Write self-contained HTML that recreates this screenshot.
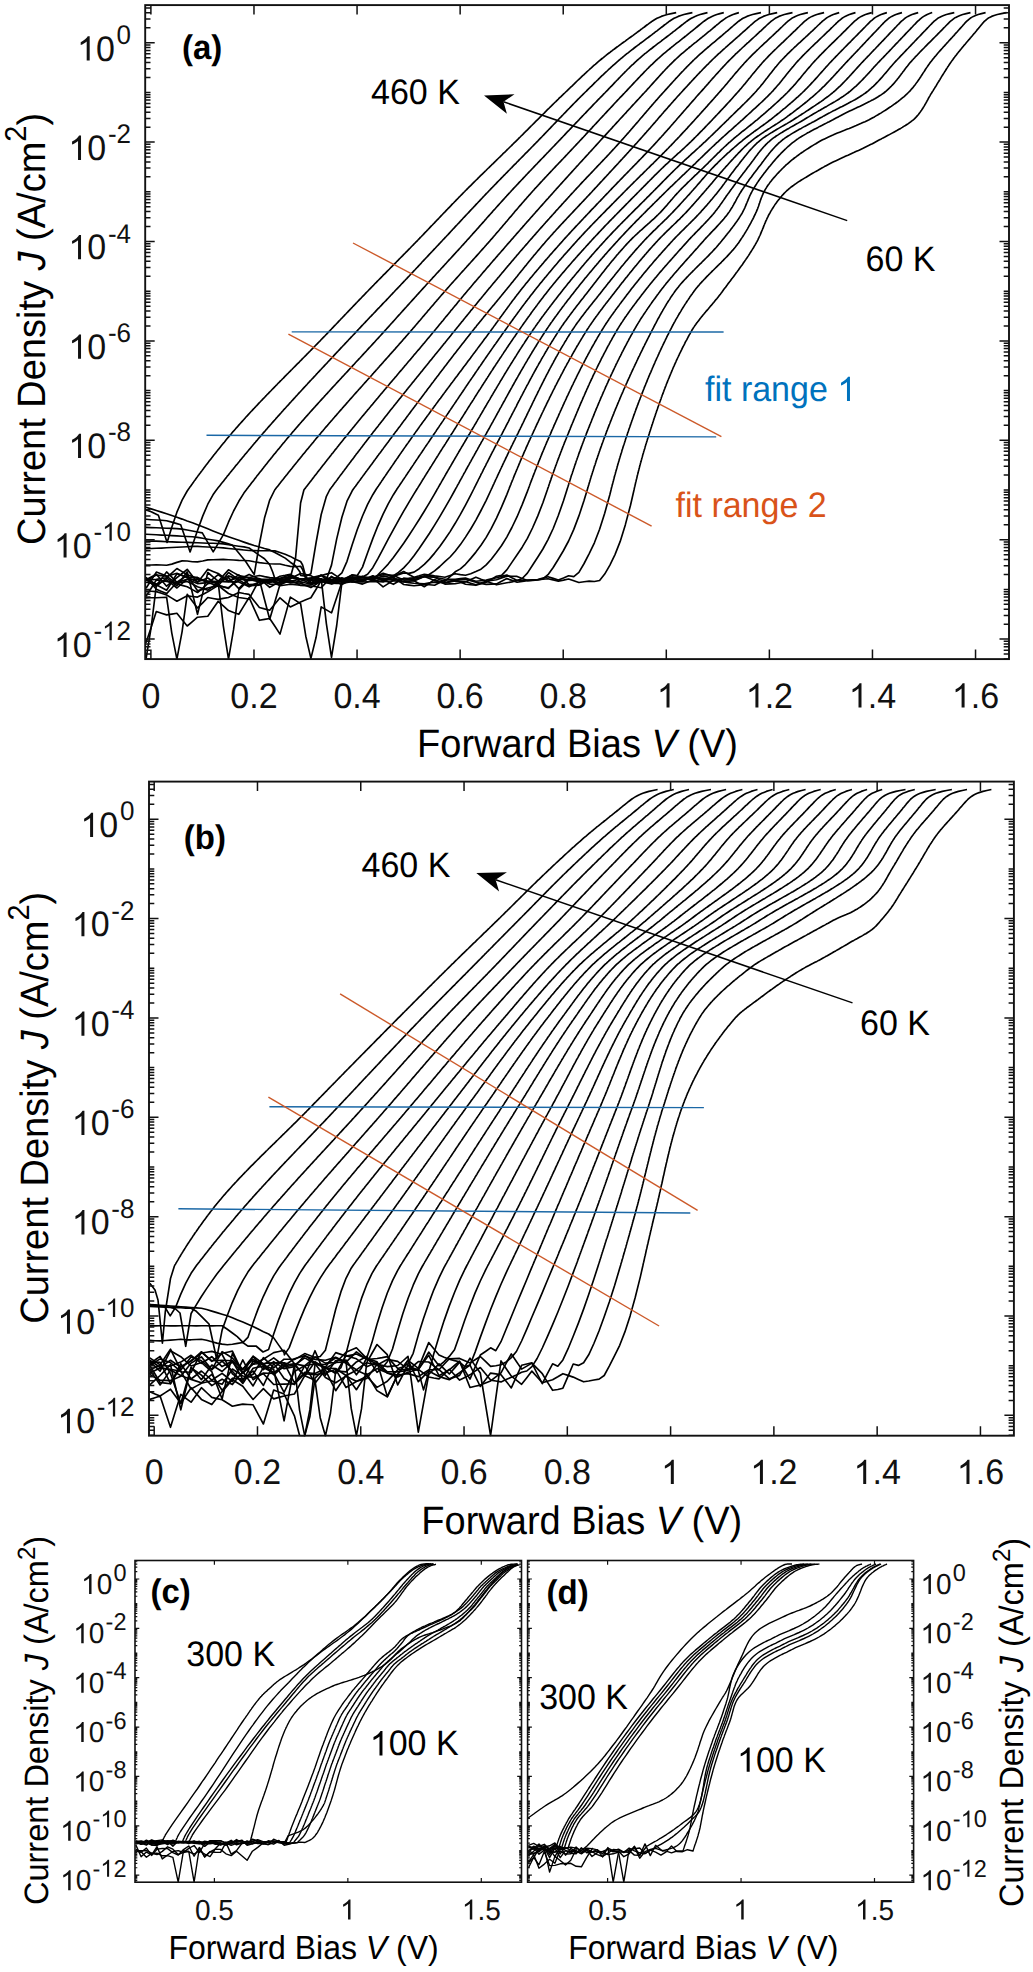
<!DOCTYPE html><html><head><meta charset="utf-8"><style>html,body{margin:0;padding:0;background:#fff;}svg{display:block}</style></head><body>
<svg width="1033" height="1972" viewBox="0 0 1033 1972" font-family='"Liberation Sans", sans-serif' fill="#000" text-rendering="geometricPrecision" style="font-kerning:none;white-space:pre">
<rect width="1033" height="1972" fill="#fff"/>
<defs><clipPath id="ca"><rect x="145.2" y="4.1" width="863.8" height="656"/></clipPath><clipPath id="cb"><rect x="149" y="780.6" width="864.9" height="656.1"/></clipPath><clipPath id="cc"><rect x="135" y="1559.5" width="386.5" height="323.7"/></clipPath><clipPath id="cd"><rect x="527.6" y="1559.5" width="386" height="323.7"/></clipPath></defs>
<g clip-path="url(#ca)">
<g fill="none" stroke="#000" stroke-width="1.65" stroke-linejoin="round">
<path d="M146 510L151.2 511.7L156.3 514.2L158.4 515.2L167.1 542.5L171.8 527.2L176.9 512.2L182.1 500.1L187.2 491L187.9 490L188.6 489L189.3 488.1L189.9 487.1L190.6 486.2L191.3 485.2L192 484.3L192.7 483.3L193.4 482.3L194 481.4L194.7 480.4L195.4 479.5L196.1 478.5L196.8 477.6L197.5 476.6L198.2 475.6L198.9 474.7L199.6 473.7L200.4 472.8L201.1 471.8L201.8 470.9L202.5 469.9L203.2 469L203.9 468L204.7 467L205.4 466.1L206.1 465.1L206.8 464.2L207.6 463.2L208.3 462.3L209 461.3L209.8 460.3L210.5 459.4L211.3 458.4L212 457.5L212.8 456.5L213.5 455.6L214.3 454.6L215 453.6L215.8 452.7L216.5 451.7L217.3 450.8L218.1 449.8L218.8 448.9L219.6 447.9L220.4 446.9L221.1 446L221.9 445L222.7 444.1L223.5 443.1L224.3 442.2L225.1 441.2L225.8 440.3L226.6 439.3L227.4 438.3L228.2 437.4L229 436.4L229.8 435.5L230.7 434.5L231.5 433.6L232.3 432.6L233.1 431.6L233.9 430.7L234.8 429.7L235.6 428.8L236.4 427.8L237.3 426.9L238.1 425.9L239 424.9L239.8 424L240.7 423L241.5 422.1L242.4 421.1L243.2 420.2L244.1 419.2L245 418.2L245.8 417.3L246.7 416.3L247.6 415.4L248.5 414.4L249.3 413.5L250.2 412.5L251.1 411.5L252 410.6L252.9 409.6L253.8 408.7L254.7 407.7L255.6 406.8L256.5 405.8L257.4 404.9L258.3 403.9L259.2 402.9L260.1 402L261 401L261.9 400.1L262.8 399.1L263.8 398.2L264.7 397.2L265.6 396.2L266.5 395.3L267.4 394.3L268.4 393.4L269.3 392.4L270.2 391.5L271.2 390.5L272.1 389.5L273 388.6L274 387.6L274.9 386.7L275.8 385.7L276.8 384.8L277.7 383.8L278.6 382.8L279.6 381.9L280.5 380.9L281.5 380L282.4 379L283.4 378.1L284.3 377.1L285.2 376.2L286.2 375.2L287.1 374.2L288.1 373.3L289 372.3L290 371.4L290.9 370.4L291.9 369.5L292.8 368.5L293.8 367.5L294.7 366.6L295.7 365.6L296.6 364.7L297.6 363.7L298.5 362.8L299.5 361.8L300.4 360.8L301.4 359.9L302.3 358.9L303.2 358L304.2 357L305.1 356.1L306.1 355.1L307 354.1L308 353.2L308.9 352.2L309.9 351.3L310.8 350.3L311.7 349.4L312.7 348.4L313.6 347.4L314.6 346.5L315.5 345.5L316.4 344.6L317.4 343.6L318.3 342.7L319.2 341.7L320.2 340.8L321.1 339.8L322 338.8L322.9 337.9L323.9 336.9L324.8 336L325.7 335L326.6 334.1L327.5 333.1L328.5 332.1L329.4 331.2L330.3 330.2L331.2 329.3L332.1 328.3L333 327.4L333.9 326.4L334.9 325.4L335.8 324.5L336.7 323.5L337.6 322.6L338.5 321.6L339.4 320.7L340.3 319.7L341.2 318.7L342.2 317.8L343.1 316.8L344 315.9L344.9 314.9L345.8 314L346.7 313L347.6 312.1L348.5 311.1L349.5 310.1L350.4 309.2L351.3 308.2L352.2 307.3L353.1 306.3L354 305.4L355 304.4L355.9 303.4L356.8 302.5L357.7 301.5L358.6 300.6L359.5 299.6L360.5 298.7L361.4 297.7L362.3 296.7L363.2 295.8L364.2 294.8L365.1 293.9L366 292.9L366.9 292L367.9 291L368.8 290L369.7 289.1L370.7 288.1L371.6 287.2L372.5 286.2L373.5 285.3L374.4 284.3L375.3 283.3L376.3 282.4L377.2 281.4L378.1 280.5L379.1 279.5L380 278.6L381 277.6L381.9 276.7L382.8 275.7L383.8 274.7L384.7 273.8L385.7 272.8L386.6 271.9L387.6 270.9L388.5 270L389.5 269L390.4 268L391.3 267.1L392.3 266.1L393.2 265.2L394.2 264.2L395.1 263.3L396.1 262.3L397 261.3L398 260.4L398.9 259.4L399.8 258.5L400.8 257.5L401.7 256.6L402.7 255.6L403.6 254.6L404.6 253.7L405.5 252.7L406.4 251.8L407.4 250.8L408.3 249.9L409.3 248.9L410.2 248L411.1 247L412.1 246L413 245.1L413.9 244.1L414.9 243.2L415.8 242.2L416.7 241.3L417.7 240.3L418.6 239.3L419.5 238.4L420.4 237.4L421.4 236.5L422.3 235.5L423.2 234.6L424.1 233.6L425 232.6L426 231.7L426.9 230.7L427.8 229.8L428.7 228.8L429.6 227.9L430.5 226.9L431.4 225.9L432.4 225L433.3 224L434.2 223.1L435.1 222.1L436 221.2L436.9 220.2L437.8 219.3L438.8 218.3L439.7 217.3L440.6 216.4L441.5 215.4L442.4 214.5L443.3 213.5L444.2 212.6L445.2 211.6L446.1 210.6L447 209.7L447.9 208.7L448.8 207.8L449.8 206.8L450.7 205.9L451.6 204.9L452.5 203.9L453.5 203L454.4 202L455.3 201.1L456.2 200.1L457.2 199.2L458.1 198.2L459 197.2L460 196.3L460.9 195.3L461.9 194.4L462.8 193.4L463.7 192.5L464.7 191.5L465.6 190.5L466.6 189.6L467.5 188.6L468.5 187.7L469.5 186.7L470.4 185.8L471.4 184.8L472.3 183.9L473.3 182.9L474.3 181.9L475.2 181L476.2 180L477.2 179.1L478.1 178.1L479.1 177.2L480.1 176.2L481.1 175.2L482 174.3L483 173.3L484 172.4L485 171.4L486 170.5L486.9 169.5L487.9 168.5L488.9 167.6L489.9 166.6L490.9 165.7L491.8 164.7L492.8 163.8L493.8 162.8L494.8 161.8L495.8 160.9L496.8 159.9L497.7 159L498.7 158L499.7 157.1L500.7 156.1L501.7 155.2L502.6 154.2L503.6 153.2L504.6 152.3L505.6 151.3L506.6 150.4L507.5 149.4L508.5 148.5L509.5 147.5L510.5 146.5L511.5 145.6L512.4 144.6L513.4 143.7L514.4 142.7L515.3 141.8L516.3 140.8L517.3 139.8L518.3 138.9L519.2 137.9L520.2 137L521.1 136L522.1 135.1L523.1 134.1L524 133.1L525 132.2L526 131.2L526.9 130.3L527.9 129.3L528.8 128.4L529.8 127.4L530.7 126.4L531.7 125.5L532.7 124.5L533.6 123.6L534.6 122.6L535.5 121.7L536.5 120.7L537.4 119.8L538.4 118.8L539.4 117.8L540.3 116.9L541.3 115.9L542.2 115L543.2 114L544.2 113.1L545.1 112.1L546.1 111.1L547 110.2L548 109.2L549 108.3L549.9 107.3L550.9 106.4L551.9 105.4L552.9 104.4L553.8 103.5L554.8 102.5L555.8 101.6L556.8 100.6L557.8 99.7L558.7 98.7L559.7 97.7L560.7 96.8L561.7 95.8L562.7 94.9L563.7 93.9L564.7 93L565.7 92L566.7 91.1L567.7 90.1L568.7 89.1L569.7 88.2L570.7 87.2L571.7 86.3L572.7 85.3L573.7 84.4L574.7 83.4L575.7 82.4L576.6 81.5L577.6 80.5L578.6 79.6L579.7 78.6L580.7 77.7L581.7 76.7L582.7 75.7L583.7 74.8L584.7 73.8L585.8 72.9L586.8 71.9L587.8 71L588.9 70L589.9 69L591 68.1L592.1 67.1L593.1 66.2L594.2 65.2L595.3 64.3L596.4 63.3L597.5 62.3L598.6 61.4L599.8 60.4L600.9 59.5L602.1 58.5L603.3 57.6L604.5 56.6L605.7 55.7L606.9 54.7L608.1 53.7L609.4 52.8L610.6 51.8L611.9 50.9L613.1 49.9L614.4 49L615.7 48L617 47L618.3 46.1L619.6 45.1L620.9 44.2L622.2 43.2L623.5 42.3L624.9 41.3L626.2 40.3L627.5 39.4L628.8 38.4L630.1 37.5L631.5 36.5L632.8 35.6L634.1 34.6L635.4 33.6L636.7 32.7L638 31.7L639.3 30.8L640.5 29.8L641.8 28.9L643.1 27.9L644.4 27L645.6 26L646.9 25L648.2 24.1L649.5 23.1L650.8 22.2L652.2 21.2L653.7 20.3L655.3 19.3L657 18.3L659 17.4L661.3 16.4L664 15.5L667.3 14.5L671.3 13.6L676.2 12.6"/>
<path d="M146 519.3L151.2 519.7L156.3 520L161.5 520.3L166.6 520.7L171.8 522.1L176.9 523.6L180.7 524.7L190.1 552L197.5 530.4L202.7 516.1L207.8 504.2L213 494.8L216.4 490L217.2 489L217.9 488.1L218.7 487.1L219.4 486.2L220.2 485.2L220.9 484.3L221.7 483.3L222.5 482.3L223.2 481.4L224 480.4L224.7 479.5L225.5 478.5L226.3 477.6L227 476.6L227.8 475.6L228.6 474.7L229.3 473.7L230.1 472.8L230.9 471.8L231.7 470.9L232.4 469.9L233.2 469L234 468L234.8 467L235.5 466.1L236.3 465.1L237.1 464.2L237.9 463.2L238.7 462.3L239.5 461.3L240.2 460.3L241 459.4L241.8 458.4L242.6 457.5L243.4 456.5L244.2 455.6L245 454.6L245.8 453.6L246.6 452.7L247.4 451.7L248.2 450.8L249 449.8L249.8 448.9L250.6 447.9L251.4 446.9L252.2 446L253 445L253.8 444.1L254.6 443.1L255.4 442.2L256.2 441.2L257.1 440.3L257.9 439.3L258.7 438.3L259.5 437.4L260.3 436.4L261.2 435.5L262 434.5L262.8 433.6L263.6 432.6L264.5 431.6L265.3 430.7L266.1 429.7L267 428.8L267.8 427.8L268.6 426.9L269.5 425.9L270.3 424.9L271.2 424L272 423L272.8 422.1L273.7 421.1L274.5 420.2L275.4 419.2L276.2 418.2L277.1 417.3L277.9 416.3L278.8 415.4L279.7 414.4L280.5 413.5L281.4 412.5L282.2 411.5L283.1 410.6L283.9 409.6L284.8 408.7L285.7 407.7L286.5 406.8L287.4 405.8L288.3 404.9L289.1 403.9L290 402.9L290.9 402L291.7 401L292.6 400.1L293.5 399.1L294.4 398.2L295.2 397.2L296.1 396.2L297 395.3L297.9 394.3L298.7 393.4L299.6 392.4L300.5 391.5L301.4 390.5L302.3 389.5L303.1 388.6L304 387.6L304.9 386.7L305.8 385.7L306.7 384.8L307.6 383.8L308.4 382.8L309.3 381.9L310.2 380.9L311.1 380L312 379L312.9 378.1L313.8 377.1L314.7 376.2L315.6 375.2L316.4 374.2L317.3 373.3L318.2 372.3L319.1 371.4L320 370.4L320.9 369.5L321.8 368.5L322.7 367.5L323.6 366.6L324.5 365.6L325.4 364.7L326.3 363.7L327.2 362.8L328.1 361.8L329 360.8L329.9 359.9L330.8 358.9L331.7 358L332.5 357L333.4 356.1L334.3 355.1L335.2 354.1L336.1 353.2L337 352.2L337.9 351.3L338.8 350.3L339.7 349.4L340.6 348.4L341.5 347.4L342.4 346.5L343.3 345.5L344.2 344.6L345.1 343.6L346 342.7L346.9 341.7L347.8 340.8L348.7 339.8L349.6 338.8L350.5 337.9L351.4 336.9L352.3 336L353.2 335L354.1 334.1L355 333.1L355.9 332.1L356.8 331.2L357.7 330.2L358.6 329.3L359.5 328.3L360.4 327.4L361.3 326.4L362.2 325.4L363.1 324.5L364 323.5L364.9 322.6L365.8 321.6L366.7 320.7L367.6 319.7L368.5 318.7L369.4 317.8L370.3 316.8L371.3 315.9L372.2 314.9L373.1 314L374 313L374.9 312.1L375.8 311.1L376.7 310.1L377.6 309.2L378.6 308.2L379.5 307.3L380.4 306.3L381.3 305.4L382.2 304.4L383.1 303.4L384 302.5L385 301.5L385.9 300.6L386.8 299.6L387.7 298.7L388.6 297.7L389.5 296.7L390.4 295.8L391.3 294.8L392.2 293.9L393.1 292.9L394 292L394.9 291L395.8 290L396.7 289.1L397.7 288.1L398.6 287.2L399.5 286.2L400.4 285.3L401.3 284.3L402.2 283.3L403.1 282.4L404 281.4L404.9 280.5L405.8 279.5L406.7 278.6L407.6 277.6L408.5 276.7L409.4 275.7L410.3 274.7L411.2 273.8L412.1 272.8L413 271.9L413.9 270.9L414.8 270L415.7 269L416.6 268L417.5 267.1L418.4 266.1L419.3 265.2L420.2 264.2L421.1 263.3L421.9 262.3L422.8 261.3L423.7 260.4L424.6 259.4L425.5 258.5L426.4 257.5L427.3 256.6L428.2 255.6L429.1 254.6L430 253.7L430.9 252.7L431.8 251.8L432.7 250.8L433.6 249.9L434.5 248.9L435.4 248L436.3 247L437.2 246L438.1 245.1L439 244.1L439.9 243.2L440.8 242.2L441.7 241.3L442.6 240.3L443.5 239.3L444.4 238.4L445.3 237.4L446.2 236.5L447.1 235.5L448 234.6L448.9 233.6L449.8 232.6L450.6 231.7L451.5 230.7L452.4 229.8L453.3 228.8L454.2 227.9L455.1 226.9L456 225.9L456.9 225L457.8 224L458.7 223.1L459.6 222.1L460.5 221.2L461.3 220.2L462.2 219.3L463.1 218.3L464 217.3L464.9 216.4L465.8 215.4L466.7 214.5L467.6 213.5L468.5 212.6L469.4 211.6L470.3 210.6L471.2 209.7L472.1 208.7L473 207.8L473.9 206.8L474.8 205.9L475.7 204.9L476.6 203.9L477.5 203L478.4 202L479.3 201.1L480.2 200.1L481.1 199.2L482 198.2L482.9 197.2L483.8 196.3L484.7 195.3L485.6 194.4L486.5 193.4L487.5 192.5L488.4 191.5L489.3 190.5L490.2 189.6L491.1 188.6L492.1 187.7L493 186.7L493.9 185.8L494.8 184.8L495.8 183.9L496.7 182.9L497.6 181.9L498.5 181L499.5 180L500.4 179.1L501.3 178.1L502.3 177.2L503.2 176.2L504.2 175.2L505.1 174.3L506 173.3L507 172.4L507.9 171.4L508.8 170.5L509.8 169.5L510.7 168.5L511.7 167.6L512.6 166.6L513.5 165.7L514.5 164.7L515.4 163.8L516.4 162.8L517.3 161.8L518.3 160.9L519.2 159.9L520.1 159L521.1 158L522 157.1L523 156.1L523.9 155.2L524.8 154.2L525.8 153.2L526.7 152.3L527.7 151.3L528.6 150.4L529.6 149.4L530.5 148.5L531.4 147.5L532.4 146.5L533.3 145.6L534.2 144.6L535.2 143.7L536.1 142.7L537 141.8L538 140.8L538.9 139.8L539.8 138.9L540.8 137.9L541.7 137L542.6 136L543.5 135.1L544.4 134.1L545.4 133.1L546.3 132.2L547.2 131.2L548.1 130.3L549 129.3L550 128.4L550.9 127.4L551.8 126.4L552.7 125.5L553.6 124.5L554.5 123.6L555.5 122.6L556.4 121.7L557.3 120.7L558.2 119.8L559.1 118.8L560 117.8L561 116.9L561.9 115.9L562.8 115L563.7 114L564.6 113.1L565.6 112.1L566.5 111.1L567.4 110.2L568.3 109.2L569.3 108.3L570.2 107.3L571.1 106.4L572.1 105.4L573 104.4L573.9 103.5L574.9 102.5L575.8 101.6L576.8 100.6L577.7 99.7L578.7 98.7L579.6 97.7L580.6 96.8L581.5 95.8L582.5 94.9L583.5 93.9L584.4 93L585.4 92L586.4 91.1L587.3 90.1L588.3 89.1L589.3 88.2L590.2 87.2L591.2 86.3L592.2 85.3L593.2 84.4L594.1 83.4L595.1 82.4L596.1 81.5L597.1 80.5L598.1 79.6L599 78.6L600 77.7L601 76.7L602 75.7L603 74.8L604 73.8L605 72.9L606.1 71.9L607.1 71L608.1 70L609.1 69L610.2 68.1L611.2 67.1L612.3 66.2L613.4 65.2L614.4 64.3L615.5 63.3L616.6 62.3L617.7 61.4L618.8 60.4L619.9 59.5L621 58.5L622.2 57.6L623.3 56.6L624.5 55.7L625.7 54.7L626.9 53.7L628.1 52.8L629.3 51.8L630.5 50.9L631.8 49.9L633 49L634.2 48L635.5 47L636.7 46.1L638 45.1L639.3 44.2L640.5 43.2L641.8 42.3L643.1 41.3L644.4 40.3L645.6 39.4L646.9 38.4L648.2 37.5L649.5 36.5L650.7 35.6L652 34.6L653.2 33.6L654.5 32.7L655.8 31.7L657 30.8L658.2 29.8L659.5 28.9L660.7 27.9L661.9 27L663.2 26L664.4 25L665.7 24.1L666.9 23.1L668.2 22.2L669.5 21.2L670.9 20.3L672.5 19.3L674.1 18.3L676 17.4L678.2 16.4L680.8 15.5L683.9 14.5L687.7 13.6L692.4 12.6"/>
<path d="M146 527.4L151.2 527.6L156.3 527.8L161.5 528L166.6 528.2L171.8 528.4L176.9 528.6L182.1 529.1L187.2 530L192.4 531L197.5 532L202.3 532.9L213.2 551.8L223.3 534.9L228.5 522.2L233.6 511L238.8 501.3L243.9 493.1L246.2 490L246.9 489L247.7 488.1L248.4 487.1L249.1 486.2L249.9 485.2L250.6 484.3L251.3 483.3L252.1 482.3L252.8 481.4L253.6 480.4L254.3 479.5L255 478.5L255.8 477.6L256.5 476.6L257.3 475.6L258 474.7L258.8 473.7L259.5 472.8L260.3 471.8L261 470.9L261.8 469.9L262.5 469L263.3 468L264 467L264.8 466.1L265.6 465.1L266.3 464.2L267.1 463.2L267.8 462.3L268.6 461.3L269.4 460.3L270.1 459.4L270.9 458.4L271.7 457.5L272.5 456.5L273.2 455.6L274 454.6L274.8 453.6L275.6 452.7L276.3 451.7L277.1 450.8L277.9 449.8L278.7 448.9L279.5 447.9L280.3 446.9L281.1 446L281.8 445L282.6 444.1L283.4 443.1L284.2 442.2L285 441.2L285.8 440.3L286.6 439.3L287.4 438.3L288.2 437.4L289 436.4L289.9 435.5L290.7 434.5L291.5 433.6L292.3 432.6L293.1 431.6L293.9 430.7L294.7 429.7L295.6 428.8L296.4 427.8L297.2 426.9L298 425.9L298.9 424.9L299.7 424L300.5 423L301.4 422.1L302.2 421.1L303.1 420.2L303.9 419.2L304.7 418.2L305.6 417.3L306.4 416.3L307.3 415.4L308.1 414.4L309 413.5L309.8 412.5L310.7 411.5L311.5 410.6L312.4 409.6L313.3 408.7L314.1 407.7L315 406.8L315.8 405.8L316.7 404.9L317.6 403.9L318.4 402.9L319.3 402L320.2 401L321 400.1L321.9 399.1L322.8 398.2L323.7 397.2L324.5 396.2L325.4 395.3L326.3 394.3L327.2 393.4L328 392.4L328.9 391.5L329.8 390.5L330.7 389.5L331.5 388.6L332.4 387.6L333.3 386.7L334.2 385.7L335.1 384.8L336 383.8L336.8 382.8L337.7 381.9L338.6 380.9L339.5 380L340.4 379L341.3 378.1L342.1 377.1L343 376.2L343.9 375.2L344.8 374.2L345.7 373.3L346.6 372.3L347.5 371.4L348.4 370.4L349.2 369.5L350.1 368.5L351 367.5L351.9 366.6L352.8 365.6L353.7 364.7L354.6 363.7L355.4 362.8L356.3 361.8L357.2 360.8L358.1 359.9L359 358.9L359.9 358L360.8 357L361.7 356.1L362.5 355.1L363.4 354.1L364.3 353.2L365.2 352.2L366.1 351.3L367 350.3L367.8 349.4L368.7 348.4L369.6 347.4L370.5 346.5L371.4 345.5L372.2 344.6L373.1 343.6L374 342.7L374.9 341.7L375.7 340.8L376.6 339.8L377.5 338.8L378.4 337.9L379.2 336.9L380.1 336L381 335L381.8 334.1L382.7 333.1L383.6 332.1L384.4 331.2L385.3 330.2L386.2 329.3L387 328.3L387.9 327.4L388.8 326.4L389.6 325.4L390.5 324.5L391.3 323.5L392.2 322.6L393.1 321.6L393.9 320.7L394.8 319.7L395.7 318.7L396.5 317.8L397.4 316.8L398.2 315.9L399.1 314.9L400 314L400.8 313L401.7 312.1L402.5 311.1L403.4 310.1L404.3 309.2L405.1 308.2L406 307.3L406.9 306.3L407.7 305.4L408.6 304.4L409.4 303.4L410.3 302.5L411.2 301.5L412 300.6L412.9 299.6L413.8 298.7L414.6 297.7L415.5 296.7L416.4 295.8L417.2 294.8L418.1 293.9L419 292.9L419.8 292L420.7 291L421.6 290L422.4 289.1L423.3 288.1L424.2 287.2L425.1 286.2L425.9 285.3L426.8 284.3L427.7 283.3L428.6 282.4L429.4 281.4L430.3 280.5L431.2 279.5L432.1 278.6L432.9 277.6L433.8 276.7L434.7 275.7L435.6 274.7L436.4 273.8L437.3 272.8L438.2 271.9L439.1 270.9L440 270L440.8 269L441.7 268L442.6 267.1L443.5 266.1L444.3 265.2L445.2 264.2L446.1 263.3L447 262.3L447.9 261.3L448.7 260.4L449.6 259.4L450.5 258.5L451.4 257.5L452.2 256.6L453.1 255.6L454 254.6L454.9 253.7L455.7 252.7L456.6 251.8L457.5 250.8L458.4 249.9L459.2 248.9L460.1 248L461 247L461.8 246L462.7 245.1L463.6 244.1L464.4 243.2L465.3 242.2L466.2 241.3L467 240.3L467.9 239.3L468.8 238.4L469.6 237.4L470.5 236.5L471.3 235.5L472.2 234.6L473 233.6L473.9 232.6L474.8 231.7L475.6 230.7L476.5 229.8L477.3 228.8L478.2 227.9L479 226.9L479.9 225.9L480.7 225L481.6 224L482.4 223.1L483.3 222.1L484.1 221.2L484.9 220.2L485.8 219.3L486.6 218.3L487.5 217.3L488.3 216.4L489.2 215.4L490 214.5L490.9 213.5L491.7 212.6L492.6 211.6L493.4 210.6L494.3 209.7L495.2 208.7L496 207.8L496.9 206.8L497.7 205.9L498.6 204.9L499.4 203.9L500.3 203L501.2 202L502 201.1L502.9 200.1L503.8 199.2L504.6 198.2L505.5 197.2L506.4 196.3L507.2 195.3L508.1 194.4L509 193.4L509.9 192.5L510.8 191.5L511.6 190.5L512.5 189.6L513.4 188.6L514.3 187.7L515.2 186.7L516.1 185.8L517 184.8L517.9 183.9L518.8 182.9L519.7 181.9L520.6 181L521.5 180L522.4 179.1L523.3 178.1L524.2 177.2L525.1 176.2L526 175.2L526.9 174.3L527.8 173.3L528.7 172.4L529.6 171.4L530.6 170.5L531.5 169.5L532.4 168.5L533.3 167.6L534.2 166.6L535.1 165.7L536 164.7L537 163.8L537.9 162.8L538.8 161.8L539.7 160.9L540.6 159.9L541.5 159L542.5 158L543.4 157.1L544.3 156.1L545.2 155.2L546.1 154.2L547 153.2L548 152.3L548.9 151.3L549.8 150.4L550.7 149.4L551.6 148.5L552.5 147.5L553.5 146.5L554.4 145.6L555.3 144.6L556.2 143.7L557.1 142.7L558 141.8L558.9 140.8L559.9 139.8L560.8 138.9L561.7 137.9L562.6 137L563.5 136L564.4 135.1L565.3 134.1L566.2 133.1L567.1 132.2L568.1 131.2L569 130.3L569.9 129.3L570.8 128.4L571.7 127.4L572.6 126.4L573.5 125.5L574.4 124.5L575.3 123.6L576.2 122.6L577.2 121.7L578.1 120.7L579 119.8L579.9 118.8L580.8 117.8L581.7 116.9L582.6 115.9L583.5 115L584.4 114L585.4 113.1L586.3 112.1L587.2 111.1L588.1 110.2L589 109.2L589.9 108.3L590.9 107.3L591.8 106.4L592.7 105.4L593.6 104.4L594.5 103.5L595.5 102.5L596.4 101.6L597.3 100.6L598.2 99.7L599.2 98.7L600.1 97.7L601 96.8L602 95.8L602.9 94.9L603.8 93.9L604.8 93L605.7 92L606.6 91.1L607.6 90.1L608.5 89.1L609.4 88.2L610.3 87.2L611.2 86.3L612.2 85.3L613.1 84.4L614 83.4L614.9 82.4L615.8 81.5L616.7 80.5L617.7 79.6L618.6 78.6L619.5 77.7L620.4 76.7L621.3 75.7L622.3 74.8L623.2 73.8L624.2 72.9L625.1 71.9L626.1 71L627 70L628 69L629 68.1L629.9 67.1L630.9 66.2L631.9 65.2L633 64.3L634 63.3L635 62.3L636.1 61.4L637.1 60.4L638.2 59.5L639.3 58.5L640.4 57.6L641.5 56.6L642.6 55.7L643.8 54.7L644.9 53.7L646.1 52.8L647.3 51.8L648.5 50.9L649.7 49.9L650.9 49L652.2 48L653.4 47L654.6 46.1L655.9 45.1L657.1 44.2L658.4 43.2L659.6 42.3L660.9 41.3L662.1 40.3L663.4 39.4L664.7 38.4L665.9 37.5L667.2 36.5L668.4 35.6L669.7 34.6L670.9 33.6L672.2 32.7L673.4 31.7L674.6 30.8L675.8 29.8L677 28.9L678.3 27.9L679.5 27L680.7 26L681.9 25L683.1 24.1L684.3 23.1L685.6 22.2L686.9 21.2L688.2 20.3L689.7 19.3L691.3 18.3L693 17.4L695 16.4L697.3 15.5L700.1 14.5L703.5 13.6L707.5 12.6"/>
<path d="M146 534.2L151.2 534.5L156.3 534.8L161.5 535.1L166.6 535.3L171.8 535.6L176.9 535.9L182.1 536.2L187.2 536.5L192.4 536.8L197.5 537.4L202.7 538.3L207.8 539.2L213 540L218.2 540.9L223.3 542.4L228.5 543.9L232.2 545.1L245.7 561.5L254.2 574.6L259.4 544L264.5 518.1L269.7 500.1L274.7 490L275.5 489L276.2 488.1L277 487.1L277.7 486.2L278.5 485.2L279.2 484.3L280 483.3L280.7 482.3L281.5 481.4L282.2 480.4L283 479.5L283.8 478.5L284.5 477.6L285.3 476.6L286 475.6L286.8 474.7L287.6 473.7L288.3 472.8L289.1 471.8L289.9 470.9L290.6 469.9L291.4 469L292.2 468L292.9 467L293.7 466.1L294.5 465.1L295.2 464.2L296 463.2L296.8 462.3L297.6 461.3L298.3 460.3L299.1 459.4L299.9 458.4L300.7 457.5L301.4 456.5L302.2 455.6L303 454.6L303.8 453.6L304.6 452.7L305.4 451.7L306.1 450.8L306.9 449.8L307.7 448.9L308.5 447.9L309.3 446.9L310.1 446L310.9 445L311.7 444.1L312.5 443.1L313.3 442.2L314 441.2L314.8 440.3L315.6 439.3L316.4 438.3L317.2 437.4L318 436.4L318.8 435.5L319.7 434.5L320.5 433.6L321.3 432.6L322.1 431.6L322.9 430.7L323.7 429.7L324.5 428.8L325.3 427.8L326.1 426.9L327 425.9L327.8 424.9L328.6 424L329.4 423L330.3 422.1L331.1 421.1L331.9 420.2L332.7 419.2L333.6 418.2L334.4 417.3L335.2 416.3L336.1 415.4L336.9 414.4L337.7 413.5L338.6 412.5L339.4 411.5L340.2 410.6L341.1 409.6L341.9 408.7L342.7 407.7L343.6 406.8L344.4 405.8L345.3 404.9L346.1 403.9L347 402.9L347.8 402L348.6 401L349.5 400.1L350.3 399.1L351.2 398.2L352 397.2L352.9 396.2L353.7 395.3L354.6 394.3L355.4 393.4L356.3 392.4L357.1 391.5L358 390.5L358.8 389.5L359.7 388.6L360.6 387.6L361.4 386.7L362.3 385.7L363.1 384.8L364 383.8L364.8 382.8L365.7 381.9L366.5 380.9L367.4 380L368.2 379L369.1 378.1L370 377.1L370.8 376.2L371.7 375.2L372.5 374.2L373.4 373.3L374.2 372.3L375.1 371.4L375.9 370.4L376.8 369.5L377.7 368.5L378.5 367.5L379.4 366.6L380.2 365.6L381.1 364.7L381.9 363.7L382.8 362.8L383.6 361.8L384.5 360.8L385.3 359.9L386.2 358.9L387 358L387.9 357L388.7 356.1L389.6 355.1L390.4 354.1L391.3 353.2L392.1 352.2L393 351.3L393.8 350.3L394.7 349.4L395.5 348.4L396.4 347.4L397.2 346.5L398.1 345.5L398.9 344.6L399.7 343.6L400.6 342.7L401.4 341.7L402.3 340.8L403.1 339.8L403.9 338.8L404.8 337.9L405.6 336.9L406.4 336L407.3 335L408.1 334.1L408.9 333.1L409.8 332.1L410.6 331.2L411.4 330.2L412.3 329.3L413.1 328.3L413.9 327.4L414.7 326.4L415.5 325.4L416.4 324.5L417.2 323.5L418 322.6L418.8 321.6L419.6 320.7L420.5 319.7L421.3 318.7L422.1 317.8L422.9 316.8L423.7 315.9L424.5 314.9L425.3 314L426.2 313L427 312.1L427.8 311.1L428.6 310.1L429.4 309.2L430.2 308.2L431 307.3L431.9 306.3L432.7 305.4L433.5 304.4L434.3 303.4L435.1 302.5L436 301.5L436.8 300.6L437.6 299.6L438.4 298.7L439.2 297.7L440.1 296.7L440.9 295.8L441.7 294.8L442.6 293.9L443.4 292.9L444.2 292L445.1 291L445.9 290L446.8 289.1L447.6 288.1L448.4 287.2L449.3 286.2L450.1 285.3L451 284.3L451.8 283.3L452.7 282.4L453.5 281.4L454.4 280.5L455.3 279.5L456.1 278.6L457 277.6L457.8 276.7L458.7 275.7L459.6 274.7L460.4 273.8L461.3 272.8L462.1 271.9L463 270.9L463.9 270L464.7 269L465.6 268L466.5 267.1L467.3 266.1L468.2 265.2L469 264.2L469.9 263.3L470.8 262.3L471.6 261.3L472.5 260.4L473.4 259.4L474.2 258.5L475.1 257.5L475.9 256.6L476.8 255.6L477.7 254.6L478.5 253.7L479.4 252.7L480.2 251.8L481.1 250.8L481.9 249.9L482.8 248.9L483.6 248L484.5 247L485.3 246L486.2 245.1L487 244.1L487.9 243.2L488.7 242.2L489.6 241.3L490.4 240.3L491.2 239.3L492.1 238.4L492.9 237.4L493.7 236.5L494.5 235.5L495.4 234.6L496.2 233.6L497 232.6L497.8 231.7L498.7 230.7L499.5 229.8L500.3 228.8L501.1 227.9L501.9 226.9L502.7 225.9L503.5 225L504.4 224L505.2 223.1L506 222.1L506.8 221.2L507.6 220.2L508.4 219.3L509.2 218.3L510 217.3L510.9 216.4L511.7 215.4L512.5 214.5L513.3 213.5L514.1 212.6L514.9 211.6L515.7 210.6L516.6 209.7L517.4 208.7L518.2 207.8L519 206.8L519.8 205.9L520.7 204.9L521.5 203.9L522.3 203L523.2 202L524 201.1L524.8 200.1L525.7 199.2L526.5 198.2L527.3 197.2L528.2 196.3L529 195.3L529.9 194.4L530.7 193.4L531.6 192.5L532.4 191.5L533.3 190.5L534.2 189.6L535 188.6L535.9 187.7L536.8 186.7L537.7 185.8L538.5 184.8L539.4 183.9L540.3 182.9L541.2 181.9L542.1 181L542.9 180L543.8 179.1L544.7 178.1L545.6 177.2L546.5 176.2L547.4 175.2L548.3 174.3L549.2 173.3L550.1 172.4L551 171.4L551.9 170.5L552.8 169.5L553.7 168.5L554.6 167.6L555.5 166.6L556.4 165.7L557.3 164.7L558.2 163.8L559.1 162.8L560.1 161.8L561 160.9L561.9 159.9L562.8 159L563.7 158L564.6 157.1L565.5 156.1L566.4 155.2L567.3 154.2L568.2 153.2L569.1 152.3L570 151.3L570.9 150.4L571.8 149.4L572.7 148.5L573.6 147.5L574.5 146.5L575.4 145.6L576.3 144.6L577.2 143.7L578.1 142.7L579 141.8L579.9 140.8L580.8 139.8L581.7 138.9L582.6 137.9L583.5 137L584.4 136L585.3 135.1L586.1 134.1L587 133.1L587.9 132.2L588.8 131.2L589.7 130.3L590.6 129.3L591.5 128.4L592.3 127.4L593.2 126.4L594.1 125.5L595 124.5L595.9 123.6L596.8 122.6L597.7 121.7L598.5 120.7L599.4 119.8L600.3 118.8L601.2 117.8L602.1 116.9L603 115.9L603.9 115L604.7 114L605.6 113.1L606.5 112.1L607.4 111.1L608.3 110.2L609.2 109.2L610.1 108.3L611 107.3L611.9 106.4L612.8 105.4L613.6 104.4L614.5 103.5L615.4 102.5L616.3 101.6L617.2 100.6L618.1 99.7L619 98.7L619.9 97.7L620.8 96.8L621.8 95.8L622.7 94.9L623.6 93.9L624.5 93L625.4 92L626.3 91.1L627.2 90.1L628.1 89.1L629 88.2L629.9 87.2L630.8 86.3L631.7 85.3L632.6 84.4L633.5 83.4L634.4 82.4L635.3 81.5L636.2 80.5L637.1 79.6L638 78.6L638.9 77.7L639.8 76.7L640.7 75.7L641.6 74.8L642.6 73.8L643.5 72.9L644.4 71.9L645.3 71L646.3 70L647.2 69L648.2 68.1L649.1 67.1L650.1 66.2L651.1 65.2L652.1 64.3L653.1 63.3L654.1 62.3L655.1 61.4L656.1 60.4L657.2 59.5L658.2 58.5L659.3 57.6L660.4 56.6L661.5 55.7L662.6 54.7L663.7 53.7L664.8 52.8L666 51.8L667.1 50.9L668.3 49.9L669.5 49L670.7 48L671.8 47L673 46.1L674.2 45.1L675.4 44.2L676.6 43.2L677.8 42.3L679.1 41.3L680.3 40.3L681.5 39.4L682.7 38.4L683.9 37.5L685.1 36.5L686.3 35.6L687.5 34.6L688.7 33.6L689.9 32.7L691.1 31.7L692.2 30.8L693.4 29.8L694.6 28.9L695.8 27.9L696.9 27L698.1 26L699.3 25L700.4 24.1L701.6 23.1L702.8 22.2L704.1 21.2L705.4 20.3L706.8 19.3L708.3 18.3L710 17.4L711.9 16.4L714.1 15.5L716.8 14.5L719.9 13.6L723.8 12.6"/>
<path d="M146 541L151.2 541.1L156.3 541.1L161.5 541.4L166.6 541.7L171.8 541.9L176.9 542.1L182.1 542.3L187.2 542.4L192.4 542.6L197.5 542.8L202.7 543L207.8 543.2L213 543.3L218.2 543.5L223.3 543.9L228.5 544.7L233.6 545.5L238.8 546.2L243.9 546.9L249.1 548L254.2 551.7L259.4 555.4L264.5 558.8L269.7 564.6L272.8 572.2L274.9 578.7L280 580.1L285.2 578.9L290.3 577.7L295.5 558.5L300.6 503L303.9 490L304.6 489L305.4 488.1L306.1 487.1L306.8 486.2L307.6 485.2L308.3 484.3L309.1 483.3L309.8 482.3L310.5 481.4L311.3 480.4L312 479.5L312.7 478.5L313.5 477.6L314.2 476.6L315 475.6L315.7 474.7L316.5 473.7L317.2 472.8L317.9 471.8L318.7 470.9L319.4 469.9L320.2 469L320.9 468L321.7 467L322.4 466.1L323.2 465.1L323.9 464.2L324.7 463.2L325.4 462.3L326.2 461.3L326.9 460.3L327.7 459.4L328.4 458.4L329.2 457.5L329.9 456.5L330.7 455.6L331.4 454.6L332.2 453.6L333 452.7L333.7 451.7L334.5 450.8L335.2 449.8L336 448.9L336.8 447.9L337.5 446.9L338.3 446L339 445L339.8 444.1L340.6 443.1L341.3 442.2L342.1 441.2L342.9 440.3L343.6 439.3L344.4 438.3L345.2 437.4L346 436.4L346.7 435.5L347.5 434.5L348.3 433.6L349.1 432.6L349.8 431.6L350.6 430.7L351.4 429.7L352.2 428.8L353 427.8L353.7 426.9L354.5 425.9L355.3 424.9L356.1 424L356.9 423L357.7 422.1L358.5 421.1L359.2 420.2L360 419.2L360.8 418.2L361.6 417.3L362.4 416.3L363.2 415.4L364 414.4L364.8 413.5L365.6 412.5L366.4 411.5L367.2 410.6L368 409.6L368.8 408.7L369.6 407.7L370.4 406.8L371.2 405.8L372 404.9L372.8 403.9L373.6 402.9L374.4 402L375.2 401L376 400.1L376.8 399.1L377.6 398.2L378.4 397.2L379.2 396.2L380 395.3L380.8 394.3L381.6 393.4L382.4 392.4L383.2 391.5L384 390.5L384.8 389.5L385.7 388.6L386.5 387.6L387.3 386.7L388.1 385.7L388.9 384.8L389.7 383.8L390.5 382.8L391.3 381.9L392.1 380.9L392.9 380L393.8 379L394.6 378.1L395.4 377.1L396.2 376.2L397 375.2L397.8 374.2L398.6 373.3L399.4 372.3L400.2 371.4L401.1 370.4L401.9 369.5L402.7 368.5L403.5 367.5L404.3 366.6L405.1 365.6L405.9 364.7L406.7 363.7L407.5 362.8L408.3 361.8L409.2 360.8L410 359.9L410.8 358.9L411.6 358L412.4 357L413.2 356.1L414 355.1L414.8 354.1L415.6 353.2L416.4 352.2L417.2 351.3L418 350.3L418.9 349.4L419.7 348.4L420.5 347.4L421.3 346.5L422.1 345.5L422.9 344.6L423.7 343.6L424.5 342.7L425.3 341.7L426.1 340.8L426.9 339.8L427.7 338.8L428.5 337.9L429.3 336.9L430.1 336L430.9 335L431.7 334.1L432.5 333.1L433.3 332.1L434.1 331.2L434.9 330.2L435.7 329.3L436.5 328.3L437.2 327.4L438 326.4L438.8 325.4L439.6 324.5L440.4 323.5L441.2 322.6L442 321.6L442.8 320.7L443.6 319.7L444.3 318.7L445.1 317.8L445.9 316.8L446.7 315.9L447.5 314.9L448.3 314L449.1 313L449.9 312.1L450.6 311.1L451.4 310.1L452.2 309.2L453 308.2L453.8 307.3L454.6 306.3L455.4 305.4L456.2 304.4L457 303.4L457.7 302.5L458.5 301.5L459.3 300.6L460.1 299.6L460.9 298.7L461.7 297.7L462.5 296.7L463.3 295.8L464.1 294.8L464.9 293.9L465.7 292.9L466.5 292L467.3 291L468.1 290L469 289.1L469.8 288.1L470.6 287.2L471.4 286.2L472.2 285.3L473 284.3L473.8 283.3L474.6 282.4L475.5 281.4L476.3 280.5L477.1 279.5L477.9 278.6L478.7 277.6L479.5 276.7L480.4 275.7L481.2 274.7L482 273.8L482.8 272.8L483.6 271.9L484.5 270.9L485.3 270L486.1 269L486.9 268L487.7 267.1L488.6 266.1L489.4 265.2L490.2 264.2L491 263.3L491.9 262.3L492.7 261.3L493.5 260.4L494.4 259.4L495.2 258.5L496 257.5L496.8 256.6L497.7 255.6L498.5 254.6L499.3 253.7L500.2 252.7L501 251.8L501.8 250.8L502.7 249.9L503.5 248.9L504.3 248L505.1 247L506 246L506.8 245.1L507.6 244.1L508.5 243.2L509.3 242.2L510.2 241.3L511 240.3L511.8 239.3L512.7 238.4L513.5 237.4L514.3 236.5L515.2 235.5L516 234.6L516.8 233.6L517.7 232.6L518.5 231.7L519.4 230.7L520.2 229.8L521 228.8L521.9 227.9L522.7 226.9L523.6 225.9L524.4 225L525.2 224L526.1 223.1L526.9 222.1L527.8 221.2L528.6 220.2L529.5 219.3L530.3 218.3L531.2 217.3L532 216.4L532.8 215.4L533.7 214.5L534.5 213.5L535.4 212.6L536.2 211.6L537.1 210.6L537.9 209.7L538.8 208.7L539.6 207.8L540.5 206.8L541.3 205.9L542.2 204.9L543 203.9L543.9 203L544.7 202L545.6 201.1L546.4 200.1L547.3 199.2L548.2 198.2L549 197.2L549.9 196.3L550.7 195.3L551.6 194.4L552.4 193.4L553.3 192.5L554.1 191.5L555 190.5L555.9 189.6L556.7 188.6L557.6 187.7L558.4 186.7L559.3 185.8L560.2 184.8L561 183.9L561.9 182.9L562.7 181.9L563.6 181L564.5 180L565.3 179.1L566.2 178.1L567.1 177.2L567.9 176.2L568.8 175.2L569.7 174.3L570.5 173.3L571.4 172.4L572.3 171.4L573.1 170.5L574 169.5L574.9 168.5L575.8 167.6L576.6 166.6L577.5 165.7L578.4 164.7L579.2 163.8L580.1 162.8L581 161.8L581.9 160.9L582.7 159.9L583.6 159L584.5 158L585.3 157.1L586.2 156.1L587.1 155.2L588 154.2L588.8 153.2L589.7 152.3L590.6 151.3L591.5 150.4L592.3 149.4L593.2 148.5L594.1 147.5L595 146.5L595.8 145.6L596.7 144.6L597.6 143.7L598.4 142.7L599.3 141.8L600.2 140.8L601.1 139.8L601.9 138.9L602.8 137.9L603.7 137L604.6 136L605.4 135.1L606.3 134.1L607.2 133.1L608.1 132.2L608.9 131.2L609.8 130.3L610.7 129.3L611.6 128.4L612.4 127.4L613.3 126.4L614.2 125.5L615.1 124.5L615.9 123.6L616.8 122.6L617.7 121.7L618.6 120.7L619.4 119.8L620.3 118.8L621.2 117.8L622.1 116.9L623 115.9L623.8 115L624.7 114L625.6 113.1L626.5 112.1L627.3 111.1L628.2 110.2L629.1 109.2L630 108.3L630.9 107.3L631.7 106.4L632.6 105.4L633.5 104.4L634.4 103.5L635.3 102.5L636.1 101.6L637 100.6L637.9 99.7L638.8 98.7L639.7 97.7L640.6 96.8L641.5 95.8L642.3 94.9L643.2 93.9L644.1 93L645 92L645.9 91.1L646.8 90.1L647.6 89.1L648.5 88.2L649.4 87.2L650.2 86.3L651.1 85.3L651.9 84.4L652.8 83.4L653.7 82.4L654.5 81.5L655.4 80.5L656.2 79.6L657.1 78.6L658 77.7L658.8 76.7L659.7 75.7L660.6 74.8L661.4 73.8L662.3 72.9L663.2 71.9L664.1 71L665 70L665.9 69L666.8 68.1L667.7 67.1L668.7 66.2L669.6 65.2L670.5 64.3L671.5 63.3L672.5 62.3L673.5 61.4L674.4 60.4L675.5 59.5L676.5 58.5L677.5 57.6L678.6 56.6L679.6 55.7L680.7 54.7L681.8 53.7L682.9 52.8L684.1 51.8L685.2 50.9L686.3 49.9L687.5 49L688.6 48L689.8 47L691 46.1L692.1 45.1L693.3 44.2L694.5 43.2L695.7 42.3L696.9 41.3L698.1 40.3L699.3 39.4L700.5 38.4L701.7 37.5L702.8 36.5L704 35.6L705.2 34.6L706.4 33.6L707.5 32.7L708.7 31.7L709.9 30.8L711 29.8L712.2 28.9L713.3 27.9L714.4 27L715.6 26L716.7 25L717.9 24.1L719.1 23.1L720.2 22.2L721.4 21.2L722.7 20.3L724 19.3L725.4 18.3L727 17.4L728.7 16.4L730.7 15.5L733 14.5L735.7 13.6L738.9 12.6"/>
<path d="M146 507.3L151.2 508.9L156.3 510.5L161.5 512.1L166.6 513.7L171.8 515.5L176.9 517.3L182.1 519.1L187.2 521L192.4 522.8L197.5 524.7L202.7 526.8L207.8 528.8L213 530.9L218.2 532.9L223.3 534.9L228.5 536.7L233.6 538.5L238.8 540.3L243.9 542.1L249.1 543.9L254.2 545.5L259.4 547L264.5 548.5L269.7 549.9L274.9 552.5L280 555.2L285.2 558.1L290.3 562.2L295.5 565.8L300 572L300.6 575.4L305.8 576.2L310.9 573.7L316.1 542.5L321.2 514.5L326.4 496.3L329.6 490L330.3 489L331 488.1L331.7 487.1L332.4 486.2L333.1 485.2L333.8 484.3L334.5 483.3L335.3 482.3L336 481.4L336.7 480.4L337.4 479.5L338.1 478.5L338.8 477.6L339.5 476.6L340.2 475.6L340.9 474.7L341.7 473.7L342.4 472.8L343.1 471.8L343.8 470.9L344.5 469.9L345.2 469L346 468L346.7 467L347.4 466.1L348.1 465.1L348.8 464.2L349.5 463.2L350.3 462.3L351 461.3L351.7 460.3L352.4 459.4L353.2 458.4L353.9 457.5L354.6 456.5L355.3 455.6L356 454.6L356.8 453.6L357.5 452.7L358.2 451.7L359 450.8L359.7 449.8L360.4 448.9L361.1 447.9L361.9 446.9L362.6 446L363.3 445L364.1 444.1L364.8 443.1L365.5 442.2L366.3 441.2L367 440.3L367.8 439.3L368.5 438.3L369.2 437.4L370 436.4L370.7 435.5L371.5 434.5L372.2 433.6L372.9 432.6L373.7 431.6L374.4 430.7L375.2 429.7L375.9 428.8L376.7 427.8L377.4 426.9L378.2 425.9L378.9 424.9L379.7 424L380.4 423L381.2 422.1L381.9 421.1L382.7 420.2L383.4 419.2L384.2 418.2L384.9 417.3L385.7 416.3L386.4 415.4L387.2 414.4L387.9 413.5L388.7 412.5L389.5 411.5L390.2 410.6L391 409.6L391.7 408.7L392.5 407.7L393.3 406.8L394 405.8L394.8 404.9L395.5 403.9L396.3 402.9L397.1 402L397.8 401L398.6 400.1L399.4 399.1L400.1 398.2L400.9 397.2L401.7 396.2L402.4 395.3L403.2 394.3L404 393.4L404.7 392.4L405.5 391.5L406.3 390.5L407 389.5L407.8 388.6L408.6 387.6L409.3 386.7L410.1 385.7L410.9 384.8L411.7 383.8L412.4 382.8L413.2 381.9L414 380.9L414.7 380L415.5 379L416.3 378.1L417.1 377.1L417.8 376.2L418.6 375.2L419.4 374.2L420.2 373.3L420.9 372.3L421.7 371.4L422.5 370.4L423.2 369.5L424 368.5L424.8 367.5L425.6 366.6L426.3 365.6L427.1 364.7L427.9 363.7L428.7 362.8L429.4 361.8L430.2 360.8L431 359.9L431.8 358.9L432.5 358L433.3 357L434.1 356.1L434.9 355.1L435.7 354.1L436.4 353.2L437.2 352.2L438 351.3L438.8 350.3L439.5 349.4L440.3 348.4L441.1 347.4L441.9 346.5L442.6 345.5L443.4 344.6L444.2 343.6L445 342.7L445.7 341.7L446.5 340.8L447.3 339.8L448.1 338.8L448.8 337.9L449.6 336.9L450.4 336L451.2 335L451.9 334.1L452.7 333.1L453.5 332.1L454.3 331.2L455 330.2L455.8 329.3L456.6 328.3L457.4 327.4L458.1 326.4L458.9 325.4L459.7 324.5L460.4 323.5L461.2 322.6L462 321.6L462.8 320.7L463.5 319.7L464.3 318.7L465.1 317.8L465.9 316.8L466.6 315.9L467.4 314.9L468.2 314L469 313L469.8 312.1L470.5 311.1L471.3 310.1L472.1 309.2L472.9 308.2L473.6 307.3L474.4 306.3L475.2 305.4L476 304.4L476.8 303.4L477.6 302.5L478.3 301.5L479.1 300.6L479.9 299.6L480.7 298.7L481.5 297.7L482.3 296.7L483.1 295.8L483.9 294.8L484.6 293.9L485.4 292.9L486.2 292L487 291L487.8 290L488.6 289.1L489.4 288.1L490.2 287.2L491 286.2L491.8 285.3L492.6 284.3L493.4 283.3L494.2 282.4L495 281.4L495.8 280.5L496.6 279.5L497.4 278.6L498.2 277.6L499 276.7L499.8 275.7L500.6 274.7L501.4 273.8L502.2 272.8L503 271.9L503.8 270.9L504.6 270L505.4 269L506.2 268L507 267.1L507.8 266.1L508.6 265.2L509.4 264.2L510.3 263.3L511.1 262.3L511.9 261.3L512.7 260.4L513.5 259.4L514.3 258.5L515.1 257.5L516 256.6L516.8 255.6L517.6 254.6L518.4 253.7L519.2 252.7L520 251.8L520.9 250.8L521.7 249.9L522.5 248.9L523.3 248L524.2 247L525 246L525.8 245.1L526.7 244.1L527.5 243.2L528.3 242.2L529.1 241.3L530 240.3L530.8 239.3L531.7 238.4L532.5 237.4L533.3 236.5L534.2 235.5L535 234.6L535.9 233.6L536.7 232.6L537.5 231.7L538.4 230.7L539.2 229.8L540.1 228.8L540.9 227.9L541.8 226.9L542.6 225.9L543.5 225L544.3 224L545.2 223.1L546 222.1L546.9 221.2L547.7 220.2L548.6 219.3L549.5 218.3L550.3 217.3L551.2 216.4L552 215.4L552.9 214.5L553.8 213.5L554.6 212.6L555.5 211.6L556.3 210.6L557.2 209.7L558.1 208.7L558.9 207.8L559.8 206.8L560.7 205.9L561.5 204.9L562.4 203.9L563.3 203L564.1 202L565 201.1L565.9 200.1L566.8 199.2L567.6 198.2L568.5 197.2L569.4 196.3L570.3 195.3L571.1 194.4L572 193.4L572.9 192.5L573.8 191.5L574.6 190.5L575.5 189.6L576.4 188.6L577.3 187.7L578.2 186.7L579.1 185.8L580 184.8L580.8 183.9L581.7 182.9L582.6 181.9L583.5 181L584.4 180L585.3 179.1L586.2 178.1L587.1 177.2L588.1 176.2L589 175.2L589.9 174.3L590.8 173.3L591.7 172.4L592.6 171.4L593.5 170.5L594.4 169.5L595.3 168.5L596.2 167.6L597.1 166.6L598 165.7L598.9 164.7L599.9 163.8L600.8 162.8L601.7 161.8L602.6 160.9L603.5 159.9L604.4 159L605.3 158L606.2 157.1L607.1 156.1L608 155.2L608.9 154.2L609.8 153.2L610.7 152.3L611.5 151.3L612.4 150.4L613.3 149.4L614.2 148.5L615.1 147.5L616 146.5L616.8 145.6L617.7 144.6L618.6 143.7L619.5 142.7L620.3 141.8L621.2 140.8L622 139.8L622.9 138.9L623.7 137.9L624.6 137L625.4 136L626.3 135.1L627.1 134.1L628 133.1L628.8 132.2L629.6 131.2L630.5 130.3L631.3 129.3L632.1 128.4L632.9 127.4L633.8 126.4L634.6 125.5L635.4 124.5L636.2 123.6L637.1 122.6L637.9 121.7L638.7 120.7L639.5 119.8L640.3 118.8L641.2 117.8L642 116.9L642.8 115.9L643.6 115L644.4 114L645.2 113.1L646.1 112.1L646.9 111.1L647.7 110.2L648.5 109.2L649.4 108.3L650.2 107.3L651 106.4L651.8 105.4L652.7 104.4L653.5 103.5L654.3 102.5L655.2 101.6L656 100.6L656.9 99.7L657.7 98.7L658.5 97.7L659.4 96.8L660.2 95.8L661.1 94.9L662 93.9L662.8 93L663.7 92L664.6 91.1L665.4 90.1L666.3 89.1L667.2 88.2L668 87.2L668.9 86.3L669.7 85.3L670.6 84.4L671.5 83.4L672.3 82.4L673.2 81.5L674.1 80.5L675 79.6L675.8 78.6L676.7 77.7L677.6 76.7L678.5 75.7L679.4 74.8L680.2 73.8L681.1 72.9L682 71.9L683 71L683.9 70L684.8 69L685.7 68.1L686.6 67.1L687.6 66.2L688.5 65.2L689.5 64.3L690.4 63.3L691.4 62.3L692.4 61.4L693.3 60.4L694.3 59.5L695.3 58.5L696.4 57.6L697.4 56.6L698.4 55.7L699.5 54.7L700.6 53.7L701.6 52.8L702.7 51.8L703.8 50.9L704.9 49.9L706 49L707.1 48L708.3 47L709.4 46.1L710.5 45.1L711.6 44.2L712.8 43.2L713.9 42.3L715.1 41.3L716.2 40.3L717.3 39.4L718.5 38.4L719.6 37.5L720.8 36.5L721.9 35.6L723 34.6L724.1 33.6L725.3 32.7L726.4 31.7L727.5 30.8L728.6 29.8L729.7 28.9L730.8 27.9L731.9 27L733 26L734.1 25L735.2 24.1L736.4 23.1L737.5 22.2L738.7 21.2L740 20.3L741.4 19.3L743 18.3L744.8 17.4L746.9 16.4L749.4 15.5L752.5 14.5L756.3 13.6L761 12.6"/>
<path d="M146 548.7L151.2 548.5L156.3 548.3L161.5 548.1L166.6 547.8L171.8 547.5L176.9 547.2L182.1 547L187.2 546.7L192.4 546.4L197.5 546.4L202.7 546.7L207.8 547L213 547.3L218.2 547.5L223.3 547.9L228.5 548.5L233.6 549L238.8 549.4L243.9 550L249.1 550.5L254.2 550.6L259.4 550.7L264.5 550.7L269.7 550.8L274.9 550.9L280 552.5L285.2 554.3L290.3 556.4L295.5 559.3L300.6 561.5L302.6 565L305.8 576.7L310.9 582.2L316.1 581.7L321.2 581.3L326.4 579.5L331.5 565.1L336.7 538.9L341.9 517.3L347 501.2L352.2 490.8L352.7 490L353.4 489L354.1 488.1L354.8 487.1L355.5 486.2L356.2 485.2L356.9 484.3L357.6 483.3L358.3 482.3L359 481.4L359.7 480.4L360.4 479.5L361.1 478.5L361.8 477.6L362.5 476.6L363.2 475.6L363.9 474.7L364.6 473.7L365.3 472.8L366 471.8L366.7 470.9L367.4 469.9L368.1 469L368.9 468L369.6 467L370.3 466.1L371 465.1L371.7 464.2L372.4 463.2L373.1 462.3L373.8 461.3L374.5 460.3L375.2 459.4L375.9 458.4L376.6 457.5L377.3 456.5L378 455.6L378.7 454.6L379.5 453.6L380.2 452.7L380.9 451.7L381.6 450.8L382.3 449.8L383 448.9L383.7 447.9L384.4 446.9L385.1 446L385.9 445L386.6 444.1L387.3 443.1L388 442.2L388.7 441.2L389.4 440.3L390.1 439.3L390.9 438.3L391.6 437.4L392.3 436.4L393 435.5L393.7 434.5L394.4 433.6L395.1 432.6L395.9 431.6L396.6 430.7L397.3 429.7L398 428.8L398.7 427.8L399.4 426.9L400.2 425.9L400.9 424.9L401.6 424L402.3 423L403 422.1L403.7 421.1L404.4 420.2L405.2 419.2L405.9 418.2L406.6 417.3L407.3 416.3L408 415.4L408.7 414.4L409.5 413.5L410.2 412.5L410.9 411.5L411.6 410.6L412.3 409.6L413 408.7L413.7 407.7L414.5 406.8L415.2 405.8L415.9 404.9L416.6 403.9L417.3 402.9L418 402L418.8 401L419.5 400.1L420.2 399.1L420.9 398.2L421.6 397.2L422.4 396.2L423.1 395.3L423.8 394.3L424.5 393.4L425.2 392.4L426 391.5L426.7 390.5L427.4 389.5L428.1 388.6L428.8 387.6L429.6 386.7L430.3 385.7L431 384.8L431.7 383.8L432.5 382.8L433.2 381.9L433.9 380.9L434.6 380L435.3 379L436.1 378.1L436.8 377.1L437.5 376.2L438.3 375.2L439 374.2L439.7 373.3L440.4 372.3L441.2 371.4L441.9 370.4L442.6 369.5L443.4 368.5L444.1 367.5L444.8 366.6L445.5 365.6L446.3 364.7L447 363.7L447.7 362.8L448.5 361.8L449.2 360.8L450 359.9L450.7 358.9L451.4 358L452.2 357L452.9 356.1L453.6 355.1L454.4 354.1L455.1 353.2L455.9 352.2L456.6 351.3L457.3 350.3L458.1 349.4L458.8 348.4L459.6 347.4L460.3 346.5L461.1 345.5L461.8 344.6L462.6 343.6L463.3 342.7L464.1 341.7L464.8 340.8L465.6 339.8L466.3 338.8L467.1 337.9L467.8 336.9L468.6 336L469.3 335L470.1 334.1L470.8 333.1L471.6 332.1L472.3 331.2L473.1 330.2L473.9 329.3L474.6 328.3L475.4 327.4L476.2 326.4L476.9 325.4L477.7 324.5L478.5 323.5L479.3 322.6L480 321.6L480.8 320.7L481.6 319.7L482.4 318.7L483.2 317.8L483.9 316.8L484.7 315.9L485.5 314.9L486.3 314L487.1 313L487.9 312.1L488.7 311.1L489.5 310.1L490.2 309.2L491 308.2L491.8 307.3L492.6 306.3L493.4 305.4L494.2 304.4L495 303.4L495.8 302.5L496.6 301.5L497.4 300.6L498.1 299.6L498.9 298.7L499.7 297.7L500.5 296.7L501.3 295.8L502.1 294.8L502.9 293.9L503.6 292.9L504.4 292L505.2 291L506 290L506.8 289.1L507.6 288.1L508.3 287.2L509.1 286.2L509.9 285.3L510.7 284.3L511.4 283.3L512.2 282.4L513 281.4L513.7 280.5L514.5 279.5L515.3 278.6L516 277.6L516.8 276.7L517.6 275.7L518.3 274.7L519.1 273.8L519.9 272.8L520.7 271.9L521.4 270.9L522.2 270L523 269L523.7 268L524.5 267.1L525.3 266.1L526.1 265.2L526.8 264.2L527.6 263.3L528.4 262.3L529.2 261.3L529.9 260.4L530.7 259.4L531.5 258.5L532.3 257.5L533.1 256.6L533.9 255.6L534.7 254.6L535.5 253.7L536.3 252.7L537.1 251.8L537.9 250.8L538.7 249.9L539.5 248.9L540.3 248L541.1 247L541.9 246L542.7 245.1L543.6 244.1L544.4 243.2L545.2 242.2L546 241.3L546.9 240.3L547.7 239.3L548.6 238.4L549.4 237.4L550.3 236.5L551.1 235.5L552 234.6L552.9 233.6L553.7 232.6L554.6 231.7L555.5 230.7L556.3 229.8L557.2 228.8L558.1 227.9L559 226.9L559.9 225.9L560.7 225L561.6 224L562.5 223.1L563.4 222.1L564.3 221.2L565.2 220.2L566.1 219.3L567 218.3L567.9 217.3L568.8 216.4L569.7 215.4L570.6 214.5L571.5 213.5L572.4 212.6L573.3 211.6L574.2 210.6L575.1 209.7L576 208.7L576.9 207.8L577.8 206.8L578.7 205.9L579.6 204.9L580.5 203.9L581.4 203L582.3 202L583.2 201.1L584.1 200.1L585 199.2L585.9 198.2L586.8 197.2L587.7 196.3L588.6 195.3L589.5 194.4L590.4 193.4L591.3 192.5L592.2 191.5L593 190.5L593.9 189.6L594.8 188.6L595.7 187.7L596.6 186.7L597.5 185.8L598.3 184.8L599.2 183.9L600.1 182.9L601 181.9L601.9 181L602.8 180L603.6 179.1L604.5 178.1L605.4 177.2L606.3 176.2L607.2 175.2L608.1 174.3L609 173.3L609.8 172.4L610.7 171.4L611.6 170.5L612.5 169.5L613.4 168.5L614.2 167.6L615.1 166.6L616 165.7L616.9 164.7L617.8 163.8L618.7 162.8L619.5 161.8L620.4 160.9L621.3 159.9L622.2 159L623 158L623.9 157.1L624.8 156.1L625.7 155.2L626.5 154.2L627.4 153.2L628.3 152.3L629.2 151.3L630 150.4L630.9 149.4L631.8 148.5L632.6 147.5L633.5 146.5L634.4 145.6L635.2 144.6L636.1 143.7L637 142.7L637.8 141.8L638.7 140.8L639.5 139.8L640.4 138.9L641.2 137.9L642.1 137L642.9 136L643.8 135.1L644.6 134.1L645.5 133.1L646.3 132.2L647.1 131.2L648 130.3L648.8 129.3L649.7 128.4L650.5 127.4L651.3 126.4L652.2 125.5L653 124.5L653.8 123.6L654.7 122.6L655.5 121.7L656.3 120.7L657.2 119.8L658 118.8L658.8 117.8L659.6 116.9L660.5 115.9L661.3 115L662.1 114L663 113.1L663.8 112.1L664.6 111.1L665.5 110.2L666.3 109.2L667.2 108.3L668 107.3L668.8 106.4L669.7 105.4L670.5 104.4L671.4 103.5L672.2 102.5L673.1 101.6L673.9 100.6L674.8 99.7L675.6 98.7L676.5 97.7L677.3 96.8L678.2 95.8L679.1 94.9L679.9 93.9L680.8 93L681.7 92L682.6 91.1L683.4 90.1L684.3 89.1L685.2 88.2L686.1 87.2L687 86.3L687.8 85.3L688.7 84.4L689.6 83.4L690.5 82.4L691.4 81.5L692.2 80.5L693.1 79.6L694 78.6L694.9 77.7L695.8 76.7L696.7 75.7L697.6 74.8L698.5 73.8L699.4 72.9L700.3 71.9L701.3 71L702.2 70L703.1 69L704 68.1L705 67.1L705.9 66.2L706.8 65.2L707.8 64.3L708.8 63.3L709.7 62.3L710.7 61.4L711.7 60.4L712.6 59.5L713.6 58.5L714.6 57.6L715.6 56.6L716.7 55.7L717.7 54.7L718.7 53.7L719.8 52.8L720.8 51.8L721.9 50.9L722.9 49.9L724 49L725.1 48L726.1 47L727.2 46.1L728.3 45.1L729.4 44.2L730.5 43.2L731.5 42.3L732.6 41.3L733.7 40.3L734.8 39.4L735.9 38.4L737 37.5L738.1 36.5L739.2 35.6L740.2 34.6L741.3 33.6L742.4 32.7L743.5 31.7L744.5 30.8L745.6 29.8L746.7 28.9L747.7 27.9L748.8 27L749.8 26L750.9 25L752 24.1L753.1 23.1L754.2 22.2L755.4 21.2L756.6 20.3L758 19.3L759.5 18.3L761.2 17.4L763.3 16.4L765.8 15.5L768.8 14.5L772.6 13.6L777.2 12.6"/>
<path d="M146 565L151.2 565L156.3 564.8L161.5 565L166.6 565.2L171.8 564.1L176.9 562.4L182.1 560.9L187.2 561L192.4 561.8L197.5 561.9L202.7 561L207.8 559.9L213 559.8L218.2 559.6L223.3 559.4L228.5 559.7L233.6 560L238.8 560.4L243.9 560.5L249.1 560.7L254.2 561.7L259.4 562.6L264.5 563.2L269.7 563.7L274.9 564L280 564L285.2 565.3L290.3 566.4L295.5 566.8L300.6 566.3L302.6 569.5L305.8 578.9L310.9 583.3L316.1 579.2L321.2 575L326.4 577.5L331.5 579.9L336.7 577.4L341.9 572.8L347 561.3L352.2 544.8L357.3 529.5L362.5 516L367.6 504.4L372.8 494.7L375.7 490L376.3 489L377 488.1L377.6 487.1L378.3 486.2L378.9 485.2L379.6 484.3L380.2 483.3L380.9 482.3L381.5 481.4L382.1 480.4L382.8 479.5L383.4 478.5L384.1 477.6L384.7 476.6L385.4 475.6L386 474.7L386.7 473.7L387.3 472.8L388 471.8L388.6 470.9L389.3 469.9L390 469L390.6 468L391.3 467L391.9 466.1L392.6 465.1L393.2 464.2L393.9 463.2L394.5 462.3L395.2 461.3L395.9 460.3L396.5 459.4L397.2 458.4L397.9 457.5L398.5 456.5L399.2 455.6L399.8 454.6L400.5 453.6L401.2 452.7L401.8 451.7L402.5 450.8L403.2 449.8L403.8 448.9L404.5 447.9L405.2 446.9L405.8 446L406.5 445L407.2 444.1L407.9 443.1L408.5 442.2L409.2 441.2L409.9 440.3L410.6 439.3L411.2 438.3L411.9 437.4L412.6 436.4L413.3 435.5L414 434.5L414.6 433.6L415.3 432.6L416 431.6L416.7 430.7L417.4 429.7L418.1 428.8L418.8 427.8L419.4 426.9L420.1 425.9L420.8 424.9L421.5 424L422.2 423L422.9 422.1L423.6 421.1L424.3 420.2L425 419.2L425.7 418.2L426.4 417.3L427.1 416.3L427.8 415.4L428.5 414.4L429.2 413.5L429.9 412.5L430.6 411.5L431.3 410.6L432 409.6L432.7 408.7L433.4 407.7L434.1 406.8L434.8 405.8L435.5 404.9L436.2 403.9L436.9 402.9L437.6 402L438.3 401L439 400.1L439.7 399.1L440.5 398.2L441.2 397.2L441.9 396.2L442.6 395.3L443.3 394.3L444 393.4L444.7 392.4L445.4 391.5L446.1 390.5L446.9 389.5L447.6 388.6L448.3 387.6L449 386.7L449.7 385.7L450.4 384.8L451.1 383.8L451.9 382.8L452.6 381.9L453.3 380.9L454 380L454.7 379L455.4 378.1L456.1 377.1L456.9 376.2L457.6 375.2L458.3 374.2L459 373.3L459.7 372.3L460.4 371.4L461.2 370.4L461.9 369.5L462.6 368.5L463.3 367.5L464 366.6L464.7 365.6L465.5 364.7L466.2 363.7L466.9 362.8L467.6 361.8L468.3 360.8L469 359.9L469.8 358.9L470.5 358L471.2 357L471.9 356.1L472.6 355.1L473.3 354.1L474 353.2L474.8 352.2L475.5 351.3L476.2 350.3L476.9 349.4L477.6 348.4L478.3 347.4L479 346.5L479.8 345.5L480.5 344.6L481.2 343.6L481.9 342.7L482.6 341.7L483.3 340.8L484 339.8L484.7 338.8L485.4 337.9L486.2 336.9L486.9 336L487.6 335L488.3 334.1L489 333.1L489.7 332.1L490.4 331.2L491.1 330.2L491.8 329.3L492.5 328.3L493.2 327.4L493.9 326.4L494.6 325.4L495.3 324.5L496 323.5L496.7 322.6L497.4 321.6L498.1 320.7L498.7 319.7L499.4 318.7L500.1 317.8L500.8 316.8L501.5 315.9L502.2 314.9L502.9 314L503.6 313L504.3 312.1L505 311.1L505.7 310.1L506.4 309.2L507.1 308.2L507.8 307.3L508.5 306.3L509.2 305.4L509.9 304.4L510.6 303.4L511.3 302.5L512 301.5L512.7 300.6L513.4 299.6L514.2 298.7L514.9 297.7L515.6 296.7L516.4 295.8L517.1 294.8L517.8 293.9L518.6 292.9L519.3 292L520.1 291L520.8 290L521.6 289.1L522.4 288.1L523.1 287.2L523.9 286.2L524.7 285.3L525.4 284.3L526.2 283.3L527 282.4L527.8 281.4L528.6 280.5L529.4 279.5L530.1 278.6L530.9 277.6L531.7 276.7L532.5 275.7L533.3 274.7L534.1 273.8L534.9 272.8L535.7 271.9L536.5 270.9L537.3 270L538.2 269L539 268L539.8 267.1L540.6 266.1L541.4 265.2L542.2 264.2L543.1 263.3L543.9 262.3L544.7 261.3L545.5 260.4L546.4 259.4L547.2 258.5L548 257.5L548.9 256.6L549.7 255.6L550.5 254.6L551.4 253.7L552.2 252.7L553 251.8L553.9 250.8L554.7 249.9L555.6 248.9L556.4 248L557.3 247L558.1 246L559 245.1L559.8 244.1L560.7 243.2L561.5 242.2L562.4 241.3L563.2 240.3L564.1 239.3L564.9 238.4L565.8 237.4L566.7 236.5L567.5 235.5L568.4 234.6L569.3 233.6L570.2 232.6L571 231.7L571.9 230.7L572.8 229.8L573.7 228.8L574.6 227.9L575.5 226.9L576.4 225.9L577.3 225L578.2 224L579.1 223.1L580 222.1L580.9 221.2L581.8 220.2L582.7 219.3L583.6 218.3L584.5 217.3L585.4 216.4L586.3 215.4L587.2 214.5L588.1 213.5L589 212.6L589.9 211.6L590.8 210.6L591.7 209.7L592.7 208.7L593.6 207.8L594.5 206.8L595.4 205.9L596.3 204.9L597.2 203.9L598.1 203L599 202L600 201.1L600.9 200.1L601.8 199.2L602.7 198.2L603.6 197.2L604.5 196.3L605.4 195.3L606.3 194.4L607.3 193.4L608.2 192.5L609.1 191.5L610 190.5L610.9 189.6L611.8 188.6L612.7 187.7L613.6 186.7L614.6 185.8L615.5 184.8L616.4 183.9L617.3 182.9L618.3 181.9L619.2 181L620.1 180L621 179.1L622 178.1L622.9 177.2L623.8 176.2L624.8 175.2L625.7 174.3L626.6 173.3L627.6 172.4L628.5 171.4L629.4 170.5L630.3 169.5L631.3 168.5L632.2 167.6L633.1 166.6L634.1 165.7L635 164.7L635.9 163.8L636.9 162.8L637.8 161.8L638.7 160.9L639.6 159.9L640.6 159L641.5 158L642.4 157.1L643.3 156.1L644.2 155.2L645.2 154.2L646.1 153.2L647 152.3L647.9 151.3L648.8 150.4L649.7 149.4L650.6 148.5L651.5 147.5L652.4 146.5L653.3 145.6L654.2 144.6L655.1 143.7L655.9 142.7L656.8 141.8L657.7 140.8L658.6 139.8L659.4 138.9L660.3 137.9L661.2 137L662 136L662.9 135.1L663.8 134.1L664.6 133.1L665.5 132.2L666.3 131.2L667.2 130.3L668 129.3L668.9 128.4L669.7 127.4L670.5 126.4L671.4 125.5L672.2 124.5L673.1 123.6L673.9 122.6L674.7 121.7L675.6 120.7L676.4 119.8L677.2 118.8L678.1 117.8L678.9 116.9L679.7 115.9L680.6 115L681.4 114L682.2 113.1L683.1 112.1L683.9 111.1L684.7 110.2L685.6 109.2L686.4 108.3L687.2 107.3L688.1 106.4L688.9 105.4L689.7 104.4L690.6 103.5L691.4 102.5L692.2 101.6L693.1 100.6L693.9 99.7L694.8 98.7L695.6 97.7L696.4 96.8L697.3 95.8L698.1 94.9L699 93.9L699.8 93L700.7 92L701.5 91.1L702.4 90.1L703.3 89.1L704.1 88.2L704.9 87.2L705.8 86.3L706.6 85.3L707.5 84.4L708.3 83.4L709.2 82.4L710 81.5L710.8 80.5L711.7 79.6L712.5 78.6L713.4 77.7L714.2 76.7L715.1 75.7L715.9 74.8L716.8 73.8L717.7 72.9L718.5 71.9L719.4 71L720.3 70L721.1 69L722 68.1L722.9 67.1L723.8 66.2L724.7 65.2L725.6 64.3L726.5 63.3L727.4 62.3L728.3 61.4L729.3 60.4L730.2 59.5L731.2 58.5L732.1 57.6L733.1 56.6L734.1 55.7L735 54.7L736 53.7L737 52.8L738 51.8L739.1 50.9L740.1 49.9L741.1 49L742.1 48L743.2 47L744.2 46.1L745.2 45.1L746.3 44.2L747.3 43.2L748.4 42.3L749.4 41.3L750.5 40.3L751.5 39.4L752.6 38.4L753.6 37.5L754.7 36.5L755.7 35.6L756.7 34.6L757.8 33.6L758.8 32.7L759.8 31.7L760.9 30.8L761.9 29.8L762.9 28.9L763.9 27.9L765 27L766 26L767 25L768 24.1L769.1 23.1L770.2 22.2L771.3 21.2L772.5 20.3L773.8 19.3L775.2 18.3L776.9 17.4L778.9 16.4L781.4 15.5L784.3 14.5L788 13.6L792.5 12.6"/>
<path d="M146 659.1L151.2 627.2L156.3 585.6L161.5 578.7L166.6 571.9L171.8 577.1L176.9 582.4L182.1 580.9L187.2 579.3L192.4 581.5L197.5 583.6L202.7 583.1L207.8 582.5L213 584.2L218.2 585.9L223.3 579.2L228.5 572.5L233.6 576.1L238.8 579.8L243.9 577.1L249.1 574.4L254.2 576.7L259.4 579L264.5 580.5L269.7 582L274.9 581.2L280 580.3L285.2 580.7L290.3 581.2L295.5 580.1L300.6 579L305.8 579.6L310.9 580.3L316.1 580.1L321.2 580L326.4 581.5L331.5 583.1L336.7 582.1L341.9 581.2L347 578L352.2 574.8L357.3 575.5L362.5 567.1L367.6 552.7L372.8 538.6L377.9 525.8L383.1 514.2L388.2 503.8L393.4 494.7L396.4 490L397 489L397.7 488.1L398.3 487.1L399 486.2L399.6 485.2L400.2 484.3L400.9 483.3L401.5 482.3L402.2 481.4L402.8 480.4L403.4 479.5L404.1 478.5L404.7 477.6L405.4 476.6L406 475.6L406.6 474.7L407.3 473.7L407.9 472.8L408.6 471.8L409.2 470.9L409.8 469.9L410.5 469L411.1 468L411.8 467L412.4 466.1L413.1 465.1L413.7 464.2L414.3 463.2L415 462.3L415.6 461.3L416.3 460.3L416.9 459.4L417.6 458.4L418.2 457.5L418.8 456.5L419.5 455.6L420.1 454.6L420.8 453.6L421.4 452.7L422.1 451.7L422.7 450.8L423.4 449.8L424 448.9L424.6 447.9L425.3 446.9L425.9 446L426.6 445L427.2 444.1L427.9 443.1L428.5 442.2L429.2 441.2L429.8 440.3L430.5 439.3L431.1 438.3L431.8 437.4L432.4 436.4L433.1 435.5L433.7 434.5L434.4 433.6L435 432.6L435.7 431.6L436.3 430.7L436.9 429.7L437.6 428.8L438.2 427.8L438.9 426.9L439.5 425.9L440.2 424.9L440.8 424L441.5 423L442.1 422.1L442.8 421.1L443.4 420.2L444 419.2L444.7 418.2L445.3 417.3L446 416.3L446.6 415.4L447.3 414.4L447.9 413.5L448.6 412.5L449.2 411.5L449.8 410.6L450.5 409.6L451.1 408.7L451.8 407.7L452.4 406.8L453.1 405.8L453.7 404.9L454.4 403.9L455 402.9L455.7 402L456.3 401L456.9 400.1L457.6 399.1L458.2 398.2L458.9 397.2L459.5 396.2L460.2 395.3L460.8 394.3L461.5 393.4L462.1 392.4L462.8 391.5L463.4 390.5L464.1 389.5L464.7 388.6L465.3 387.6L466 386.7L466.6 385.7L467.3 384.8L467.9 383.8L468.6 382.8L469.2 381.9L469.9 380.9L470.5 380L471.2 379L471.8 378.1L472.5 377.1L473.1 376.2L473.8 375.2L474.5 374.2L475.1 373.3L475.8 372.3L476.4 371.4L477.1 370.4L477.7 369.5L478.4 368.5L479 367.5L479.7 366.6L480.4 365.6L481 364.7L481.7 363.7L482.3 362.8L483 361.8L483.7 360.8L484.3 359.9L485 358.9L485.6 358L486.3 357L487 356.1L487.6 355.1L488.3 354.1L489 353.2L489.6 352.2L490.3 351.3L491 350.3L491.6 349.4L492.3 348.4L493 347.4L493.6 346.5L494.3 345.5L495 344.6L495.7 343.6L496.3 342.7L497 341.7L497.7 340.8L498.4 339.8L499 338.8L499.7 337.9L500.4 336.9L501.1 336L501.7 335L502.4 334.1L503.1 333.1L503.8 332.1L504.5 331.2L505.2 330.2L505.9 329.3L506.5 328.3L507.2 327.4L507.9 326.4L508.6 325.4L509.3 324.5L510 323.5L510.7 322.6L511.3 321.6L512 320.7L512.7 319.7L513.4 318.7L514.1 317.8L514.8 316.8L515.5 315.9L516.2 314.9L516.9 314L517.6 313L518.3 312.1L519 311.1L519.7 310.1L520.4 309.2L521.1 308.2L521.8 307.3L522.5 306.3L523.3 305.4L524 304.4L524.7 303.4L525.4 302.5L526.1 301.5L526.9 300.6L527.6 299.6L528.3 298.7L529.1 297.7L529.8 296.7L530.5 295.8L531.3 294.8L532 293.9L532.8 292.9L533.5 292L534.3 291L535 290L535.8 289.1L536.6 288.1L537.3 287.2L538.1 286.2L538.9 285.3L539.6 284.3L540.4 283.3L541.2 282.4L542 281.4L542.7 280.5L543.5 279.5L544.3 278.6L545.1 277.6L545.9 276.7L546.7 275.7L547.5 274.7L548.3 273.8L549.1 272.8L549.9 271.9L550.7 270.9L551.5 270L552.3 269L553.1 268L553.9 267.1L554.7 266.1L555.5 265.2L556.4 264.2L557.2 263.3L558 262.3L558.8 261.3L559.6 260.4L560.5 259.4L561.3 258.5L562.1 257.5L563 256.6L563.8 255.6L564.6 254.6L565.5 253.7L566.3 252.7L567.2 251.8L568 250.8L568.9 249.9L569.7 248.9L570.6 248L571.4 247L572.3 246L573.1 245.1L574 244.1L574.8 243.2L575.7 242.2L576.6 241.3L577.4 240.3L578.3 239.3L579.2 238.4L580.1 237.4L581 236.5L581.8 235.5L582.7 234.6L583.6 233.6L584.5 232.6L585.4 231.7L586.3 230.7L587.2 229.8L588.1 228.8L589.1 227.9L590 226.9L590.9 225.9L591.8 225L592.7 224L593.6 223.1L594.6 222.1L595.5 221.2L596.4 220.2L597.4 219.3L598.3 218.3L599.2 217.3L600.2 216.4L601.1 215.4L602 214.5L603 213.5L603.9 212.6L604.9 211.6L605.8 210.6L606.7 209.7L607.7 208.7L608.6 207.8L609.6 206.8L610.5 205.9L611.5 204.9L612.4 203.9L613.4 203L614.3 202L615.2 201.1L616.2 200.1L617.1 199.2L618.1 198.2L619 197.2L620 196.3L620.9 195.3L621.9 194.4L622.8 193.4L623.7 192.5L624.7 191.5L625.6 190.5L626.6 189.6L627.5 188.6L628.5 187.7L629.4 186.7L630.4 185.8L631.3 184.8L632.3 183.9L633.3 182.9L634.2 181.9L635.2 181L636.2 180L637.1 179.1L638.1 178.1L639.1 177.2L640 176.2L641 175.2L642 174.3L643 173.3L643.9 172.4L644.9 171.4L645.9 170.5L646.8 169.5L647.8 168.5L648.8 167.6L649.8 166.6L650.7 165.7L651.7 164.7L652.7 163.8L653.7 162.8L654.6 161.8L655.6 160.9L656.6 159.9L657.5 159L658.5 158L659.4 157.1L660.4 156.1L661.4 155.2L662.3 154.2L663.3 153.2L664.2 152.3L665.1 151.3L666.1 150.4L667 149.4L668 148.5L668.9 147.5L669.8 146.5L670.8 145.6L671.7 144.6L672.6 143.7L673.5 142.7L674.4 141.8L675.3 140.8L676.2 139.8L677.2 138.9L678.1 137.9L679 137L679.9 136L680.7 135.1L681.6 134.1L682.5 133.1L683.4 132.2L684.3 131.2L685.2 130.3L686.1 129.3L687 128.4L687.8 127.4L688.7 126.4L689.6 125.5L690.5 124.5L691.3 123.6L692.2 122.6L693.1 121.7L694 120.7L694.8 119.8L695.7 118.8L696.6 117.8L697.4 116.9L698.3 115.9L699.2 115L700 114L700.9 113.1L701.7 112.1L702.6 111.1L703.4 110.2L704.3 109.2L705.2 108.3L706 107.3L706.9 106.4L707.7 105.4L708.6 104.4L709.4 103.5L710.3 102.5L711.1 101.6L712 100.6L712.8 99.7L713.7 98.7L714.5 97.7L715.4 96.8L716.2 95.8L717.1 94.9L717.9 93.9L718.7 93L719.6 92L720.4 91.1L721.3 90.1L722.1 89.1L722.9 88.2L723.8 87.2L724.6 86.3L725.4 85.3L726.2 84.4L727 83.4L727.8 82.4L728.6 81.5L729.4 80.5L730.2 79.6L731 78.6L731.8 77.7L732.6 76.7L733.4 75.7L734.2 74.8L735 73.8L735.8 72.9L736.7 71.9L737.5 71L738.3 70L739.1 69L740 68.1L740.8 67.1L741.6 66.2L742.5 65.2L743.4 64.3L744.2 63.3L745.1 62.3L746 61.4L746.9 60.4L747.8 59.5L748.7 58.5L749.6 57.6L750.6 56.6L751.5 55.7L752.5 54.7L753.5 53.7L754.4 52.8L755.4 51.8L756.4 50.9L757.4 49.9L758.4 49L759.4 48L760.4 47L761.4 46.1L762.5 45.1L763.5 44.2L764.5 43.2L765.5 42.3L766.6 41.3L767.6 40.3L768.6 39.4L769.6 38.4L770.7 37.5L771.7 36.5L772.7 35.6L773.7 34.6L774.8 33.6L775.8 32.7L776.8 31.7L777.8 30.8L778.8 29.8L779.8 28.9L780.8 27.9L781.8 27L782.8 26L783.8 25L784.8 24.1L785.8 23.1L786.9 22.2L788 21.2L789.1 20.3L790.4 19.3L791.8 18.3L793.4 17.4L795.3 16.4L797.5 15.5L800.3 14.5L803.7 13.6L807.9 12.6"/>
<path d="M146 597.9L151.2 597.8L156.3 597.7L161.5 597.5L166.6 597.2L171.8 633.1L176.9 659.1L182.1 631.6L187.2 594.3L192.4 601.2L197.5 608L202.7 602.8L207.8 597.5L213 598.5L218.2 599.4L223.3 598.4L228.5 597.5L233.6 595L238.8 592.5L243.9 593.5L249.1 594.4L254.2 601L259.4 607.5L264.5 608.9L269.7 610.2L274.9 604L280 597.8L285.2 602.3L290.3 606.9L295.5 604.4L300.6 601.9L305.8 599.8L310.9 597.7L316.1 589.2L321.2 580.7L326.4 580.4L331.5 580.2L336.7 579.9L341.9 579.7L347 578.2L352.2 576.8L357.3 577.2L362.5 576.9L367.6 574.2L372.8 567.7L377.9 558.7L383.1 548.9L388.2 539.2L393.4 529.6L398.5 520.3L403.7 511.2L408.9 502.4L414 493.9L416.4 490L417 489L417.6 488.1L418.2 487.1L418.8 486.2L419.4 485.2L420 484.3L420.6 483.3L421.2 482.3L421.8 481.4L422.3 480.4L422.9 479.5L423.5 478.5L424.1 477.6L424.7 476.6L425.3 475.6L425.9 474.7L426.5 473.7L427.1 472.8L427.7 471.8L428.3 470.9L428.9 469.9L429.5 469L430.1 468L430.7 467L431.3 466.1L431.9 465.1L432.5 464.2L433.1 463.2L433.7 462.3L434.3 461.3L434.9 460.3L435.5 459.4L436.1 458.4L436.7 457.5L437.3 456.5L437.9 455.6L438.5 454.6L439.1 453.6L439.7 452.7L440.3 451.7L440.9 450.8L441.5 449.8L442.1 448.9L442.7 447.9L443.3 446.9L444 446L444.6 445L445.2 444.1L445.8 443.1L446.4 442.2L447 441.2L447.6 440.3L448.2 439.3L448.8 438.3L449.4 437.4L450 436.4L450.6 435.5L451.2 434.5L451.9 433.6L452.5 432.6L453.1 431.6L453.7 430.7L454.3 429.7L454.9 428.8L455.5 427.8L456.1 426.9L456.7 425.9L457.3 424.9L457.9 424L458.5 423L459.1 422.1L459.7 421.1L460.4 420.2L461 419.2L461.6 418.2L462.2 417.3L462.8 416.3L463.4 415.4L464 414.4L464.6 413.5L465.2 412.5L465.8 411.5L466.4 410.6L467 409.6L467.6 408.7L468.2 407.7L468.8 406.8L469.4 405.8L470 404.9L470.6 403.9L471.2 402.9L471.9 402L472.5 401L473.1 400.1L473.7 399.1L474.3 398.2L474.9 397.2L475.5 396.2L476.1 395.3L476.7 394.3L477.3 393.4L477.9 392.4L478.5 391.5L479.1 390.5L479.8 389.5L480.4 388.6L481 387.6L481.6 386.7L482.2 385.7L482.8 384.8L483.4 383.8L484 382.8L484.7 381.9L485.3 380.9L485.9 380L486.5 379L487.1 378.1L487.7 377.1L488.4 376.2L489 375.2L489.6 374.2L490.2 373.3L490.8 372.3L491.4 371.4L492.1 370.4L492.7 369.5L493.3 368.5L493.9 367.5L494.6 366.6L495.2 365.6L495.8 364.7L496.4 363.7L497.1 362.8L497.7 361.8L498.3 360.8L499 359.9L499.6 358.9L500.2 358L500.9 357L501.5 356.1L502.1 355.1L502.8 354.1L503.4 353.2L504 352.2L504.7 351.3L505.3 350.3L506 349.4L506.6 348.4L507.2 347.4L507.9 346.5L508.5 345.5L509.2 344.6L509.8 343.6L510.5 342.7L511.1 341.7L511.8 340.8L512.4 339.8L513.1 338.8L513.7 337.9L514.4 336.9L515.1 336L515.7 335L516.4 334.1L517 333.1L517.7 332.1L518.4 331.2L519 330.2L519.7 329.3L520.4 328.3L521 327.4L521.7 326.4L522.4 325.4L523 324.5L523.7 323.5L524.4 322.6L525.1 321.6L525.8 320.7L526.4 319.7L527.1 318.7L527.8 317.8L528.5 316.8L529.2 315.9L529.9 314.9L530.6 314L531.2 313L531.9 312.1L532.6 311.1L533.3 310.1L534 309.2L534.7 308.2L535.5 307.3L536.2 306.3L536.9 305.4L537.6 304.4L538.3 303.4L539 302.5L539.7 301.5L540.5 300.6L541.2 299.6L541.9 298.7L542.7 297.7L543.4 296.7L544.1 295.8L544.9 294.8L545.6 293.9L546.4 292.9L547.1 292L547.9 291L548.6 290L549.4 289.1L550.2 288.1L550.9 287.2L551.7 286.2L552.5 285.3L553.3 284.3L554.1 283.3L554.8 282.4L555.6 281.4L556.4 280.5L557.2 279.5L558 278.6L558.8 277.6L559.6 276.7L560.4 275.7L561.2 274.7L562 273.8L562.8 272.8L563.7 271.9L564.5 270.9L565.3 270L566.1 269L566.9 268L567.8 267.1L568.6 266.1L569.4 265.2L570.3 264.2L571.1 263.3L571.9 262.3L572.8 261.3L573.6 260.4L574.5 259.4L575.3 258.5L576.1 257.5L577 256.6L577.8 255.6L578.7 254.6L579.6 253.7L580.4 252.7L581.3 251.8L582.1 250.8L583 249.9L583.8 248.9L584.7 248L585.6 247L586.4 246L587.3 245.1L588.2 244.1L589 243.2L589.9 242.2L590.8 241.3L591.7 240.3L592.5 239.3L593.4 238.4L594.3 237.4L595.2 236.5L596.1 235.5L597 234.6L597.9 233.6L598.8 232.6L599.7 231.7L600.6 230.7L601.5 229.8L602.4 228.8L603.3 227.9L604.2 226.9L605.1 225.9L606 225L607 224L607.9 223.1L608.8 222.1L609.7 221.2L610.7 220.2L611.6 219.3L612.5 218.3L613.5 217.3L614.4 216.4L615.3 215.4L616.3 214.5L617.2 213.5L618.1 212.6L619.1 211.6L620 210.6L621 209.7L621.9 208.7L622.8 207.8L623.8 206.8L624.7 205.9L625.7 204.9L626.6 203.9L627.6 203L628.5 202L629.4 201.1L630.4 200.1L631.3 199.2L632.3 198.2L633.2 197.2L634.2 196.3L635.1 195.3L636.1 194.4L637 193.4L637.9 192.5L638.9 191.5L639.8 190.5L640.8 189.6L641.7 188.6L642.7 187.7L643.6 186.7L644.5 185.8L645.5 184.8L646.4 183.9L647.4 182.9L648.3 181.9L649.3 181L650.2 180L651.2 179.1L652.1 178.1L653.1 177.2L654 176.2L655 175.2L655.9 174.3L656.9 173.3L657.9 172.4L658.9 171.4L659.8 170.5L660.8 169.5L661.8 168.5L662.8 167.6L663.8 166.6L664.8 165.7L665.8 164.7L666.8 163.8L667.9 162.8L668.9 161.8L669.9 160.9L671 159.9L672 159L673.1 158L674.1 157.1L675.2 156.1L676.3 155.2L677.3 154.2L678.4 153.2L679.5 152.3L680.5 151.3L681.6 150.4L682.6 149.4L683.7 148.5L684.7 147.5L685.7 146.5L686.7 145.6L687.8 144.6L688.8 143.7L689.8 142.7L690.8 141.8L691.7 140.8L692.7 139.8L693.7 138.9L694.6 137.9L695.6 137L696.5 136L697.5 135.1L698.4 134.1L699.4 133.1L700.3 132.2L701.3 131.2L702.2 130.3L703.1 129.3L704.1 128.4L705 127.4L705.9 126.4L706.8 125.5L707.7 124.5L708.6 123.6L709.6 122.6L710.5 121.7L711.4 120.7L712.3 119.8L713.2 118.8L714.1 117.8L715 116.9L715.9 115.9L716.8 115L717.7 114L718.6 113.1L719.5 112.1L720.4 111.1L721.3 110.2L722.2 109.2L723.1 108.3L724 107.3L724.9 106.4L725.8 105.4L726.7 104.4L727.5 103.5L728.4 102.5L729.3 101.6L730.2 100.6L731 99.7L731.9 98.7L732.8 97.7L733.6 96.8L734.5 95.8L735.3 94.9L736.2 93.9L737 93L737.9 92L738.7 91.1L739.6 90.1L740.4 89.1L741.2 88.2L742 87.2L742.8 86.3L743.6 85.3L744.4 84.4L745.2 83.4L746 82.4L746.8 81.5L747.5 80.5L748.3 79.6L749.1 78.6L749.9 77.7L750.7 76.7L751.4 75.7L752.2 74.8L753 73.8L753.8 72.9L754.6 71.9L755.4 71L756.2 70L757 69L757.8 68.1L758.6 67.1L759.4 66.2L760.2 65.2L761.1 64.3L761.9 63.3L762.8 62.3L763.6 61.4L764.5 60.4L765.4 59.5L766.3 58.5L767.2 57.6L768.1 56.6L769 55.7L770 54.7L770.9 53.7L771.9 52.8L772.8 51.8L773.8 50.9L774.8 49.9L775.8 49L776.8 48L777.8 47L778.7 46.1L779.8 45.1L780.8 44.2L781.8 43.2L782.8 42.3L783.8 41.3L784.8 40.3L785.8 39.4L786.8 38.4L787.8 37.5L788.8 36.5L789.8 35.6L790.8 34.6L791.8 33.6L792.8 32.7L793.8 31.7L794.8 30.8L795.8 29.8L796.8 28.9L797.7 27.9L798.7 27L799.7 26L800.7 25L801.7 24.1L802.7 23.1L803.7 22.2L804.8 21.2L805.9 20.3L807.1 19.3L808.5 18.3L810.1 17.4L811.9 16.4L814.1 15.5L816.8 14.5L820 13.6L824.1 12.6"/>
<path d="M146 596.4L151.2 588.2L156.3 580L161.5 580.7L166.6 581.4L171.8 582.4L176.9 583.3L182.1 582.4L187.2 581.5L192.4 584.1L197.5 586.8L202.7 588.5L207.8 590.2L213 586.4L218.2 582.6L223.3 625.8L228.5 659.1L233.6 629.4L238.8 589.9L243.9 584.6L249.1 579.3L254.2 580.7L259.4 582L264.5 581L269.7 580L274.9 582.9L280 585.7L285.2 585L290.3 584.3L295.5 584.8L300.6 585.3L305.8 585L310.9 584.7L316.1 582.9L321.2 581.1L326.4 582.6L331.5 584L336.7 582.4L341.9 580.7L347 580.7L352.2 580.7L357.3 578.5L362.5 576.2L367.6 579.3L372.8 579.8L377.9 574.9L383.1 569.5L388.2 564.1L393.4 557.6L398.5 550.5L403.7 543.2L408.9 535.5L414 527.6L419.2 519.5L424.3 511.2L429.5 502.6L434.6 493.8L436.8 490L437.3 489L437.9 488.1L438.4 487.1L439 486.2L439.5 485.2L440.1 484.3L440.6 483.3L441.2 482.3L441.7 481.4L442.3 480.4L442.8 479.5L443.4 478.5L443.9 477.6L444.5 476.6L445 475.6L445.6 474.7L446.1 473.7L446.7 472.8L447.2 471.8L447.8 470.9L448.3 469.9L448.9 469L449.5 468L450 467L450.6 466.1L451.1 465.1L451.7 464.2L452.2 463.2L452.8 462.3L453.3 461.3L453.9 460.3L454.5 459.4L455 458.4L455.6 457.5L456.1 456.5L456.7 455.6L457.2 454.6L457.8 453.6L458.4 452.7L458.9 451.7L459.5 450.8L460 449.8L460.6 448.9L461.2 447.9L461.7 446.9L462.3 446L462.9 445L463.4 444.1L464 443.1L464.6 442.2L465.1 441.2L465.7 440.3L466.2 439.3L466.8 438.3L467.4 437.4L467.9 436.4L468.5 435.5L469.1 434.5L469.7 433.6L470.2 432.6L470.8 431.6L471.3 430.7L471.9 429.7L472.5 428.8L473 427.8L473.6 426.9L474.2 425.9L474.7 424.9L475.3 424L475.9 423L476.4 422.1L477 421.1L477.5 420.2L478.1 419.2L478.7 418.2L479.2 417.3L479.8 416.3L480.3 415.4L480.9 414.4L481.5 413.5L482 412.5L482.6 411.5L483.1 410.6L483.7 409.6L484.2 408.7L484.8 407.7L485.4 406.8L485.9 405.8L486.5 404.9L487 403.9L487.6 402.9L488.2 402L488.7 401L489.3 400.1L489.9 399.1L490.4 398.2L491 397.2L491.5 396.2L492.1 395.3L492.7 394.3L493.2 393.4L493.8 392.4L494.4 391.5L494.9 390.5L495.5 389.5L496.1 388.6L496.6 387.6L497.2 386.7L497.8 385.7L498.3 384.8L498.9 383.8L499.5 382.8L500 381.9L500.6 380.9L501.2 380L501.8 379L502.3 378.1L502.9 377.1L503.5 376.2L504.1 375.2L504.6 374.2L505.2 373.3L505.8 372.3L506.4 371.4L507 370.4L507.6 369.5L508.1 368.5L508.7 367.5L509.3 366.6L509.9 365.6L510.5 364.7L511.1 363.7L511.7 362.8L512.3 361.8L512.9 360.8L513.5 359.9L514.1 358.9L514.7 358L515.3 357L515.9 356.1L516.5 355.1L517.1 354.1L517.7 353.2L518.3 352.2L518.9 351.3L519.5 350.3L520.1 349.4L520.8 348.4L521.4 347.4L522 346.5L522.6 345.5L523.2 344.6L523.9 343.6L524.5 342.7L525.1 341.7L525.7 340.8L526.4 339.8L527 338.8L527.6 337.9L528.3 336.9L528.9 336L529.6 335L530.2 334.1L530.9 333.1L531.5 332.1L532.2 331.2L532.8 330.2L533.5 329.3L534.1 328.3L534.8 327.4L535.5 326.4L536.1 325.4L536.8 324.5L537.5 323.5L538.2 322.6L538.9 321.6L539.5 320.7L540.2 319.7L540.9 318.7L541.6 317.8L542.3 316.8L543 315.9L543.7 314.9L544.4 314L545.1 313L545.9 312.1L546.6 311.1L547.3 310.1L548 309.2L548.7 308.2L549.5 307.3L550.2 306.3L550.9 305.4L551.6 304.4L552.4 303.4L553.1 302.5L553.9 301.5L554.6 300.6L555.3 299.6L556.1 298.7L556.8 297.7L557.6 296.7L558.3 295.8L559.1 294.8L559.8 293.9L560.6 292.9L561.3 292L562.1 291L562.8 290L563.6 289.1L564.4 288.1L565.1 287.2L565.9 286.2L566.7 285.3L567.4 284.3L568.2 283.3L569 282.4L569.8 281.4L570.5 280.5L571.3 279.5L572.1 278.6L572.9 277.6L573.7 276.7L574.5 275.7L575.3 274.7L576.1 273.8L576.9 272.8L577.7 271.9L578.5 270.9L579.3 270L580.1 269L580.9 268L581.7 267.1L582.5 266.1L583.3 265.2L584.1 264.2L584.9 263.3L585.8 262.3L586.6 261.3L587.4 260.4L588.2 259.4L589.1 258.5L589.9 257.5L590.7 256.6L591.6 255.6L592.4 254.6L593.2 253.7L594.1 252.7L594.9 251.8L595.8 250.8L596.6 249.9L597.5 248.9L598.3 248L599.2 247L600 246L600.9 245.1L601.8 244.1L602.6 243.2L603.5 242.2L604.4 241.3L605.3 240.3L606.1 239.3L607 238.4L607.9 237.4L608.8 236.5L609.7 235.5L610.6 234.6L611.5 233.6L612.4 232.6L613.3 231.7L614.2 230.7L615.2 229.8L616.1 228.8L617 227.9L617.9 226.9L618.9 225.9L619.8 225L620.7 224L621.7 223.1L622.6 222.1L623.6 221.2L624.5 220.2L625.5 219.3L626.4 218.3L627.4 217.3L628.3 216.4L629.3 215.4L630.2 214.5L631.2 213.5L632.1 212.6L633.1 211.6L634.1 210.6L635 209.7L636 208.7L636.9 207.8L637.9 206.8L638.9 205.9L639.8 204.9L640.8 203.9L641.7 203L642.7 202L643.7 201.1L644.6 200.1L645.6 199.2L646.5 198.2L647.5 197.2L648.4 196.3L649.4 195.3L650.3 194.4L651.3 193.4L652.2 192.5L653.2 191.5L654.1 190.5L655.1 189.6L656 188.6L657 187.7L657.9 186.7L658.8 185.8L659.8 184.8L660.7 183.9L661.7 182.9L662.6 181.9L663.5 181L664.5 180L665.4 179.1L666.4 178.1L667.3 177.2L668.3 176.2L669.2 175.2L670.2 174.3L671.1 173.3L672.1 172.4L673.1 171.4L674 170.5L675 169.5L676 168.5L677 167.6L678 166.6L679 165.7L680 164.7L681 163.8L682 162.8L683.1 161.8L684.1 160.9L685.1 159.9L686.2 159L687.2 158L688.3 157.1L689.3 156.1L690.4 155.2L691.4 154.2L692.5 153.2L693.5 152.3L694.6 151.3L695.6 150.4L696.7 149.4L697.7 148.5L698.8 147.5L699.8 146.5L700.9 145.6L701.9 144.6L702.9 143.7L703.9 142.7L705 141.8L706 140.8L707 139.8L708 138.9L709 137.9L710 137L711 136L712 135.1L713 134.1L714 133.1L715 132.2L715.9 131.2L716.9 130.3L717.9 129.3L718.9 128.4L719.9 127.4L720.9 126.4L721.8 125.5L722.8 124.5L723.8 123.6L724.8 122.6L725.8 121.7L726.7 120.7L727.7 119.8L728.7 118.8L729.6 117.8L730.6 116.9L731.6 115.9L732.6 115L733.6 114L734.5 113.1L735.5 112.1L736.5 111.1L737.5 110.2L738.5 109.2L739.5 108.3L740.5 107.3L741.4 106.4L742.4 105.4L743.4 104.4L744.4 103.5L745.3 102.5L746.3 101.6L747.3 100.6L748.2 99.7L749.2 98.7L750.1 97.7L751 96.8L751.9 95.8L752.8 94.9L753.7 93.9L754.6 93L755.5 92L756.4 91.1L757.2 90.1L758 89.1L758.8 88.2L759.7 87.2L760.5 86.3L761.2 85.3L762 84.4L762.8 83.4L763.6 82.4L764.3 81.5L765.1 80.5L765.8 79.6L766.6 78.6L767.3 77.7L768 76.7L768.8 75.7L769.5 74.8L770.3 73.8L771 72.9L771.8 71.9L772.5 71L773.3 70L774.1 69L774.8 68.1L775.6 67.1L776.4 66.2L777.2 65.2L778 64.3L778.8 63.3L779.7 62.3L780.5 61.4L781.4 60.4L782.3 59.5L783.2 58.5L784.1 57.6L785 56.6L786 55.7L786.9 54.7L787.9 53.7L788.8 52.8L789.8 51.8L790.8 50.9L791.8 49.9L792.8 49L793.8 48L794.8 47L795.9 46.1L796.9 45.1L797.9 44.2L799 43.2L800 42.3L801 41.3L802.1 40.3L803.1 39.4L804.2 38.4L805.2 37.5L806.2 36.5L807.3 35.6L808.3 34.6L809.3 33.6L810.4 32.7L811.4 31.7L812.4 30.8L813.4 29.8L814.4 28.9L815.4 27.9L816.4 27L817.4 26L818.4 25L819.4 24.1L820.4 23.1L821.5 22.2L822.5 21.2L823.6 20.3L824.8 19.3L826.1 18.3L827.5 17.4L829.2 16.4L831 15.5L833.3 14.5L836 13.6L839.2 12.6"/>
<path d="M146 642.8L151.2 627.2L156.3 611.5L161.5 613.2L166.6 614.9L171.8 614.1L176.9 613.3L182.1 619.7L187.2 626L192.4 621.6L197.5 617.2L202.7 616.7L207.8 616.2L213 608.7L218.2 601.3L223.3 605.9L228.5 610.6L233.6 612.5L238.8 614.3L243.9 605.9L249.1 597.5L254.2 608.9L259.4 620.3L264.5 619.4L269.7 618.5L274.9 626.3L280 634.1L285.2 615.6L290.3 597.1L295.5 600.4L300.6 603.7L305.8 636.2L310.9 658.4L316.1 637.3L321.2 606.9L326.4 609.9L331.5 612.9L336.7 597.4L341.9 581.9L347 579.8L352.2 577.8L357.3 579.2L362.5 580.7L367.6 578.4L372.8 576.2L377.9 578.8L383.1 580.8L388.2 578.5L393.4 575.6L398.5 572.4L403.7 567.9L408.9 562.3L414 555.7L419.2 548.5L424.3 541L429.5 533.2L434.6 525.1L439.8 516.6L444.9 507.9L450.1 498.9L455 490L455.5 489L456 488.1L456.6 487.1L457.1 486.2L457.6 485.2L458.1 484.3L458.7 483.3L459.2 482.3L459.7 481.4L460.2 480.4L460.8 479.5L461.3 478.5L461.8 477.6L462.3 476.6L462.9 475.6L463.4 474.7L463.9 473.7L464.4 472.8L465 471.8L465.5 470.9L466 469.9L466.5 469L467.1 468L467.6 467L468.1 466.1L468.7 465.1L469.2 464.2L469.7 463.2L470.2 462.3L470.8 461.3L471.3 460.3L471.8 459.4L472.4 458.4L472.9 457.5L473.4 456.5L474 455.6L474.5 454.6L475 453.6L475.6 452.7L476.1 451.7L476.6 450.8L477.2 449.8L477.7 448.9L478.2 447.9L478.8 446.9L479.3 446L479.8 445L480.4 444.1L480.9 443.1L481.4 442.2L482 441.2L482.5 440.3L483 439.3L483.6 438.3L484.1 437.4L484.7 436.4L485.2 435.5L485.7 434.5L486.3 433.6L486.8 432.6L487.3 431.6L487.9 430.7L488.4 429.7L489 428.8L489.5 427.8L490 426.9L490.5 425.9L491.1 424.9L491.6 424L492.1 423L492.7 422.1L493.2 421.1L493.7 420.2L494.3 419.2L494.8 418.2L495.3 417.3L495.8 416.3L496.4 415.4L496.9 414.4L497.4 413.5L497.9 412.5L498.5 411.5L499 410.6L499.5 409.6L500 408.7L500.6 407.7L501.1 406.8L501.6 405.8L502.1 404.9L502.7 403.9L503.2 402.9L503.7 402L504.3 401L504.8 400.1L505.3 399.1L505.8 398.2L506.4 397.2L506.9 396.2L507.4 395.3L507.9 394.3L508.5 393.4L509 392.4L509.5 391.5L510.1 390.5L510.6 389.5L511.1 388.6L511.7 387.6L512.2 386.7L512.7 385.7L513.3 384.8L513.8 383.8L514.3 382.8L514.9 381.9L515.4 380.9L515.9 380L516.5 379L517 378.1L517.6 377.1L518.1 376.2L518.7 375.2L519.2 374.2L519.8 373.3L520.3 372.3L520.8 371.4L521.4 370.4L522 369.5L522.5 368.5L523.1 367.5L523.6 366.6L524.2 365.6L524.7 364.7L525.3 363.7L525.8 362.8L526.4 361.8L527 360.8L527.5 359.9L528.1 358.9L528.7 358L529.3 357L529.8 356.1L530.4 355.1L531 354.1L531.6 353.2L532.1 352.2L532.7 351.3L533.3 350.3L533.9 349.4L534.5 348.4L535.1 347.4L535.7 346.5L536.3 345.5L536.8 344.6L537.4 343.6L538 342.7L538.6 341.7L539.3 340.8L539.9 339.8L540.5 338.8L541.1 337.9L541.7 336.9L542.3 336L542.9 335L543.6 334.1L544.2 333.1L544.8 332.1L545.4 331.2L546.1 330.2L546.7 329.3L547.4 328.3L548 327.4L548.7 326.4L549.3 325.4L550 324.5L550.6 323.5L551.3 322.6L552 321.6L552.6 320.7L553.3 319.7L554 318.7L554.7 317.8L555.4 316.8L556.1 315.9L556.8 314.9L557.5 314L558.2 313L558.9 312.1L559.6 311.1L560.3 310.1L561 309.2L561.7 308.2L562.4 307.3L563.2 306.3L563.9 305.4L564.6 304.4L565.3 303.4L566.1 302.5L566.8 301.5L567.5 300.6L568.3 299.6L569 298.7L569.8 297.7L570.5 296.7L571.2 295.8L572 294.8L572.7 293.9L573.5 292.9L574.2 292L575 291L575.7 290L576.5 289.1L577.2 288.1L578 287.2L578.8 286.2L579.5 285.3L580.3 284.3L581.1 283.3L581.8 282.4L582.6 281.4L583.4 280.5L584.2 279.5L584.9 278.6L585.7 277.6L586.5 276.7L587.3 275.7L588.1 274.7L588.9 273.8L589.7 272.8L590.5 271.9L591.3 270.9L592.1 270L592.9 269L593.7 268L594.5 267.1L595.3 266.1L596.1 265.2L596.9 264.2L597.8 263.3L598.6 262.3L599.4 261.3L600.2 260.4L601 259.4L601.9 258.5L602.7 257.5L603.5 256.6L604.4 255.6L605.2 254.6L606.1 253.7L606.9 252.7L607.7 251.8L608.6 250.8L609.4 249.9L610.3 248.9L611.1 248L612 247L612.9 246L613.7 245.1L614.6 244.1L615.4 243.2L616.3 242.2L617.2 241.3L618.1 240.3L618.9 239.3L619.8 238.4L620.7 237.4L621.6 236.5L622.5 235.5L623.4 234.6L624.3 233.6L625.2 232.6L626.1 231.7L627 230.7L627.9 229.8L628.8 228.8L629.7 227.9L630.7 226.9L631.6 225.9L632.5 225L633.4 224L634.4 223.1L635.3 222.1L636.2 221.2L637.2 220.2L638.1 219.3L639.1 218.3L640 217.3L641 216.4L641.9 215.4L642.9 214.5L643.8 213.5L644.8 212.6L645.7 211.6L646.7 210.6L647.6 209.7L648.6 208.7L649.6 207.8L650.5 206.8L651.5 205.9L652.5 204.9L653.4 203.9L654.4 203L655.3 202L656.3 201.1L657.3 200.1L658.3 199.2L659.2 198.2L660.2 197.2L661.2 196.3L662.1 195.3L663.1 194.4L664.1 193.4L665 192.5L666 191.5L667 190.5L667.9 189.6L668.9 188.6L669.9 187.7L670.9 186.7L671.9 185.8L672.9 184.8L673.9 183.9L674.9 182.9L675.9 181.9L676.9 181L677.9 180L678.9 179.1L679.9 178.1L680.9 177.2L681.9 176.2L682.9 175.2L683.9 174.3L684.9 173.3L685.9 172.4L686.9 171.4L687.9 170.5L688.9 169.5L689.9 168.5L690.9 167.6L691.9 166.6L692.9 165.7L693.9 164.7L694.9 163.8L695.9 162.8L696.8 161.8L697.8 160.9L698.8 159.9L699.8 159L700.8 158L701.8 157.1L702.8 156.1L703.8 155.2L704.8 154.2L705.8 153.2L706.7 152.3L707.7 151.3L708.7 150.4L709.7 149.4L710.7 148.5L711.7 147.5L712.8 146.5L713.8 145.6L714.8 144.6L715.8 143.7L716.8 142.7L717.9 141.8L718.9 140.8L719.9 139.8L721 138.9L722 137.9L723.1 137L724.2 136L725.2 135.1L726.3 134.1L727.4 133.1L728.4 132.2L729.5 131.2L730.6 130.3L731.7 129.3L732.8 128.4L733.8 127.4L734.9 126.4L736 125.5L737.1 124.5L738.1 123.6L739.2 122.6L740.3 121.7L741.3 120.7L742.4 119.8L743.4 118.8L744.5 117.8L745.5 116.9L746.6 115.9L747.6 115L748.7 114L749.7 113.1L750.8 112.1L751.8 111.1L752.8 110.2L753.9 109.2L754.9 108.3L756 107.3L757 106.4L758.1 105.4L759.1 104.4L760.1 103.5L761.2 102.5L762.2 101.6L763.2 100.6L764.2 99.7L765.2 98.7L766.1 97.7L767.1 96.8L768.1 95.8L769 94.9L770 93.9L770.9 93L771.8 92L772.7 91.1L773.6 90.1L774.4 89.1L775.3 88.2L776.1 87.2L776.9 86.3L777.8 85.3L778.6 84.4L779.4 83.4L780.2 82.4L781 81.5L781.7 80.5L782.5 79.6L783.3 78.6L784 77.7L784.8 76.7L785.6 75.7L786.3 74.8L787.1 73.8L787.9 72.9L788.6 71.9L789.4 71L790.2 70L791 69L791.8 68.1L792.6 67.1L793.4 66.2L794.2 65.2L795 64.3L795.8 63.3L796.7 62.3L797.5 61.4L798.4 60.4L799.3 59.5L800.2 58.5L801.1 57.6L802 56.6L802.9 55.7L803.9 54.7L804.8 53.7L805.8 52.8L806.7 51.8L807.7 50.9L808.7 49.9L809.6 49L810.6 48L811.6 47L812.6 46.1L813.6 45.1L814.6 44.2L815.6 43.2L816.6 42.3L817.6 41.3L818.6 40.3L819.6 39.4L820.6 38.4L821.6 37.5L822.6 36.5L823.6 35.6L824.6 34.6L825.6 33.6L826.6 32.7L827.6 31.7L828.6 30.8L829.6 29.8L830.6 28.9L831.5 27.9L832.5 27L833.5 26L834.5 25L835.5 24.1L836.4 23.1L837.5 22.2L838.5 21.2L839.6 20.3L840.8 19.3L842 18.3L843.5 17.4L845.1 16.4L847.1 15.5L849.4 14.5L852.1 13.6L855.5 12.6"/>
<path d="M146 579.8L151.2 579.6L156.3 579.4L161.5 578.5L166.6 577.7L171.8 573.1L176.9 568.5L182.1 571.6L187.2 574.7L192.4 576.5L197.5 578.4L202.7 579.8L207.8 581.3L213 581.4L218.2 581.5L223.3 575.6L228.5 569.8L233.6 572.6L238.8 575.5L243.9 576.6L249.1 577.7L254.2 578.7L259.4 579.6L264.5 581.2L269.7 582.8L274.9 580.5L280 578.3L285.2 576.5L290.3 574.7L295.5 577.1L300.6 579.5L305.8 579.1L310.9 578.8L316.1 578.8L321.2 578.7L326.4 623.8L331.5 657.4L336.7 625.5L341.9 582.4L347 580.5L352.2 578.6L357.3 579.4L362.5 580.2L367.6 578L372.8 575.8L377.9 577.8L383.1 579.8L388.2 578L393.4 576.2L398.5 574.7L403.7 573L408.9 573.4L414 572.1L419.2 568.7L424.3 564.4L429.5 559.1L434.6 553.1L439.8 546.5L444.9 539.3L450.1 531.6L455.2 523.3L460.4 514.4L465.5 505.1L470.7 495.2L473.3 490L473.8 489L474.2 488.1L474.7 487.1L475.2 486.2L475.7 485.2L476.1 484.3L476.6 483.3L477.1 482.3L477.6 481.4L478.1 480.4L478.5 479.5L479 478.5L479.5 477.6L480 476.6L480.5 475.6L480.9 474.7L481.4 473.7L481.9 472.8L482.4 471.8L482.9 470.9L483.3 469.9L483.8 469L484.3 468L484.8 467L485.3 466.1L485.8 465.1L486.2 464.2L486.7 463.2L487.2 462.3L487.7 461.3L488.2 460.3L488.7 459.4L489.2 458.4L489.7 457.5L490.1 456.5L490.6 455.6L491.1 454.6L491.6 453.6L492.1 452.7L492.6 451.7L493.1 450.8L493.6 449.8L494.1 448.9L494.6 447.9L495.1 446.9L495.6 446L496.1 445L496.6 444.1L497.1 443.1L497.6 442.2L498.1 441.2L498.6 440.3L499.1 439.3L499.6 438.3L500.1 437.4L500.6 436.4L501.1 435.5L501.6 434.5L502.1 433.6L502.6 432.6L503.1 431.6L503.6 430.7L504.1 429.7L504.6 428.8L505.1 427.8L505.6 426.9L506.1 425.9L506.6 424.9L507.1 424L507.6 423L508.1 422.1L508.6 421.1L509.1 420.2L509.5 419.2L510 418.2L510.5 417.3L511 416.3L511.5 415.4L512 414.4L512.5 413.5L513 412.5L513.5 411.5L514 410.6L514.5 409.6L515 408.7L515.5 407.7L516 406.8L516.5 405.8L516.9 404.9L517.4 403.9L517.9 402.9L518.4 402L518.9 401L519.4 400.1L519.9 399.1L520.4 398.2L520.9 397.2L521.4 396.2L521.9 395.3L522.4 394.3L522.9 393.4L523.4 392.4L523.9 391.5L524.4 390.5L524.9 389.5L525.4 388.6L525.9 387.6L526.4 386.7L526.9 385.7L527.4 384.8L528 383.8L528.5 382.8L529 381.9L529.5 380.9L530 380L530.5 379L531 378.1L531.5 377.1L532.1 376.2L532.6 375.2L533.1 374.2L533.6 373.3L534.1 372.3L534.7 371.4L535.2 370.4L535.7 369.5L536.3 368.5L536.8 367.5L537.3 366.6L537.9 365.6L538.4 364.7L538.9 363.7L539.5 362.8L540 361.8L540.6 360.8L541.1 359.9L541.6 358.9L542.2 358L542.7 357L543.3 356.1L543.9 355.1L544.4 354.1L545 353.2L545.5 352.2L546.1 351.3L546.7 350.3L547.2 349.4L547.8 348.4L548.4 347.4L549 346.5L549.5 345.5L550.1 344.6L550.7 343.6L551.3 342.7L551.9 341.7L552.5 340.8L553.1 339.8L553.7 338.8L554.3 337.9L554.9 336.9L555.5 336L556.1 335L556.7 334.1L557.3 333.1L557.9 332.1L558.5 331.2L559.2 330.2L559.8 329.3L560.4 328.3L561.1 327.4L561.7 326.4L562.4 325.4L563.1 324.5L563.7 323.5L564.4 322.6L565.1 321.6L565.8 320.7L566.5 319.7L567.2 318.7L567.9 317.8L568.6 316.8L569.3 315.9L570 314.9L570.7 314L571.4 313L572.2 312.1L572.9 311.1L573.6 310.1L574.3 309.2L575.1 308.2L575.8 307.3L576.5 306.3L577.3 305.4L578 304.4L578.8 303.4L579.5 302.5L580.3 301.5L581 300.6L581.8 299.6L582.5 298.7L583.3 297.7L584 296.7L584.7 295.8L585.5 294.8L586.2 293.9L587 292.9L587.7 292L588.5 291L589.2 290L590 289.1L590.7 288.1L591.4 287.2L592.2 286.2L592.9 285.3L593.7 284.3L594.4 283.3L595.1 282.4L595.9 281.4L596.6 280.5L597.4 279.5L598.1 278.6L598.8 277.6L599.6 276.7L600.3 275.7L601.1 274.7L601.8 273.8L602.6 272.8L603.3 271.9L604.1 270.9L604.8 270L605.6 269L606.4 268L607.1 267.1L607.9 266.1L608.7 265.2L609.4 264.2L610.2 263.3L611 262.3L611.8 261.3L612.6 260.4L613.4 259.4L614.2 258.5L615 257.5L615.8 256.6L616.6 255.6L617.4 254.6L618.2 253.7L619 252.7L619.9 251.8L620.7 250.8L621.6 249.9L622.4 248.9L623.3 248L624.1 247L625 246L625.8 245.1L626.7 244.1L627.6 243.2L628.5 242.2L629.4 241.3L630.3 240.3L631.3 239.3L632.2 238.4L633.2 237.4L634.2 236.5L635.2 235.5L636.2 234.6L637.3 233.6L638.3 232.6L639.4 231.7L640.4 230.7L641.5 229.8L642.6 228.8L643.6 227.9L644.7 226.9L645.8 225.9L646.9 225L647.9 224L649 223.1L650.1 222.1L651.1 221.2L652.2 220.2L653.2 219.3L654.3 218.3L655.3 217.3L656.3 216.4L657.3 215.4L658.3 214.5L659.2 213.5L660.2 212.6L661.1 211.6L662 210.6L662.9 209.7L663.7 208.7L664.6 207.8L665.4 206.8L666.3 205.9L667.1 204.9L667.9 203.9L668.7 203L669.6 202L670.4 201.1L671.2 200.1L672 199.2L672.8 198.2L673.7 197.2L674.5 196.3L675.3 195.3L676.2 194.4L677.1 193.4L678 192.5L678.9 191.5L679.8 190.5L680.7 189.6L681.6 188.6L682.6 187.7L683.5 186.7L684.5 185.8L685.5 184.8L686.5 183.9L687.4 182.9L688.4 181.9L689.4 181L690.4 180L691.4 179.1L692.4 178.1L693.4 177.2L694.4 176.2L695.4 175.2L696.4 174.3L697.4 173.3L698.4 172.4L699.4 171.4L700.4 170.5L701.4 169.5L702.4 168.5L703.4 167.6L704.4 166.6L705.4 165.7L706.3 164.7L707.3 163.8L708.3 162.8L709.2 161.8L710.2 160.9L711.2 159.9L712.1 159L713.1 158L714 157.1L715 156.1L716 155.2L716.9 154.2L717.9 153.2L718.9 152.3L719.9 151.3L720.8 150.4L721.8 149.4L722.8 148.5L723.8 147.5L724.9 146.5L725.9 145.6L726.9 144.6L728 143.7L729 142.7L730.1 141.8L731.2 140.8L732.3 139.8L733.4 138.9L734.5 137.9L735.7 137L736.8 136L738 135.1L739.2 134.1L740.4 133.1L741.5 132.2L742.7 131.2L744 130.3L745.2 129.3L746.4 128.4L747.6 127.4L748.8 126.4L750 125.5L751.2 124.5L752.4 123.6L753.6 122.6L754.7 121.7L755.9 120.7L757.1 119.8L758.2 118.8L759.3 117.8L760.4 116.9L761.5 115.9L762.7 115L763.8 114L764.9 113.1L766 112.1L767.1 111.1L768.2 110.2L769.3 109.2L770.4 108.3L771.4 107.3L772.5 106.4L773.6 105.4L774.7 104.4L775.7 103.5L776.8 102.5L777.8 101.6L778.9 100.6L779.9 99.7L780.9 98.7L782 97.7L783 96.8L783.9 95.8L784.9 94.9L785.9 93.9L786.9 93L787.8 92L788.7 91.1L789.6 90.1L790.5 89.1L791.4 88.2L792.3 87.2L793.2 86.3L794 85.3L794.9 84.4L795.7 83.4L796.5 82.4L797.3 81.5L798.1 80.5L798.9 79.6L799.8 78.6L800.6 77.7L801.3 76.7L802.1 75.7L802.9 74.8L803.7 73.8L804.5 72.9L805.3 71.9L806.1 71L806.9 70L807.7 69L808.5 68.1L809.4 67.1L810.2 66.2L811 65.2L811.8 64.3L812.7 63.3L813.5 62.3L814.4 61.4L815.3 60.4L816.2 59.5L817.1 58.5L818 57.6L818.9 56.6L819.8 55.7L820.8 54.7L821.7 53.7L822.6 52.8L823.6 51.8L824.5 50.9L825.5 49.9L826.4 49L827.4 48L828.4 47L829.3 46.1L830.3 45.1L831.3 44.2L832.3 43.2L833.2 42.3L834.2 41.3L835.2 40.3L836.2 39.4L837.2 38.4L838.1 37.5L839.1 36.5L840.1 35.6L841.1 34.6L842 33.6L843 32.7L844 31.7L844.9 30.8L845.9 29.8L846.8 28.9L847.8 27.9L848.7 27L849.7 26L850.7 25L851.6 24.1L852.6 23.1L853.6 22.2L854.6 21.2L855.7 20.3L856.9 19.3L858.1 18.3L859.6 17.4L861.2 16.4L863.2 15.5L865.5 14.5L868.3 13.6L871.8 12.6"/>
<path d="M146 591L151.2 591.3L156.3 591.6L161.5 593.3L166.6 595L171.8 598.1L176.9 601.2L182.1 598.5L187.2 595.8L192.4 596.5L197.5 597.1L202.7 594.5L207.8 591.8L213 588.6L218.2 585.4L223.3 589.5L228.5 593.5L233.6 595.5L238.8 597.5L243.9 598.2L249.1 599L254.2 589.4L259.4 579.8L264.5 599.5L269.7 619.2L274.9 601.8L280 584.4L285.2 581.5L290.3 578.7L295.5 576.1L300.6 573.5L305.8 574.6L310.9 575.6L316.1 578.7L321.2 581.8L326.4 581.6L331.5 581.4L336.7 580.8L341.9 580.2L347 579.2L352.2 578.1L357.3 578.8L362.5 579.4L367.6 578.9L372.8 578.3L377.9 578.2L383.1 578.1L388.2 578.9L393.4 579.6L398.5 579.2L403.7 578.8L408.9 578.4L414 577.8L419.2 577.6L424.3 576.7L429.5 574.2L434.6 570.9L439.8 566.5L444.9 561.7L450.1 557L455.2 551.2L460.4 544.6L465.5 537.1L470.7 529L475.9 520.1L481 510.5L486.2 500.3L491 490L491.4 489L491.9 488.1L492.3 487.1L492.8 486.2L493.2 485.2L493.6 484.3L494.1 483.3L494.5 482.3L495 481.4L495.4 480.4L495.8 479.5L496.3 478.5L496.7 477.6L497.2 476.6L497.6 475.6L498.1 474.7L498.5 473.7L498.9 472.8L499.4 471.8L499.8 470.9L500.3 469.9L500.7 469L501.2 468L501.6 467L502.1 466.1L502.5 465.1L503 464.2L503.4 463.2L503.9 462.3L504.3 461.3L504.8 460.3L505.3 459.4L505.7 458.4L506.2 457.5L506.6 456.5L507.1 455.6L507.5 454.6L508 453.6L508.5 452.7L508.9 451.7L509.4 450.8L509.8 449.8L510.3 448.9L510.8 447.9L511.2 446.9L511.7 446L512.2 445L512.6 444.1L513.1 443.1L513.6 442.2L514 441.2L514.5 440.3L515 439.3L515.4 438.3L515.9 437.4L516.4 436.4L516.9 435.5L517.3 434.5L517.8 433.6L518.3 432.6L518.7 431.6L519.2 430.7L519.7 429.7L520.2 428.8L520.6 427.8L521.1 426.9L521.6 425.9L522 424.9L522.5 424L523 423L523.4 422.1L523.9 421.1L524.3 420.2L524.8 419.2L525.3 418.2L525.7 417.3L526.2 416.3L526.7 415.4L527.1 414.4L527.6 413.5L528 412.5L528.5 411.5L529 410.6L529.4 409.6L529.9 408.7L530.4 407.7L530.8 406.8L531.3 405.8L531.8 404.9L532.2 403.9L532.7 402.9L533.1 402L533.6 401L534.1 400.1L534.5 399.1L535 398.2L535.5 397.2L535.9 396.2L536.4 395.3L536.9 394.3L537.4 393.4L537.8 392.4L538.3 391.5L538.8 390.5L539.3 389.5L539.7 388.6L540.2 387.6L540.7 386.7L541.2 385.7L541.6 384.8L542.1 383.8L542.6 382.8L543.1 381.9L543.6 380.9L544.1 380L544.5 379L545 378.1L545.5 377.1L546 376.2L546.5 375.2L547 374.2L547.5 373.3L548 372.3L548.5 371.4L549 370.4L549.5 369.5L550 368.5L550.5 367.5L551 366.6L551.5 365.6L552.1 364.7L552.6 363.7L553.1 362.8L553.6 361.8L554.1 360.8L554.7 359.9L555.2 358.9L555.7 358L556.2 357L556.8 356.1L557.3 355.1L557.9 354.1L558.4 353.2L558.9 352.2L559.5 351.3L560 350.3L560.6 349.4L561.1 348.4L561.7 347.4L562.3 346.5L562.8 345.5L563.4 344.6L564 343.6L564.5 342.7L565.1 341.7L565.7 340.8L566.3 339.8L566.8 338.8L567.4 337.9L568 336.9L568.6 336L569.2 335L569.8 334.1L570.4 333.1L571 332.1L571.6 331.2L572.2 330.2L572.9 329.3L573.5 328.3L574.2 327.4L574.8 326.4L575.5 325.4L576.1 324.5L576.8 323.5L577.5 322.6L578.2 321.6L578.9 320.7L579.6 319.7L580.3 318.7L581 317.8L581.7 316.8L582.4 315.9L583.2 314.9L583.9 314L584.6 313L585.4 312.1L586.1 311.1L586.9 310.1L587.6 309.2L588.4 308.2L589.1 307.3L589.9 306.3L590.7 305.4L591.4 304.4L592.2 303.4L592.9 302.5L593.7 301.5L594.5 300.6L595.2 299.6L596 298.7L596.8 297.7L597.5 296.7L598.3 295.8L599.1 294.8L599.8 293.9L600.6 292.9L601.3 292L602.1 291L602.8 290L603.6 289.1L604.4 288.1L605.1 287.2L605.9 286.2L606.6 285.3L607.4 284.3L608.1 283.3L608.9 282.4L609.7 281.4L610.4 280.5L611.2 279.5L612 278.6L612.7 277.6L613.5 276.7L614.3 275.7L615 274.7L615.8 273.8L616.6 272.8L617.3 271.9L618.1 270.9L618.9 270L619.7 269L620.5 268L621.2 267.1L622 266.1L622.8 265.2L623.6 264.2L624.4 263.3L625.2 262.3L626 261.3L626.8 260.4L627.6 259.4L628.4 258.5L629.2 257.5L630 256.6L630.9 255.6L631.7 254.6L632.5 253.7L633.3 252.7L634.2 251.8L635 250.8L635.8 249.9L636.7 248.9L637.5 248L638.4 247L639.2 246L640.1 245.1L641 244.1L641.8 243.2L642.7 242.2L643.6 241.3L644.5 240.3L645.4 239.3L646.3 238.4L647.2 237.4L648.2 236.5L649.1 235.5L650 234.6L651 233.6L652 232.6L652.9 231.7L653.9 230.7L654.9 229.8L655.9 228.8L656.9 227.9L657.8 226.9L658.8 225.9L659.8 225L660.8 224L661.8 223.1L662.8 222.1L663.8 221.2L664.7 220.2L665.7 219.3L666.7 218.3L667.7 217.3L668.6 216.4L669.6 215.4L670.5 214.5L671.4 213.5L672.4 212.6L673.3 211.6L674.2 210.6L675.1 209.7L676 208.7L676.9 207.8L677.8 206.8L678.7 205.9L679.6 204.9L680.4 203.9L681.3 203L682.2 202L683.1 201.1L683.9 200.1L684.8 199.2L685.7 198.2L686.6 197.2L687.4 196.3L688.3 195.3L689.2 194.4L690 193.4L690.9 192.5L691.7 191.5L692.6 190.5L693.5 189.6L694.3 188.6L695.1 187.7L696 186.7L696.8 185.8L697.6 184.8L698.4 183.9L699.3 182.9L700.1 181.9L700.9 181L701.7 180L702.5 179.1L703.4 178.1L704.2 177.2L705 176.2L705.9 175.2L706.7 174.3L707.6 173.3L708.5 172.4L709.3 171.4L710.2 170.5L711.1 169.5L712 168.5L712.9 167.6L713.9 166.6L714.8 165.7L715.8 164.7L716.7 163.8L717.7 162.8L718.6 161.8L719.6 160.9L720.6 159.9L721.6 159L722.6 158L723.6 157.1L724.6 156.1L725.7 155.2L726.7 154.2L727.7 153.2L728.8 152.3L729.9 151.3L730.9 150.4L732 149.4L733.1 148.5L734.2 147.5L735.3 146.5L736.4 145.6L737.5 144.6L738.6 143.7L739.8 142.7L740.9 141.8L742.1 140.8L743.2 139.8L744.5 138.9L745.7 137.9L746.9 137L748.2 136L749.5 135.1L750.8 134.1L752.1 133.1L753.4 132.2L754.7 131.2L756 130.3L757.4 129.3L758.7 128.4L760 127.4L761.3 126.4L762.7 125.5L764 124.5L765.3 123.6L766.6 122.6L767.9 121.7L769.1 120.7L770.4 119.8L771.6 118.8L772.8 117.8L774 116.9L775.2 115.9L776.4 115L777.6 114L778.8 113.1L780 112.1L781.1 111.1L782.3 110.2L783.4 109.2L784.6 108.3L785.8 107.3L786.9 106.4L788 105.4L789.2 104.4L790.3 103.5L791.4 102.5L792.5 101.6L793.6 100.6L794.7 99.7L795.8 98.7L796.8 97.7L797.9 96.8L798.9 95.8L800 94.9L801 93.9L802 93L803 92L804 91.1L804.9 90.1L805.9 89.1L806.9 88.2L807.8 87.2L808.7 86.3L809.6 85.3L810.5 84.4L811.4 83.4L812.3 82.4L813.2 81.5L814.1 80.5L814.9 79.6L815.8 78.6L816.7 77.7L817.5 76.7L818.4 75.7L819.2 74.8L820.1 73.8L820.9 72.9L821.8 71.9L822.6 71L823.5 70L824.3 69L825.2 68.1L826 67.1L826.9 66.2L827.8 65.2L828.6 64.3L829.5 63.3L830.4 62.3L831.3 61.4L832.2 60.4L833.1 59.5L834 58.5L834.9 57.6L835.8 56.6L836.8 55.7L837.7 54.7L838.6 53.7L839.6 52.8L840.5 51.8L841.4 50.9L842.4 49.9L843.3 49L844.2 48L845.2 47L846.1 46.1L847.1 45.1L848 44.2L849 43.2L849.9 42.3L850.9 41.3L851.8 40.3L852.7 39.4L853.7 38.4L854.6 37.5L855.6 36.5L856.5 35.6L857.5 34.6L858.4 33.6L859.4 32.7L860.3 31.7L861.2 30.8L862.2 29.8L863.1 28.9L864.1 27.9L865 27L865.9 26L866.9 25L867.8 24.1L868.8 23.1L869.7 22.2L870.7 21.2L871.8 20.3L872.9 19.3L874.1 18.3L875.5 17.4L877.1 16.4L878.9 15.5L881.1 14.5L883.7 13.6L886.9 12.6"/>
<path d="M146 579.8L151.2 583.1L156.3 586.3L161.5 582.1L166.6 577.8L171.8 581.8L176.9 585.8L182.1 578.8L187.2 571.8L192.4 593L197.5 614.3L202.7 593.4L207.8 572.5L213 576.8L218.2 581.1L223.3 578.5L228.5 575.9L233.6 577.6L238.8 579.2L243.9 579.8L249.1 580.4L254.2 580.3L259.4 580.1L264.5 582.1L269.7 584.1L274.9 584.3L280 584.4L285.2 580L290.3 575.5L295.5 577.4L300.6 579.3L305.8 578.6L310.9 577.8L316.1 576.6L321.2 575.4L326.4 579.5L331.5 583.7L336.7 582.2L341.9 580.7L347 579.4L352.2 578.1L357.3 577.9L362.5 577.6L367.6 578.6L372.8 579.5L377.9 577.8L383.1 576L388.2 577L393.4 578.1L398.5 579.8L403.7 581.6L408.9 581.2L414 580.9L419.2 578.7L424.3 576.6L429.5 576.9L434.6 577.3L439.8 579.8L444.9 581.4L450.1 576.7L455.2 571.8L460.4 568.9L465.5 564.3L470.7 558.4L475.9 552.1L481 545.3L486.2 537.4L491.3 528.3L496.5 518.1L501.6 506.9L506.8 494.6L508.6 490L509 489L509.3 488.1L509.7 487.1L510.1 486.2L510.5 485.2L510.9 484.3L511.2 483.3L511.6 482.3L512 481.4L512.4 480.4L512.8 479.5L513.2 478.5L513.5 477.6L513.9 476.6L514.3 475.6L514.7 474.7L515.1 473.7L515.5 472.8L515.9 471.8L516.3 470.9L516.7 469.9L517.1 469L517.5 468L517.9 467L518.3 466.1L518.7 465.1L519.1 464.2L519.5 463.2L519.9 462.3L520.3 461.3L520.7 460.3L521.1 459.4L521.5 458.4L521.9 457.5L522.3 456.5L522.7 455.6L523.2 454.6L523.6 453.6L524 452.7L524.4 451.7L524.8 450.8L525.3 449.8L525.7 448.9L526.1 447.9L526.5 446.9L527 446L527.4 445L527.8 444.1L528.2 443.1L528.7 442.2L529.1 441.2L529.5 440.3L530 439.3L530.4 438.3L530.9 437.4L531.3 436.4L531.7 435.5L532.2 434.5L532.6 433.6L533.1 432.6L533.5 431.6L534 430.7L534.4 429.7L534.9 428.8L535.3 427.8L535.7 426.9L536.2 425.9L536.6 424.9L537.1 424L537.5 423L538 422.1L538.4 421.1L538.9 420.2L539.3 419.2L539.8 418.2L540.2 417.3L540.7 416.3L541.1 415.4L541.6 414.4L542 413.5L542.5 412.5L543 411.5L543.4 410.6L543.9 409.6L544.3 408.7L544.8 407.7L545.2 406.8L545.7 405.8L546.2 404.9L546.6 403.9L547.1 402.9L547.6 402L548 401L548.5 400.1L549 399.1L549.4 398.2L549.9 397.2L550.4 396.2L550.8 395.3L551.3 394.3L551.8 393.4L552.3 392.4L552.7 391.5L553.2 390.5L553.7 389.5L554.2 388.6L554.7 387.6L555.1 386.7L555.6 385.7L556.1 384.8L556.6 383.8L557.1 382.8L557.6 381.9L558.1 380.9L558.6 380L559.1 379L559.6 378.1L560.1 377.1L560.6 376.2L561.1 375.2L561.6 374.2L562.1 373.3L562.6 372.3L563.1 371.4L563.6 370.4L564.1 369.5L564.6 368.5L565.1 367.5L565.6 366.6L566.2 365.6L566.7 364.7L567.2 363.7L567.7 362.8L568.3 361.8L568.8 360.8L569.3 359.9L569.8 358.9L570.4 358L570.9 357L571.5 356.1L572 355.1L572.5 354.1L573.1 353.2L573.6 352.2L574.2 351.3L574.7 350.3L575.3 349.4L575.8 348.4L576.4 347.4L576.9 346.5L577.5 345.5L578.1 344.6L578.6 343.6L579.2 342.7L579.8 341.7L580.3 340.8L580.9 339.8L581.5 338.8L582.1 337.9L582.7 336.9L583.2 336L583.8 335L584.4 334.1L585 333.1L585.6 332.1L586.2 331.2L586.8 330.2L587.4 329.3L588.1 328.3L588.7 327.4L589.3 326.4L590 325.4L590.6 324.5L591.3 323.5L591.9 322.6L592.6 321.6L593.3 320.7L593.9 319.7L594.6 318.7L595.3 317.8L596 316.8L596.7 315.9L597.4 314.9L598.1 314L598.8 313L599.5 312.1L600.2 311.1L600.9 310.1L601.7 309.2L602.4 308.2L603.1 307.3L603.8 306.3L604.6 305.4L605.3 304.4L606 303.4L606.8 302.5L607.5 301.5L608.3 300.6L609 299.6L609.7 298.7L610.5 297.7L611.2 296.7L612 295.8L612.7 294.8L613.4 293.9L614.2 292.9L614.9 292L615.7 291L616.4 290L617.2 289.1L617.9 288.1L618.7 287.2L619.4 286.2L620.1 285.3L620.9 284.3L621.6 283.3L622.4 282.4L623.2 281.4L623.9 280.5L624.7 279.5L625.4 278.6L626.2 277.6L627 276.7L627.7 275.7L628.5 274.7L629.3 273.8L630 272.8L630.8 271.9L631.6 270.9L632.4 270L633.1 269L633.9 268L634.7 267.1L635.5 266.1L636.3 265.2L637.1 264.2L637.9 263.3L638.7 262.3L639.5 261.3L640.3 260.4L641.1 259.4L641.9 258.5L642.7 257.5L643.5 256.6L644.4 255.6L645.2 254.6L646 253.7L646.8 252.7L647.7 251.8L648.5 250.8L649.3 249.9L650.2 248.9L651 248L651.9 247L652.7 246L653.6 245.1L654.5 244.1L655.3 243.2L656.2 242.2L657.1 241.3L658 240.3L658.9 239.3L659.8 238.4L660.7 237.4L661.7 236.5L662.6 235.5L663.6 234.6L664.5 233.6L665.5 232.6L666.5 231.7L667.5 230.7L668.4 229.8L669.4 228.8L670.4 227.9L671.4 226.9L672.4 225.9L673.4 225L674.4 224L675.4 223.1L676.4 222.1L677.3 221.2L678.3 220.2L679.3 219.3L680.3 218.3L681.2 217.3L682.2 216.4L683.1 215.4L684 214.5L685 213.5L685.9 212.6L686.8 211.6L687.7 210.6L688.6 209.7L689.4 208.7L690.3 207.8L691.2 206.8L692 205.9L692.9 204.9L693.7 203.9L694.6 203L695.4 202L696.3 201.1L697.1 200.1L698 199.2L698.8 198.2L699.6 197.2L700.5 196.3L701.3 195.3L702.1 194.4L703 193.4L703.8 192.5L704.6 191.5L705.5 190.5L706.3 189.6L707.1 188.6L707.9 187.7L708.7 186.7L709.6 185.8L710.4 184.8L711.2 183.9L712 182.9L712.8 181.9L713.6 181L714.4 180L715.2 179.1L716 178.1L716.8 177.2L717.6 176.2L718.4 175.2L719.3 174.3L720.1 173.3L720.9 172.4L721.8 171.4L722.6 170.5L723.4 169.5L724.3 168.5L725.2 167.6L726 166.6L726.9 165.7L727.8 164.7L728.6 163.8L729.5 162.8L730.4 161.8L731.2 160.9L732.1 159.9L733 159L733.8 158L734.7 157.1L735.6 156.1L736.5 155.2L737.4 154.2L738.3 153.2L739.2 152.3L740.2 151.3L741.1 150.4L742.1 149.4L743 148.5L744 147.5L745 146.5L746.1 145.6L747.1 144.6L748.2 143.7L749.3 142.7L750.4 141.8L751.5 140.8L752.8 139.8L754 138.9L755.3 137.9L756.6 137L758 136L759.4 135.1L760.8 134.1L762.2 133.1L763.7 132.2L765.1 131.2L766.6 130.3L768.1 129.3L769.6 128.4L771.1 127.4L772.6 126.4L774.1 125.5L775.6 124.5L777.1 123.6L778.6 122.6L780 121.7L781.4 120.7L782.8 119.8L784.2 118.8L785.6 117.8L786.9 116.9L788.1 115.9L789.4 115L790.7 114L792 113.1L793.3 112.1L794.5 111.1L795.8 110.2L797 109.2L798.3 108.3L799.5 107.3L800.7 106.4L802 105.4L803.2 104.4L804.4 103.5L805.6 102.5L806.8 101.6L807.9 100.6L809.1 99.7L810.2 98.7L811.4 97.7L812.5 96.8L813.6 95.8L814.7 94.9L815.8 93.9L816.8 93L817.9 92L818.9 91.1L819.9 90.1L821 89.1L821.9 88.2L822.9 87.2L823.9 86.3L824.9 85.3L825.8 84.4L826.7 83.4L827.7 82.4L828.6 81.5L829.5 80.5L830.4 79.6L831.3 78.6L832.2 77.7L833.1 76.7L834 75.7L834.9 74.8L835.7 73.8L836.6 72.9L837.5 71.9L838.4 71L839.2 70L840.1 69L841 68.1L841.9 67.1L842.7 66.2L843.6 65.2L844.5 64.3L845.4 63.3L846.3 62.3L847.2 61.4L848.1 60.4L849 59.5L849.9 58.5L850.8 57.6L851.7 56.6L852.6 55.7L853.5 54.7L854.4 53.7L855.4 52.8L856.3 51.8L857.2 50.9L858.1 49.9L859 49L859.9 48L860.8 47L861.7 46.1L862.6 45.1L863.5 44.2L864.4 43.2L865.3 42.3L866.2 41.3L867.1 40.3L868 39.4L868.9 38.4L869.8 37.5L870.7 36.5L871.6 35.6L872.5 34.6L873.4 33.6L874.4 32.7L875.3 31.7L876.2 30.8L877.1 29.8L878 28.9L878.9 27.9L879.8 27L880.7 26L881.6 25L882.5 24.1L883.4 23.1L884.4 22.2L885.4 21.2L886.4 20.3L887.5 19.3L888.7 18.3L890.1 17.4L891.7 16.4L893.6 15.5L895.9 14.5L898.6 13.6L902 12.6"/>
<path d="M146 579.8L151.2 577L156.3 574.2L161.5 580.2L166.6 586.2L171.8 582L176.9 577.7L182.1 573.5L187.2 569.3L192.4 576L197.5 582.6L202.7 576L207.8 569.3L213 571.4L218.2 573.5L223.3 577.1L228.5 580.7L233.6 579.2L238.8 577.8L243.9 577.6L249.1 577.5L254.2 576.5L259.4 575.5L264.5 576.6L269.7 577.6L274.9 578.1L280 578.7L285.2 577.6L290.3 576.5L295.5 577.7L300.6 579L305.8 579.3L310.9 579.7L316.1 577.6L321.2 575.5L326.4 574.1L331.5 572.7L336.7 576.1L341.9 579.5L347 577.4L352.2 575.3L357.3 576.1L362.5 576.9L367.6 577.3L372.8 577.7L377.9 575.5L383.1 573.2L388.2 574.9L393.4 576.6L398.5 574.1L403.7 571.6L408.9 574.4L414 577.2L419.2 575.8L424.3 574.3L429.5 575.1L434.6 575.9L439.8 576.5L444.9 577.2L450.1 575.5L455.2 573.8L460.4 574.6L465.5 575.2L470.7 573.7L475.9 571.5L481 569.2L486.2 564.9L491.3 559.2L496.5 552.6L501.6 545.5L506.8 537.1L511.9 527.5L517.1 516.7L522.2 504.6L527.4 491.4L527.9 490L528.3 489L528.6 488.1L529 487.1L529.3 486.2L529.7 485.2L530 484.3L530.4 483.3L530.7 482.3L531.1 481.4L531.5 480.4L531.8 479.5L532.2 478.5L532.6 477.6L532.9 476.6L533.3 475.6L533.7 474.7L534 473.7L534.4 472.8L534.8 471.8L535.1 470.9L535.5 469.9L535.9 469L536.3 468L536.6 467L537 466.1L537.4 465.1L537.8 464.2L538.2 463.2L538.5 462.3L538.9 461.3L539.3 460.3L539.7 459.4L540.1 458.4L540.5 457.5L540.8 456.5L541.2 455.6L541.6 454.6L542 453.6L542.4 452.7L542.8 451.7L543.2 450.8L543.6 449.8L544 448.9L544.4 447.9L544.8 446.9L545.2 446L545.6 445L546 444.1L546.4 443.1L546.8 442.2L547.2 441.2L547.7 440.3L548.1 439.3L548.5 438.3L548.9 437.4L549.3 436.4L549.7 435.5L550.2 434.5L550.6 433.6L551 432.6L551.4 431.6L551.8 430.7L552.2 429.7L552.7 428.8L553.1 427.8L553.5 426.9L553.9 425.9L554.3 424.9L554.8 424L555.2 423L555.6 422.1L556 421.1L556.5 420.2L556.9 419.2L557.3 418.2L557.7 417.3L558.2 416.3L558.6 415.4L559 414.4L559.4 413.5L559.9 412.5L560.3 411.5L560.7 410.6L561.2 409.6L561.6 408.7L562 407.7L562.5 406.8L562.9 405.8L563.3 404.9L563.8 403.9L564.2 402.9L564.6 402L565.1 401L565.5 400.1L566 399.1L566.4 398.2L566.8 397.2L567.3 396.2L567.7 395.3L568.2 394.3L568.6 393.4L569.1 392.4L569.5 391.5L570 390.5L570.4 389.5L570.9 388.6L571.3 387.6L571.8 386.7L572.2 385.7L572.7 384.8L573.2 383.8L573.6 382.8L574.1 381.9L574.6 380.9L575 380L575.5 379L576 378.1L576.4 377.1L576.9 376.2L577.4 375.2L577.8 374.2L578.3 373.3L578.8 372.3L579.3 371.4L579.8 370.4L580.2 369.5L580.7 368.5L581.2 367.5L581.7 366.6L582.2 365.6L582.7 364.7L583.2 363.7L583.7 362.8L584.2 361.8L584.7 360.8L585.2 359.9L585.7 358.9L586.2 358L586.7 357L587.2 356.1L587.7 355.1L588.2 354.1L588.8 353.2L589.3 352.2L589.8 351.3L590.3 350.3L590.8 349.4L591.4 348.4L591.9 347.4L592.4 346.5L593 345.5L593.5 344.6L594.1 343.6L594.6 342.7L595.1 341.7L595.7 340.8L596.2 339.8L596.8 338.8L597.3 337.9L597.9 336.9L598.5 336L599 335L599.6 334.1L600.1 333.1L600.7 332.1L601.3 331.2L601.9 330.2L602.5 329.3L603.1 328.3L603.7 327.4L604.3 326.4L604.9 325.4L605.5 324.5L606.1 323.5L606.8 322.6L607.4 321.6L608 320.7L608.7 319.7L609.3 318.7L610 317.8L610.7 316.8L611.3 315.9L612 314.9L612.7 314L613.4 313L614.1 312.1L614.8 311.1L615.4 310.1L616.1 309.2L616.8 308.2L617.6 307.3L618.3 306.3L619 305.4L619.7 304.4L620.4 303.4L621.1 302.5L621.8 301.5L622.6 300.6L623.3 299.6L624 298.7L624.7 297.7L625.5 296.7L626.2 295.8L626.9 294.8L627.7 293.9L628.4 292.9L629.1 292L629.9 291L630.6 290L631.3 289.1L632.1 288.1L632.8 287.2L633.6 286.2L634.3 285.3L635.1 284.3L635.9 283.3L636.6 282.4L637.4 281.4L638.2 280.5L638.9 279.5L639.7 278.6L640.5 277.6L641.3 276.7L642 275.7L642.8 274.7L643.6 273.8L644.4 272.8L645.2 271.9L646 270.9L646.8 270L647.6 269L648.4 268L649.2 267.1L650 266.1L650.8 265.2L651.7 264.2L652.5 263.3L653.3 262.3L654.1 261.3L654.9 260.4L655.8 259.4L656.6 258.5L657.4 257.5L658.3 256.6L659.1 255.6L660 254.6L660.8 253.7L661.6 252.7L662.5 251.8L663.3 250.8L664.2 249.9L665.1 248.9L665.9 248L666.8 247L667.6 246L668.5 245.1L669.4 244.1L670.2 243.2L671.1 242.2L672 241.3L672.9 240.3L673.8 239.3L674.7 238.4L675.6 237.4L676.5 236.5L677.5 235.5L678.4 234.6L679.4 233.6L680.3 232.6L681.3 231.7L682.2 230.7L683.2 229.8L684.2 228.8L685.1 227.9L686.1 226.9L687.1 225.9L688.1 225L689 224L690 223.1L690.9 222.1L691.9 221.2L692.9 220.2L693.8 219.3L694.7 218.3L695.7 217.3L696.6 216.4L697.5 215.4L698.4 214.5L699.3 213.5L700.2 212.6L701.1 211.6L701.9 210.6L702.8 209.7L703.6 208.7L704.5 207.8L705.3 206.8L706.2 205.9L707 204.9L707.8 203.9L708.7 203L709.5 202L710.3 201.1L711.1 200.1L711.9 199.2L712.7 198.2L713.5 197.2L714.3 196.3L715.1 195.3L715.9 194.4L716.7 193.4L717.4 192.5L718.2 191.5L719 190.5L719.7 189.6L720.4 188.6L721.2 187.7L721.9 186.7L722.6 185.8L723.3 184.8L724 183.9L724.7 182.9L725.4 181.9L726.1 181L726.8 180L727.5 179.1L728.2 178.1L728.9 177.2L729.6 176.2L730.3 175.2L731 174.3L731.7 173.3L732.4 172.4L733.2 171.4L733.9 170.5L734.6 169.5L735.4 168.5L736.1 167.6L736.9 166.6L737.7 165.7L738.4 164.7L739.2 163.8L739.9 162.8L740.6 161.8L741.4 160.9L742.1 159.9L742.9 159L743.6 158L744.4 157.1L745.1 156.1L745.9 155.2L746.7 154.2L747.5 153.2L748.3 152.3L749.1 151.3L749.9 150.4L750.8 149.4L751.7 148.5L752.6 147.5L753.5 146.5L754.4 145.6L755.4 144.6L756.4 143.7L757.4 142.7L758.5 141.8L759.6 140.8L760.8 139.8L762 138.9L763.3 137.9L764.7 137L766.1 136L767.6 135.1L769.1 134.1L770.6 133.1L772.2 132.2L773.8 131.2L775.4 130.3L777 129.3L778.6 128.4L780.3 127.4L782 126.4L783.6 125.5L785.3 124.5L786.9 123.6L788.5 122.6L790.1 121.7L791.7 120.7L793.3 119.8L794.8 118.8L796.3 117.8L797.8 116.9L799.2 115.9L800.7 115L802.1 114L803.6 113.1L805.1 112.1L806.5 111.1L808 110.2L809.5 109.2L810.9 108.3L812.4 107.3L813.8 106.4L815.3 105.4L816.7 104.4L818.1 103.5L819.5 102.5L820.9 101.6L822.3 100.6L823.6 99.7L824.9 98.7L826.2 97.7L827.5 96.8L828.8 95.8L830 94.9L831.2 93.9L832.4 93L833.5 92L834.6 91.1L835.7 90.1L836.7 89.1L837.8 88.2L838.8 87.2L839.8 86.3L840.8 85.3L841.8 84.4L842.7 83.4L843.7 82.4L844.6 81.5L845.5 80.5L846.4 79.6L847.3 78.6L848.2 77.7L849.1 76.7L850 75.7L850.9 74.8L851.7 73.8L852.6 72.9L853.5 71.9L854.3 71L855.2 70L856.1 69L856.9 68.1L857.8 67.1L858.7 66.2L859.5 65.2L860.4 64.3L861.3 63.3L862.2 62.3L863.1 61.4L864 60.4L864.9 59.5L865.8 58.5L866.7 57.6L867.6 56.6L868.6 55.7L869.5 54.7L870.4 53.7L871.3 52.8L872.2 51.8L873.1 50.9L874 49.9L875 49L875.9 48L876.8 47L877.7 46.1L878.6 45.1L879.5 44.2L880.4 43.2L881.3 42.3L882.2 41.3L883.2 40.3L884.1 39.4L885 38.4L885.9 37.5L886.8 36.5L887.7 35.6L888.6 34.6L889.5 33.6L890.4 32.7L891.3 31.7L892.3 30.8L893.2 29.8L894.1 28.9L895 27.9L895.9 27L896.8 26L897.7 25L898.7 24.1L899.6 23.1L900.5 22.2L901.5 21.2L902.6 20.3L903.7 19.3L904.9 18.3L906.3 17.4L907.9 16.4L909.8 15.5L912 14.5L914.8 13.6L918.2 12.6"/>
<path d="M146 577.4L151.2 583.3L156.3 589.2L161.5 591.4L166.6 593.6L171.8 588L176.9 582.3L182.1 578.7L187.2 575.2L192.4 583L197.5 590.8L202.7 589.4L207.8 588L213 586.9L218.2 585.9L223.3 586.8L228.5 587.7L233.6 583.9L238.8 580L243.9 582.9L249.1 585.7L254.2 585.4L259.4 585.1L264.5 582.3L269.7 579.4L274.9 582.2L280 584.9L285.2 582.6L290.3 580.2L295.5 582.8L300.6 585.4L305.8 585.7L310.9 586L316.1 586.8L321.2 587.7L326.4 582.1L331.5 576.4L336.7 579.6L341.9 582.8L347 582L352.2 581.3L357.3 581.6L362.5 582L367.6 581.7L372.8 581.5L377.9 581.6L383.1 581.8L388.2 579.5L393.4 577.1L398.5 580.8L403.7 584.5L408.9 585.1L414 585.8L419.2 585.1L424.3 584.4L429.5 584.8L434.6 585.2L439.8 582.6L444.9 580L450.1 579.9L455.2 579.8L460.4 582.1L465.5 584.3L470.7 584.8L475.9 585.3L481 583.8L486.2 582.2L491.3 579.5L496.5 576.2L501.6 575.4L506.8 569.9L511.9 562.4L517.1 554.8L522.2 547.2L527.4 538.4L532.5 528L537.7 516.1L542.9 502.7L547.3 490L547.6 489L547.9 488.1L548.3 487.1L548.6 486.2L548.9 485.2L549.2 484.3L549.6 483.3L549.9 482.3L550.2 481.4L550.6 480.4L550.9 479.5L551.2 478.5L551.5 477.6L551.9 476.6L552.2 475.6L552.6 474.7L552.9 473.7L553.2 472.8L553.6 471.8L553.9 470.9L554.3 469.9L554.6 469L554.9 468L555.3 467L555.6 466.1L556 465.1L556.3 464.2L556.7 463.2L557 462.3L557.4 461.3L557.7 460.3L558.1 459.4L558.5 458.4L558.8 457.5L559.2 456.5L559.5 455.6L559.9 454.6L560.3 453.6L560.6 452.7L561 451.7L561.4 450.8L561.7 449.8L562.1 448.9L562.5 447.9L562.8 446.9L563.2 446L563.6 445L564 444.1L564.3 443.1L564.7 442.2L565.1 441.2L565.5 440.3L565.9 439.3L566.3 438.3L566.6 437.4L567 436.4L567.4 435.5L567.8 434.5L568.2 433.6L568.6 432.6L569 431.6L569.4 430.7L569.8 429.7L570.2 428.8L570.5 427.8L570.9 426.9L571.3 425.9L571.7 424.9L572.1 424L572.5 423L572.9 422.1L573.3 421.1L573.7 420.2L574.1 419.2L574.5 418.2L574.9 417.3L575.3 416.3L575.7 415.4L576.1 414.4L576.5 413.5L576.9 412.5L577.3 411.5L577.7 410.6L578.1 409.6L578.5 408.7L578.9 407.7L579.3 406.8L579.7 405.8L580.1 404.9L580.5 403.9L580.9 402.9L581.4 402L581.8 401L582.2 400.1L582.6 399.1L583 398.2L583.4 397.2L583.9 396.2L584.3 395.3L584.7 394.3L585.1 393.4L585.5 392.4L586 391.5L586.4 390.5L586.8 389.5L587.2 388.6L587.7 387.6L588.1 386.7L588.5 385.7L589 384.8L589.4 383.8L589.8 382.8L590.3 381.9L590.7 380.9L591.2 380L591.6 379L592.1 378.1L592.5 377.1L592.9 376.2L593.4 375.2L593.8 374.2L594.3 373.3L594.8 372.3L595.2 371.4L595.7 370.4L596.1 369.5L596.6 368.5L597.1 367.5L597.5 366.6L598 365.6L598.5 364.7L598.9 363.7L599.4 362.8L599.9 361.8L600.4 360.8L600.9 359.9L601.3 358.9L601.8 358L602.3 357L602.8 356.1L603.3 355.1L603.8 354.1L604.3 353.2L604.8 352.2L605.3 351.3L605.8 350.3L606.3 349.4L606.8 348.4L607.3 347.4L607.8 346.5L608.3 345.5L608.9 344.6L609.4 343.6L609.9 342.7L610.4 341.7L610.9 340.8L611.5 339.8L612 338.8L612.5 337.9L613.1 336.9L613.6 336L614.2 335L614.7 334.1L615.3 333.1L615.8 332.1L616.4 331.2L616.9 330.2L617.5 329.3L618.1 328.3L618.7 327.4L619.3 326.4L619.9 325.4L620.5 324.5L621.1 323.5L621.7 322.6L622.4 321.6L623 320.7L623.6 319.7L624.3 318.7L624.9 317.8L625.6 316.8L626.3 315.9L626.9 314.9L627.6 314L628.3 313L629 312.1L629.6 311.1L630.3 310.1L631 309.2L631.7 308.2L632.4 307.3L633.1 306.3L633.9 305.4L634.6 304.4L635.3 303.4L636 302.5L636.7 301.5L637.4 300.6L638.2 299.6L638.9 298.7L639.6 297.7L640.4 296.7L641.1 295.8L641.8 294.8L642.6 293.9L643.3 292.9L644 292L644.8 291L645.5 290L646.3 289.1L647 288.1L647.8 287.2L648.5 286.2L649.3 285.3L650.1 284.3L650.9 283.3L651.6 282.4L652.4 281.4L653.2 280.5L654 279.5L654.8 278.6L655.6 277.6L656.4 276.7L657.2 275.7L658 274.7L658.8 273.8L659.6 272.8L660.4 271.9L661.3 270.9L662.1 270L662.9 269L663.7 268L664.6 267.1L665.4 266.1L666.2 265.2L667.1 264.2L667.9 263.3L668.8 262.3L669.6 261.3L670.5 260.4L671.3 259.4L672.2 258.5L673 257.5L673.9 256.6L674.7 255.6L675.6 254.6L676.4 253.7L677.3 252.7L678.1 251.8L679 250.8L679.8 249.9L680.7 248.9L681.6 248L682.4 247L683.3 246L684.1 245.1L685 244.1L685.9 243.2L686.7 242.2L687.6 241.3L688.4 240.3L689.3 239.3L690.2 238.4L691.1 237.4L692 236.5L692.9 235.5L693.9 234.6L694.8 233.6L695.7 232.6L696.7 231.7L697.6 230.7L698.5 229.8L699.5 228.8L700.4 227.9L701.3 226.9L702.3 225.9L703.2 225L704.1 224L705 223.1L705.9 222.1L706.8 221.2L707.7 220.2L708.6 219.3L709.5 218.3L710.4 217.3L711.2 216.4L712 215.4L712.9 214.5L713.7 213.5L714.5 212.6L715.2 211.6L716 210.6L716.7 209.7L717.4 208.7L718.2 207.8L718.9 206.8L719.6 205.9L720.2 204.9L720.9 203.9L721.6 203L722.3 202L722.9 201.1L723.6 200.1L724.2 199.2L724.9 198.2L725.6 197.2L726.2 196.3L726.9 195.3L727.6 194.4L728.3 193.4L729 192.5L729.7 191.5L730.4 190.5L731.1 189.6L731.8 188.6L732.5 187.7L733.2 186.7L733.9 185.8L734.6 184.8L735.3 183.9L736 182.9L736.7 181.9L737.4 181L738.2 180L738.9 179.1L739.6 178.1L740.3 177.2L741 176.2L741.8 175.2L742.5 174.3L743.2 173.3L743.9 172.4L744.7 171.4L745.4 170.5L746.2 169.5L746.9 168.5L747.6 167.6L748.4 166.6L749.1 165.7L749.8 164.7L750.6 163.8L751.3 162.8L752 161.8L752.7 160.9L753.4 159.9L754.1 159L754.8 158L755.5 157.1L756.2 156.1L756.9 155.2L757.6 154.2L758.3 153.2L759.1 152.3L759.9 151.3L760.6 150.4L761.4 149.4L762.3 148.5L763.1 147.5L764 146.5L764.9 145.6L765.8 144.6L766.8 143.7L767.7 142.7L768.8 141.8L769.9 140.8L771 139.8L772.2 138.9L773.5 137.9L774.9 137L776.2 136L777.7 135.1L779.2 134.1L780.7 133.1L782.3 132.2L783.8 131.2L785.5 130.3L787.1 129.3L788.8 128.4L790.4 127.4L792.1 126.4L793.8 125.5L795.5 124.5L797.2 123.6L798.9 122.6L800.5 121.7L802.2 120.7L803.8 119.8L805.4 118.8L807 117.8L808.6 116.9L810.2 115.9L811.7 115L813.3 114L815 113.1L816.6 112.1L818.3 111.1L820 110.2L821.6 109.2L823.3 108.3L825 107.3L826.7 106.4L828.3 105.4L830 104.4L831.6 103.5L833.3 102.5L834.9 101.6L836.5 100.6L838 99.7L839.6 98.7L841 97.7L842.5 96.8L843.9 95.8L845.3 94.9L846.6 93.9L847.9 93L849.1 92L850.3 91.1L851.4 90.1L852.5 89.1L853.6 88.2L854.7 87.2L855.8 86.3L856.8 85.3L857.8 84.4L858.8 83.4L859.8 82.4L860.7 81.5L861.7 80.5L862.6 79.6L863.5 78.6L864.4 77.7L865.3 76.7L866.2 75.7L867.1 74.8L868 73.8L868.9 72.9L869.7 71.9L870.6 71L871.5 70L872.3 69L873.2 68.1L874 67.1L874.9 66.2L875.8 65.2L876.7 64.3L877.6 63.3L878.5 62.3L879.4 61.4L880.3 60.4L881.2 59.5L882.1 58.5L883.1 57.6L884 56.6L884.9 55.7L885.8 54.7L886.7 53.7L887.7 52.8L888.6 51.8L889.5 50.9L890.4 49.9L891.3 49L892.2 48L893.1 47L894 46.1L894.9 45.1L895.8 44.2L896.8 43.2L897.7 42.3L898.6 41.3L899.5 40.3L900.4 39.4L901.3 38.4L902.2 37.5L903.1 36.5L904 35.6L904.9 34.6L905.8 33.6L906.7 32.7L907.6 31.7L908.6 30.8L909.5 29.8L910.4 28.9L911.3 27.9L912.2 27L913.1 26L914 25L915 24.1L915.9 23.1L916.8 22.2L917.8 21.2L918.8 20.3L919.8 19.3L921 18.3L922.2 17.4L923.7 16.4L925.3 15.5L927.2 14.5L929.5 13.6L932.2 12.6"/>
<path d="M146 588.3L151.2 580.2L156.3 572.1L161.5 574.1L166.6 576.1L171.8 580.1L176.9 584L182.1 585.4L187.2 586.7L192.4 589.6L197.5 592.5L202.7 588.1L207.8 583.7L213 582.6L218.2 581.6L223.3 581.8L228.5 581.9L233.6 581.9L238.8 581.9L243.9 584.3L249.1 586.8L254.2 584.3L259.4 581.8L264.5 581.7L269.7 581.6L274.9 578.9L280 576.2L285.2 575.3L290.3 574.3L295.5 578.1L300.6 582L305.8 583L310.9 584.1L316.1 582.9L321.2 581.7L326.4 582.5L331.5 583.2L336.7 583.4L341.9 583.5L347 582.5L352.2 581.6L357.3 582.8L362.5 584.1L367.6 582L372.8 580L377.9 580.8L383.1 581.7L388.2 581.3L393.4 580.8L398.5 581.4L403.7 581.9L408.9 582.6L414 583.3L419.2 583.5L424.3 583.8L429.5 582.9L434.6 582.1L439.8 582.4L444.9 582.8L450.1 581.9L455.2 580.9L460.4 581.2L465.5 581.5L470.7 583.2L475.9 584.8L481 583.1L486.2 581.3L491.3 583L496.5 584.8L501.6 583.8L506.8 582.8L511.9 581.9L517.1 580.4L522.2 578.5L527.4 573.1L532.5 565.3L537.7 557.2L542.9 549L548 539.6L553.2 528.5L558.3 515.5L563.5 500.8L566.9 490L567.2 489L567.5 488.1L567.8 487.1L568.1 486.2L568.4 485.2L568.7 484.3L569 483.3L569.3 482.3L569.6 481.4L569.9 480.4L570.2 479.5L570.5 478.5L570.8 477.6L571.1 476.6L571.4 475.6L571.7 474.7L572.1 473.7L572.4 472.8L572.7 471.8L573 470.9L573.3 469.9L573.6 469L574 468L574.3 467L574.6 466.1L574.9 465.1L575.3 464.2L575.6 463.2L575.9 462.3L576.2 461.3L576.6 460.3L576.9 459.4L577.2 458.4L577.6 457.5L577.9 456.5L578.3 455.6L578.6 454.6L578.9 453.6L579.3 452.7L579.6 451.7L580 450.8L580.3 449.8L580.7 448.9L581 447.9L581.4 446.9L581.7 446L582.1 445L582.4 444.1L582.8 443.1L583.1 442.2L583.5 441.2L583.9 440.3L584.2 439.3L584.6 438.3L585 437.4L585.3 436.4L585.7 435.5L586.1 434.5L586.4 433.6L586.8 432.6L587.2 431.6L587.6 430.7L587.9 429.7L588.3 428.8L588.7 427.8L589.1 426.9L589.5 425.9L589.8 424.9L590.2 424L590.6 423L591 422.1L591.4 421.1L591.7 420.2L592.1 419.2L592.5 418.2L592.9 417.3L593.3 416.3L593.7 415.4L594.1 414.4L594.4 413.5L594.8 412.5L595.2 411.5L595.6 410.6L596 409.6L596.4 408.7L596.8 407.7L597.2 406.8L597.6 405.8L598 404.9L598.4 403.9L598.8 402.9L599.2 402L599.6 401L600 400.1L600.4 399.1L600.8 398.2L601.2 397.2L601.7 396.2L602.1 395.3L602.5 394.3L602.9 393.4L603.3 392.4L603.7 391.5L604.2 390.5L604.6 389.5L605 388.6L605.4 387.6L605.8 386.7L606.3 385.7L606.7 384.8L607.1 383.8L607.6 382.8L608 381.9L608.4 380.9L608.9 380L609.3 379L609.7 378.1L610.2 377.1L610.6 376.2L611.1 375.2L611.5 374.2L612 373.3L612.4 372.3L612.9 371.4L613.3 370.4L613.8 369.5L614.2 368.5L614.7 367.5L615.1 366.6L615.6 365.6L616 364.7L616.5 363.7L617 362.8L617.4 361.8L617.9 360.8L618.4 359.9L618.9 358.9L619.3 358L619.8 357L620.3 356.1L620.8 355.1L621.3 354.1L621.7 353.2L622.2 352.2L622.7 351.3L623.2 350.3L623.7 349.4L624.2 348.4L624.7 347.4L625.2 346.5L625.7 345.5L626.2 344.6L626.7 343.6L627.2 342.7L627.7 341.7L628.2 340.8L628.7 339.8L629.2 338.8L629.8 337.9L630.3 336.9L630.8 336L631.3 335L631.9 334.1L632.4 333.1L632.9 332.1L633.5 331.2L634 330.2L634.5 329.3L635.1 328.3L635.7 327.4L636.2 326.4L636.8 325.4L637.4 324.5L637.9 323.5L638.5 322.6L639.1 321.6L639.7 320.7L640.3 319.7L640.9 318.7L641.5 317.8L642.2 316.8L642.8 315.9L643.4 314.9L644 314L644.7 313L645.3 312.1L646 311.1L646.6 310.1L647.3 309.2L647.9 308.2L648.6 307.3L649.3 306.3L649.9 305.4L650.6 304.4L651.3 303.4L651.9 302.5L652.6 301.5L653.3 300.6L654 299.6L654.7 298.7L655.4 297.7L656.1 296.7L656.8 295.8L657.5 294.8L658.2 293.9L658.9 292.9L659.6 292L660.3 291L661.1 290L661.8 289.1L662.5 288.1L663.3 287.2L664 286.2L664.8 285.3L665.6 284.3L666.3 283.3L667.1 282.4L667.9 281.4L668.7 280.5L669.5 279.5L670.3 278.6L671.1 277.6L671.9 276.7L672.7 275.7L673.5 274.7L674.3 273.8L675.2 272.8L676 271.9L676.8 270.9L677.7 270L678.5 269L679.3 268L680.2 267.1L681 266.1L681.9 265.2L682.7 264.2L683.6 263.3L684.4 262.3L685.3 261.3L686.1 260.4L687 259.4L687.8 258.5L688.7 257.5L689.6 256.6L690.4 255.6L691.3 254.6L692.1 253.7L693 252.7L693.8 251.8L694.7 250.8L695.5 249.9L696.4 248.9L697.3 248L698.1 247L698.9 246L699.8 245.1L700.6 244.1L701.5 243.2L702.3 242.2L703.2 241.3L704 240.3L704.9 239.3L705.7 238.4L706.6 237.4L707.5 236.5L708.4 235.5L709.3 234.6L710.2 233.6L711.1 232.6L712 231.7L712.9 230.7L713.8 229.8L714.8 228.8L715.7 227.9L716.6 226.9L717.5 225.9L718.3 225L719.2 224L720.1 223.1L720.9 222.1L721.8 221.2L722.6 220.2L723.5 219.3L724.3 218.3L725 217.3L725.8 216.4L726.6 215.4L727.3 214.5L728 213.5L728.7 212.6L729.4 211.6L730 210.6L730.6 209.7L731.2 208.7L731.8 207.8L732.4 206.8L732.9 205.9L733.5 204.9L734 203.9L734.5 203L735.1 202L735.6 201.1L736.1 200.1L736.6 199.2L737.1 198.2L737.7 197.2L738.2 196.3L738.8 195.3L739.3 194.4L739.9 193.4L740.5 192.5L741.1 191.5L741.7 190.5L742.4 189.6L743 188.6L743.7 187.7L744.3 186.7L745 185.8L745.6 184.8L746.3 183.9L747 182.9L747.7 181.9L748.4 181L749 180L749.7 179.1L750.4 178.1L751.2 177.2L751.9 176.2L752.6 175.2L753.3 174.3L754 173.3L754.8 172.4L755.5 171.4L756.2 170.5L757 169.5L757.7 168.5L758.4 167.6L759.2 166.6L759.9 165.7L760.7 164.7L761.4 163.8L762.1 162.8L762.8 161.8L763.5 160.9L764.2 159.9L764.9 159L765.7 158L766.4 157.1L767.1 156.1L767.9 155.2L768.6 154.2L769.4 153.2L770.2 152.3L771 151.3L771.8 150.4L772.6 149.4L773.5 148.5L774.4 147.5L775.3 146.5L776.2 145.6L777.2 144.6L778.2 143.7L779.2 142.7L780.3 141.8L781.4 140.8L782.6 139.8L783.9 138.9L785.2 137.9L786.6 137L788.1 136L789.6 135.1L791.1 134.1L792.7 133.1L794.3 132.2L796 131.2L797.7 130.3L799.4 129.3L801.2 128.4L802.9 127.4L804.7 126.4L806.5 125.5L808.3 124.5L810.1 123.6L811.8 122.6L813.6 121.7L815.4 120.7L817.1 119.8L818.8 118.8L820.5 117.8L822.2 116.9L823.9 115.9L825.6 115L827.4 114L829.2 113.1L831 112.1L832.8 111.1L834.7 110.2L836.6 109.2L838.5 108.3L840.3 107.3L842.2 106.4L844.1 105.4L846 104.4L847.8 103.5L849.6 102.5L851.4 101.6L853.2 100.6L854.9 99.7L856.6 98.7L858.2 97.7L859.8 96.8L861.3 95.8L862.7 94.9L864.1 93.9L865.5 93L866.7 92L867.9 91.1L869 90.1L870.1 89.1L871.2 88.2L872.3 87.2L873.3 86.3L874.3 85.3L875.3 84.4L876.2 83.4L877.2 82.4L878.1 81.5L879 80.5L879.8 79.6L880.7 78.6L881.6 77.7L882.4 76.7L883.2 75.7L884 74.8L884.9 73.8L885.7 72.9L886.5 71.9L887.3 71L888.1 70L888.9 69L889.7 68.1L890.5 67.1L891.3 66.2L892.2 65.2L893 64.3L893.9 63.3L894.7 62.3L895.6 61.4L896.5 60.4L897.4 59.5L898.3 58.5L899.2 57.6L900.1 56.6L901 55.7L902 54.7L902.9 53.7L903.8 52.8L904.7 51.8L905.6 50.9L906.5 49.9L907.4 49L908.4 48L909.3 47L910.2 46.1L911.1 45.1L912 44.2L912.9 43.2L913.9 42.3L914.8 41.3L915.7 40.3L916.6 39.4L917.5 38.4L918.4 37.5L919.4 36.5L920.3 35.6L921.2 34.6L922.1 33.6L923 32.7L923.9 31.7L924.9 30.8L925.8 29.8L926.7 28.9L927.6 27.9L928.5 27L929.4 26L930.4 25L931.3 24.1L932.2 23.1L933.2 22.2L934.2 21.2L935.3 20.3L936.5 19.3L937.8 18.3L939.4 17.4L941.3 16.4L943.6 15.5L946.4 14.5L949.9 13.6L954.3 12.6"/>
<path d="M146 582.3L151.2 583.2L156.3 584.1L161.5 582L166.6 579.8L171.8 583.9L176.9 588L182.1 583.5L187.2 579L192.4 579.3L197.5 579.6L202.7 580.4L207.8 581.2L213 582L218.2 582.8L223.3 580.2L228.5 577.6L233.6 583.1L238.8 588.6L243.9 583.4L249.1 578.2L254.2 578.8L259.4 579.3L264.5 579.3L269.7 579.2L274.9 579L280 578.9L285.2 580.9L290.3 582.9L295.5 582.1L300.6 581.3L305.8 579.8L310.9 578.3L316.1 578.7L321.2 579L326.4 579.4L331.5 579.8L336.7 582.2L341.9 584.5L347 581.8L352.2 579.1L357.3 578.3L362.5 577.5L367.6 577.7L372.8 577.9L377.9 578.9L383.1 579.8L388.2 582.1L393.4 584.3L398.5 581.2L403.7 578.1L408.9 579.4L414 580.8L419.2 583.7L424.3 586.7L429.5 583.1L434.6 579.5L439.8 581.8L444.9 584.1L450.1 583.9L455.2 583.6L460.4 582.8L465.5 582L470.7 579.6L475.9 577.2L481 579.3L486.2 581.3L491.3 580.5L496.5 579.7L501.6 577.9L506.8 576.1L511.9 576.3L517.1 576.4L522.2 578.5L527.4 580.6L532.5 580.5L537.7 580L542.9 578.9L548 574.7L553.2 567.5L558.3 559.2L563.5 550.5L568.6 541L573.8 529.4L578.9 515.9L584.1 500.3L587.2 490L587.5 489L587.8 488.1L588 487.1L588.3 486.2L588.6 485.2L588.9 484.3L589.2 483.3L589.5 482.3L589.8 481.4L590 480.4L590.3 479.5L590.6 478.5L590.9 477.6L591.2 476.6L591.5 475.6L591.8 474.7L592.1 473.7L592.4 472.8L592.7 471.8L593 470.9L593.3 469.9L593.6 469L593.9 468L594.2 467L594.5 466.1L594.9 465.1L595.2 464.2L595.5 463.2L595.8 462.3L596.1 461.3L596.4 460.3L596.7 459.4L597.1 458.4L597.4 457.5L597.7 456.5L598 455.6L598.4 454.6L598.7 453.6L599 452.7L599.3 451.7L599.7 450.8L600 449.8L600.3 448.9L600.7 447.9L601 446.9L601.4 446L601.7 445L602 444.1L602.4 443.1L602.7 442.2L603.1 441.2L603.4 440.3L603.8 439.3L604.1 438.3L604.5 437.4L604.8 436.4L605.2 435.5L605.6 434.5L605.9 433.6L606.3 432.6L606.6 431.6L607 430.7L607.4 429.7L607.7 428.8L608.1 427.8L608.5 426.9L608.8 425.9L609.2 424.9L609.6 424L610 423L610.3 422.1L610.7 421.1L611.1 420.2L611.5 419.2L611.8 418.2L612.2 417.3L612.6 416.3L613 415.4L613.4 414.4L613.8 413.5L614.1 412.5L614.5 411.5L614.9 410.6L615.3 409.6L615.7 408.7L616.1 407.7L616.5 406.8L616.9 405.8L617.3 404.9L617.7 403.9L618.1 402.9L618.5 402L618.9 401L619.3 400.1L619.7 399.1L620.1 398.2L620.5 397.2L620.9 396.2L621.3 395.3L621.7 394.3L622.2 393.4L622.6 392.4L623 391.5L623.4 390.5L623.8 389.5L624.2 388.6L624.7 387.6L625.1 386.7L625.5 385.7L625.9 384.8L626.3 383.8L626.8 382.8L627.2 381.9L627.6 380.9L628.1 380L628.5 379L628.9 378.1L629.4 377.1L629.8 376.2L630.2 375.2L630.7 374.2L631.1 373.3L631.5 372.3L632 371.4L632.4 370.4L632.9 369.5L633.3 368.5L633.8 367.5L634.2 366.6L634.7 365.6L635.1 364.7L635.6 363.7L636 362.8L636.5 361.8L636.9 360.8L637.4 359.9L637.8 358.9L638.3 358L638.7 357L639.2 356.1L639.7 355.1L640.1 354.1L640.6 353.2L641.1 352.2L641.5 351.3L642 350.3L642.5 349.4L642.9 348.4L643.4 347.4L643.9 346.5L644.4 345.5L644.8 344.6L645.3 343.6L645.8 342.7L646.3 341.7L646.7 340.8L647.2 339.8L647.7 338.8L648.2 337.9L648.7 336.9L649.2 336L649.7 335L650.1 334.1L650.6 333.1L651.1 332.1L651.6 331.2L652.1 330.2L652.6 329.3L653.1 328.3L653.6 327.4L654.1 326.4L654.6 325.4L655.1 324.5L655.6 323.5L656.1 322.6L656.6 321.6L657.1 320.7L657.6 319.7L658.1 318.7L658.7 317.8L659.2 316.8L659.7 315.9L660.2 314.9L660.8 314L661.3 313L661.8 312.1L662.4 311.1L662.9 310.1L663.5 309.2L664.1 308.2L664.6 307.3L665.2 306.3L665.8 305.4L666.3 304.4L666.9 303.4L667.5 302.5L668.1 301.5L668.7 300.6L669.4 299.6L670 298.7L670.6 297.7L671.2 296.7L671.9 295.8L672.5 294.8L673.2 293.9L673.9 292.9L674.5 292L675.2 291L675.9 290L676.7 289.1L677.4 288.1L678.2 287.2L678.9 286.2L679.7 285.3L680.5 284.3L681.4 283.3L682.2 282.4L683.1 281.4L683.9 280.5L684.8 279.5L685.7 278.6L686.6 277.6L687.5 276.7L688.4 275.7L689.3 274.7L690.3 273.8L691.2 272.8L692.2 271.9L693.1 270.9L694.1 270L695 269L696 268L696.9 267.1L697.9 266.1L698.9 265.2L699.8 264.2L700.8 263.3L701.8 262.3L702.7 261.3L703.7 260.4L704.7 259.4L705.6 258.5L706.6 257.5L707.5 256.6L708.5 255.6L709.4 254.6L710.3 253.7L711.2 252.7L712.2 251.8L713.1 250.8L713.9 249.9L714.8 248.9L715.7 248L716.6 247L717.4 246L718.2 245.1L719 244.1L719.8 243.2L720.6 242.2L721.4 241.3L722.2 240.3L723 239.3L723.7 238.4L724.5 237.4L725.3 236.5L726 235.5L726.8 234.6L727.6 233.6L728.3 232.6L729.1 231.7L729.9 230.7L730.6 229.8L731.3 228.8L732.1 227.9L732.8 226.9L733.5 225.9L734.2 225L734.9 224L735.6 223.1L736.3 222.1L737 221.2L737.6 220.2L738.3 219.3L738.9 218.3L739.5 217.3L740.1 216.4L740.7 215.4L741.3 214.5L741.9 213.5L742.4 212.6L742.9 211.6L743.4 210.6L743.9 209.7L744.4 208.7L744.8 207.8L745.2 206.8L745.6 205.9L746 204.9L746.4 203.9L746.8 203L747.2 202L747.6 201.1L748 200.1L748.4 199.2L748.8 198.2L749.2 197.2L749.6 196.3L750 195.3L750.5 194.4L751 193.4L751.5 192.5L752 191.5L752.5 190.5L753 189.6L753.6 188.6L754.2 187.7L754.8 186.7L755.4 185.8L756 184.8L756.6 183.9L757.2 182.9L757.9 181.9L758.5 181L759.2 180L759.9 179.1L760.5 178.1L761.2 177.2L761.9 176.2L762.7 175.2L763.4 174.3L764.1 173.3L764.8 172.4L765.6 171.4L766.3 170.5L767.1 169.5L767.9 168.5L768.6 167.6L769.4 166.6L770.2 165.7L771 164.7L771.8 163.8L772.6 162.8L773.4 161.8L774.2 160.9L775 159.9L775.8 159L776.7 158L777.5 157.1L778.4 156.1L779.3 155.2L780.2 154.2L781.1 153.2L782 152.3L783 151.3L784 150.4L785 149.4L786 148.5L787 147.5L788.1 146.5L789.2 145.6L790.3 144.6L791.4 143.7L792.6 142.7L793.8 141.8L795.1 140.8L796.4 139.8L797.8 138.9L799.2 137.9L800.7 137L802.3 136L803.9 135.1L805.6 134.1L807.2 133.1L809 132.2L810.7 131.2L812.5 130.3L814.3 129.3L816.1 128.4L818 127.4L819.8 126.4L821.7 125.5L823.6 124.5L825.5 123.6L827.3 122.6L829.2 121.7L831 120.7L832.9 119.8L834.7 118.8L836.5 117.8L838.2 116.9L840 115.9L841.8 115L843.7 114L845.6 113.1L847.6 112.1L849.6 111.1L851.5 110.2L853.6 109.2L855.6 108.3L857.6 107.3L859.6 106.4L861.6 105.4L863.6 104.4L865.5 103.5L867.5 102.5L869.4 101.6L871.2 100.6L873 99.7L874.8 98.7L876.5 97.7L878.1 96.8L879.6 95.8L881.1 94.9L882.5 93.9L883.8 93L885 92L886.1 91.1L887.2 90.1L888.3 89.1L889.3 88.2L890.2 87.2L891.2 86.3L892.1 85.3L893 84.4L893.9 83.4L894.7 82.4L895.5 81.5L896.3 80.5L897.1 79.6L897.9 78.6L898.6 77.7L899.3 76.7L900.1 75.7L900.8 74.8L901.5 73.8L902.2 72.9L902.9 71.9L903.7 71L904.4 70L905.1 69L905.8 68.1L906.5 67.1L907.3 66.2L908.1 65.2L908.8 64.3L909.6 63.3L910.4 62.3L911.3 61.4L912.1 60.4L913 59.5L913.9 58.5L914.8 57.6L915.6 56.6L916.6 55.7L917.5 54.7L918.4 53.7L919.3 52.8L920.2 51.8L921.1 50.9L922.1 49.9L923 49L924 48L924.9 47L925.8 46.1L926.8 45.1L927.7 44.2L928.7 43.2L929.6 42.3L930.6 41.3L931.6 40.3L932.5 39.4L933.5 38.4L934.4 37.5L935.4 36.5L936.3 35.6L937.3 34.6L938.2 33.6L939.2 32.7L940.1 31.7L941 30.8L942 29.8L942.9 28.9L943.8 27.9L944.8 27L945.7 26L946.7 25L947.6 24.1L948.6 23.1L949.5 22.2L950.6 21.2L951.7 20.3L952.9 19.3L954.2 18.3L955.8 17.4L957.7 16.4L960 15.5L962.7 14.5L966.2 13.6L970.5 12.6"/>
<path d="M146 580.4L151.2 577.7L156.3 575.1L161.5 575.6L166.6 576.2L171.8 574.7L176.9 573.3L182.1 575.4L187.2 577.6L192.4 579.7L197.5 581.8L202.7 579.9L207.8 578L213 581.7L218.2 585.4L223.3 586.9L228.5 588.5L233.6 582.8L238.8 577.1L243.9 578.7L249.1 580.3L254.2 579.4L259.4 578.6L264.5 582.9L269.7 587.3L274.9 584.4L280 581.5L285.2 581.9L290.3 582.3L295.5 582.7L300.6 583.1L305.8 585.4L310.9 587.6L316.1 584.3L321.2 581.1L326.4 579.2L331.5 577.4L336.7 578.2L341.9 579L347 580.2L352.2 581.5L357.3 580.8L362.5 580L367.6 579.1L372.8 578.1L377.9 582.5L383.1 586.9L388.2 583.6L393.4 580.3L398.5 579.5L403.7 578.7L408.9 578.5L414 578.3L419.2 577L424.3 575.8L429.5 576.5L434.6 577.2L439.8 578.2L444.9 579.2L450.1 579.2L455.2 579.3L460.4 578.6L465.5 578L470.7 579.7L475.9 581.3L481 580.7L486.2 580.1L491.3 578.9L496.5 577.7L501.6 576.4L506.8 575.1L511.9 577.8L517.1 580.4L522.2 580.3L527.4 580.1L532.5 579.8L537.7 579.5L542.9 578.1L548 576.7L553.2 578.4L558.3 580L563.5 578L568.6 575.8L573.8 576.6L578.9 572.4L584.1 563.5L589.2 553.6L594.4 542.8L599.6 529.3L604.7 513.2L609.9 494.5L611 490L611.2 489L611.5 488.1L611.7 487.1L612 486.2L612.2 485.2L612.5 484.3L612.7 483.3L613 482.3L613.2 481.4L613.5 480.4L613.7 479.5L614 478.5L614.2 477.6L614.5 476.6L614.7 475.6L615 474.7L615.3 473.7L615.5 472.8L615.8 471.8L616 470.9L616.3 469.9L616.6 469L616.9 468L617.1 467L617.4 466.1L617.7 465.1L617.9 464.2L618.2 463.2L618.5 462.3L618.8 461.3L619.1 460.3L619.3 459.4L619.6 458.4L619.9 457.5L620.2 456.5L620.5 455.6L620.8 454.6L621.1 453.6L621.4 452.7L621.7 451.7L621.9 450.8L622.2 449.8L622.5 448.9L622.8 447.9L623.1 446.9L623.4 446L623.8 445L624.1 444.1L624.4 443.1L624.7 442.2L625 441.2L625.3 440.3L625.6 439.3L625.9 438.3L626.2 437.4L626.6 436.4L626.9 435.5L627.2 434.5L627.5 433.6L627.8 432.6L628.2 431.6L628.5 430.7L628.8 429.7L629.1 428.8L629.5 427.8L629.8 426.9L630.1 425.9L630.5 424.9L630.8 424L631.1 423L631.5 422.1L631.8 421.1L632.1 420.2L632.5 419.2L632.8 418.2L633.2 417.3L633.5 416.3L633.8 415.4L634.2 414.4L634.5 413.5L634.9 412.5L635.2 411.5L635.6 410.6L635.9 409.6L636.3 408.7L636.6 407.7L637 406.8L637.3 405.8L637.7 404.9L638.1 403.9L638.4 402.9L638.8 402L639.1 401L639.5 400.1L639.9 399.1L640.2 398.2L640.6 397.2L641 396.2L641.3 395.3L641.7 394.3L642.1 393.4L642.5 392.4L642.8 391.5L643.2 390.5L643.6 389.5L644 388.6L644.3 387.6L644.7 386.7L645.1 385.7L645.5 384.8L645.9 383.8L646.3 382.8L646.7 381.9L647.1 380.9L647.4 380L647.8 379L648.2 378.1L648.6 377.1L649 376.2L649.4 375.2L649.8 374.2L650.2 373.3L650.7 372.3L651.1 371.4L651.5 370.4L651.9 369.5L652.3 368.5L652.7 367.5L653.1 366.6L653.5 365.6L654 364.7L654.4 363.7L654.8 362.8L655.2 361.8L655.6 360.8L656.1 359.9L656.5 358.9L656.9 358L657.4 357L657.8 356.1L658.2 355.1L658.7 354.1L659.1 353.2L659.5 352.2L660 351.3L660.4 350.3L660.9 349.4L661.3 348.4L661.8 347.4L662.2 346.5L662.7 345.5L663.1 344.6L663.6 343.6L664.1 342.7L664.5 341.7L665 340.8L665.4 339.8L665.9 338.8L666.4 337.9L666.8 336.9L667.3 336L667.8 335L668.3 334.1L668.7 333.1L669.2 332.1L669.7 331.2L670.2 330.2L670.7 329.3L671.2 328.3L671.7 327.4L672.2 326.4L672.7 325.4L673.2 324.5L673.7 323.5L674.2 322.6L674.8 321.6L675.3 320.7L675.8 319.7L676.4 318.7L676.9 317.8L677.5 316.8L678 315.9L678.6 314.9L679.1 314L679.7 313L680.3 312.1L680.9 311.1L681.4 310.1L682 309.2L682.6 308.2L683.2 307.3L683.8 306.3L684.4 305.4L685 304.4L685.7 303.4L686.3 302.5L686.9 301.5L687.5 300.6L688.2 299.6L688.8 298.7L689.5 297.7L690.1 296.7L690.8 295.8L691.5 294.8L692.2 293.9L692.8 292.9L693.5 292L694.2 291L695 290L695.7 289.1L696.5 288.1L697.2 287.2L698 286.2L698.9 285.3L699.7 284.3L700.5 283.3L701.4 282.4L702.3 281.4L703.2 280.5L704.1 279.5L705 278.6L705.9 277.6L706.8 276.7L707.8 275.7L708.7 274.7L709.7 273.8L710.6 272.8L711.6 271.9L712.5 270.9L713.5 270L714.5 269L715.5 268L716.4 267.1L717.4 266.1L718.4 265.2L719.3 264.2L720.3 263.3L721.3 262.3L722.2 261.3L723.2 260.4L724.1 259.4L725 258.5L726 257.5L726.9 256.6L727.8 255.6L728.7 254.6L729.6 253.7L730.4 252.7L731.3 251.8L732.1 250.8L733 249.9L733.8 248.9L734.6 248L735.4 247L736.1 246L736.9 245.1L737.6 244.1L738.3 243.2L739 242.2L739.6 241.3L740.3 240.3L740.9 239.3L741.5 238.4L742.2 237.4L742.8 236.5L743.4 235.5L744 234.6L744.6 233.6L745.2 232.6L745.8 231.7L746.4 230.7L746.9 229.8L747.5 228.8L748 227.9L748.6 226.9L749.1 225.9L749.7 225L750.2 224L750.7 223.1L751.2 222.1L751.7 221.2L752.2 220.2L752.7 219.3L753.2 218.3L753.7 217.3L754.1 216.4L754.6 215.4L755.1 214.5L755.5 213.5L755.9 212.6L756.4 211.6L756.8 210.6L757.2 209.7L757.6 208.7L757.9 207.8L758.3 206.8L758.6 205.9L758.9 204.9L759.2 203.9L759.6 203L759.9 202L760.2 201.1L760.5 200.1L760.9 199.2L761.2 198.2L761.6 197.2L762 196.3L762.4 195.3L762.8 194.4L763.2 193.4L763.7 192.5L764.2 191.5L764.7 190.5L765.2 189.6L765.8 188.6L766.4 187.7L767 186.7L767.6 185.8L768.3 184.8L769 183.9L769.7 182.9L770.4 181.9L771.2 181L771.9 180L772.7 179.1L773.5 178.1L774.4 177.2L775.2 176.2L776.1 175.2L776.9 174.3L777.8 173.3L778.7 172.4L779.6 171.4L780.6 170.5L781.5 169.5L782.4 168.5L783.4 167.6L784.4 166.6L785.4 165.7L786.4 164.7L787.5 163.8L788.6 162.8L789.7 161.8L790.8 160.9L792 159.9L793.2 159L794.4 158L795.7 157.1L796.9 156.1L798.2 155.2L799.6 154.2L800.9 153.2L802.3 152.3L803.7 151.3L805.1 150.4L806.6 149.4L808.1 148.5L809.6 147.5L811.1 146.5L812.6 145.6L814.2 144.6L815.8 143.7L817.4 142.7L819 141.8L820.7 140.8L822.6 139.8L824.5 138.9L826.5 137.9L828.5 137L830.7 136L832.9 135.1L835.1 134.1L837.4 133.1L839.7 132.2L842.1 131.2L844.5 130.3L846.8 129.3L849.2 128.4L851.6 127.4L853.9 126.4L856.2 125.5L858.5 124.5L860.7 123.6L862.9 122.6L865 121.7L867.1 120.7L869.1 119.8L870.9 118.8L872.7 117.8L874.4 116.9L876 115.9L877.6 115L879.2 114L880.8 113.1L882.3 112.1L883.9 111.1L885.4 110.2L886.9 109.2L888.3 108.3L889.8 107.3L891.2 106.4L892.6 105.4L893.9 104.4L895.3 103.5L896.6 102.5L897.9 101.6L899.1 100.6L900.3 99.7L901.5 98.7L902.7 97.7L903.8 96.8L904.9 95.8L905.9 94.9L907 93.9L907.9 93L908.9 92L909.8 91.1L910.7 90.1L911.5 89.1L912.4 88.2L913.2 87.2L913.9 86.3L914.7 85.3L915.4 84.4L916.1 83.4L916.8 82.4L917.5 81.5L918.2 80.5L918.9 79.6L919.5 78.6L920.1 77.7L920.8 76.7L921.4 75.7L922 74.8L922.6 73.8L923.2 72.9L923.9 71.9L924.5 71L925.1 70L925.7 69L926.3 68.1L927 67.1L927.6 66.2L928.3 65.2L929 64.3L929.7 63.3L930.4 62.3L931.1 61.4L931.9 60.4L932.6 59.5L933.4 58.5L934.2 57.6L935 56.6L935.8 55.7L936.6 54.7L937.4 53.7L938.2 52.8L939.1 51.8L939.9 50.9L940.8 49.9L941.6 49L942.5 48L943.3 47L944.2 46.1L945.1 45.1L945.9 44.2L946.8 43.2L947.7 42.3L948.6 41.3L949.4 40.3L950.3 39.4L951.2 38.4L952.1 37.5L952.9 36.5L953.8 35.6L954.7 34.6L955.5 33.6L956.4 32.7L957.3 31.7L958.1 30.8L959 29.8L959.8 28.9L960.7 27.9L961.5 27L962.4 26L963.2 25L964.1 24.1L964.9 23.1L965.8 22.2L966.8 21.2L967.8 20.3L968.9 19.3L970.2 18.3L971.6 17.4L973.4 16.4L975.5 15.5L978.2 14.5L981.5 13.6L985.6 12.6"/>
<path d="M146 577.9L151.2 581.3L156.3 584.7L161.5 587.5L166.6 590.2L171.8 582L176.9 573.8L182.1 575.5L187.2 577.3L192.4 577.3L197.5 577.4L202.7 580.2L207.8 583L213 578.8L218.2 574.7L223.3 578.1L228.5 581.5L233.6 578.2L238.8 574.9L243.9 579.7L249.1 584.6L254.2 584.4L259.4 584.1L264.5 581.8L269.7 579.4L274.9 581.3L280 583.1L285.2 580.4L290.3 577.7L295.5 578.5L300.6 579.3L305.8 581.4L310.9 583.4L316.1 581.7L321.2 580.1L326.4 580.7L331.5 581.3L336.7 579.6L341.9 577.8L347 579.8L352.2 581.9L357.3 581.6L362.5 581.4L367.6 579.3L372.8 577.3L377.9 576L383.1 574.7L388.2 575L393.4 575.3L398.5 577.7L403.7 580.1L408.9 579.9L414 579.7L419.2 578.1L424.3 576.5L429.5 578.5L434.6 580.6L439.8 581.7L444.9 582.7L450.1 581.4L455.2 580L460.4 579.6L465.5 579.2L470.7 580.8L475.9 582.3L481 583.4L486.2 584.4L491.3 584.1L496.5 583.9L501.6 581.2L506.8 578.6L511.9 580.4L517.1 582.2L522.2 581.4L527.4 580.6L532.5 580.2L537.7 579.8L542.9 579.3L548 578.7L553.2 579.9L558.3 581.1L563.5 580.1L568.6 579L573.8 580.8L578.9 582.5L584.1 581.8L589.2 581.1L594.4 581.5L599.6 580.5L604.7 574.1L609.9 565.1L615 554.6L620.2 541.4L625.3 524.9L630.5 505.2L634 490L634.2 489L634.4 488.1L634.6 487.1L634.9 486.2L635.1 485.2L635.3 484.3L635.5 483.3L635.7 482.3L636 481.4L636.2 480.4L636.4 479.5L636.7 478.5L636.9 477.6L637.1 476.6L637.3 475.6L637.6 474.7L637.8 473.7L638.1 472.8L638.3 471.8L638.5 470.9L638.8 469.9L639 469L639.3 468L639.5 467L639.8 466.1L640 465.1L640.3 464.2L640.5 463.2L640.8 462.3L641.1 461.3L641.3 460.3L641.6 459.4L641.8 458.4L642.1 457.5L642.4 456.5L642.6 455.6L642.9 454.6L643.2 453.6L643.5 452.7L643.7 451.7L644 450.8L644.3 449.8L644.6 448.9L644.9 447.9L645.1 446.9L645.4 446L645.7 445L646 444.1L646.3 443.1L646.6 442.2L646.9 441.2L647.2 440.3L647.5 439.3L647.8 438.3L648.1 437.4L648.4 436.4L648.7 435.5L649 434.5L649.3 433.6L649.6 432.6L649.9 431.6L650.2 430.7L650.5 429.7L650.8 428.8L651.1 427.8L651.4 426.9L651.7 425.9L652 424.9L652.4 424L652.7 423L653 422.1L653.3 421.1L653.6 420.2L653.9 419.2L654.2 418.2L654.6 417.3L654.9 416.3L655.2 415.4L655.5 414.4L655.8 413.5L656.2 412.5L656.5 411.5L656.8 410.6L657.2 409.6L657.5 408.7L657.8 407.7L658.1 406.8L658.5 405.8L658.8 404.9L659.1 403.9L659.5 402.9L659.8 402L660.2 401L660.5 400.1L660.9 399.1L661.2 398.2L661.5 397.2L661.9 396.2L662.2 395.3L662.6 394.3L663 393.4L663.3 392.4L663.7 391.5L664 390.5L664.4 389.5L664.8 388.6L665.1 387.6L665.5 386.7L665.9 385.7L666.2 384.8L666.6 383.8L667 382.8L667.4 381.9L667.7 380.9L668.1 380L668.5 379L668.9 378.1L669.3 377.1L669.7 376.2L670.1 375.2L670.5 374.2L670.9 373.3L671.3 372.3L671.7 371.4L672.1 370.4L672.5 369.5L672.9 368.5L673.3 367.5L673.7 366.6L674.2 365.6L674.6 364.7L675 363.7L675.4 362.8L675.9 361.8L676.3 360.8L676.7 359.9L677.2 358.9L677.6 358L678.1 357L678.5 356.1L679 355.1L679.4 354.1L679.9 353.2L680.4 352.2L680.8 351.3L681.3 350.3L681.8 349.4L682.2 348.4L682.7 347.4L683.2 346.5L683.7 345.5L684.2 344.6L684.7 343.6L685.1 342.7L685.6 341.7L686.1 340.8L686.7 339.8L687.2 338.8L687.7 337.9L688.2 336.9L688.7 336L689.2 335L689.8 334.1L690.3 333.1L690.8 332.1L691.4 331.2L691.9 330.2L692.5 329.3L693.1 328.3L693.7 327.4L694.4 326.4L695 325.4L695.7 324.5L696.4 323.5L697.1 322.6L697.8 321.6L698.6 320.7L699.3 319.7L700 318.7L700.8 317.8L701.6 316.8L702.4 315.9L703.1 314.9L703.9 314L704.7 313L705.5 312.1L706.3 311.1L707.2 310.1L708 309.2L708.8 308.2L709.6 307.3L710.4 306.3L711.2 305.4L712 304.4L712.8 303.4L713.7 302.5L714.5 301.5L715.2 300.6L716 299.6L716.8 298.7L717.6 297.7L718.4 296.7L719.1 295.8L719.9 294.8L720.6 293.9L721.3 292.9L722 292L722.7 291L723.4 290L724.1 289.1L724.9 288.1L725.6 287.2L726.3 286.2L727 285.3L727.7 284.3L728.4 283.3L729.2 282.4L729.9 281.4L730.6 280.5L731.3 279.5L732 278.6L732.7 277.6L733.5 276.7L734.2 275.7L734.9 274.7L735.6 273.8L736.3 272.8L737 271.9L737.7 270.9L738.4 270L739.1 269L739.8 268L740.5 267.1L741.2 266.1L741.9 265.2L742.6 264.2L743.2 263.3L743.9 262.3L744.6 261.3L745.2 260.4L745.9 259.4L746.5 258.5L747.2 257.5L747.8 256.6L748.5 255.6L749.1 254.6L749.7 253.7L750.3 252.7L750.9 251.8L751.5 250.8L752.1 249.9L752.7 248.9L753.3 248L753.9 247L754.4 246L755 245.1L755.5 244.1L756.1 243.2L756.6 242.2L757.1 241.3L757.6 240.3L758.1 239.3L758.5 238.4L759 237.4L759.4 236.5L759.9 235.5L760.3 234.6L760.7 233.6L761.1 232.6L761.5 231.7L761.9 230.7L762.3 229.8L762.7 228.8L763.1 227.9L763.5 226.9L763.8 225.9L764.2 225L764.6 224L765 223.1L765.4 222.1L765.8 221.2L766.3 220.2L766.7 219.3L767.1 218.3L767.6 217.3L768.1 216.4L768.5 215.4L769 214.5L769.6 213.5L770.1 212.6L770.6 211.6L771.2 210.6L771.8 209.7L772.4 208.7L773 207.8L773.6 206.8L774.2 205.9L774.8 204.9L775.5 203.9L776.2 203L776.9 202L777.6 201.1L778.3 200.1L779.1 199.2L779.9 198.2L780.7 197.2L781.5 196.3L782.3 195.3L783.2 194.4L784.1 193.4L785 192.5L786 191.5L787 190.5L788.1 189.6L789.2 188.6L790.4 187.7L791.6 186.7L792.9 185.8L794.2 184.8L795.6 183.9L797 182.9L798.4 181.9L799.9 181L801.4 180L802.9 179.1L804.5 178.1L806.1 177.2L807.7 176.2L809.3 175.2L810.9 174.3L812.6 173.3L814.2 172.4L815.9 171.4L817.6 170.5L819.3 169.5L821 168.5L822.7 167.6L824.4 166.6L826.1 165.7L827.9 164.7L829.7 163.8L831.6 162.8L833.6 161.8L835.5 160.9L837.6 159.9L839.6 159L841.7 158L843.8 157.1L845.9 156.1L848 155.2L850.1 154.2L852.2 153.2L854.3 152.3L856.4 151.3L858.5 150.4L860.6 149.4L862.6 148.5L864.6 147.5L866.6 146.5L868.6 145.6L870.5 144.6L872.4 143.7L874.2 142.7L875.9 141.8L877.7 140.8L879.5 139.8L881.3 138.9L883.1 137.9L884.9 137L886.7 136L888.5 135.1L890.3 134.1L892.1 133.1L893.8 132.2L895.6 131.2L897.3 130.3L899 129.3L900.7 128.4L902.3 127.4L903.8 126.4L905.4 125.5L906.9 124.5L908.3 123.6L909.6 122.6L910.9 121.7L912.2 120.7L913.3 119.8L914.4 118.8L915.4 117.8L916.3 116.9L917.2 115.9L918 115L918.8 114L919.5 113.1L920.2 112.1L920.9 111.1L921.6 110.2L922.2 109.2L922.8 108.3L923.4 107.3L924 106.4L924.6 105.4L925.1 104.4L925.7 103.5L926.2 102.5L926.7 101.6L927.2 100.6L927.8 99.7L928.3 98.7L928.8 97.7L929.3 96.8L929.9 95.8L930.4 94.9L931 93.9L931.6 93L932.2 92L932.8 91.1L933.4 90.1L934 89.1L934.6 88.2L935.2 87.2L935.8 86.3L936.4 85.3L936.9 84.4L937.5 83.4L938.1 82.4L938.7 81.5L939.3 80.5L939.9 79.6L940.4 78.6L941 77.7L941.6 76.7L942.2 75.7L942.8 74.8L943.4 73.8L944 72.9L944.6 71.9L945.2 71L945.8 70L946.4 69L947 68.1L947.6 67.1L948.3 66.2L948.9 65.2L949.5 64.3L950.2 63.3L950.8 62.3L951.5 61.4L952.2 60.4L952.9 59.5L953.6 58.5L954.3 57.6L955 56.6L955.7 55.7L956.5 54.7L957.2 53.7L958 52.8L958.8 51.8L959.5 50.9L960.3 49.9L961.1 49L961.9 48L962.7 47L963.5 46.1L964.3 45.1L965.1 44.2L965.9 43.2L966.7 42.3L967.6 41.3L968.4 40.3L969.2 39.4L970 38.4L970.8 37.5L971.6 36.5L972.5 35.6L973.3 34.6L974.1 33.6L974.9 32.7L975.7 31.7L976.5 30.8L977.2 29.8L978 28.9L978.8 27.9L979.6 27L980.4 26L981.2 25L982 24.1L982.8 23.1L983.6 22.2L984.6 21.2L985.6 20.3L986.7 19.3L988 18.3L989.6 17.4L991.6 16.4L994.1 15.5L997.3 14.5L1001.4 13.6L1006.5 12.6"/>
</g>
</g>
<g clip-path="url(#cb)">
<g fill="none" stroke="#000" stroke-width="1.65" stroke-linejoin="round">
<path d="M149.8 1283.2L155 1290L158 1300L162.4 1343.2L165.3 1311.6L170.5 1278.5L174.4 1266L174.9 1265L175.5 1264.1L176 1263.1L176.6 1262.2L177.2 1261.2L177.7 1260.3L178.3 1259.3L178.8 1258.4L179.4 1257.4L180 1256.5L180.6 1255.5L181.1 1254.5L181.7 1253.6L182.3 1252.6L182.9 1251.7L183.5 1250.7L184.1 1249.8L184.7 1248.8L185.3 1247.9L185.9 1246.9L186.5 1245.9L187.1 1245L187.7 1244L188.4 1243.1L189 1242.1L189.6 1241.2L190.2 1240.2L190.9 1239.3L191.5 1238.3L192.2 1237.4L192.8 1236.4L193.4 1235.4L194.1 1234.5L194.7 1233.5L195.4 1232.6L196.1 1231.6L196.7 1230.7L197.4 1229.7L198.1 1228.8L198.7 1227.8L199.4 1226.8L200.1 1225.9L200.8 1224.9L201.5 1224L202.2 1223L202.9 1222.1L203.5 1221.1L204.2 1220.2L205 1219.2L205.7 1218.3L206.4 1217.3L207.1 1216.3L207.8 1215.4L208.5 1214.4L209.3 1213.5L210 1212.5L210.7 1211.6L211.4 1210.6L212.2 1209.7L212.9 1208.7L213.7 1207.8L214.4 1206.8L215.2 1205.8L216 1204.9L216.7 1203.9L217.5 1203L218.3 1202L219.1 1201.1L219.9 1200.1L220.7 1199.2L221.5 1198.2L222.3 1197.2L223.1 1196.3L223.9 1195.3L224.8 1194.4L225.6 1193.4L226.4 1192.5L227.3 1191.5L228.1 1190.6L229 1189.6L229.8 1188.7L230.7 1187.7L231.6 1186.7L232.4 1185.8L233.3 1184.8L234.2 1183.9L235.1 1182.9L236 1182L236.9 1181L237.7 1180.1L238.6 1179.1L239.5 1178.1L240.5 1177.2L241.4 1176.2L242.3 1175.3L243.2 1174.3L244.1 1173.4L245 1172.4L246 1171.5L246.9 1170.5L247.8 1169.6L248.7 1168.6L249.7 1167.6L250.6 1166.7L251.6 1165.7L252.5 1164.8L253.5 1163.8L254.4 1162.9L255.4 1161.9L256.3 1161L257.3 1160L258.2 1159.1L259.2 1158.1L260.1 1157.1L261.1 1156.2L262.1 1155.2L263 1154.3L264 1153.3L265 1152.4L265.9 1151.4L266.9 1150.5L267.9 1149.5L268.8 1148.5L269.8 1147.6L270.8 1146.6L271.8 1145.7L272.7 1144.7L273.7 1143.8L274.7 1142.8L275.7 1141.9L276.6 1140.9L277.6 1140L278.6 1139L279.6 1138L280.6 1137.1L281.5 1136.1L282.5 1135.2L283.5 1134.2L284.5 1133.3L285.4 1132.3L286.4 1131.4L287.4 1130.4L288.4 1129.4L289.3 1128.5L290.3 1127.5L291.3 1126.6L292.2 1125.6L293.2 1124.7L294.2 1123.7L295.1 1122.8L296.1 1121.8L297.1 1120.9L298 1119.9L299 1118.9L299.9 1118L300.9 1117L301.9 1116.1L302.8 1115.1L303.8 1114.2L304.7 1113.2L305.6 1112.3L306.6 1111.3L307.5 1110.3L308.5 1109.4L309.4 1108.4L310.3 1107.5L311.3 1106.5L312.2 1105.6L313.1 1104.6L314 1103.7L315 1102.7L315.9 1101.8L316.8 1100.8L317.8 1099.8L318.7 1098.9L319.6 1097.9L320.6 1097L321.5 1096L322.4 1095.1L323.4 1094.1L324.3 1093.2L325.2 1092.2L326.1 1091.3L327.1 1090.3L328 1089.3L328.9 1088.4L329.9 1087.4L330.8 1086.5L331.7 1085.5L332.7 1084.6L333.6 1083.6L334.6 1082.7L335.5 1081.7L336.4 1080.7L337.4 1079.8L338.3 1078.8L339.2 1077.9L340.2 1076.9L341.1 1076L342 1075L343 1074.1L343.9 1073.1L344.8 1072.2L345.8 1071.2L346.7 1070.2L347.7 1069.3L348.6 1068.3L349.5 1067.4L350.5 1066.4L351.4 1065.5L352.4 1064.5L353.3 1063.6L354.2 1062.6L355.2 1061.6L356.1 1060.7L357 1059.7L358 1058.8L358.9 1057.8L359.9 1056.9L360.8 1055.9L361.7 1055L362.7 1054L363.6 1053.1L364.6 1052.1L365.5 1051.1L366.5 1050.2L367.4 1049.2L368.3 1048.3L369.3 1047.3L370.2 1046.4L371.2 1045.4L372.1 1044.5L373.1 1043.5L374 1042.6L374.9 1041.6L375.9 1040.6L376.8 1039.7L377.8 1038.7L378.7 1037.8L379.7 1036.8L380.6 1035.9L381.5 1034.9L382.5 1034L383.4 1033L384.4 1032L385.3 1031.1L386.3 1030.1L387.2 1029.2L388.2 1028.2L389.1 1027.3L390.1 1026.3L391 1025.4L391.9 1024.4L392.9 1023.5L393.8 1022.5L394.8 1021.5L395.7 1020.6L396.7 1019.6L397.6 1018.7L398.6 1017.7L399.5 1016.8L400.5 1015.8L401.4 1014.9L402.4 1013.9L403.3 1012.9L404.3 1012L405.2 1011L406.2 1010.1L407.1 1009.1L408.1 1008.2L409 1007.2L410 1006.3L410.9 1005.3L411.9 1004.4L412.8 1003.4L413.8 1002.4L414.7 1001.5L415.7 1000.5L416.6 999.6L417.6 998.6L418.5 997.7L419.5 996.7L420.4 995.8L421.4 994.8L422.3 993.9L423.3 992.9L424.2 991.9L425.2 991L426.1 990L427.1 989.1L428 988.1L429 987.2L430 986.2L430.9 985.3L431.9 984.3L432.8 983.3L433.8 982.4L434.7 981.4L435.7 980.5L436.7 979.5L437.6 978.6L438.6 977.6L439.5 976.7L440.5 975.7L441.5 974.8L442.4 973.8L443.4 972.8L444.4 971.9L445.3 970.9L446.3 970L447.3 969L448.2 968.1L449.2 967.1L450.2 966.2L451.1 965.2L452.1 964.2L453.1 963.3L454.1 962.3L455 961.4L456 960.4L457 959.5L458 958.5L458.9 957.6L459.9 956.6L460.9 955.7L461.9 954.7L462.9 953.7L463.8 952.8L464.8 951.8L465.8 950.9L466.8 949.9L467.8 949L468.8 948L469.7 947.1L470.7 946.1L471.7 945.2L472.7 944.2L473.7 943.2L474.7 942.3L475.7 941.3L476.6 940.4L477.6 939.4L478.6 938.5L479.6 937.5L480.6 936.6L481.6 935.6L482.6 934.6L483.5 933.7L484.5 932.7L485.5 931.8L486.5 930.8L487.5 929.9L488.5 928.9L489.5 928L490.4 927L491.4 926.1L492.4 925.1L493.4 924.1L494.4 923.2L495.4 922.2L496.3 921.3L497.3 920.3L498.3 919.4L499.3 918.4L500.3 917.5L501.2 916.5L502.2 915.5L503.2 914.6L504.2 913.6L505.1 912.7L506.1 911.7L507.1 910.8L508 909.8L509 908.9L510 907.9L510.9 907L511.9 906L512.9 905L513.8 904.1L514.8 903.1L515.7 902.2L516.7 901.2L517.7 900.3L518.6 899.3L519.6 898.4L520.6 897.4L521.5 896.4L522.5 895.5L523.5 894.5L524.4 893.6L525.4 892.6L526.3 891.7L527.3 890.7L528.3 889.8L529.2 888.8L530.2 887.9L531.2 886.9L532.2 885.9L533.1 885L534.1 884L535.1 883.1L536.1 882.1L537 881.2L538 880.2L539 879.3L540 878.3L541 877.4L542 876.4L543 875.4L544 874.5L545 873.5L546 872.6L547 871.6L548 870.7L549 869.7L550 868.8L551 867.8L552 866.8L553 865.9L554.1 864.9L555.1 864L556.1 863L557.1 862.1L558.2 861.1L559.2 860.2L560.2 859.2L561.2 858.3L562.3 857.3L563.3 856.3L564.3 855.4L565.4 854.4L566.4 853.5L567.5 852.5L568.5 851.6L569.6 850.6L570.6 849.7L571.7 848.7L572.7 847.7L573.8 846.8L574.9 845.8L575.9 844.9L577 843.9L578.1 843L579.2 842L580.3 841.1L581.4 840.1L582.4 839.2L583.5 838.2L584.7 837.2L585.8 836.3L586.9 835.3L588 834.4L589.1 833.4L590.3 832.5L591.4 831.5L592.6 830.6L593.7 829.6L594.9 828.7L596.1 827.7L597.2 826.7L598.4 825.8L599.6 824.8L600.8 823.9L602 822.9L603.2 822L604.4 821L605.6 820.1L606.8 819.1L608 818.1L609.2 817.2L610.3 816.2L611.5 815.3L612.7 814.3L613.9 813.4L615.1 812.4L616.3 811.5L617.5 810.5L618.7 809.6L619.8 808.6L621 807.6L622.2 806.7L623.4 805.7L624.5 804.8L625.7 803.8L626.9 802.9L628.1 801.9L629.3 801L630.6 800L631.9 799L633.3 798.1L634.8 797.1L636.4 796.2L638.3 795.2L640.4 794.3L642.8 793.3L645.6 792.4L648.9 791.4L652.9 790.5L657.6 789.5"/>
<path d="M149.8 1304.5L155 1305.2L160.1 1305.9L164.5 1306.5L170.2 1315.9L175.6 1307.3L180.8 1294.1L185.9 1282.8L191.1 1273.3L196.1 1266L196.8 1265L197.6 1264.1L198.3 1263.1L199.1 1262.2L199.8 1261.2L200.5 1260.3L201.3 1259.3L202 1258.4L202.8 1257.4L203.5 1256.5L204.3 1255.5L205 1254.5L205.8 1253.6L206.5 1252.6L207.3 1251.7L208 1250.7L208.8 1249.8L209.5 1248.8L210.3 1247.9L211.1 1246.9L211.8 1245.9L212.6 1245L213.4 1244L214.1 1243.1L214.9 1242.1L215.7 1241.2L216.4 1240.2L217.2 1239.3L218 1238.3L218.7 1237.4L219.5 1236.4L220.3 1235.4L221.1 1234.5L221.9 1233.5L222.6 1232.6L223.4 1231.6L224.2 1230.7L225 1229.7L225.8 1228.8L226.6 1227.8L227.4 1226.8L228.2 1225.9L229 1224.9L229.8 1224L230.6 1223L231.4 1222.1L232.2 1221.1L233 1220.2L233.8 1219.2L234.6 1218.3L235.4 1217.3L236.2 1216.3L237 1215.4L237.8 1214.4L238.6 1213.5L239.5 1212.5L240.3 1211.6L241.1 1210.6L241.9 1209.7L242.8 1208.7L243.6 1207.8L244.4 1206.8L245.2 1205.8L246.1 1204.9L246.9 1203.9L247.8 1203L248.6 1202L249.4 1201.1L250.3 1200.1L251.1 1199.2L252 1198.2L252.8 1197.2L253.7 1196.3L254.5 1195.3L255.4 1194.4L256.3 1193.4L257.1 1192.5L258 1191.5L258.9 1190.6L259.7 1189.6L260.6 1188.7L261.5 1187.7L262.3 1186.7L263.2 1185.8L264.1 1184.8L265 1183.9L265.8 1182.9L266.7 1182L267.6 1181L268.5 1180.1L269.4 1179.1L270.3 1178.1L271.2 1177.2L272 1176.2L272.9 1175.3L273.8 1174.3L274.7 1173.4L275.6 1172.4L276.5 1171.5L277.4 1170.5L278.3 1169.6L279.2 1168.6L280.1 1167.6L281 1166.7L281.9 1165.7L282.8 1164.8L283.7 1163.8L284.6 1162.9L285.5 1161.9L286.4 1161L287.3 1160L288.2 1159.1L289.1 1158.1L290.1 1157.1L291 1156.2L291.9 1155.2L292.8 1154.3L293.7 1153.3L294.6 1152.4L295.5 1151.4L296.4 1150.5L297.3 1149.5L298.3 1148.5L299.2 1147.6L300.1 1146.6L301 1145.7L301.9 1144.7L302.8 1143.8L303.8 1142.8L304.7 1141.9L305.6 1140.9L306.5 1140L307.4 1139L308.3 1138L309.2 1137.1L310.2 1136.1L311.1 1135.2L312 1134.2L312.9 1133.3L313.8 1132.3L314.7 1131.4L315.7 1130.4L316.6 1129.4L317.5 1128.5L318.4 1127.5L319.3 1126.6L320.2 1125.6L321.1 1124.7L322 1123.7L323 1122.8L323.9 1121.8L324.8 1120.9L325.7 1119.9L326.6 1118.9L327.5 1118L328.4 1117L329.3 1116.1L330.2 1115.1L331.1 1114.2L332 1113.2L332.9 1112.3L333.8 1111.3L334.7 1110.3L335.6 1109.4L336.5 1108.4L337.4 1107.5L338.3 1106.5L339.2 1105.6L340.1 1104.6L341 1103.7L341.9 1102.7L342.8 1101.8L343.7 1100.8L344.6 1099.8L345.5 1098.9L346.4 1097.9L347.3 1097L348.2 1096L349.1 1095.1L350 1094.1L350.9 1093.2L351.8 1092.2L352.7 1091.3L353.6 1090.3L354.5 1089.3L355.4 1088.4L356.3 1087.4L357.2 1086.5L358.1 1085.5L358.9 1084.6L359.8 1083.6L360.7 1082.7L361.6 1081.7L362.5 1080.7L363.4 1079.8L364.3 1078.8L365.2 1077.9L366.1 1076.9L367 1076L367.9 1075L368.8 1074.1L369.7 1073.1L370.6 1072.2L371.5 1071.2L372.4 1070.2L373.3 1069.3L374.2 1068.3L375.1 1067.4L376 1066.4L376.9 1065.5L377.8 1064.5L378.7 1063.6L379.6 1062.6L380.5 1061.6L381.4 1060.7L382.3 1059.7L383.1 1058.8L384 1057.8L384.9 1056.9L385.8 1055.9L386.7 1055L387.7 1054L388.6 1053.1L389.5 1052.1L390.4 1051.1L391.3 1050.2L392.2 1049.2L393.1 1048.3L394 1047.3L394.9 1046.4L395.8 1045.4L396.7 1044.5L397.6 1043.5L398.5 1042.6L399.4 1041.6L400.3 1040.6L401.2 1039.7L402.1 1038.7L403 1037.8L403.9 1036.8L404.9 1035.9L405.8 1034.9L406.7 1034L407.6 1033L408.5 1032L409.4 1031.1L410.3 1030.1L411.2 1029.2L412.2 1028.2L413.1 1027.3L414 1026.3L414.9 1025.4L415.8 1024.4L416.7 1023.5L417.7 1022.5L418.6 1021.5L419.5 1020.6L420.4 1019.6L421.3 1018.7L422.3 1017.7L423.2 1016.8L424.1 1015.8L425 1014.9L426 1013.9L426.9 1012.9L427.8 1012L428.8 1011L429.7 1010.1L430.6 1009.1L431.6 1008.2L432.5 1007.2L433.4 1006.3L434.4 1005.3L435.3 1004.4L436.3 1003.4L437.2 1002.4L438.1 1001.5L439.1 1000.5L440 999.6L441 998.6L441.9 997.7L442.8 996.7L443.8 995.8L444.7 994.8L445.7 993.9L446.6 992.9L447.6 991.9L448.5 991L449.5 990L450.4 989.1L451.4 988.1L452.3 987.2L453.3 986.2L454.2 985.3L455.2 984.3L456.1 983.3L457 982.4L458 981.4L458.9 980.5L459.9 979.5L460.8 978.6L461.8 977.6L462.7 976.7L463.7 975.7L464.6 974.8L465.6 973.8L466.5 972.8L467.5 971.9L468.4 970.9L469.3 970L470.3 969L471.2 968.1L472.2 967.1L473.1 966.2L474.1 965.2L475 964.2L475.9 963.3L476.9 962.3L477.8 961.4L478.8 960.4L479.7 959.5L480.7 958.5L481.6 957.6L482.5 956.6L483.5 955.7L484.4 954.7L485.4 953.7L486.3 952.8L487.2 951.8L488.2 950.9L489.1 949.9L490.1 949L491 948L492 947.1L492.9 946.1L493.8 945.2L494.8 944.2L495.7 943.2L496.7 942.3L497.6 941.3L498.6 940.4L499.5 939.4L500.4 938.5L501.4 937.5L502.3 936.6L503.3 935.6L504.2 934.6L505.2 933.7L506.1 932.7L507.1 931.8L508 930.8L508.9 929.9L509.9 928.9L510.8 928L511.8 927L512.7 926.1L513.7 925.1L514.6 924.1L515.6 923.2L516.5 922.2L517.5 921.3L518.4 920.3L519.3 919.4L520.3 918.4L521.2 917.5L522.2 916.5L523.1 915.5L524.1 914.6L525 913.6L526 912.7L526.9 911.7L527.8 910.8L528.8 909.8L529.7 908.9L530.7 907.9L531.6 907L532.5 906L533.5 905L534.4 904.1L535.3 903.1L536.3 902.2L537.2 901.2L538.2 900.3L539.1 899.3L540 898.4L541 897.4L541.9 896.4L542.8 895.5L543.8 894.5L544.7 893.6L545.7 892.6L546.6 891.7L547.6 890.7L548.5 889.8L549.4 888.8L550.4 887.9L551.3 886.9L552.3 885.9L553.2 885L554.2 884L555.1 883.1L556.1 882.1L557.1 881.2L558 880.2L559 879.3L559.9 878.3L560.9 877.4L561.9 876.4L562.8 875.4L563.8 874.5L564.8 873.5L565.8 872.6L566.8 871.6L567.7 870.7L568.7 869.7L569.7 868.8L570.7 867.8L571.7 866.8L572.7 865.9L573.7 864.9L574.7 864L575.7 863L576.7 862.1L577.7 861.1L578.7 860.2L579.7 859.2L580.7 858.3L581.7 857.3L582.7 856.3L583.8 855.4L584.8 854.4L585.8 853.5L586.8 852.5L587.9 851.6L588.9 850.6L589.9 849.7L591 848.7L592 847.7L593 846.8L594.1 845.8L595.1 844.9L596.2 843.9L597.3 843L598.3 842L599.4 841.1L600.4 840.1L601.5 839.2L602.6 838.2L603.7 837.2L604.8 836.3L605.9 835.3L607 834.4L608.1 833.4L609.2 832.5L610.3 831.5L611.4 830.6L612.6 829.6L613.7 828.7L614.9 827.7L616 826.7L617.2 825.8L618.3 824.8L619.5 823.9L620.6 822.9L621.8 822L623 821L624.1 820.1L625.3 819.1L626.5 818.1L627.7 817.2L628.8 816.2L630 815.3L631.2 814.3L632.3 813.4L633.5 812.4L634.6 811.5L635.8 810.5L636.9 809.6L638.1 808.6L639.2 807.6L640.4 806.7L641.5 805.7L642.7 804.8L643.8 803.8L645 802.9L646.2 801.9L647.4 801L648.6 800L649.9 799L651.2 798.1L652.7 797.1L654.2 796.2L656 795.2L657.9 794.3L660.2 793.3L662.8 792.4L665.9 791.4L669.5 790.5L673.8 789.5"/>
<path d="M149.8 1305.5L155 1305.9L160.1 1306.3L165.3 1306.8L170.5 1307.2L175.6 1309L180 1313L185.7 1346.3L191.1 1313.5L196.3 1304.8L201.4 1296.5L206.6 1288.6L211.8 1281.1L216.9 1274L222.1 1267.4L223.2 1266L224 1265L224.8 1264.1L225.5 1263.1L226.3 1262.2L227.1 1261.2L227.9 1260.3L228.7 1259.3L229.4 1258.4L230.2 1257.4L231 1256.5L231.8 1255.5L232.6 1254.5L233.4 1253.6L234.1 1252.6L234.9 1251.7L235.7 1250.7L236.5 1249.8L237.3 1248.8L238.1 1247.9L238.9 1246.9L239.7 1245.9L240.5 1245L241.3 1244L242 1243.1L242.8 1242.1L243.6 1241.2L244.4 1240.2L245.2 1239.3L246 1238.3L246.8 1237.4L247.6 1236.4L248.4 1235.4L249.2 1234.5L250 1233.5L250.8 1232.6L251.6 1231.6L252.4 1230.7L253.3 1229.7L254.1 1228.8L254.9 1227.8L255.7 1226.8L256.5 1225.9L257.3 1224.9L258.1 1224L258.9 1223L259.7 1222.1L260.6 1221.1L261.4 1220.2L262.2 1219.2L263 1218.3L263.8 1217.3L264.7 1216.3L265.5 1215.4L266.3 1214.4L267.1 1213.5L267.9 1212.5L268.8 1211.6L269.6 1210.6L270.4 1209.7L271.3 1208.7L272.1 1207.8L272.9 1206.8L273.8 1205.8L274.6 1204.9L275.4 1203.9L276.3 1203L277.1 1202L277.9 1201.1L278.8 1200.1L279.6 1199.2L280.5 1198.2L281.3 1197.2L282.2 1196.3L283 1195.3L283.9 1194.4L284.7 1193.4L285.6 1192.5L286.4 1191.5L287.3 1190.6L288.1 1189.6L289 1188.7L289.8 1187.7L290.7 1186.7L291.5 1185.8L292.4 1184.8L293.3 1183.9L294.1 1182.9L295 1182L295.9 1181L296.7 1180.1L297.6 1179.1L298.4 1178.1L299.3 1177.2L300.2 1176.2L301 1175.3L301.9 1174.3L302.8 1173.4L303.7 1172.4L304.5 1171.5L305.4 1170.5L306.3 1169.6L307.1 1168.6L308 1167.6L308.9 1166.7L309.8 1165.7L310.6 1164.8L311.5 1163.8L312.4 1162.9L313.3 1161.9L314.1 1161L315 1160L315.9 1159.1L316.8 1158.1L317.6 1157.1L318.5 1156.2L319.4 1155.2L320.3 1154.3L321.2 1153.3L322 1152.4L322.9 1151.4L323.8 1150.5L324.7 1149.5L325.6 1148.5L326.4 1147.6L327.3 1146.6L328.2 1145.7L329.1 1144.7L330 1143.8L330.8 1142.8L331.7 1141.9L332.6 1140.9L333.5 1140L334.4 1139L335.2 1138L336.1 1137.1L337 1136.1L337.9 1135.2L338.8 1134.2L339.6 1133.3L340.5 1132.3L341.4 1131.4L342.3 1130.4L343.2 1129.4L344 1128.5L344.9 1127.5L345.8 1126.6L346.7 1125.6L347.6 1124.7L348.4 1123.7L349.3 1122.8L350.2 1121.8L351.1 1120.9L351.9 1119.9L352.8 1118.9L353.7 1118L354.6 1117L355.4 1116.1L356.3 1115.1L357.2 1114.2L358 1113.2L358.9 1112.3L359.8 1111.3L360.7 1110.3L361.5 1109.4L362.4 1108.4L363.3 1107.5L364.1 1106.5L365 1105.6L365.9 1104.6L366.7 1103.7L367.6 1102.7L368.5 1101.8L369.3 1100.8L370.2 1099.8L371 1098.9L371.9 1097.9L372.8 1097L373.6 1096L374.5 1095.1L375.3 1094.1L376.2 1093.2L377.1 1092.2L377.9 1091.3L378.8 1090.3L379.6 1089.3L380.5 1088.4L381.3 1087.4L382.2 1086.5L383.1 1085.5L383.9 1084.6L384.8 1083.6L385.6 1082.7L386.5 1081.7L387.3 1080.7L388.2 1079.8L389 1078.8L389.9 1077.9L390.7 1076.9L391.6 1076L392.5 1075L393.3 1074.1L394.2 1073.1L395 1072.2L395.9 1071.2L396.7 1070.2L397.6 1069.3L398.4 1068.3L399.3 1067.4L400.2 1066.4L401 1065.5L401.9 1064.5L402.7 1063.6L403.6 1062.6L404.4 1061.6L405.3 1060.7L406.2 1059.7L407 1058.8L407.9 1057.8L408.7 1056.9L409.6 1055.9L410.5 1055L411.3 1054L412.2 1053.1L413 1052.1L413.9 1051.1L414.8 1050.2L415.6 1049.2L416.5 1048.3L417.4 1047.3L418.2 1046.4L419.1 1045.4L420 1044.5L420.8 1043.5L421.7 1042.6L422.6 1041.6L423.4 1040.6L424.3 1039.7L425.2 1038.7L426.1 1037.8L426.9 1036.8L427.8 1035.9L428.7 1034.9L429.6 1034L430.4 1033L431.3 1032L432.2 1031.1L433.1 1030.1L434 1029.2L434.9 1028.2L435.7 1027.3L436.6 1026.3L437.5 1025.4L438.4 1024.4L439.3 1023.5L440.2 1022.5L441.1 1021.5L442 1020.6L442.9 1019.6L443.8 1018.7L444.7 1017.7L445.6 1016.8L446.5 1015.8L447.4 1014.9L448.3 1013.9L449.2 1012.9L450.1 1012L451 1011L451.9 1010.1L452.8 1009.1L453.8 1008.2L454.7 1007.2L455.6 1006.3L456.5 1005.3L457.5 1004.4L458.4 1003.4L459.3 1002.4L460.2 1001.5L461.2 1000.5L462.1 999.6L463 998.6L464 997.7L464.9 996.7L465.8 995.8L466.8 994.8L467.7 993.9L468.6 992.9L469.6 991.9L470.5 991L471.5 990L472.4 989.1L473.3 988.1L474.3 987.2L475.2 986.2L476.2 985.3L477.1 984.3L478 983.3L479 982.4L479.9 981.4L480.8 980.5L481.8 979.5L482.7 978.6L483.6 977.6L484.6 976.7L485.5 975.7L486.4 974.8L487.4 973.8L488.3 972.8L489.2 971.9L490.2 970.9L491.1 970L492 969L492.9 968.1L493.9 967.1L494.8 966.2L495.7 965.2L496.6 964.2L497.5 963.3L498.5 962.3L499.4 961.4L500.3 960.4L501.2 959.5L502.1 958.5L503 957.6L504 956.6L504.9 955.7L505.8 954.7L506.7 953.7L507.6 952.8L508.5 951.8L509.4 950.9L510.4 949.9L511.3 949L512.2 948L513.1 947.1L514 946.1L514.9 945.2L515.8 944.2L516.7 943.2L517.7 942.3L518.6 941.3L519.5 940.4L520.4 939.4L521.3 938.5L522.2 937.5L523.1 936.6L524 935.6L525 934.6L525.9 933.7L526.8 932.7L527.7 931.8L528.6 930.8L529.5 929.9L530.5 928.9L531.4 928L532.3 927L533.2 926.1L534.1 925.1L535.1 924.1L536 923.2L536.9 922.2L537.8 921.3L538.7 920.3L539.7 919.4L540.6 918.4L541.5 917.5L542.5 916.5L543.4 915.5L544.3 914.6L545.2 913.6L546.2 912.7L547.1 911.7L548 910.8L548.9 909.8L549.9 908.9L550.8 907.9L551.7 907L552.6 906L553.6 905L554.5 904.1L555.4 903.1L556.3 902.2L557.3 901.2L558.2 900.3L559.1 899.3L560.1 898.4L561 897.4L561.9 896.4L562.9 895.5L563.8 894.5L564.7 893.6L565.7 892.6L566.6 891.7L567.5 890.7L568.5 889.8L569.4 888.8L570.3 887.9L571.3 886.9L572.2 885.9L573.1 885L574.1 884L575 883.1L576 882.1L576.9 881.2L577.9 880.2L578.8 879.3L579.8 878.3L580.7 877.4L581.7 876.4L582.6 875.4L583.6 874.5L584.5 873.5L585.5 872.6L586.4 871.6L587.4 870.7L588.4 869.7L589.3 868.8L590.3 867.8L591.3 866.8L592.2 865.9L593.2 864.9L594.2 864L595.1 863L596.1 862.1L597.1 861.1L598 860.2L599 859.2L600 858.3L601 857.3L601.9 856.3L602.9 855.4L603.9 854.4L604.9 853.5L605.9 852.5L606.9 851.6L607.9 850.6L608.8 849.7L609.8 848.7L610.8 847.7L611.8 846.8L612.8 845.8L613.8 844.9L614.9 843.9L615.9 843L616.9 842L617.9 841.1L618.9 840.1L620 839.2L621 838.2L622 837.2L623.1 836.3L624.1 835.3L625.2 834.4L626.2 833.4L627.3 832.5L628.4 831.5L629.5 830.6L630.6 829.6L631.7 828.7L632.8 827.7L633.9 826.7L635 825.8L636.1 824.8L637.2 823.9L638.3 822.9L639.4 822L640.5 821L641.7 820.1L642.8 819.1L643.9 818.1L645 817.2L646.1 816.2L647.3 815.3L648.4 814.3L649.5 813.4L650.6 812.4L651.7 811.5L652.8 810.5L653.9 809.6L655 808.6L656.1 807.6L657.2 806.7L658.3 805.7L659.4 804.8L660.5 803.8L661.6 802.9L662.8 801.9L663.9 801L665.1 800L666.3 799L667.6 798.1L669 797.1L670.5 796.2L672.1 795.2L674 794.3L676.1 793.3L678.6 792.4L681.5 791.4L684.9 790.5L689 789.5"/>
<path d="M149.8 1306.5L155 1306.7L160.1 1307L165.3 1307.2L170.5 1307.4L175.6 1307.6L180.8 1307.8L185.9 1308.1L191.1 1308.3L196.3 1311.3L201.4 1316.4L206.6 1321.6L209 1324L216.6 1358.8L222.1 1330.1L227.3 1315.5L232.4 1302.3L237.6 1290.7L242.8 1280.6L247.9 1272.1L252.3 1266L253.1 1265L253.8 1264.1L254.6 1263.1L255.3 1262.2L256.1 1261.2L256.9 1260.3L257.6 1259.3L258.4 1258.4L259.2 1257.4L259.9 1256.5L260.7 1255.5L261.5 1254.5L262.2 1253.6L263 1252.6L263.8 1251.7L264.5 1250.7L265.3 1249.8L266.1 1248.8L266.8 1247.9L267.6 1246.9L268.4 1245.9L269.1 1245L269.9 1244L270.7 1243.1L271.5 1242.1L272.2 1241.2L273 1240.2L273.8 1239.3L274.6 1238.3L275.3 1237.4L276.1 1236.4L276.9 1235.4L277.7 1234.5L278.5 1233.5L279.2 1232.6L280 1231.6L280.8 1230.7L281.6 1229.7L282.4 1228.8L283.2 1227.8L284 1226.8L284.7 1225.9L285.5 1224.9L286.3 1224L287.1 1223L287.9 1222.1L288.7 1221.1L289.5 1220.2L290.3 1219.2L291.1 1218.3L291.9 1217.3L292.7 1216.3L293.4 1215.4L294.2 1214.4L295 1213.5L295.8 1212.5L296.6 1211.6L297.4 1210.6L298.2 1209.7L299 1208.7L299.9 1207.8L300.7 1206.8L301.5 1205.8L302.3 1204.9L303.1 1203.9L303.9 1203L304.7 1202L305.5 1201.1L306.3 1200.1L307.1 1199.2L307.9 1198.2L308.8 1197.2L309.6 1196.3L310.4 1195.3L311.2 1194.4L312 1193.4L312.9 1192.5L313.7 1191.5L314.5 1190.6L315.3 1189.6L316.1 1188.7L317 1187.7L317.8 1186.7L318.6 1185.8L319.4 1184.8L320.3 1183.9L321.1 1182.9L321.9 1182L322.8 1181L323.6 1180.1L324.4 1179.1L325.2 1178.1L326.1 1177.2L326.9 1176.2L327.7 1175.3L328.6 1174.3L329.4 1173.4L330.2 1172.4L331.1 1171.5L331.9 1170.5L332.7 1169.6L333.6 1168.6L334.4 1167.6L335.3 1166.7L336.1 1165.7L336.9 1164.8L337.8 1163.8L338.6 1162.9L339.5 1161.9L340.3 1161L341.1 1160L342 1159.1L342.8 1158.1L343.7 1157.1L344.5 1156.2L345.3 1155.2L346.2 1154.3L347 1153.3L347.9 1152.4L348.7 1151.4L349.5 1150.5L350.4 1149.5L351.2 1148.5L352.1 1147.6L352.9 1146.6L353.8 1145.7L354.6 1144.7L355.4 1143.8L356.3 1142.8L357.1 1141.9L358 1140.9L358.8 1140L359.7 1139L360.5 1138L361.4 1137.1L362.2 1136.1L363 1135.2L363.9 1134.2L364.7 1133.3L365.6 1132.3L366.4 1131.4L367.3 1130.4L368.1 1129.4L368.9 1128.5L369.8 1127.5L370.6 1126.6L371.5 1125.6L372.3 1124.7L373.1 1123.7L374 1122.8L374.8 1121.8L375.7 1120.9L376.5 1119.9L377.3 1118.9L378.2 1118L379 1117L379.9 1116.1L380.7 1115.1L381.5 1114.2L382.4 1113.2L383.2 1112.3L384 1111.3L384.9 1110.3L385.7 1109.4L386.5 1108.4L387.4 1107.5L388.2 1106.5L389 1105.6L389.9 1104.6L390.7 1103.7L391.5 1102.7L392.4 1101.8L393.2 1100.8L394 1099.8L394.8 1098.9L395.7 1097.9L396.5 1097L397.3 1096L398.1 1095.1L399 1094.1L399.8 1093.2L400.6 1092.2L401.4 1091.3L402.3 1090.3L403.1 1089.3L403.9 1088.4L404.7 1087.4L405.6 1086.5L406.4 1085.5L407.2 1084.6L408 1083.6L408.8 1082.7L409.7 1081.7L410.5 1080.7L411.3 1079.8L412.1 1078.8L412.9 1077.9L413.8 1076.9L414.6 1076L415.4 1075L416.2 1074.1L417 1073.1L417.9 1072.2L418.7 1071.2L419.5 1070.2L420.3 1069.3L421.1 1068.3L422 1067.4L422.8 1066.4L423.6 1065.5L424.4 1064.5L425.3 1063.6L426.1 1062.6L426.9 1061.6L427.7 1060.7L428.6 1059.7L429.4 1058.8L430.2 1057.8L431 1056.9L431.9 1055.9L432.7 1055L433.5 1054L434.3 1053.1L435.2 1052.1L436 1051.1L436.8 1050.2L437.7 1049.2L438.5 1048.3L439.3 1047.3L440.2 1046.4L441 1045.4L441.8 1044.5L442.7 1043.5L443.5 1042.6L444.3 1041.6L445.2 1040.6L446 1039.7L446.8 1038.7L447.7 1037.8L448.5 1036.8L449.4 1035.9L450.2 1034.9L451.1 1034L451.9 1033L452.8 1032L453.6 1031.1L454.5 1030.1L455.3 1029.2L456.2 1028.2L457 1027.3L457.9 1026.3L458.7 1025.4L459.6 1024.4L460.5 1023.5L461.3 1022.5L462.2 1021.5L463 1020.6L463.9 1019.6L464.8 1018.7L465.7 1017.7L466.5 1016.8L467.4 1015.8L468.3 1014.9L469.1 1013.9L470 1012.9L470.9 1012L471.8 1011L472.7 1010.1L473.6 1009.1L474.5 1008.2L475.3 1007.2L476.2 1006.3L477.1 1005.3L478 1004.4L478.9 1003.4L479.8 1002.4L480.7 1001.5L481.6 1000.5L482.5 999.6L483.4 998.6L484.3 997.7L485.2 996.7L486.1 995.8L487 994.8L487.9 993.9L488.8 992.9L489.8 991.9L490.7 991L491.6 990L492.5 989.1L493.4 988.1L494.3 987.2L495.2 986.2L496.1 985.3L497.1 984.3L498 983.3L498.9 982.4L499.8 981.4L500.7 980.5L501.6 979.5L502.6 978.6L503.5 977.6L504.4 976.7L505.3 975.7L506.2 974.8L507.1 973.8L508.1 972.8L509 971.9L509.9 970.9L510.8 970L511.7 969L512.6 968.1L513.6 967.1L514.5 966.2L515.4 965.2L516.3 964.2L517.2 963.3L518.1 962.3L519.1 961.4L520 960.4L520.9 959.5L521.8 958.5L522.8 957.6L523.7 956.6L524.6 955.7L525.6 954.7L526.5 953.7L527.4 952.8L528.3 951.8L529.3 950.9L530.2 949.9L531.1 949L532.1 948L533 947.1L533.9 946.1L534.9 945.2L535.8 944.2L536.7 943.2L537.7 942.3L538.6 941.3L539.5 940.4L540.5 939.4L541.4 938.5L542.3 937.5L543.3 936.6L544.2 935.6L545.1 934.6L546.1 933.7L547 932.7L547.9 931.8L548.9 930.8L549.8 929.9L550.7 928.9L551.6 928L552.6 927L553.5 926.1L554.4 925.1L555.4 924.1L556.3 923.2L557.2 922.2L558.1 921.3L559.1 920.3L560 919.4L560.9 918.4L561.8 917.5L562.7 916.5L563.7 915.5L564.6 914.6L565.5 913.6L566.4 912.7L567.3 911.7L568.2 910.8L569.1 909.8L570.1 908.9L571 907.9L571.9 907L572.8 906L573.7 905L574.6 904.1L575.5 903.1L576.4 902.2L577.3 901.2L578.2 900.3L579.1 899.3L580 898.4L580.9 897.4L581.8 896.4L582.7 895.5L583.7 894.5L584.6 893.6L585.5 892.6L586.4 891.7L587.3 890.7L588.2 889.8L589.1 888.8L590 887.9L590.9 886.9L591.8 885.9L592.7 885L593.6 884L594.5 883.1L595.5 882.1L596.4 881.2L597.3 880.2L598.2 879.3L599.1 878.3L600 877.4L601 876.4L601.9 875.4L602.8 874.5L603.7 873.5L604.6 872.6L605.6 871.6L606.5 870.7L607.4 869.7L608.4 868.8L609.3 867.8L610.2 866.8L611.2 865.9L612.1 864.9L613 864L613.9 863L614.9 862.1L615.8 861.1L616.7 860.2L617.6 859.2L618.6 858.3L619.5 857.3L620.4 856.3L621.4 855.4L622.3 854.4L623.2 853.5L624.2 852.5L625.1 851.6L626 850.6L627 849.7L627.9 848.7L628.9 847.7L629.8 846.8L630.8 845.8L631.8 844.9L632.7 843.9L633.7 843L634.7 842L635.7 841.1L636.7 840.1L637.7 839.2L638.7 838.2L639.7 837.2L640.7 836.3L641.7 835.3L642.8 834.4L643.8 833.4L644.9 832.5L645.9 831.5L647 830.6L648.1 829.6L649.2 828.7L650.3 827.7L651.4 826.7L652.5 825.8L653.6 824.8L654.7 823.9L655.8 822.9L656.9 822L658.1 821L659.2 820.1L660.3 819.1L661.5 818.1L662.6 817.2L663.7 816.2L664.8 815.3L666 814.3L667.1 813.4L668.2 812.4L669.3 811.5L670.4 810.5L671.5 809.6L672.6 808.6L673.7 807.6L674.8 806.7L675.9 805.7L677 804.8L678.1 803.8L679.3 802.9L680.4 801.9L681.6 801L682.8 800L684 799L685.4 798.1L686.8 797.1L688.5 796.2L690.3 795.2L692.5 794.3L695 793.3L698 792.4L701.6 791.4L705.8 790.5L711 789.5"/>
<path d="M149.8 1325.8L155 1325.8L160.1 1325.7L165.3 1325.8L170.5 1325.8L175.6 1325.8L180.8 1325.7L185.9 1325.7L191.1 1325.8L196.3 1325.8L201.4 1325.7L206.6 1325.8L211.8 1325.8L216.9 1325.7L222.1 1325.7L227.3 1329.3L232.4 1333L237.6 1336.9L238 1337.4L243 1342.4L247.9 1337.4L253.1 1322.4L258.2 1308.6L263.4 1296.3L268.6 1285.4L273.7 1275.9L278.9 1267.8L280.2 1266L280.9 1265L281.6 1264.1L282.3 1263.1L283 1262.2L283.7 1261.2L284.5 1260.3L285.2 1259.3L285.9 1258.4L286.6 1257.4L287.3 1256.5L288 1255.5L288.7 1254.5L289.4 1253.6L290.2 1252.6L290.9 1251.7L291.6 1250.7L292.3 1249.8L293 1248.8L293.8 1247.9L294.5 1246.9L295.2 1245.9L295.9 1245L296.6 1244L297.4 1243.1L298.1 1242.1L298.8 1241.2L299.6 1240.2L300.3 1239.3L301 1238.3L301.7 1237.4L302.5 1236.4L303.2 1235.4L303.9 1234.5L304.7 1233.5L305.4 1232.6L306.1 1231.6L306.9 1230.7L307.6 1229.7L308.4 1228.8L309.1 1227.8L309.8 1226.8L310.6 1225.9L311.3 1224.9L312.1 1224L312.8 1223L313.6 1222.1L314.3 1221.1L315.1 1220.2L315.8 1219.2L316.6 1218.3L317.3 1217.3L318.1 1216.3L318.8 1215.4L319.6 1214.4L320.3 1213.5L321.1 1212.5L321.9 1211.6L322.6 1210.6L323.4 1209.7L324.1 1208.7L324.9 1207.8L325.7 1206.8L326.4 1205.8L327.2 1204.9L328 1203.9L328.7 1203L329.5 1202L330.3 1201.1L331.1 1200.1L331.8 1199.2L332.6 1198.2L333.4 1197.2L334.2 1196.3L335 1195.3L335.7 1194.4L336.5 1193.4L337.3 1192.5L338.1 1191.5L338.9 1190.6L339.7 1189.6L340.5 1188.7L341.2 1187.7L342 1186.7L342.8 1185.8L343.6 1184.8L344.4 1183.9L345.2 1182.9L346 1182L346.8 1181L347.6 1180.1L348.4 1179.1L349.2 1178.1L350 1177.2L350.8 1176.2L351.6 1175.3L352.4 1174.3L353.2 1173.4L354 1172.4L354.8 1171.5L355.6 1170.5L356.4 1169.6L357.2 1168.6L358 1167.6L358.9 1166.7L359.7 1165.7L360.5 1164.8L361.3 1163.8L362.1 1162.9L362.9 1161.9L363.7 1161L364.5 1160L365.3 1159.1L366.2 1158.1L367 1157.1L367.8 1156.2L368.6 1155.2L369.4 1154.3L370.2 1153.3L371 1152.4L371.9 1151.4L372.7 1150.5L373.5 1149.5L374.3 1148.5L375.1 1147.6L375.9 1146.6L376.8 1145.7L377.6 1144.7L378.4 1143.8L379.2 1142.8L380 1141.9L380.8 1140.9L381.7 1140L382.5 1139L383.3 1138L384.1 1137.1L384.9 1136.1L385.7 1135.2L386.6 1134.2L387.4 1133.3L388.2 1132.3L389 1131.4L389.8 1130.4L390.7 1129.4L391.5 1128.5L392.3 1127.5L393.1 1126.6L393.9 1125.6L394.7 1124.7L395.6 1123.7L396.4 1122.8L397.2 1121.8L398 1120.9L398.8 1119.9L399.6 1118.9L400.5 1118L401.3 1117L402.1 1116.1L402.9 1115.1L403.7 1114.2L404.5 1113.2L405.3 1112.3L406.1 1111.3L407 1110.3L407.8 1109.4L408.6 1108.4L409.4 1107.5L410.2 1106.5L411 1105.6L411.8 1104.6L412.6 1103.7L413.4 1102.7L414.2 1101.8L415 1100.8L415.9 1099.8L416.7 1098.9L417.5 1097.9L418.3 1097L419.1 1096L419.9 1095.1L420.7 1094.1L421.5 1093.2L422.3 1092.2L423.1 1091.3L423.9 1090.3L424.7 1089.3L425.5 1088.4L426.3 1087.4L427.1 1086.5L427.9 1085.5L428.7 1084.6L429.6 1083.6L430.4 1082.7L431.2 1081.7L432 1080.7L432.8 1079.8L433.6 1078.8L434.4 1077.9L435.2 1076.9L436 1076L436.8 1075L437.6 1074.1L438.4 1073.1L439.2 1072.2L440 1071.2L440.8 1070.2L441.6 1069.3L442.4 1068.3L443.2 1067.4L444.1 1066.4L444.9 1065.5L445.7 1064.5L446.5 1063.6L447.3 1062.6L448.1 1061.6L448.9 1060.7L449.7 1059.7L450.5 1058.8L451.3 1057.8L452.1 1056.9L453 1055.9L453.8 1055L454.6 1054L455.4 1053.1L456.2 1052.1L457 1051.1L457.8 1050.2L458.7 1049.2L459.5 1048.3L460.3 1047.3L461.1 1046.4L461.9 1045.4L462.7 1044.5L463.6 1043.5L464.4 1042.6L465.2 1041.6L466 1040.6L466.8 1039.7L467.7 1038.7L468.5 1037.8L469.3 1036.8L470.1 1035.9L470.9 1034.9L471.8 1034L472.6 1033L473.4 1032L474.3 1031.1L475.1 1030.1L475.9 1029.2L476.7 1028.2L477.6 1027.3L478.4 1026.3L479.2 1025.4L480.1 1024.4L480.9 1023.5L481.7 1022.5L482.6 1021.5L483.4 1020.6L484.3 1019.6L485.1 1018.7L485.9 1017.7L486.8 1016.8L487.6 1015.8L488.5 1014.9L489.3 1013.9L490.2 1012.9L491 1012L491.8 1011L492.7 1010.1L493.5 1009.1L494.4 1008.2L495.2 1007.2L496.1 1006.3L496.9 1005.3L497.8 1004.4L498.6 1003.4L499.5 1002.4L500.3 1001.5L501.2 1000.5L502 999.6L502.9 998.6L503.7 997.7L504.6 996.7L505.4 995.8L506.3 994.8L507.1 993.9L508 992.9L508.9 991.9L509.7 991L510.6 990L511.5 989.1L512.3 988.1L513.2 987.2L514.1 986.2L514.9 985.3L515.8 984.3L516.7 983.3L517.6 982.4L518.4 981.4L519.3 980.5L520.2 979.5L521.1 978.6L522 977.6L522.9 976.7L523.7 975.7L524.6 974.8L525.5 973.8L526.4 972.8L527.3 971.9L528.2 970.9L529.1 970L530 969L530.9 968.1L531.8 967.1L532.8 966.2L533.7 965.2L534.6 964.2L535.5 963.3L536.5 962.3L537.4 961.4L538.3 960.4L539.3 959.5L540.2 958.5L541.2 957.6L542.1 956.6L543.1 955.7L544 954.7L545 953.7L545.9 952.8L546.9 951.8L547.8 950.9L548.8 949.9L549.8 949L550.7 948L551.7 947.1L552.7 946.1L553.6 945.2L554.6 944.2L555.6 943.2L556.6 942.3L557.5 941.3L558.5 940.4L559.5 939.4L560.5 938.5L561.4 937.5L562.4 936.6L563.4 935.6L564.3 934.6L565.3 933.7L566.3 932.7L567.2 931.8L568.2 930.8L569.2 929.9L570.1 928.9L571.1 928L572.1 927L573 926.1L574 925.1L574.9 924.1L575.9 923.2L576.8 922.2L577.8 921.3L578.7 920.3L579.7 919.4L580.6 918.4L581.5 917.5L582.5 916.5L583.4 915.5L584.3 914.6L585.2 913.6L586.2 912.7L587.1 911.7L588 910.8L588.9 909.8L589.9 908.9L590.8 907.9L591.7 907L592.6 906L593.5 905L594.4 904.1L595.3 903.1L596.2 902.2L597.2 901.2L598.1 900.3L599 899.3L599.9 898.4L600.8 897.4L601.7 896.4L602.6 895.5L603.5 894.5L604.4 893.6L605.3 892.6L606.2 891.7L607.1 890.7L608 889.8L608.9 888.8L609.8 887.9L610.8 886.9L611.7 885.9L612.6 885L613.5 884L614.4 883.1L615.3 882.1L616.2 881.2L617.1 880.2L618 879.3L618.9 878.3L619.8 877.4L620.7 876.4L621.7 875.4L622.6 874.5L623.5 873.5L624.4 872.6L625.3 871.6L626.2 870.7L627.1 869.7L628.1 868.8L629 867.8L629.9 866.8L630.8 865.9L631.7 864.9L632.7 864L633.6 863L634.5 862.1L635.4 861.1L636.3 860.2L637.2 859.2L638.1 858.3L639 857.3L639.9 856.3L640.8 855.4L641.7 854.4L642.6 853.5L643.5 852.5L644.4 851.6L645.4 850.6L646.3 849.7L647.2 848.7L648.1 847.7L649.1 846.8L650 845.8L650.9 844.9L651.9 843.9L652.8 843L653.8 842L654.8 841.1L655.7 840.1L656.7 839.2L657.7 838.2L658.7 837.2L659.7 836.3L660.7 835.3L661.7 834.4L662.8 833.4L663.8 832.5L664.9 831.5L666 830.6L667 829.6L668.1 828.7L669.2 827.7L670.3 826.7L671.4 825.8L672.5 824.8L673.7 823.9L674.8 822.9L675.9 822L677 821L678.2 820.1L679.3 819.1L680.4 818.1L681.6 817.2L682.7 816.2L683.8 815.3L685 814.3L686.1 813.4L687.2 812.4L688.3 811.5L689.4 810.5L690.5 809.6L691.6 808.6L692.7 807.6L693.8 806.7L694.9 805.7L696 804.8L697.1 803.8L698.3 802.9L699.4 801.9L700.5 801L701.7 800L702.9 799L704.2 798.1L705.6 797.1L707.1 796.2L708.8 795.2L710.7 794.3L712.9 793.3L715.4 792.4L718.4 791.4L721.9 790.5L726.1 789.5"/>
<path d="M149.8 1340.2L155 1340.8L160.1 1340.9L165.3 1340.5L170.5 1340.1L175.6 1339.7L180.8 1339.2L185.9 1339.8L191.1 1339.8L196.3 1339.5L201.4 1339.3L206.6 1340.3L211.8 1341.8L216.9 1343.1L222.1 1344.1L227.3 1344.8L232.4 1344.2L237.6 1343.4L242.8 1342.5L247.9 1346.1L253.1 1346.1L256 1346L263 1352L268.6 1349.6L273.7 1334L278.9 1319.1L284.1 1305.5L289.2 1293.4L294.4 1282.8L299.6 1273.6L304.6 1266L305.3 1265L306 1264.1L306.7 1263.1L307.4 1262.2L308.1 1261.2L308.8 1260.3L309.5 1259.3L310.2 1258.4L310.9 1257.4L311.6 1256.5L312.4 1255.5L313.1 1254.5L313.8 1253.6L314.5 1252.6L315.2 1251.7L315.9 1250.7L316.6 1249.8L317.3 1248.8L318 1247.9L318.7 1246.9L319.5 1245.9L320.2 1245L320.9 1244L321.6 1243.1L322.3 1242.1L323 1241.2L323.7 1240.2L324.5 1239.3L325.2 1238.3L325.9 1237.4L326.6 1236.4L327.3 1235.4L328.1 1234.5L328.8 1233.5L329.5 1232.6L330.2 1231.6L331 1230.7L331.7 1229.7L332.4 1228.8L333.1 1227.8L333.9 1226.8L334.6 1225.9L335.3 1224.9L336 1224L336.8 1223L337.5 1222.1L338.2 1221.1L339 1220.2L339.7 1219.2L340.4 1218.3L341.2 1217.3L341.9 1216.3L342.6 1215.4L343.4 1214.4L344.1 1213.5L344.9 1212.5L345.6 1211.6L346.3 1210.6L347.1 1209.7L347.8 1208.7L348.6 1207.8L349.3 1206.8L350.1 1205.8L350.8 1204.9L351.6 1203.9L352.3 1203L353.1 1202L353.8 1201.1L354.6 1200.1L355.3 1199.2L356.1 1198.2L356.8 1197.2L357.6 1196.3L358.3 1195.3L359.1 1194.4L359.8 1193.4L360.6 1192.5L361.3 1191.5L362.1 1190.6L362.9 1189.6L363.6 1188.7L364.4 1187.7L365.1 1186.7L365.9 1185.8L366.7 1184.8L367.4 1183.9L368.2 1182.9L369 1182L369.7 1181L370.5 1180.1L371.3 1179.1L372 1178.1L372.8 1177.2L373.6 1176.2L374.3 1175.3L375.1 1174.3L375.9 1173.4L376.6 1172.4L377.4 1171.5L378.2 1170.5L378.9 1169.6L379.7 1168.6L380.5 1167.6L381.3 1166.7L382 1165.7L382.8 1164.8L383.6 1163.8L384.4 1162.9L385.1 1161.9L385.9 1161L386.7 1160L387.5 1159.1L388.2 1158.1L389 1157.1L389.8 1156.2L390.6 1155.2L391.4 1154.3L392.1 1153.3L392.9 1152.4L393.7 1151.4L394.5 1150.5L395.2 1149.5L396 1148.5L396.8 1147.6L397.6 1146.6L398.4 1145.7L399.2 1144.7L399.9 1143.8L400.7 1142.8L401.5 1141.9L402.3 1140.9L403.1 1140L403.8 1139L404.6 1138L405.4 1137.1L406.2 1136.1L407 1135.2L407.8 1134.2L408.5 1133.3L409.3 1132.3L410.1 1131.4L410.9 1130.4L411.7 1129.4L412.5 1128.5L413.2 1127.5L414 1126.6L414.8 1125.6L415.6 1124.7L416.4 1123.7L417.2 1122.8L417.9 1121.8L418.7 1120.9L419.5 1119.9L420.3 1118.9L421.1 1118L421.9 1117L422.7 1116.1L423.4 1115.1L424.2 1114.2L425 1113.2L425.8 1112.3L426.6 1111.3L427.4 1110.3L428.1 1109.4L428.9 1108.4L429.7 1107.5L430.5 1106.5L431.3 1105.6L432.1 1104.6L432.8 1103.7L433.6 1102.7L434.4 1101.8L435.2 1100.8L436 1099.8L436.7 1098.9L437.5 1097.9L438.3 1097L439.1 1096L439.9 1095.1L440.7 1094.1L441.4 1093.2L442.2 1092.2L443 1091.3L443.8 1090.3L444.6 1089.3L445.4 1088.4L446.1 1087.4L446.9 1086.5L447.7 1085.5L448.5 1084.6L449.3 1083.6L450.1 1082.7L450.8 1081.7L451.6 1080.7L452.4 1079.8L453.2 1078.8L454 1077.9L454.8 1076.9L455.5 1076L456.3 1075L457.1 1074.1L457.9 1073.1L458.7 1072.2L459.5 1071.2L460.3 1070.2L461 1069.3L461.8 1068.3L462.6 1067.4L463.4 1066.4L464.2 1065.5L465 1064.5L465.8 1063.6L466.6 1062.6L467.4 1061.6L468.1 1060.7L468.9 1059.7L469.7 1058.8L470.5 1057.8L471.3 1056.9L472.1 1055.9L472.9 1055L473.7 1054L474.5 1053.1L475.3 1052.1L476.1 1051.1L476.9 1050.2L477.7 1049.2L478.4 1048.3L479.2 1047.3L480 1046.4L480.8 1045.4L481.6 1044.5L482.4 1043.5L483.2 1042.6L484 1041.6L484.8 1040.6L485.6 1039.7L486.4 1038.7L487.2 1037.8L488 1036.8L488.8 1035.9L489.6 1034.9L490.5 1034L491.3 1033L492.1 1032L492.9 1031.1L493.7 1030.1L494.5 1029.2L495.3 1028.2L496.1 1027.3L496.9 1026.3L497.7 1025.4L498.5 1024.4L499.3 1023.5L500.2 1022.5L501 1021.5L501.8 1020.6L502.6 1019.6L503.4 1018.7L504.2 1017.7L505.1 1016.8L505.9 1015.8L506.7 1014.9L507.5 1013.9L508.3 1012.9L509.1 1012L509.9 1011L510.8 1010.1L511.6 1009.1L512.4 1008.2L513.2 1007.2L514 1006.3L514.8 1005.3L515.6 1004.4L516.4 1003.4L517.3 1002.4L518.1 1001.5L518.9 1000.5L519.7 999.6L520.5 998.6L521.4 997.7L522.2 996.7L523 995.8L523.8 994.8L524.6 993.9L525.5 992.9L526.3 991.9L527.1 991L528 990L528.8 989.1L529.6 988.1L530.5 987.2L531.3 986.2L532.2 985.3L533 984.3L533.8 983.3L534.7 982.4L535.5 981.4L536.4 980.5L537.3 979.5L538.1 978.6L539 977.6L539.9 976.7L540.7 975.7L541.6 974.8L542.5 973.8L543.4 972.8L544.3 971.9L545.1 970.9L546 970L546.9 969L547.8 968.1L548.7 967.1L549.7 966.2L550.6 965.2L551.5 964.2L552.4 963.3L553.4 962.3L554.3 961.4L555.3 960.4L556.2 959.5L557.2 958.5L558.2 957.6L559.1 956.6L560.1 955.7L561.1 954.7L562.1 953.7L563 952.8L564 951.8L565 950.9L566 949.9L567 949L568 948L569 947.1L570 946.1L571 945.2L572 944.2L573 943.2L574 942.3L575.1 941.3L576.1 940.4L577.1 939.4L578.1 938.5L579.1 937.5L580.1 936.6L581.1 935.6L582.1 934.6L583.1 933.7L584.1 932.7L585.1 931.8L586.1 930.8L587.1 929.9L588.1 928.9L589.1 928L590.1 927L591.1 926.1L592.1 925.1L593.1 924.1L594.1 923.2L595 922.2L596 921.3L597 920.3L597.9 919.4L598.9 918.4L599.8 917.5L600.8 916.5L601.7 915.5L602.7 914.6L603.6 913.6L604.6 912.7L605.5 911.7L606.5 910.8L607.4 909.8L608.3 908.9L609.3 907.9L610.2 907L611.1 906L612.1 905L613 904.1L613.9 903.1L614.9 902.2L615.8 901.2L616.7 900.3L617.6 899.3L618.6 898.4L619.5 897.4L620.4 896.4L621.3 895.5L622.2 894.5L623.2 893.6L624.1 892.6L625 891.7L625.9 890.7L626.8 889.8L627.7 888.8L628.7 887.9L629.6 886.9L630.5 885.9L631.4 885L632.3 884L633.2 883.1L634.2 882.1L635.1 881.2L636 880.2L636.9 879.3L637.8 878.3L638.7 877.4L639.6 876.4L640.6 875.4L641.5 874.5L642.4 873.5L643.3 872.6L644.2 871.6L645.1 870.7L646.1 869.7L647 868.8L647.9 867.8L648.8 866.8L649.7 865.9L650.6 864.9L651.5 864L652.4 863L653.3 862.1L654.2 861.1L655.1 860.2L656 859.2L656.9 858.3L657.7 857.3L658.6 856.3L659.5 855.4L660.4 854.4L661.3 853.5L662.2 852.5L663.1 851.6L663.9 850.6L664.8 849.7L665.7 848.7L666.6 847.7L667.6 846.8L668.5 845.8L669.4 844.9L670.3 843.9L671.2 843L672.2 842L673.1 841.1L674.1 840.1L675 839.2L676 838.2L677 837.2L678 836.3L679 835.3L680 834.4L681.1 833.4L682.1 832.5L683.2 831.5L684.2 830.6L685.3 829.6L686.4 828.7L687.5 827.7L688.6 826.7L689.7 825.8L690.8 824.8L691.9 823.9L693.1 822.9L694.2 822L695.3 821L696.4 820.1L697.6 819.1L698.7 818.1L699.9 817.2L701 816.2L702.1 815.3L703.2 814.3L704.4 813.4L705.5 812.4L706.6 811.5L707.7 810.5L708.8 809.6L709.9 808.6L711 807.6L712.1 806.7L713.2 805.7L714.3 804.8L715.4 803.8L716.5 802.9L717.7 801.9L718.8 801L720 800L721.2 799L722.4 798.1L723.8 797.1L725.2 796.2L726.8 795.2L728.6 794.3L730.6 793.3L732.9 792.4L735.6 791.4L738.7 790.5L742.4 789.5"/>
<path d="M149.8 1304.5L155 1304.9L160.1 1305.3L165.3 1305.6L170.5 1306L175.6 1306.4L180.8 1306.8L185.9 1307.1L191.1 1307.5L196.3 1307.9L201.4 1308.3L206.6 1309.5L211.8 1311.1L216.9 1312.6L222.1 1314.2L227.3 1315.8L232.4 1317.8L237.6 1320L242.8 1322.1L247.9 1324.3L253.1 1326.5L258.2 1329.1L263.4 1331.7L268.6 1334L273.7 1337.9L278.9 1345.4L284.1 1352.8L284.4 1354.9L289.2 1347.6L294.4 1333.8L299.6 1320.6L304.7 1308.4L309.9 1297.2L315 1287.1L320.2 1278.1L325.4 1270.1L328.3 1266L329 1265L329.7 1264.1L330.5 1263.1L331.2 1262.2L331.9 1261.2L332.6 1260.3L333.3 1259.3L334 1258.4L334.8 1257.4L335.5 1256.5L336.2 1255.5L336.9 1254.5L337.6 1253.6L338.4 1252.6L339.1 1251.7L339.8 1250.7L340.5 1249.8L341.2 1248.8L341.9 1247.9L342.7 1246.9L343.4 1245.9L344.1 1245L344.8 1244L345.5 1243.1L346.3 1242.1L347 1241.2L347.7 1240.2L348.4 1239.3L349.1 1238.3L349.9 1237.4L350.6 1236.4L351.3 1235.4L352 1234.5L352.7 1233.5L353.5 1232.6L354.2 1231.6L354.9 1230.7L355.6 1229.7L356.3 1228.8L357.1 1227.8L357.8 1226.8L358.5 1225.9L359.2 1224.9L360 1224L360.7 1223L361.4 1222.1L362.1 1221.1L362.8 1220.2L363.6 1219.2L364.3 1218.3L365 1217.3L365.7 1216.3L366.5 1215.4L367.2 1214.4L367.9 1213.5L368.6 1212.5L369.4 1211.6L370.1 1210.6L370.8 1209.7L371.5 1208.7L372.2 1207.8L373 1206.8L373.7 1205.8L374.4 1204.9L375.1 1203.9L375.9 1203L376.6 1202L377.3 1201.1L378 1200.1L378.8 1199.2L379.5 1198.2L380.2 1197.2L380.9 1196.3L381.7 1195.3L382.4 1194.4L383.1 1193.4L383.8 1192.5L384.6 1191.5L385.3 1190.6L386 1189.6L386.7 1188.7L387.4 1187.7L388.2 1186.7L388.9 1185.8L389.6 1184.8L390.3 1183.9L391.1 1182.9L391.8 1182L392.5 1181L393.2 1180.1L394 1179.1L394.7 1178.1L395.4 1177.2L396.1 1176.2L396.9 1175.3L397.6 1174.3L398.3 1173.4L399 1172.4L399.8 1171.5L400.5 1170.5L401.2 1169.6L401.9 1168.6L402.7 1167.6L403.4 1166.7L404.1 1165.7L404.8 1164.8L405.6 1163.8L406.3 1162.9L407 1161.9L407.8 1161L408.5 1160L409.2 1159.1L409.9 1158.1L410.7 1157.1L411.4 1156.2L412.1 1155.2L412.8 1154.3L413.6 1153.3L414.3 1152.4L415 1151.4L415.7 1150.5L416.5 1149.5L417.2 1148.5L417.9 1147.6L418.7 1146.6L419.4 1145.7L420.1 1144.7L420.9 1143.8L421.6 1142.8L422.3 1141.9L423 1140.9L423.8 1140L424.5 1139L425.2 1138L426 1137.1L426.7 1136.1L427.4 1135.2L428.2 1134.2L428.9 1133.3L429.6 1132.3L430.3 1131.4L431.1 1130.4L431.8 1129.4L432.5 1128.5L433.3 1127.5L434 1126.6L434.7 1125.6L435.5 1124.7L436.2 1123.7L436.9 1122.8L437.7 1121.8L438.4 1120.9L439.1 1119.9L439.9 1118.9L440.6 1118L441.4 1117L442.1 1116.1L442.8 1115.1L443.6 1114.2L444.3 1113.2L445 1112.3L445.8 1111.3L446.5 1110.3L447.2 1109.4L448 1108.4L448.7 1107.5L449.5 1106.5L450.2 1105.6L450.9 1104.6L451.7 1103.7L452.4 1102.7L453.1 1101.8L453.9 1100.8L454.6 1099.8L455.4 1098.9L456.1 1097.9L456.8 1097L457.6 1096L458.3 1095.1L459 1094.1L459.8 1093.2L460.5 1092.2L461.2 1091.3L462 1090.3L462.7 1089.3L463.4 1088.4L464.2 1087.4L464.9 1086.5L465.6 1085.5L466.4 1084.6L467.1 1083.6L467.8 1082.7L468.6 1081.7L469.3 1080.7L470 1079.8L470.8 1078.8L471.5 1077.9L472.2 1076.9L473 1076L473.7 1075L474.4 1074.1L475.2 1073.1L475.9 1072.2L476.6 1071.2L477.4 1070.2L478.1 1069.3L478.8 1068.3L479.6 1067.4L480.3 1066.4L481 1065.5L481.8 1064.5L482.5 1063.6L483.3 1062.6L484 1061.6L484.7 1060.7L485.5 1059.7L486.2 1058.8L487 1057.8L487.7 1056.9L488.5 1055.9L489.2 1055L489.9 1054L490.7 1053.1L491.4 1052.1L492.2 1051.1L492.9 1050.2L493.7 1049.2L494.4 1048.3L495.2 1047.3L495.9 1046.4L496.7 1045.4L497.5 1044.5L498.2 1043.5L499 1042.6L499.7 1041.6L500.5 1040.6L501.2 1039.7L502 1038.7L502.8 1037.8L503.5 1036.8L504.3 1035.9L505.1 1034.9L505.8 1034L506.6 1033L507.4 1032L508.2 1031.1L508.9 1030.1L509.7 1029.2L510.5 1028.2L511.3 1027.3L512 1026.3L512.8 1025.4L513.6 1024.4L514.4 1023.5L515.2 1022.5L516 1021.5L516.8 1020.6L517.5 1019.6L518.3 1018.7L519.1 1017.7L519.9 1016.8L520.7 1015.8L521.5 1014.9L522.3 1013.9L523.1 1012.9L523.9 1012L524.7 1011L525.5 1010.1L526.3 1009.1L527.1 1008.2L527.9 1007.2L528.7 1006.3L529.5 1005.3L530.3 1004.4L531.1 1003.4L532 1002.4L532.8 1001.5L533.6 1000.5L534.4 999.6L535.2 998.6L536 997.7L536.9 996.7L537.7 995.8L538.5 994.8L539.3 993.9L540.2 992.9L541 991.9L541.8 991L542.7 990L543.5 989.1L544.3 988.1L545.2 987.2L546 986.2L546.9 985.3L547.7 984.3L548.6 983.3L549.4 982.4L550.3 981.4L551.2 980.5L552 979.5L552.9 978.6L553.8 977.6L554.7 976.7L555.5 975.7L556.4 974.8L557.3 973.8L558.2 972.8L559.1 971.9L560 970.9L560.9 970L561.8 969L562.7 968.1L563.7 967.1L564.6 966.2L565.5 965.2L566.5 964.2L567.4 963.3L568.4 962.3L569.3 961.4L570.3 960.4L571.2 959.5L572.2 958.5L573.2 957.6L574.2 956.6L575.2 955.7L576.2 954.7L577.2 953.7L578.2 952.8L579.2 951.8L580.2 950.9L581.2 949.9L582.3 949L583.3 948L584.3 947.1L585.3 946.1L586.4 945.2L587.4 944.2L588.4 943.2L589.5 942.3L590.5 941.3L591.5 940.4L592.6 939.4L593.6 938.5L594.6 937.5L595.7 936.6L596.7 935.6L597.8 934.6L598.8 933.7L599.8 932.7L600.9 931.8L601.9 930.8L602.9 929.9L604 928.9L605 928L606 927L607 926.1L608 925.1L609.1 924.1L610.1 923.2L611.1 922.2L612.1 921.3L613.1 920.3L614.1 919.4L615.1 918.4L616.1 917.5L617 916.5L618 915.5L619 914.6L620 913.6L621 912.7L622 911.7L623 910.8L623.9 909.8L624.9 908.9L625.9 907.9L626.9 907L627.9 906L628.8 905L629.8 904.1L630.8 903.1L631.8 902.2L632.8 901.2L633.7 900.3L634.7 899.3L635.7 898.4L636.7 897.4L637.6 896.4L638.6 895.5L639.6 894.5L640.5 893.6L641.5 892.6L642.5 891.7L643.5 890.7L644.4 889.8L645.4 888.8L646.4 887.9L647.3 886.9L648.3 885.9L649.2 885L650.2 884L651.2 883.1L652.1 882.1L653.1 881.2L654 880.2L655 879.3L655.9 878.3L656.9 877.4L657.8 876.4L658.8 875.4L659.7 874.5L660.7 873.5L661.6 872.6L662.5 871.6L663.5 870.7L664.4 869.7L665.4 868.8L666.3 867.8L667.2 866.8L668.1 865.9L669.1 864.9L670 864L670.9 863L671.8 862.1L672.7 861.1L673.6 860.2L674.5 859.2L675.3 858.3L676.2 857.3L677.1 856.3L678 855.4L678.9 854.4L679.7 853.5L680.6 852.5L681.5 851.6L682.4 850.6L683.3 849.7L684.2 848.7L685.1 847.7L686 846.8L686.9 845.8L687.8 844.9L688.7 843.9L689.6 843L690.5 842L691.4 841.1L692.4 840.1L693.3 839.2L694.3 838.2L695.2 837.2L696.2 836.3L697.2 835.3L698.2 834.4L699.2 833.4L700.2 832.5L701.2 831.5L702.2 830.6L703.3 829.6L704.3 828.7L705.4 827.7L706.4 826.7L707.5 825.8L708.5 824.8L709.6 823.9L710.7 822.9L711.8 822L712.8 821L713.9 820.1L715 819.1L716.1 818.1L717.1 817.2L718.2 816.2L719.3 815.3L720.4 814.3L721.4 813.4L722.5 812.4L723.6 811.5L724.6 810.5L725.7 809.6L726.7 808.6L727.8 807.6L728.9 806.7L729.9 805.7L731 804.8L732 803.8L733.1 802.9L734.2 801.9L735.3 801L736.4 800L737.5 799L738.7 798.1L740 797.1L741.4 796.2L742.9 795.2L744.5 794.3L746.4 793.3L748.6 792.4L751.1 791.4L754 790.5L757.5 789.5"/>
<path d="M149.8 1369.7L155 1367.6L160.1 1365.5L165.3 1365.8L170.5 1366.1L175.6 1364.1L180.8 1362.1L185.9 1358.7L191.1 1355.3L196.3 1359.3L201.4 1363.3L206.6 1360L211.8 1356.7L216.9 1361.6L222.1 1366.6L227.3 1363.8L232.4 1361.1L237.6 1370.2L242.8 1379.4L247.9 1376.9L253.1 1374.3L258.2 1365.9L263.4 1357.6L268.6 1362.7L273.7 1367.9L278.9 1363.5L284.1 1359.2L289.2 1359.3L294.4 1359.5L299.6 1356.6L304.7 1353.6L309.9 1355.5L315 1357.4L320.2 1356.5L325.4 1350.2L330.5 1329.9L335.7 1309.2L340.9 1291.9L346 1278.3L351.2 1268.2L352.7 1266L353.4 1265L354.1 1264.1L354.8 1263.1L355.5 1262.2L356.1 1261.2L356.8 1260.3L357.5 1259.3L358.2 1258.4L358.9 1257.4L359.6 1256.5L360.3 1255.5L361 1254.5L361.6 1253.6L362.3 1252.6L363 1251.7L363.7 1250.7L364.4 1249.8L365.1 1248.8L365.8 1247.9L366.5 1246.9L367.1 1245.9L367.8 1245L368.5 1244L369.2 1243.1L369.9 1242.1L370.6 1241.2L371.3 1240.2L372 1239.3L372.6 1238.3L373.3 1237.4L374 1236.4L374.7 1235.4L375.4 1234.5L376.1 1233.5L376.8 1232.6L377.4 1231.6L378.1 1230.7L378.8 1229.7L379.5 1228.8L380.2 1227.8L380.9 1226.8L381.6 1225.9L382.3 1224.9L382.9 1224L383.6 1223L384.3 1222.1L385 1221.1L385.7 1220.2L386.4 1219.2L387.1 1218.3L387.7 1217.3L388.4 1216.3L389.1 1215.4L389.8 1214.4L390.5 1213.5L391.2 1212.5L391.9 1211.6L392.5 1210.6L393.2 1209.7L393.9 1208.7L394.6 1207.8L395.3 1206.8L396 1205.8L396.6 1204.9L397.3 1203.9L398 1203L398.7 1202L399.4 1201.1L400.1 1200.1L400.7 1199.2L401.4 1198.2L402.1 1197.2L402.8 1196.3L403.5 1195.3L404.2 1194.4L404.8 1193.4L405.5 1192.5L406.2 1191.5L406.9 1190.6L407.6 1189.6L408.2 1188.7L408.9 1187.7L409.6 1186.7L410.3 1185.8L411 1184.8L411.6 1183.9L412.3 1182.9L413 1182L413.7 1181L414.3 1180.1L415 1179.1L415.7 1178.1L416.4 1177.2L417.1 1176.2L417.7 1175.3L418.4 1174.3L419.1 1173.4L419.8 1172.4L420.5 1171.5L421.1 1170.5L421.8 1169.6L422.5 1168.6L423.2 1167.6L423.8 1166.7L424.5 1165.7L425.2 1164.8L425.9 1163.8L426.6 1162.9L427.2 1161.9L427.9 1161L428.6 1160L429.3 1159.1L430 1158.1L430.6 1157.1L431.3 1156.2L432 1155.2L432.7 1154.3L433.4 1153.3L434 1152.4L434.7 1151.4L435.4 1150.5L436.1 1149.5L436.8 1148.5L437.4 1147.6L438.1 1146.6L438.8 1145.7L439.5 1144.7L440.2 1143.8L440.8 1142.8L441.5 1141.9L442.2 1140.9L442.9 1140L443.6 1139L444.3 1138L444.9 1137.1L445.6 1136.1L446.3 1135.2L447 1134.2L447.7 1133.3L448.4 1132.3L449.1 1131.4L449.7 1130.4L450.4 1129.4L451.1 1128.5L451.8 1127.5L452.5 1126.6L453.2 1125.6L453.9 1124.7L454.6 1123.7L455.2 1122.8L455.9 1121.8L456.6 1120.9L457.3 1119.9L458 1118.9L458.7 1118L459.4 1117L460.1 1116.1L460.8 1115.1L461.5 1114.2L462.2 1113.2L462.9 1112.3L463.6 1111.3L464.3 1110.3L465 1109.4L465.6 1108.4L466.3 1107.5L467 1106.5L467.7 1105.6L468.4 1104.6L469.1 1103.7L469.8 1102.7L470.5 1101.8L471.2 1100.8L471.9 1099.8L472.6 1098.9L473.3 1097.9L474 1097L474.7 1096L475.4 1095.1L476.1 1094.1L476.8 1093.2L477.5 1092.2L478.2 1091.3L478.9 1090.3L479.5 1089.3L480.2 1088.4L480.9 1087.4L481.6 1086.5L482.3 1085.5L483 1084.6L483.7 1083.6L484.4 1082.7L485.1 1081.7L485.8 1080.7L486.5 1079.8L487.2 1078.8L487.9 1077.9L488.6 1076.9L489.3 1076L490 1075L490.6 1074.1L491.3 1073.1L492 1072.2L492.7 1071.2L493.4 1070.2L494.1 1069.3L494.8 1068.3L495.5 1067.4L496.2 1066.4L496.9 1065.5L497.6 1064.5L498.3 1063.6L499 1062.6L499.7 1061.6L500.4 1060.7L501.1 1059.7L501.9 1058.8L502.6 1057.8L503.3 1056.9L504 1055.9L504.7 1055L505.4 1054L506.1 1053.1L506.8 1052.1L507.5 1051.1L508.2 1050.2L509 1049.2L509.7 1048.3L510.4 1047.3L511.1 1046.4L511.8 1045.4L512.6 1044.5L513.3 1043.5L514 1042.6L514.7 1041.6L515.5 1040.6L516.2 1039.7L516.9 1038.7L517.7 1037.8L518.4 1036.8L519.1 1035.9L519.9 1034.9L520.6 1034L521.3 1033L522.1 1032L522.8 1031.1L523.6 1030.1L524.3 1029.2L525.1 1028.2L525.8 1027.3L526.6 1026.3L527.3 1025.4L528.1 1024.4L528.8 1023.5L529.6 1022.5L530.4 1021.5L531.1 1020.6L531.9 1019.6L532.7 1018.7L533.4 1017.7L534.2 1016.8L535 1015.8L535.7 1014.9L536.5 1013.9L537.3 1012.9L538 1012L538.8 1011L539.6 1010.1L540.4 1009.1L541.1 1008.2L541.9 1007.2L542.7 1006.3L543.5 1005.3L544.2 1004.4L545 1003.4L545.8 1002.4L546.6 1001.5L547.4 1000.5L548.2 999.6L549 998.6L549.8 997.7L550.6 996.7L551.3 995.8L552.2 994.8L553 993.9L553.8 992.9L554.6 991.9L555.4 991L556.2 990L557 989.1L557.9 988.1L558.7 987.2L559.5 986.2L560.4 985.3L561.2 984.3L562 983.3L562.9 982.4L563.8 981.4L564.6 980.5L565.5 979.5L566.4 978.6L567.2 977.6L568.1 976.7L569 975.7L569.9 974.8L570.8 973.8L571.7 972.8L572.6 971.9L573.5 970.9L574.5 970L575.4 969L576.3 968.1L577.3 967.1L578.2 966.2L579.2 965.2L580.2 964.2L581.2 963.3L582.2 962.3L583.2 961.4L584.3 960.4L585.3 959.5L586.4 958.5L587.4 957.6L588.5 956.6L589.6 955.7L590.7 954.7L591.8 953.7L592.9 952.8L594 951.8L595.1 950.9L596.3 949.9L597.4 949L598.5 948L599.7 947.1L600.8 946.1L602 945.2L603.1 944.2L604.3 943.2L605.4 942.3L606.6 941.3L607.7 940.4L608.9 939.4L610 938.5L611.2 937.5L612.3 936.6L613.5 935.6L614.6 934.6L615.8 933.7L616.9 932.7L618.1 931.8L619.2 930.8L620.4 929.9L621.5 928.9L622.6 928L623.7 927L624.8 926.1L625.9 925.1L627 924.1L628.1 923.2L629.2 922.2L630.3 921.3L631.4 920.3L632.4 919.4L633.5 918.4L634.5 917.5L635.5 916.5L636.6 915.5L637.6 914.6L638.6 913.6L639.6 912.7L640.7 911.7L641.7 910.8L642.7 909.8L643.7 908.9L644.7 907.9L645.8 907L646.8 906L647.8 905L648.8 904.1L649.8 903.1L650.8 902.2L651.8 901.2L652.8 900.3L653.8 899.3L654.8 898.4L655.8 897.4L656.8 896.4L657.8 895.5L658.8 894.5L659.8 893.6L660.7 892.6L661.7 891.7L662.7 890.7L663.7 889.8L664.6 888.8L665.6 887.9L666.6 886.9L667.5 885.9L668.5 885L669.5 884L670.4 883.1L671.4 882.1L672.3 881.2L673.3 880.2L674.2 879.3L675.2 878.3L676.1 877.4L677 876.4L678 875.4L678.9 874.5L679.8 873.5L680.7 872.6L681.6 871.6L682.6 870.7L683.5 869.7L684.4 868.8L685.3 867.8L686.2 866.8L687.1 865.9L687.9 864.9L688.8 864L689.7 863L690.5 862.1L691.4 861.1L692.2 860.2L693 859.2L693.9 858.3L694.7 857.3L695.5 856.3L696.3 855.4L697.1 854.4L697.9 853.5L698.8 852.5L699.6 851.6L700.4 850.6L701.2 849.7L702 848.7L702.8 847.7L703.7 846.8L704.5 845.8L705.3 844.9L706.2 843.9L707 843L707.9 842L708.7 841.1L709.6 840.1L710.5 839.2L711.4 838.2L712.3 837.2L713.2 836.3L714.1 835.3L715.1 834.4L716 833.4L717 832.5L718 831.5L719 830.6L720 829.6L721 828.7L722 827.7L723 826.7L724 825.8L725.1 824.8L726.1 823.9L727.1 822.9L728.2 822L729.2 821L730.3 820.1L731.3 819.1L732.4 818.1L733.4 817.2L734.4 816.2L735.5 815.3L736.5 814.3L737.6 813.4L738.6 812.4L739.6 811.5L740.7 810.5L741.7 809.6L742.7 808.6L743.7 807.6L744.7 806.7L745.7 805.7L746.8 804.8L747.8 803.8L748.8 802.9L749.9 801.9L750.9 801L752 800L753.1 799L754.3 798.1L755.5 797.1L756.8 796.2L758.3 795.2L759.9 794.3L761.7 793.3L763.9 792.4L766.3 791.4L769.2 790.5L772.6 789.5"/>
<path d="M149.8 1365.3L155 1362.1L160.1 1358.9L165.3 1360.7L170.5 1362.6L175.6 1367.2L180.8 1371.7L185.9 1372L191.1 1372.3L196.3 1362.1L201.4 1351.9L206.6 1356.6L211.8 1361.3L216.9 1357.3L222.1 1353.3L227.3 1352.2L232.4 1351.1L237.6 1362L242.8 1373L247.9 1368.5L253.1 1364.1L258.2 1363.8L263.4 1363.5L268.6 1363.1L273.7 1362.8L278.9 1362.8L284.1 1362.9L289.2 1364.2L294.4 1365.4L299.6 1410.3L304.7 1435.7L309.9 1416.6L315 1378.1L320.2 1373.1L325.4 1368.2L330.5 1370.3L335.7 1372.4L340.9 1367.7L346 1353.7L351.2 1333.6L356.4 1314.8L361.5 1298.4L366.7 1284.7L371.9 1273.6L376.4 1266L377.1 1265L377.7 1264.1L378.4 1263.1L379 1262.2L379.7 1261.2L380.3 1260.3L381 1259.3L381.6 1258.4L382.3 1257.4L383 1256.5L383.6 1255.5L384.3 1254.5L384.9 1253.6L385.6 1252.6L386.2 1251.7L386.9 1250.7L387.5 1249.8L388.2 1248.8L388.9 1247.9L389.5 1246.9L390.2 1245.9L390.8 1245L391.5 1244L392.1 1243.1L392.8 1242.1L393.4 1241.2L394.1 1240.2L394.7 1239.3L395.4 1238.3L396.1 1237.4L396.7 1236.4L397.4 1235.4L398 1234.5L398.7 1233.5L399.3 1232.6L400 1231.6L400.6 1230.7L401.3 1229.7L401.9 1228.8L402.6 1227.8L403.2 1226.8L403.9 1225.9L404.5 1224.9L405.2 1224L405.8 1223L406.5 1222.1L407.1 1221.1L407.8 1220.2L408.4 1219.2L409.1 1218.3L409.7 1217.3L410.4 1216.3L411.1 1215.4L411.7 1214.4L412.4 1213.5L413 1212.5L413.7 1211.6L414.3 1210.6L415 1209.7L415.6 1208.7L416.2 1207.8L416.9 1206.8L417.5 1205.8L418.2 1204.9L418.8 1203.9L419.5 1203L420.1 1202L420.8 1201.1L421.4 1200.1L422.1 1199.2L422.7 1198.2L423.4 1197.2L424 1196.3L424.7 1195.3L425.3 1194.4L425.9 1193.4L426.6 1192.5L427.2 1191.5L427.9 1190.6L428.5 1189.6L429.2 1188.7L429.8 1187.7L430.4 1186.7L431.1 1185.8L431.7 1184.8L432.4 1183.9L433 1182.9L433.6 1182L434.3 1181L434.9 1180.1L435.6 1179.1L436.2 1178.1L436.8 1177.2L437.5 1176.2L438.1 1175.3L438.8 1174.3L439.4 1173.4L440 1172.4L440.7 1171.5L441.3 1170.5L442 1169.6L442.6 1168.6L443.2 1167.6L443.9 1166.7L444.5 1165.7L445.2 1164.8L445.8 1163.8L446.4 1162.9L447.1 1161.9L447.7 1161L448.4 1160L449 1159.1L449.6 1158.1L450.3 1157.1L450.9 1156.2L451.6 1155.2L452.2 1154.3L452.8 1153.3L453.5 1152.4L454.1 1151.4L454.8 1150.5L455.4 1149.5L456 1148.5L456.7 1147.6L457.3 1146.6L458 1145.7L458.6 1144.7L459.2 1143.8L459.9 1142.8L460.5 1141.9L461.2 1140.9L461.8 1140L462.5 1139L463.1 1138L463.8 1137.1L464.4 1136.1L465 1135.2L465.7 1134.2L466.3 1133.3L467 1132.3L467.6 1131.4L468.3 1130.4L468.9 1129.4L469.6 1128.5L470.2 1127.5L470.9 1126.6L471.5 1125.6L472.2 1124.7L472.8 1123.7L473.5 1122.8L474.1 1121.8L474.8 1120.9L475.4 1119.9L476.1 1118.9L476.7 1118L477.4 1117L478 1116.1L478.7 1115.1L479.4 1114.2L480 1113.2L480.7 1112.3L481.3 1111.3L482 1110.3L482.6 1109.4L483.3 1108.4L484 1107.5L484.6 1106.5L485.3 1105.6L485.9 1104.6L486.6 1103.7L487.3 1102.7L487.9 1101.8L488.6 1100.8L489.2 1099.8L489.9 1098.9L490.5 1097.9L491.2 1097L491.9 1096L492.5 1095.1L493.2 1094.1L493.8 1093.2L494.5 1092.2L495.1 1091.3L495.8 1090.3L496.4 1089.3L497.1 1088.4L497.8 1087.4L498.4 1086.5L499.1 1085.5L499.7 1084.6L500.4 1083.6L501 1082.7L501.7 1081.7L502.3 1080.7L503 1079.8L503.6 1078.8L504.3 1077.9L505 1076.9L505.6 1076L506.3 1075L506.9 1074.1L507.6 1073.1L508.2 1072.2L508.9 1071.2L509.6 1070.2L510.2 1069.3L510.9 1068.3L511.5 1067.4L512.2 1066.4L512.9 1065.5L513.5 1064.5L514.2 1063.6L514.9 1062.6L515.5 1061.6L516.2 1060.7L516.9 1059.7L517.5 1058.8L518.2 1057.8L518.9 1056.9L519.5 1055.9L520.2 1055L520.9 1054L521.6 1053.1L522.2 1052.1L522.9 1051.1L523.6 1050.2L524.3 1049.2L525 1048.3L525.6 1047.3L526.3 1046.4L527 1045.4L527.7 1044.5L528.4 1043.5L529.1 1042.6L529.8 1041.6L530.5 1040.6L531.1 1039.7L531.8 1038.7L532.5 1037.8L533.2 1036.8L533.9 1035.9L534.6 1034.9L535.3 1034L536.1 1033L536.8 1032L537.5 1031.1L538.2 1030.1L538.9 1029.2L539.6 1028.2L540.3 1027.3L541 1026.3L541.8 1025.4L542.5 1024.4L543.2 1023.5L543.9 1022.5L544.7 1021.5L545.4 1020.6L546.1 1019.6L546.9 1018.7L547.6 1017.7L548.4 1016.8L549.1 1015.8L549.8 1014.9L550.6 1013.9L551.3 1012.9L552 1012L552.8 1011L553.5 1010.1L554.3 1009.1L555 1008.2L555.7 1007.2L556.5 1006.3L557.2 1005.3L558 1004.4L558.7 1003.4L559.5 1002.4L560.2 1001.5L561 1000.5L561.7 999.6L562.5 998.6L563.3 997.7L564 996.7L564.8 995.8L565.6 994.8L566.3 993.9L567.1 992.9L567.9 991.9L568.7 991L569.5 990L570.3 989.1L571.1 988.1L571.9 987.2L572.7 986.2L573.5 985.3L574.3 984.3L575.2 983.3L576 982.4L576.8 981.4L577.7 980.5L578.5 979.5L579.4 978.6L580.2 977.6L581.1 976.7L582 975.7L582.9 974.8L583.7 973.8L584.6 972.8L585.5 971.9L586.5 970.9L587.4 970L588.3 969L589.2 968.1L590.2 967.1L591.1 966.2L592.1 965.2L593.1 964.2L594.1 963.3L595.1 962.3L596.2 961.4L597.2 960.4L598.3 959.5L599.4 958.5L600.5 957.6L601.6 956.6L602.7 955.7L603.8 954.7L604.9 953.7L606 952.8L607.2 951.8L608.3 950.9L609.5 949.9L610.7 949L611.8 948L613 947.1L614.2 946.1L615.4 945.2L616.6 944.2L617.8 943.2L619 942.3L620.2 941.3L621.4 940.4L622.6 939.4L623.8 938.5L625 937.5L626.2 936.6L627.4 935.6L628.6 934.6L629.8 933.7L631 932.7L632.2 931.8L633.4 930.8L634.6 929.9L635.8 928.9L636.9 928L638.1 927L639.3 926.1L640.4 925.1L641.6 924.1L642.7 923.2L643.9 922.2L645 921.3L646.1 920.3L647.2 919.4L648.3 918.4L649.4 917.5L650.5 916.5L651.6 915.5L652.7 914.6L653.8 913.6L654.9 912.7L656 911.7L657.1 910.8L658.2 909.8L659.3 908.9L660.4 907.9L661.5 907L662.6 906L663.6 905L664.7 904.1L665.8 903.1L666.9 902.2L668 901.2L669.1 900.3L670.2 899.3L671.3 898.4L672.4 897.4L673.4 896.4L674.5 895.5L675.6 894.5L676.7 893.6L677.7 892.6L678.8 891.7L679.8 890.7L680.9 889.8L682 888.8L683 887.9L684 886.9L685.1 885.9L686.1 885L687.1 884L688.2 883.1L689.2 882.1L690.2 881.2L691.2 880.2L692.2 879.3L693.2 878.3L694.2 877.4L695.1 876.4L696.1 875.4L697.1 874.5L698 873.5L699 872.6L699.9 871.6L700.8 870.7L701.8 869.7L702.7 868.8L703.6 867.8L704.5 866.8L705.4 865.9L706.2 864.9L707.1 864L707.9 863L708.7 862.1L709.5 861.1L710.4 860.2L711.2 859.2L711.9 858.3L712.7 857.3L713.5 856.3L714.3 855.4L715.1 854.4L715.8 853.5L716.6 852.5L717.4 851.6L718.1 850.6L718.9 849.7L719.7 848.7L720.4 847.7L721.2 846.8L722 845.8L722.8 844.9L723.6 843.9L724.4 843L725.2 842L726 841.1L726.8 840.1L727.6 839.2L728.5 838.2L729.4 837.2L730.2 836.3L731.1 835.3L732 834.4L732.9 833.4L733.9 832.5L734.8 831.5L735.7 830.6L736.7 829.6L737.7 828.7L738.6 827.7L739.6 826.7L740.6 825.8L741.6 824.8L742.6 823.9L743.6 822.9L744.6 822L745.6 821L746.6 820.1L747.6 819.1L748.6 818.1L749.6 817.2L750.6 816.2L751.6 815.3L752.6 814.3L753.6 813.4L754.6 812.4L755.6 811.5L756.6 810.5L757.6 809.6L758.5 808.6L759.5 807.6L760.5 806.7L761.5 805.7L762.4 804.8L763.4 803.8L764.4 802.9L765.4 801.9L766.4 801L767.5 800L768.6 799L769.7 798.1L770.9 797.1L772.3 796.2L773.8 795.2L775.5 794.3L777.4 793.3L779.7 792.4L782.4 791.4L785.5 790.5L789.3 789.5"/>
<path d="M149.8 1391.8L155 1393.9L160.1 1396L165.3 1392.6L170.5 1389.2L175.6 1396.2L180.8 1403.3L185.9 1395.5L191.1 1387.8L196.3 1393.6L201.4 1399.4L206.6 1402L211.8 1404.6L216.9 1398.1L222.1 1391.6L227.3 1385.6L232.4 1379.7L237.6 1383L242.8 1386.2L247.9 1392.9L253.1 1399.5L258.2 1394L263.4 1388.6L268.6 1393.8L273.7 1398.9L278.9 1397.4L284.1 1396L289.2 1395L294.4 1394L299.6 1384.8L304.7 1375.7L309.9 1363.2L315 1350.7L320.2 1363.1L325.4 1375.4L330.5 1368L335.7 1360.5L340.9 1360.2L346 1360L351.2 1367.4L356.4 1374.8L361.5 1367.9L366.7 1358L371.9 1342.6L377 1324.3L382.2 1307.6L387.3 1293L392.5 1280.6L397.7 1270.3L400.2 1266L400.8 1265L401.4 1264.1L402 1263.1L402.6 1262.2L403.2 1261.2L403.8 1260.3L404.4 1259.3L405 1258.4L405.6 1257.4L406.2 1256.5L406.8 1255.5L407.4 1254.5L408.1 1253.6L408.7 1252.6L409.3 1251.7L409.9 1250.7L410.5 1249.8L411.1 1248.8L411.7 1247.9L412.3 1246.9L412.9 1245.9L413.5 1245L414.1 1244L414.7 1243.1L415.3 1242.1L415.9 1241.2L416.5 1240.2L417.1 1239.3L417.7 1238.3L418.3 1237.4L419 1236.4L419.6 1235.4L420.2 1234.5L420.8 1233.5L421.4 1232.6L422 1231.6L422.6 1230.7L423.2 1229.7L423.8 1228.8L424.4 1227.8L425 1226.8L425.6 1225.9L426.2 1224.9L426.8 1224L427.5 1223L428.1 1222.1L428.7 1221.1L429.3 1220.2L429.9 1219.2L430.5 1218.3L431.1 1217.3L431.7 1216.3L432.3 1215.4L432.9 1214.4L433.5 1213.5L434.1 1212.5L434.8 1211.6L435.4 1210.6L436 1209.7L436.6 1208.7L437.2 1207.8L437.8 1206.8L438.4 1205.8L439 1204.9L439.6 1203.9L440.2 1203L440.9 1202L441.5 1201.1L442.1 1200.1L442.7 1199.2L443.3 1198.2L443.9 1197.2L444.5 1196.3L445.1 1195.3L445.7 1194.4L446.3 1193.4L446.9 1192.5L447.6 1191.5L448.2 1190.6L448.8 1189.6L449.4 1188.7L450 1187.7L450.6 1186.7L451.2 1185.8L451.8 1184.8L452.4 1183.9L453 1182.9L453.6 1182L454.3 1181L454.9 1180.1L455.5 1179.1L456.1 1178.1L456.7 1177.2L457.3 1176.2L457.9 1175.3L458.5 1174.3L459.1 1173.4L459.7 1172.4L460.4 1171.5L461 1170.5L461.6 1169.6L462.2 1168.6L462.8 1167.6L463.4 1166.7L464 1165.7L464.6 1164.8L465.2 1163.8L465.8 1162.9L466.5 1161.9L467.1 1161L467.7 1160L468.3 1159.1L468.9 1158.1L469.5 1157.1L470.1 1156.2L470.7 1155.2L471.4 1154.3L472 1153.3L472.6 1152.4L473.2 1151.4L473.8 1150.5L474.4 1149.5L475 1148.5L475.6 1147.6L476.3 1146.6L476.9 1145.7L477.5 1144.7L478.1 1143.8L478.7 1142.8L479.3 1141.9L480 1140.9L480.6 1140L481.2 1139L481.8 1138L482.4 1137.1L483 1136.1L483.6 1135.2L484.3 1134.2L484.9 1133.3L485.5 1132.3L486.1 1131.4L486.7 1130.4L487.4 1129.4L488 1128.5L488.6 1127.5L489.2 1126.6L489.8 1125.6L490.5 1124.7L491.1 1123.7L491.7 1122.8L492.3 1121.8L492.9 1120.9L493.6 1119.9L494.2 1118.9L494.8 1118L495.4 1117L496.1 1116.1L496.7 1115.1L497.3 1114.2L497.9 1113.2L498.6 1112.3L499.2 1111.3L499.8 1110.3L500.4 1109.4L501.1 1108.4L501.7 1107.5L502.3 1106.5L502.9 1105.6L503.6 1104.6L504.2 1103.7L504.8 1102.7L505.4 1101.8L506.1 1100.8L506.7 1099.8L507.3 1098.9L507.9 1097.9L508.5 1097L509.2 1096L509.8 1095.1L510.4 1094.1L511 1093.2L511.7 1092.2L512.3 1091.3L512.9 1090.3L513.5 1089.3L514.1 1088.4L514.7 1087.4L515.4 1086.5L516 1085.5L516.6 1084.6L517.2 1083.6L517.8 1082.7L518.5 1081.7L519.1 1080.7L519.7 1079.8L520.3 1078.8L520.9 1077.9L521.6 1076.9L522.2 1076L522.8 1075L523.4 1074.1L524.1 1073.1L524.7 1072.2L525.3 1071.2L525.9 1070.2L526.5 1069.3L527.2 1068.3L527.8 1067.4L528.4 1066.4L529 1065.5L529.7 1064.5L530.3 1063.6L530.9 1062.6L531.6 1061.6L532.2 1060.7L532.8 1059.7L533.4 1058.8L534.1 1057.8L534.7 1056.9L535.3 1055.9L536 1055L536.6 1054L537.3 1053.1L537.9 1052.1L538.5 1051.1L539.2 1050.2L539.8 1049.2L540.5 1048.3L541.1 1047.3L541.8 1046.4L542.4 1045.4L543 1044.5L543.7 1043.5L544.4 1042.6L545 1041.6L545.7 1040.6L546.3 1039.7L547 1038.7L547.6 1037.8L548.3 1036.8L549 1035.9L549.6 1034.9L550.3 1034L551 1033L551.6 1032L552.3 1031.1L553 1030.1L553.6 1029.2L554.3 1028.2L555 1027.3L555.7 1026.3L556.4 1025.4L557 1024.4L557.7 1023.5L558.4 1022.5L559.1 1021.5L559.8 1020.6L560.5 1019.6L561.2 1018.7L561.9 1017.7L562.6 1016.8L563.3 1015.8L564 1014.9L564.7 1013.9L565.4 1012.9L566.1 1012L566.8 1011L567.5 1010.1L568.2 1009.1L568.9 1008.2L569.6 1007.2L570.3 1006.3L571 1005.3L571.7 1004.4L572.4 1003.4L573.1 1002.4L573.8 1001.5L574.5 1000.5L575.2 999.6L575.9 998.6L576.6 997.7L577.3 996.7L578 995.8L578.8 994.8L579.5 993.9L580.2 992.9L581 991.9L581.7 991L582.5 990L583.2 989.1L584 988.1L584.7 987.2L585.5 986.2L586.3 985.3L587 984.3L587.8 983.3L588.6 982.4L589.4 981.4L590.2 980.5L591 979.5L591.9 978.6L592.7 977.6L593.5 976.7L594.4 975.7L595.2 974.8L596.1 973.8L596.9 972.8L597.8 971.9L598.7 970.9L599.6 970L600.5 969L601.4 968.1L602.4 967.1L603.3 966.2L604.3 965.2L605.3 964.2L606.3 963.3L607.3 962.3L608.4 961.4L609.4 960.4L610.5 959.5L611.6 958.5L612.7 957.6L613.8 956.6L614.9 955.7L616.1 954.7L617.2 953.7L618.4 952.8L619.6 951.8L620.7 950.9L621.9 949.9L623.1 949L624.4 948L625.6 947.1L626.8 946.1L628 945.2L629.3 944.2L630.5 943.2L631.8 942.3L633 941.3L634.3 940.4L635.5 939.4L636.8 938.5L638 937.5L639.3 936.6L640.6 935.6L641.8 934.6L643.1 933.7L644.3 932.7L645.6 931.8L646.8 930.8L648.1 929.9L649.3 928.9L650.6 928L651.8 927L653 926.1L654.2 925.1L655.4 924.1L656.6 923.2L657.8 922.2L659 921.3L660.2 920.3L661.4 919.4L662.5 918.4L663.6 917.5L664.8 916.5L665.9 915.5L667.1 914.6L668.2 913.6L669.4 912.7L670.6 911.7L671.7 910.8L672.9 909.8L674.1 908.9L675.2 907.9L676.4 907L677.6 906L678.7 905L679.9 904.1L681.1 903.1L682.3 902.2L683.4 901.2L684.6 900.3L685.8 899.3L686.9 898.4L688.1 897.4L689.3 896.4L690.4 895.5L691.6 894.5L692.7 893.6L693.9 892.6L695 891.7L696.1 890.7L697.3 889.8L698.4 888.8L699.5 887.9L700.6 886.9L701.7 885.9L702.8 885L703.9 884L705 883.1L706.1 882.1L707.2 881.2L708.2 880.2L709.3 879.3L710.3 878.3L711.4 877.4L712.4 876.4L713.4 875.4L714.4 874.5L715.4 873.5L716.4 872.6L717.4 871.6L718.4 870.7L719.3 869.7L720.3 868.8L721.2 867.8L722.1 866.8L723 865.9L723.9 864.9L724.7 864L725.6 863L726.4 862.1L727.3 861.1L728.1 860.2L728.9 859.2L729.7 858.3L730.5 857.3L731.3 856.3L732.1 855.4L732.8 854.4L733.6 853.5L734.4 852.5L735.1 851.6L735.9 850.6L736.7 849.7L737.4 848.7L738.2 847.7L739 846.8L739.7 845.8L740.5 844.9L741.3 843.9L742.1 843L742.9 842L743.7 841.1L744.5 840.1L745.3 839.2L746.1 838.2L747 837.2L747.8 836.3L748.7 835.3L749.6 834.4L750.5 833.4L751.4 832.5L752.3 831.5L753.2 830.6L754.1 829.6L755 828.7L755.9 827.7L756.9 826.7L757.8 825.8L758.7 824.8L759.7 823.9L760.6 822.9L761.6 822L762.5 821L763.5 820.1L764.4 819.1L765.4 818.1L766.3 817.2L767.3 816.2L768.2 815.3L769.1 814.3L770.1 813.4L771 812.4L772 811.5L772.9 810.5L773.8 809.6L774.8 808.6L775.7 807.6L776.6 806.7L777.6 805.7L778.5 804.8L779.4 803.8L780.4 802.9L781.3 801.9L782.3 801L783.3 800L784.3 799L785.5 798.1L786.7 797.1L788 796.2L789.5 795.2L791.2 794.3L793.2 793.3L795.5 792.4L798.3 791.4L801.6 790.5L805.6 789.5"/>
<path d="M149.8 1374.5L155 1377.4L160.1 1380.3L165.3 1380.4L170.5 1380.6L175.6 1378.5L180.8 1376.3L185.9 1369.7L191.1 1363.1L196.3 1360L201.4 1356.9L206.6 1363.2L211.8 1369.5L216.9 1365.3L222.1 1361.2L227.3 1366.2L232.4 1371.3L237.6 1377.4L242.8 1383.5L247.9 1375.9L253.1 1368.2L258.2 1367.1L263.4 1366L268.6 1369.2L273.7 1372.5L278.9 1369.8L284.1 1367L289.2 1366L294.4 1365L299.6 1370.4L304.7 1375.7L309.9 1378L315 1380.3L320.2 1417.7L325.4 1435.7L330.5 1413L335.7 1370.9L340.9 1371.4L346 1371.9L351.2 1366.9L356.4 1361.9L361.5 1359.2L366.7 1356.4L371.9 1364.4L377 1372.4L382.2 1368L387.3 1361.8L392.5 1349L397.7 1330.8L402.8 1313.7L408 1298.5L413.2 1285.2L418.3 1273.8L422.5 1266L423.1 1265L423.6 1264.1L424.2 1263.1L424.7 1262.2L425.3 1261.2L425.8 1260.3L426.4 1259.3L427 1258.4L427.5 1257.4L428.1 1256.5L428.6 1255.5L429.2 1254.5L429.8 1253.6L430.3 1252.6L430.9 1251.7L431.4 1250.7L432 1249.8L432.6 1248.8L433.1 1247.9L433.7 1246.9L434.2 1245.9L434.8 1245L435.4 1244L435.9 1243.1L436.5 1242.1L437 1241.2L437.6 1240.2L438.2 1239.3L438.7 1238.3L439.3 1237.4L439.9 1236.4L440.4 1235.4L441 1234.5L441.5 1233.5L442.1 1232.6L442.7 1231.6L443.2 1230.7L443.8 1229.7L444.4 1228.8L444.9 1227.8L445.5 1226.8L446.1 1225.9L446.6 1224.9L447.2 1224L447.8 1223L448.3 1222.1L448.9 1221.1L449.5 1220.2L450 1219.2L450.6 1218.3L451.2 1217.3L451.7 1216.3L452.3 1215.4L452.9 1214.4L453.4 1213.5L454 1212.5L454.6 1211.6L455.1 1210.6L455.7 1209.7L456.3 1208.7L456.8 1207.8L457.4 1206.8L458 1205.8L458.6 1204.9L459.1 1203.9L459.7 1203L460.3 1202L460.8 1201.1L461.4 1200.1L462 1199.2L462.5 1198.2L463.1 1197.2L463.7 1196.3L464.3 1195.3L464.8 1194.4L465.4 1193.4L466 1192.5L466.5 1191.5L467.1 1190.6L467.7 1189.6L468.3 1188.7L468.8 1187.7L469.4 1186.7L470 1185.8L470.5 1184.8L471.1 1183.9L471.7 1182.9L472.3 1182L472.8 1181L473.4 1180.1L474 1179.1L474.6 1178.1L475.1 1177.2L475.7 1176.2L476.3 1175.3L476.9 1174.3L477.4 1173.4L478 1172.4L478.6 1171.5L479.1 1170.5L479.7 1169.6L480.3 1168.6L480.9 1167.6L481.4 1166.7L482 1165.7L482.6 1164.8L483.2 1163.8L483.8 1162.9L484.3 1161.9L484.9 1161L485.5 1160L486.1 1159.1L486.6 1158.1L487.2 1157.1L487.8 1156.2L488.4 1155.2L488.9 1154.3L489.5 1153.3L490.1 1152.4L490.7 1151.4L491.3 1150.5L491.8 1149.5L492.4 1148.5L493 1147.6L493.6 1146.6L494.2 1145.7L494.7 1144.7L495.3 1143.8L495.9 1142.8L496.5 1141.9L497.1 1140.9L497.6 1140L498.2 1139L498.8 1138L499.4 1137.1L500 1136.1L500.6 1135.2L501.1 1134.2L501.7 1133.3L502.3 1132.3L502.9 1131.4L503.5 1130.4L504.1 1129.4L504.6 1128.5L505.2 1127.5L505.8 1126.6L506.4 1125.6L507 1124.7L507.6 1123.7L508.2 1122.8L508.7 1121.8L509.3 1120.9L509.9 1119.9L510.5 1118.9L511.1 1118L511.7 1117L512.3 1116.1L512.9 1115.1L513.5 1114.2L514 1113.2L514.6 1112.3L515.2 1111.3L515.8 1110.3L516.4 1109.4L517 1108.4L517.6 1107.5L518.2 1106.5L518.8 1105.6L519.4 1104.6L520 1103.7L520.6 1102.7L521.1 1101.8L521.7 1100.8L522.3 1099.8L522.9 1098.9L523.5 1097.9L524.1 1097L524.7 1096L525.3 1095.1L525.8 1094.1L526.4 1093.2L527 1092.2L527.6 1091.3L528.2 1090.3L528.8 1089.3L529.4 1088.4L529.9 1087.4L530.5 1086.5L531.1 1085.5L531.7 1084.6L532.3 1083.6L532.9 1082.7L533.4 1081.7L534 1080.7L534.6 1079.8L535.2 1078.8L535.8 1077.9L536.4 1076.9L537 1076L537.5 1075L538.1 1074.1L538.7 1073.1L539.3 1072.2L539.9 1071.2L540.5 1070.2L541.1 1069.3L541.7 1068.3L542.3 1067.4L542.9 1066.4L543.4 1065.5L544 1064.5L544.6 1063.6L545.2 1062.6L545.8 1061.6L546.4 1060.7L547 1059.7L547.6 1058.8L548.2 1057.8L548.8 1056.9L549.4 1055.9L550 1055L550.6 1054L551.2 1053.1L551.8 1052.1L552.4 1051.1L553 1050.2L553.6 1049.2L554.3 1048.3L554.9 1047.3L555.5 1046.4L556.1 1045.4L556.7 1044.5L557.3 1043.5L558 1042.6L558.6 1041.6L559.2 1040.6L559.8 1039.7L560.4 1038.7L561.1 1037.8L561.7 1036.8L562.3 1035.9L563 1034.9L563.6 1034L564.2 1033L564.9 1032L565.5 1031.1L566.2 1030.1L566.8 1029.2L567.4 1028.2L568.1 1027.3L568.7 1026.3L569.4 1025.4L570 1024.4L570.7 1023.5L571.4 1022.5L572 1021.5L572.7 1020.6L573.4 1019.6L574 1018.7L574.7 1017.7L575.4 1016.8L576 1015.8L576.7 1014.9L577.4 1013.9L578 1012.9L578.7 1012L579.3 1011L580 1010.1L580.7 1009.1L581.3 1008.2L582 1007.2L582.7 1006.3L583.3 1005.3L584 1004.4L584.7 1003.4L585.3 1002.4L586 1001.5L586.7 1000.5L587.3 999.6L588 998.6L588.7 997.7L589.4 996.7L590.1 995.8L590.8 994.8L591.5 993.9L592.2 992.9L592.9 991.9L593.6 991L594.3 990L595 989.1L595.8 988.1L596.5 987.2L597.2 986.2L598 985.3L598.8 984.3L599.5 983.3L600.3 982.4L601.1 981.4L601.9 980.5L602.6 979.5L603.4 978.6L604.3 977.6L605.1 976.7L605.9 975.7L606.8 974.8L607.6 973.8L608.5 972.8L609.3 971.9L610.2 970.9L611.1 970L612 969L612.9 968.1L613.9 967.1L614.8 966.2L615.8 965.2L616.8 964.2L617.8 963.3L618.9 962.3L620 961.4L621.1 960.4L622.2 959.5L623.3 958.5L624.5 957.6L625.6 956.6L626.8 955.7L628 954.7L629.2 953.7L630.4 952.8L631.7 951.8L632.9 950.9L634.2 949.9L635.5 949L636.8 948L638.1 947.1L639.4 946.1L640.7 945.2L642 944.2L643.3 943.2L644.6 942.3L646 941.3L647.3 940.4L648.7 939.4L650 938.5L651.4 937.5L652.7 936.6L654 935.6L655.4 934.6L656.7 933.7L658.1 932.7L659.4 931.8L660.7 930.8L662.1 929.9L663.4 928.9L664.7 928L666 927L667.3 926.1L668.6 925.1L669.9 924.1L671.2 923.2L672.5 922.2L673.7 921.3L674.9 920.3L676.2 919.4L677.4 918.4L678.6 917.5L679.8 916.5L681 915.5L682.2 914.6L683.4 913.6L684.7 912.7L685.9 911.7L687.1 910.8L688.3 909.8L689.6 908.9L690.8 907.9L692 907L693.3 906L694.5 905L695.8 904.1L697 903.1L698.2 902.2L699.5 901.2L700.7 900.3L702 899.3L703.2 898.4L704.4 897.4L705.6 896.4L706.9 895.5L708.1 894.5L709.3 893.6L710.5 892.6L711.7 891.7L712.9 890.7L714.1 889.8L715.3 888.8L716.5 887.9L717.6 886.9L718.8 885.9L719.9 885L721.1 884L722.2 883.1L723.3 882.1L724.5 881.2L725.6 880.2L726.7 879.3L727.7 878.3L728.8 877.4L729.9 876.4L730.9 875.4L732 874.5L733 873.5L734 872.6L735 871.6L736 870.7L736.9 869.7L737.9 868.8L738.8 867.8L739.7 866.8L740.6 865.9L741.5 864.9L742.3 864L743.2 863L744 862.1L744.8 861.1L745.6 860.2L746.4 859.2L747.2 858.3L748 857.3L748.7 856.3L749.5 855.4L750.2 854.4L751 853.5L751.7 852.5L752.5 851.6L753.2 850.6L753.9 849.7L754.7 848.7L755.4 847.7L756.2 846.8L756.9 845.8L757.7 844.9L758.4 843.9L759.2 843L759.9 842L760.7 841.1L761.5 840.1L762.3 839.2L763.1 838.2L763.9 837.2L764.7 836.3L765.6 835.3L766.4 834.4L767.3 833.4L768.2 832.5L769.1 831.5L769.9 830.6L770.8 829.6L771.7 828.7L772.6 827.7L773.5 826.7L774.4 825.8L775.3 824.8L776.3 823.9L777.2 822.9L778.1 822L779 821L779.9 820.1L780.9 819.1L781.8 818.1L782.7 817.2L783.6 816.2L784.5 815.3L785.5 814.3L786.4 813.4L787.3 812.4L788.2 811.5L789.1 810.5L790 809.6L790.9 808.6L791.8 807.6L792.7 806.7L793.6 805.7L794.5 804.8L795.5 803.8L796.4 802.9L797.3 801.9L798.2 801L799.2 800L800.2 799L801.3 798.1L802.5 797.1L803.8 796.2L805.2 795.2L806.9 794.3L808.8 793.3L811 792.4L813.7 791.4L816.9 790.5L820.7 789.5"/>
<path d="M149.8 1357.9L155 1361.4L160.1 1364.9L165.3 1357L170.5 1349.2L175.6 1359.6L180.8 1370L185.9 1363.4L191.1 1356.9L196.3 1358.8L201.4 1360.8L206.6 1365.2L211.8 1369.6L216.9 1360.6L222.1 1351.6L227.3 1354.8L232.4 1358.1L237.6 1363.7L242.8 1369.4L247.9 1362.8L253.1 1356.2L258.2 1360L263.4 1363.9L268.6 1369.4L273.7 1374.8L278.9 1370.3L284.1 1365.8L289.2 1362.2L294.4 1358.7L299.6 1357.3L304.7 1355.9L309.9 1357.7L315 1359.4L320.2 1359.9L325.4 1360.3L330.5 1358.7L335.7 1357.2L340.9 1359.7L346 1362.2L351.2 1357.1L356.4 1351.9L361.5 1355.7L366.7 1359.6L371.9 1359L377 1358.5L382.2 1357.6L387.3 1356.6L392.5 1362.6L397.7 1368.5L402.8 1367.1L408 1363.7L413.2 1353.3L418.3 1335.1L423.5 1318.5L428.7 1303.4L433.8 1289.8L439 1277.8L444.1 1267.4L444.9 1266L445.4 1265L445.9 1264.1L446.5 1263.1L447 1262.2L447.5 1261.2L448 1260.3L448.6 1259.3L449.1 1258.4L449.6 1257.4L450.1 1256.5L450.7 1255.5L451.2 1254.5L451.7 1253.6L452.2 1252.6L452.8 1251.7L453.3 1250.7L453.8 1249.8L454.3 1248.8L454.9 1247.9L455.4 1246.9L455.9 1245.9L456.4 1245L457 1244L457.5 1243.1L458 1242.1L458.5 1241.2L459.1 1240.2L459.6 1239.3L460.1 1238.3L460.6 1237.4L461.2 1236.4L461.7 1235.4L462.2 1234.5L462.8 1233.5L463.3 1232.6L463.8 1231.6L464.3 1230.7L464.9 1229.7L465.4 1228.8L465.9 1227.8L466.5 1226.8L467 1225.9L467.5 1224.9L468 1224L468.6 1223L469.1 1222.1L469.6 1221.1L470.2 1220.2L470.7 1219.2L471.2 1218.3L471.8 1217.3L472.3 1216.3L472.8 1215.4L473.4 1214.4L473.9 1213.5L474.4 1212.5L475 1211.6L475.5 1210.6L476 1209.7L476.6 1208.7L477.1 1207.8L477.6 1206.8L478.2 1205.8L478.7 1204.9L479.2 1203.9L479.8 1203L480.3 1202L480.8 1201.1L481.4 1200.1L481.9 1199.2L482.4 1198.2L483 1197.2L483.5 1196.3L484.1 1195.3L484.6 1194.4L485.1 1193.4L485.7 1192.5L486.2 1191.5L486.7 1190.6L487.3 1189.6L487.8 1188.7L488.3 1187.7L488.9 1186.7L489.4 1185.8L489.9 1184.8L490.5 1183.9L491 1182.9L491.6 1182L492.1 1181L492.6 1180.1L493.2 1179.1L493.7 1178.1L494.2 1177.2L494.8 1176.2L495.3 1175.3L495.8 1174.3L496.4 1173.4L496.9 1172.4L497.5 1171.5L498 1170.5L498.5 1169.6L499.1 1168.6L499.6 1167.6L500.2 1166.7L500.7 1165.7L501.2 1164.8L501.8 1163.8L502.3 1162.9L502.9 1161.9L503.4 1161L503.9 1160L504.5 1159.1L505 1158.1L505.6 1157.1L506.1 1156.2L506.6 1155.2L507.2 1154.3L507.7 1153.3L508.3 1152.4L508.8 1151.4L509.3 1150.5L509.9 1149.5L510.4 1148.5L511 1147.6L511.5 1146.6L512.1 1145.7L512.6 1144.7L513.2 1143.8L513.7 1142.8L514.2 1141.9L514.8 1140.9L515.3 1140L515.9 1139L516.4 1138L517 1137.1L517.5 1136.1L518.1 1135.2L518.6 1134.2L519.2 1133.3L519.7 1132.3L520.3 1131.4L520.8 1130.4L521.4 1129.4L521.9 1128.5L522.5 1127.5L523 1126.6L523.6 1125.6L524.1 1124.7L524.7 1123.7L525.2 1122.8L525.8 1121.8L526.3 1120.9L526.9 1119.9L527.4 1118.9L528 1118L528.5 1117L529.1 1116.1L529.7 1115.1L530.2 1114.2L530.8 1113.2L531.3 1112.3L531.9 1111.3L532.4 1110.3L533 1109.4L533.6 1108.4L534.1 1107.5L534.7 1106.5L535.2 1105.6L535.8 1104.6L536.3 1103.7L536.9 1102.7L537.5 1101.8L538 1100.8L538.6 1099.8L539.1 1098.9L539.7 1097.9L540.2 1097L540.8 1096L541.3 1095.1L541.9 1094.1L542.5 1093.2L543 1092.2L543.6 1091.3L544.1 1090.3L544.7 1089.3L545.2 1088.4L545.8 1087.4L546.3 1086.5L546.9 1085.5L547.4 1084.6L548 1083.6L548.5 1082.7L549.1 1081.7L549.6 1080.7L550.2 1079.8L550.7 1078.8L551.3 1077.9L551.9 1076.9L552.4 1076L553 1075L553.5 1074.1L554.1 1073.1L554.6 1072.2L555.2 1071.2L555.7 1070.2L556.3 1069.3L556.9 1068.3L557.4 1067.4L558 1066.4L558.5 1065.5L559.1 1064.5L559.7 1063.6L560.2 1062.6L560.8 1061.6L561.4 1060.7L561.9 1059.7L562.5 1058.8L563.1 1057.8L563.6 1056.9L564.2 1055.9L564.8 1055L565.3 1054L565.9 1053.1L566.5 1052.1L567.1 1051.1L567.6 1050.2L568.2 1049.2L568.8 1048.3L569.4 1047.3L570 1046.4L570.6 1045.4L571.1 1044.5L571.7 1043.5L572.3 1042.6L572.9 1041.6L573.5 1040.6L574.1 1039.7L574.7 1038.7L575.3 1037.8L575.9 1036.8L576.5 1035.9L577.1 1034.9L577.7 1034L578.3 1033L578.9 1032L579.5 1031.1L580.1 1030.1L580.7 1029.2L581.4 1028.2L582 1027.3L582.6 1026.3L583.2 1025.4L583.8 1024.4L584.5 1023.5L585.1 1022.5L585.7 1021.5L586.4 1020.6L587 1019.6L587.6 1018.7L588.3 1017.7L588.9 1016.8L589.6 1015.8L590.2 1014.9L590.8 1013.9L591.5 1012.9L592.1 1012L592.7 1011L593.4 1010.1L594 1009.1L594.6 1008.2L595.2 1007.2L595.9 1006.3L596.5 1005.3L597.1 1004.4L597.8 1003.4L598.4 1002.4L599.1 1001.5L599.7 1000.5L600.3 999.6L601 998.6L601.6 997.7L602.3 996.7L603 995.8L603.6 994.8L604.3 993.9L605 992.9L605.6 991.9L606.3 991L607 990L607.7 989.1L608.4 988.1L609.1 987.2L609.8 986.2L610.5 985.3L611.3 984.3L612 983.3L612.8 982.4L613.5 981.4L614.3 980.5L615 979.5L615.8 978.6L616.6 977.6L617.4 976.7L618.2 975.7L619.1 974.8L619.9 973.8L620.7 972.8L621.6 971.9L622.5 970.9L623.3 970L624.2 969L625.1 968.1L626.1 967.1L627 966.2L628 965.2L629 964.2L630 963.3L631.1 962.3L632.2 961.4L633.3 960.4L634.4 959.5L635.5 958.5L636.7 957.6L637.9 956.6L639.1 955.7L640.3 954.7L641.6 953.7L642.8 952.8L644.1 951.8L645.4 950.9L646.7 949.9L648 949L649.3 948L650.7 947.1L652 946.1L653.4 945.2L654.7 944.2L656.1 943.2L657.5 942.3L658.9 941.3L660.2 940.4L661.6 939.4L663 938.5L664.4 937.5L665.8 936.6L667.2 935.6L668.6 934.6L670 933.7L671.4 932.7L672.8 931.8L674.2 930.8L675.6 929.9L677 928.9L678.4 928L679.8 927L681.1 926.1L682.5 925.1L683.8 924.1L685.2 923.2L686.5 922.2L687.8 921.3L689.1 920.3L690.4 919.4L691.7 918.4L692.9 917.5L694.2 916.5L695.5 915.5L696.7 914.6L698 913.6L699.3 912.7L700.7 911.7L702 910.8L703.3 909.8L704.6 908.9L705.9 907.9L707.3 907L708.6 906L710 905L711.3 904.1L712.6 903.1L714 902.2L715.3 901.2L716.7 900.3L718 899.3L719.3 898.4L720.7 897.4L722 896.4L723.3 895.5L724.7 894.5L726 893.6L727.3 892.6L728.6 891.7L729.9 890.7L731.2 889.8L732.5 888.8L733.7 887.9L735 886.9L736.2 885.9L737.5 885L738.7 884L739.9 883.1L741.1 882.1L742.3 881.2L743.5 880.2L744.6 879.3L745.8 878.3L746.9 877.4L748 876.4L749.1 875.4L750.2 874.5L751.2 873.5L752.2 872.6L753.3 871.6L754.3 870.7L755.2 869.7L756.2 868.8L757.1 867.8L758 866.8L758.9 865.9L759.7 864.9L760.6 864L761.4 863L762.2 862.1L763 861.1L763.7 860.2L764.5 859.2L765.2 858.3L765.9 857.3L766.7 856.3L767.4 855.4L768.1 854.4L768.8 853.5L769.5 852.5L770.2 851.6L770.8 850.6L771.5 849.7L772.2 848.7L772.9 847.7L773.6 846.8L774.3 845.8L775 844.9L775.7 843.9L776.4 843L777.1 842L777.9 841.1L778.6 840.1L779.4 839.2L780.2 838.2L780.9 837.2L781.8 836.3L782.6 835.3L783.4 834.4L784.3 833.4L785.1 832.5L786 831.5L786.9 830.6L787.7 829.6L788.6 828.7L789.5 827.7L790.4 826.7L791.3 825.8L792.3 824.8L793.2 823.9L794.1 822.9L795 822L796 821L796.9 820.1L797.8 819.1L798.7 818.1L799.7 817.2L800.6 816.2L801.5 815.3L802.5 814.3L803.4 813.4L804.3 812.4L805.2 811.5L806.1 810.5L807 809.6L807.9 808.6L808.8 807.6L809.7 806.7L810.6 805.7L811.5 804.8L812.5 803.8L813.4 802.9L814.3 801.9L815.2 801L816.2 800L817.2 799L818.2 798.1L819.4 797.1L820.6 796.2L821.9 795.2L823.5 794.3L825.2 793.3L827.3 792.4L829.7 791.4L832.5 790.5L835.8 789.5"/>
<path d="M149.8 1399.4L155 1397.7L160.1 1396L165.3 1411.7L170.5 1427.3L175.6 1410.8L180.8 1394.3L185.9 1398.3L191.1 1402.2L196.3 1394.9L201.4 1387.7L206.6 1392.5L211.8 1397.4L216.9 1398.6L222.1 1399.8L227.3 1403L232.4 1406.2L237.6 1405.1L242.8 1404.1L247.9 1404.5L253.1 1404.8L258.2 1414.4L263.4 1424L268.6 1407L273.7 1390L278.9 1392L284.1 1394L289.2 1404.9L294.4 1415.8L299.6 1435.5L304.7 1435.7L309.9 1409.7L315 1364.4L320.2 1364.4L325.4 1364.5L330.5 1361.2L335.7 1357.8L340.9 1360.5L346 1363.2L351.2 1366.5L356.4 1369.8L361.5 1366.2L366.7 1362.6L371.9 1353.5L377 1344.5L382.2 1349.6L387.3 1354.7L392.5 1369.8L397.7 1384.9L402.8 1375L408 1365.2L413.2 1367.9L418.3 1370.6L423.5 1389.9L428.7 1372.2L433.8 1353.7L439 1336.4L444.1 1320.6L449.3 1305.9L454.5 1292.5L459.6 1280.4L464.8 1269.5L466.6 1266L467.1 1265L467.6 1264.1L468.1 1263.1L468.6 1262.2L469.1 1261.2L469.6 1260.3L470.1 1259.3L470.6 1258.4L471.1 1257.4L471.6 1256.5L472.1 1255.5L472.6 1254.5L473.1 1253.6L473.6 1252.6L474.1 1251.7L474.6 1250.7L475.1 1249.8L475.6 1248.8L476.1 1247.9L476.6 1246.9L477.2 1245.9L477.7 1245L478.2 1244L478.7 1243.1L479.2 1242.1L479.7 1241.2L480.2 1240.2L480.7 1239.3L481.2 1238.3L481.7 1237.4L482.2 1236.4L482.7 1235.4L483.2 1234.5L483.7 1233.5L484.2 1232.6L484.7 1231.6L485.2 1230.7L485.7 1229.7L486.2 1228.8L486.7 1227.8L487.2 1226.8L487.7 1225.9L488.2 1224.9L488.8 1224L489.3 1223L489.8 1222.1L490.3 1221.1L490.8 1220.2L491.3 1219.2L491.8 1218.3L492.3 1217.3L492.8 1216.3L493.3 1215.4L493.8 1214.4L494.3 1213.5L494.8 1212.5L495.3 1211.6L495.8 1210.6L496.3 1209.7L496.9 1208.7L497.4 1207.8L497.9 1206.8L498.4 1205.8L498.9 1204.9L499.4 1203.9L499.9 1203L500.4 1202L500.9 1201.1L501.4 1200.1L501.9 1199.2L502.4 1198.2L502.9 1197.2L503.4 1196.3L504 1195.3L504.5 1194.4L505 1193.4L505.5 1192.5L506 1191.5L506.5 1190.6L507 1189.6L507.5 1188.7L508 1187.7L508.5 1186.7L509 1185.8L509.5 1184.8L510 1183.9L510.5 1182.9L511.1 1182L511.6 1181L512.1 1180.1L512.6 1179.1L513.1 1178.1L513.6 1177.2L514.1 1176.2L514.6 1175.3L515.1 1174.3L515.6 1173.4L516.1 1172.4L516.6 1171.5L517.1 1170.5L517.6 1169.6L518.2 1168.6L518.7 1167.6L519.2 1166.7L519.7 1165.7L520.2 1164.8L520.7 1163.8L521.2 1162.9L521.7 1161.9L522.2 1161L522.7 1160L523.2 1159.1L523.8 1158.1L524.3 1157.1L524.8 1156.2L525.3 1155.2L525.8 1154.3L526.3 1153.3L526.8 1152.4L527.3 1151.4L527.8 1150.5L528.3 1149.5L528.9 1148.5L529.4 1147.6L529.9 1146.6L530.4 1145.7L530.9 1144.7L531.4 1143.8L531.9 1142.8L532.4 1141.9L532.9 1140.9L533.5 1140L534 1139L534.5 1138L535 1137.1L535.5 1136.1L536 1135.2L536.5 1134.2L537.1 1133.3L537.6 1132.3L538.1 1131.4L538.6 1130.4L539.1 1129.4L539.6 1128.5L540.1 1127.5L540.7 1126.6L541.2 1125.6L541.7 1124.7L542.2 1123.7L542.7 1122.8L543.2 1121.8L543.8 1120.9L544.3 1119.9L544.8 1118.9L545.3 1118L545.8 1117L546.3 1116.1L546.9 1115.1L547.4 1114.2L547.9 1113.2L548.4 1112.3L548.9 1111.3L549.5 1110.3L550 1109.4L550.5 1108.4L551 1107.5L551.6 1106.5L552.1 1105.6L552.6 1104.6L553.1 1103.7L553.6 1102.7L554.2 1101.8L554.7 1100.8L555.2 1099.8L555.7 1098.9L556.2 1097.9L556.7 1097L557.2 1096L557.7 1095.1L558.3 1094.1L558.8 1093.2L559.3 1092.2L559.8 1091.3L560.3 1090.3L560.8 1089.3L561.3 1088.4L561.8 1087.4L562.3 1086.5L562.8 1085.5L563.3 1084.6L563.8 1083.6L564.4 1082.7L564.9 1081.7L565.4 1080.7L565.9 1079.8L566.4 1078.8L566.9 1077.9L567.4 1076.9L567.9 1076L568.4 1075L568.9 1074.1L569.4 1073.1L569.9 1072.2L570.4 1071.2L571 1070.2L571.5 1069.3L572 1068.3L572.5 1067.4L573 1066.4L573.5 1065.5L574 1064.5L574.5 1063.6L575.1 1062.6L575.6 1061.6L576.1 1060.7L576.6 1059.7L577.1 1058.8L577.7 1057.8L578.2 1056.9L578.7 1055.9L579.2 1055L579.8 1054L580.3 1053.1L580.8 1052.1L581.3 1051.1L581.9 1050.2L582.4 1049.2L582.9 1048.3L583.5 1047.3L584 1046.4L584.6 1045.4L585.1 1044.5L585.6 1043.5L586.2 1042.6L586.7 1041.6L587.3 1040.6L587.8 1039.7L588.4 1038.7L588.9 1037.8L589.5 1036.8L590.1 1035.9L590.6 1034.9L591.2 1034L591.8 1033L592.3 1032L592.9 1031.1L593.5 1030.1L594 1029.2L594.6 1028.2L595.2 1027.3L595.8 1026.3L596.4 1025.4L597 1024.4L597.6 1023.5L598.2 1022.5L598.8 1021.5L599.4 1020.6L600 1019.6L600.6 1018.7L601.2 1017.7L601.8 1016.8L602.4 1015.8L603 1014.9L603.6 1013.9L604.2 1012.9L604.8 1012L605.4 1011L606 1010.1L606.6 1009.1L607.3 1008.2L607.9 1007.2L608.5 1006.3L609.1 1005.3L609.7 1004.4L610.3 1003.4L610.9 1002.4L611.6 1001.5L612.2 1000.5L612.8 999.6L613.4 998.6L614.1 997.7L614.7 996.7L615.4 995.8L616 994.8L616.7 993.9L617.3 992.9L618 991.9L618.7 991L619.4 990L620 989.1L620.7 988.1L621.4 987.2L622.1 986.2L622.9 985.3L623.6 984.3L624.3 983.3L625 982.4L625.8 981.4L626.5 980.5L627.3 979.5L628.1 978.6L628.9 977.6L629.7 976.7L630.5 975.7L631.3 974.8L632.1 973.8L633 972.8L633.8 971.9L634.7 970.9L635.5 970L636.4 969L637.3 968.1L638.3 967.1L639.2 966.2L640.2 965.2L641.2 964.2L642.2 963.3L643.3 962.3L644.4 961.4L645.5 960.4L646.6 959.5L647.8 958.5L648.9 957.6L650.1 956.6L651.3 955.7L652.6 954.7L653.8 953.7L655.1 952.8L656.4 951.8L657.7 950.9L659 949.9L660.3 949L661.7 948L663 947.1L664.4 946.1L665.8 945.2L667.2 944.2L668.6 943.2L670 942.3L671.4 941.3L672.8 940.4L674.2 939.4L675.6 938.5L677.1 937.5L678.5 936.6L679.9 935.6L681.4 934.6L682.8 933.7L684.3 932.7L685.7 931.8L687.1 930.8L688.6 929.9L690 928.9L691.4 928L692.8 927L694.2 926.1L695.6 925.1L697 924.1L698.4 923.2L699.8 922.2L701.1 921.3L702.5 920.3L703.8 919.4L705.1 918.4L706.4 917.5L707.8 916.5L709.1 915.5L710.5 914.6L711.8 913.6L713.2 912.7L714.6 911.7L716 910.8L717.4 909.8L718.8 908.9L720.3 907.9L721.7 907L723.1 906L724.6 905L726 904.1L727.5 903.1L728.9 902.2L730.4 901.2L731.8 900.3L733.3 899.3L734.7 898.4L736.2 897.4L737.6 896.4L739 895.5L740.5 894.5L741.9 893.6L743.3 892.6L744.7 891.7L746.1 890.7L747.5 889.8L748.9 888.8L750.3 887.9L751.6 886.9L753 885.9L754.3 885L755.6 884L756.9 883.1L758.2 882.1L759.4 881.2L760.7 880.2L761.9 879.3L763.1 878.3L764.3 877.4L765.4 876.4L766.6 875.4L767.7 874.5L768.8 873.5L769.8 872.6L770.9 871.6L771.9 870.7L772.8 869.7L773.8 868.8L774.7 867.8L775.6 866.8L776.4 865.9L777.3 864.9L778.1 864L778.9 863L779.6 862.1L780.4 861.1L781.1 860.2L781.8 859.2L782.5 858.3L783.2 857.3L783.9 856.3L784.5 855.4L785.2 854.4L785.8 853.5L786.5 852.5L787.1 851.6L787.8 850.6L788.4 849.7L789 848.7L789.7 847.7L790.3 846.8L791 845.8L791.6 844.9L792.3 843.9L793 843L793.6 842L794.3 841.1L795.1 840.1L795.8 839.2L796.5 838.2L797.3 837.2L798.1 836.3L798.9 835.3L799.7 834.4L800.5 833.4L801.3 832.5L802.2 831.5L803.1 830.6L803.9 829.6L804.8 828.7L805.7 827.7L806.6 826.7L807.5 825.8L808.4 824.8L809.4 823.9L810.3 822.9L811.2 822L812.1 821L813.1 820.1L814 819.1L814.9 818.1L815.9 817.2L816.8 816.2L817.7 815.3L818.7 814.3L819.6 813.4L820.5 812.4L821.4 811.5L822.3 810.5L823.2 809.6L824.1 808.6L825 807.6L825.9 806.7L826.8 805.7L827.7 804.8L828.6 803.8L829.5 802.9L830.5 801.9L831.4 801L832.4 800L833.3 799L834.4 798.1L835.5 797.1L836.7 796.2L838.1 795.2L839.6 794.3L841.4 793.3L843.4 792.4L845.8 791.4L848.6 790.5L852 789.5"/>
<path d="M149.8 1361.8L155 1362.1L160.1 1362.3L165.3 1372.9L170.5 1383.6L175.6 1375.2L180.8 1366.8L185.9 1364L191.1 1361.1L196.3 1357.1L201.4 1353.1L206.6 1352.3L211.8 1351.4L216.9 1352.9L222.1 1354.5L227.3 1364.1L232.4 1373.8L237.6 1377.6L242.8 1381.5L247.9 1371.2L253.1 1360.9L258.2 1362.9L263.4 1364.9L268.6 1361.4L273.7 1357.9L278.9 1362L284.1 1366.1L289.2 1364.8L294.4 1363.5L299.6 1369.9L304.7 1376.3L309.9 1369L315 1361.8L320.2 1365.1L325.4 1368.4L330.5 1365.5L335.7 1362.5L340.9 1362.1L346 1361.7L351.2 1408.4L356.4 1435.7L361.5 1408.9L366.7 1362.8L371.9 1364L377 1365.2L382.2 1362.3L387.3 1359.5L392.5 1360.4L397.7 1361.4L402.8 1365.3L408 1369.2L413.2 1369.3L418.3 1369.5L423.5 1360.8L428.7 1352.1L433.8 1359L439 1365.8L444.1 1361.6L449.3 1356.4L454.5 1349.8L459.6 1335.2L464.8 1320.1L470 1306L475.1 1292.9L480.3 1281L485.5 1270.2L487.6 1266L488.1 1265L488.6 1264.1L489.1 1263.1L489.6 1262.2L490.1 1261.2L490.6 1260.3L491.1 1259.3L491.6 1258.4L492.1 1257.4L492.6 1256.5L493.1 1255.5L493.6 1254.5L494.1 1253.6L494.6 1252.6L495.1 1251.7L495.6 1250.7L496.1 1249.8L496.6 1248.8L497.1 1247.9L497.6 1246.9L498.1 1245.9L498.6 1245L499.1 1244L499.6 1243.1L500.1 1242.1L500.6 1241.2L501.1 1240.2L501.6 1239.3L502.1 1238.3L502.6 1237.4L503.1 1236.4L503.5 1235.4L504 1234.5L504.5 1233.5L505 1232.6L505.5 1231.6L506 1230.7L506.5 1229.7L507 1228.8L507.5 1227.8L508 1226.8L508.5 1225.9L509 1224.9L509.5 1224L509.9 1223L510.4 1222.1L510.9 1221.1L511.4 1220.2L511.9 1219.2L512.4 1218.3L512.9 1217.3L513.4 1216.3L513.9 1215.4L514.3 1214.4L514.8 1213.5L515.3 1212.5L515.8 1211.6L516.3 1210.6L516.8 1209.7L517.2 1208.7L517.7 1207.8L518.2 1206.8L518.7 1205.8L519.2 1204.9L519.7 1203.9L520.1 1203L520.6 1202L521.1 1201.1L521.6 1200.1L522.1 1199.2L522.5 1198.2L523 1197.2L523.5 1196.3L524 1195.3L524.4 1194.4L524.9 1193.4L525.4 1192.5L525.9 1191.5L526.3 1190.6L526.8 1189.6L527.3 1188.7L527.8 1187.7L528.2 1186.7L528.7 1185.8L529.2 1184.8L529.6 1183.9L530.1 1182.9L530.6 1182L531 1181L531.5 1180.1L532 1179.1L532.5 1178.1L532.9 1177.2L533.4 1176.2L533.9 1175.3L534.3 1174.3L534.8 1173.4L535.3 1172.4L535.7 1171.5L536.2 1170.5L536.7 1169.6L537.1 1168.6L537.6 1167.6L538.1 1166.7L538.5 1165.7L539 1164.8L539.5 1163.8L539.9 1162.9L540.4 1161.9L540.9 1161L541.3 1160L541.8 1159.1L542.3 1158.1L542.7 1157.1L543.2 1156.2L543.7 1155.2L544.1 1154.3L544.6 1153.3L545.1 1152.4L545.5 1151.4L546 1150.5L546.5 1149.5L546.9 1148.5L547.4 1147.6L547.9 1146.6L548.3 1145.7L548.8 1144.7L549.3 1143.8L549.7 1142.8L550.2 1141.9L550.7 1140.9L551.1 1140L551.6 1139L552.1 1138L552.5 1137.1L553 1136.1L553.5 1135.2L554 1134.2L554.4 1133.3L554.9 1132.3L555.4 1131.4L555.8 1130.4L556.3 1129.4L556.8 1128.5L557.3 1127.5L557.7 1126.6L558.2 1125.6L558.7 1124.7L559.2 1123.7L559.6 1122.8L560.1 1121.8L560.6 1120.9L561.1 1119.9L561.6 1118.9L562 1118L562.5 1117L563 1116.1L563.5 1115.1L564 1114.2L564.4 1113.2L564.9 1112.3L565.4 1111.3L565.9 1110.3L566.4 1109.4L566.9 1108.4L567.4 1107.5L567.8 1106.5L568.3 1105.6L568.8 1104.6L569.3 1103.7L569.8 1102.7L570.3 1101.8L570.7 1100.8L571.2 1099.8L571.7 1098.9L572.2 1097.9L572.7 1097L573.1 1096L573.6 1095.1L574.1 1094.1L574.6 1093.2L575.1 1092.2L575.5 1091.3L576 1090.3L576.5 1089.3L577 1088.4L577.4 1087.4L577.9 1086.5L578.4 1085.5L578.9 1084.6L579.3 1083.6L579.8 1082.7L580.3 1081.7L580.8 1080.7L581.2 1079.8L581.7 1078.8L582.2 1077.9L582.7 1076.9L583.2 1076L583.6 1075L584.1 1074.1L584.6 1073.1L585.1 1072.2L585.5 1071.2L586 1070.2L586.5 1069.3L587 1068.3L587.5 1067.4L588 1066.4L588.4 1065.5L588.9 1064.5L589.4 1063.6L589.9 1062.6L590.4 1061.6L590.9 1060.7L591.4 1059.7L591.8 1058.8L592.3 1057.8L592.8 1056.9L593.3 1055.9L593.8 1055L594.3 1054L594.8 1053.1L595.3 1052.1L595.8 1051.1L596.3 1050.2L596.8 1049.2L597.3 1048.3L597.8 1047.3L598.4 1046.4L598.9 1045.4L599.4 1044.5L599.9 1043.5L600.4 1042.6L600.9 1041.6L601.5 1040.6L602 1039.7L602.5 1038.7L603 1037.8L603.6 1036.8L604.1 1035.9L604.6 1034.9L605.2 1034L605.7 1033L606.2 1032L606.8 1031.1L607.3 1030.1L607.9 1029.2L608.4 1028.2L609 1027.3L609.5 1026.3L610.1 1025.4L610.7 1024.4L611.2 1023.5L611.8 1022.5L612.4 1021.5L612.9 1020.6L613.5 1019.6L614.1 1018.7L614.7 1017.7L615.3 1016.8L615.8 1015.8L616.4 1014.9L617 1013.9L617.6 1012.9L618.1 1012L618.7 1011L619.3 1010.1L619.9 1009.1L620.5 1008.2L621 1007.2L621.6 1006.3L622.2 1005.3L622.8 1004.4L623.4 1003.4L624 1002.4L624.6 1001.5L625.2 1000.5L625.8 999.6L626.4 998.6L627 997.7L627.6 996.7L628.2 995.8L628.8 994.8L629.5 993.9L630.1 992.9L630.7 991.9L631.4 991L632 990L632.7 989.1L633.4 988.1L634 987.2L634.7 986.2L635.4 985.3L636.1 984.3L636.8 983.3L637.5 982.4L638.3 981.4L639 980.5L639.7 979.5L640.5 978.6L641.3 977.6L642 976.7L642.8 975.7L643.6 974.8L644.4 973.8L645.2 972.8L646.1 971.9L646.9 970.9L647.8 970L648.7 969L649.5 968.1L650.4 967.1L651.4 966.2L652.3 965.2L653.3 964.2L654.4 963.3L655.4 962.3L656.5 961.4L657.6 960.4L658.8 959.5L659.9 958.5L661.1 957.6L662.3 956.6L663.5 955.7L664.8 954.7L666 953.7L667.3 952.8L668.6 951.8L670 950.9L671.3 949.9L672.7 949L674 948L675.4 947.1L676.8 946.1L678.2 945.2L679.6 944.2L681.1 943.2L682.5 942.3L683.9 941.3L685.4 940.4L686.9 939.4L688.3 938.5L689.8 937.5L691.3 936.6L692.7 935.6L694.2 934.6L695.7 933.7L697.2 932.7L698.6 931.8L700.1 930.8L701.6 929.9L703.1 928.9L704.5 928L706 927L707.4 926.1L708.9 925.1L710.3 924.1L711.7 923.2L713.2 922.2L714.6 921.3L716 920.3L717.3 919.4L718.7 918.4L720.1 917.5L721.4 916.5L722.8 915.5L724.2 914.6L725.7 913.6L727.1 912.7L728.6 911.7L730 910.8L731.5 909.8L733 908.9L734.5 907.9L736 907L737.5 906L739 905L740.6 904.1L742.1 903.1L743.6 902.2L745.2 901.2L746.7 900.3L748.2 899.3L749.8 898.4L751.3 897.4L752.8 896.4L754.3 895.5L755.9 894.5L757.4 893.6L758.9 892.6L760.4 891.7L761.8 890.7L763.3 889.8L764.8 888.8L766.2 887.9L767.7 886.9L769.1 885.9L770.5 885L771.9 884L773.2 883.1L774.6 882.1L775.9 881.2L777.2 880.2L778.5 879.3L779.7 878.3L781 877.4L782.2 876.4L783.4 875.4L784.5 874.5L785.6 873.5L786.7 872.6L787.8 871.6L788.8 870.7L789.8 869.7L790.8 868.8L791.7 867.8L792.6 866.8L793.4 865.9L794.3 864.9L795.1 864L795.9 863L796.7 862.1L797.4 861.1L798.1 860.2L798.9 859.2L799.6 858.3L800.3 857.3L800.9 856.3L801.6 855.4L802.2 854.4L802.9 853.5L803.5 852.5L804.2 851.6L804.8 850.6L805.4 849.7L806.1 848.7L806.7 847.7L807.3 846.8L808 845.8L808.6 844.9L809.3 843.9L809.9 843L810.6 842L811.3 841.1L812 840.1L812.7 839.2L813.4 838.2L814.2 837.2L815 836.3L815.8 835.3L816.6 834.4L817.4 833.4L818.2 832.5L819 831.5L819.9 830.6L820.7 829.6L821.6 828.7L822.5 827.7L823.3 826.7L824.2 825.8L825.1 824.8L826 823.9L826.9 822.9L827.8 822L828.7 821L829.6 820.1L830.5 819.1L831.4 818.1L832.4 817.2L833.3 816.2L834.2 815.3L835.1 814.3L836 813.4L836.9 812.4L837.7 811.5L838.6 810.5L839.5 809.6L840.4 808.6L841.3 807.6L842.1 806.7L843 805.7L843.9 804.8L844.8 803.8L845.7 802.9L846.6 801.9L847.5 801L848.4 800L849.4 799L850.4 798.1L851.5 797.1L852.7 796.2L854 795.2L855.4 794.3L857.1 793.3L859 792.4L861.3 791.4L863.9 790.5L867.1 789.5"/>
<path d="M149.8 1360.2L155 1363.8L160.1 1367.5L165.3 1363.9L170.5 1360.3L175.6 1363.7L180.8 1367.1L185.9 1363.9L191.1 1360.7L196.3 1356.3L201.4 1351.8L206.6 1356.3L211.8 1360.8L216.9 1360.5L222.1 1360.2L227.3 1360.5L232.4 1360.7L237.6 1364.9L242.8 1369.1L247.9 1364.2L253.1 1359.4L258.2 1362.2L263.4 1365L268.6 1367.3L273.7 1369.5L278.9 1395.2L284.1 1420.8L289.2 1393L294.4 1365.2L299.6 1361.5L304.7 1357.9L309.9 1360.8L315 1363.8L320.2 1365.6L325.4 1367.4L330.5 1360L335.7 1352.6L340.9 1354.4L346 1356.1L351.2 1355.1L356.4 1354L361.5 1356.5L366.7 1358.9L371.9 1361.6L377 1364.3L382.2 1365.4L387.3 1366.6L392.5 1366.1L397.7 1365.5L402.8 1361L408 1356.4L413.2 1394.3L418.3 1432.1L423.5 1403.3L428.7 1374.5L433.8 1369.1L439 1363.8L444.1 1368.9L449.3 1374L454.5 1368.1L459.6 1362.2L464.8 1366.7L470 1365L475.1 1352.1L480.3 1337.4L485.5 1323.1L490.6 1309.5L495.8 1296.6L501 1284.3L506.1 1272.8L509.3 1266L509.8 1265L510.2 1264.1L510.7 1263.1L511.1 1262.2L511.6 1261.2L512 1260.3L512.5 1259.3L513 1258.4L513.4 1257.4L513.9 1256.5L514.3 1255.5L514.8 1254.5L515.2 1253.6L515.7 1252.6L516.2 1251.7L516.6 1250.7L517.1 1249.8L517.5 1248.8L518 1247.9L518.4 1246.9L518.9 1245.9L519.3 1245L519.8 1244L520.2 1243.1L520.7 1242.1L521.2 1241.2L521.6 1240.2L522.1 1239.3L522.5 1238.3L523 1237.4L523.4 1236.4L523.9 1235.4L524.3 1234.5L524.8 1233.5L525.2 1232.6L525.7 1231.6L526.2 1230.7L526.6 1229.7L527.1 1228.8L527.5 1227.8L528 1226.8L528.4 1225.9L528.9 1224.9L529.3 1224L529.8 1223L530.2 1222.1L530.7 1221.1L531.1 1220.2L531.6 1219.2L532 1218.3L532.5 1217.3L532.9 1216.3L533.4 1215.4L533.8 1214.4L534.3 1213.5L534.7 1212.5L535.2 1211.6L535.6 1210.6L536.1 1209.7L536.5 1208.7L537 1207.8L537.4 1206.8L537.9 1205.8L538.3 1204.9L538.8 1203.9L539.2 1203L539.7 1202L540.1 1201.1L540.6 1200.1L541 1199.2L541.5 1198.2L541.9 1197.2L542.4 1196.3L542.8 1195.3L543.2 1194.4L543.7 1193.4L544.1 1192.5L544.6 1191.5L545 1190.6L545.5 1189.6L545.9 1188.7L546.4 1187.7L546.8 1186.7L547.2 1185.8L547.7 1184.8L548.1 1183.9L548.6 1182.9L549 1182L549.5 1181L549.9 1180.1L550.3 1179.1L550.8 1178.1L551.2 1177.2L551.7 1176.2L552.1 1175.3L552.5 1174.3L553 1173.4L553.4 1172.4L553.9 1171.5L554.3 1170.5L554.8 1169.6L555.2 1168.6L555.6 1167.6L556.1 1166.7L556.5 1165.7L557 1164.8L557.4 1163.8L557.8 1162.9L558.3 1161.9L558.7 1161L559.2 1160L559.6 1159.1L560 1158.1L560.5 1157.1L560.9 1156.2L561.4 1155.2L561.8 1154.3L562.3 1153.3L562.7 1152.4L563.1 1151.4L563.6 1150.5L564 1149.5L564.5 1148.5L564.9 1147.6L565.3 1146.6L565.8 1145.7L566.2 1144.7L566.7 1143.8L567.1 1142.8L567.6 1141.9L568 1140.9L568.4 1140L568.9 1139L569.3 1138L569.8 1137.1L570.2 1136.1L570.7 1135.2L571.1 1134.2L571.6 1133.3L572 1132.3L572.4 1131.4L572.9 1130.4L573.3 1129.4L573.8 1128.5L574.2 1127.5L574.7 1126.6L575.1 1125.6L575.6 1124.7L576 1123.7L576.5 1122.8L576.9 1121.8L577.4 1120.9L577.8 1119.9L578.3 1118.9L578.7 1118L579.2 1117L579.6 1116.1L580.1 1115.1L580.5 1114.2L581 1113.2L581.4 1112.3L581.9 1111.3L582.3 1110.3L582.8 1109.4L583.2 1108.4L583.7 1107.5L584.1 1106.5L584.6 1105.6L585 1104.6L585.5 1103.7L585.9 1102.7L586.4 1101.8L586.8 1100.8L587.3 1099.8L587.7 1098.9L588.1 1097.9L588.6 1097L589 1096L589.5 1095.1L589.9 1094.1L590.3 1093.2L590.8 1092.2L591.2 1091.3L591.7 1090.3L592.1 1089.3L592.5 1088.4L593 1087.4L593.4 1086.5L593.8 1085.5L594.3 1084.6L594.7 1083.6L595.1 1082.7L595.6 1081.7L596 1080.7L596.4 1079.8L596.9 1078.8L597.3 1077.9L597.7 1076.9L598.2 1076L598.6 1075L599 1074.1L599.5 1073.1L599.9 1072.2L600.3 1071.2L600.8 1070.2L601.2 1069.3L601.6 1068.3L602.1 1067.4L602.5 1066.4L603 1065.5L603.4 1064.5L603.8 1063.6L604.3 1062.6L604.7 1061.6L605.2 1060.7L605.6 1059.7L606.1 1058.8L606.5 1057.8L607 1056.9L607.4 1055.9L607.9 1055L608.3 1054L608.8 1053.1L609.2 1052.1L609.7 1051.1L610.1 1050.2L610.6 1049.2L611.1 1048.3L611.5 1047.3L612 1046.4L612.5 1045.4L613 1044.5L613.4 1043.5L613.9 1042.6L614.4 1041.6L614.9 1040.6L615.4 1039.7L615.8 1038.7L616.3 1037.8L616.8 1036.8L617.3 1035.9L617.8 1034.9L618.3 1034L618.8 1033L619.3 1032L619.8 1031.1L620.3 1030.1L620.8 1029.2L621.4 1028.2L621.9 1027.3L622.4 1026.3L622.9 1025.4L623.5 1024.4L624 1023.5L624.5 1022.5L625.1 1021.5L625.6 1020.6L626.2 1019.6L626.7 1018.7L627.3 1017.7L627.8 1016.8L628.4 1015.8L628.9 1014.9L629.5 1013.9L630 1012.9L630.6 1012L631.1 1011L631.7 1010.1L632.3 1009.1L632.8 1008.2L633.4 1007.2L634 1006.3L634.5 1005.3L635.1 1004.4L635.7 1003.4L636.3 1002.4L636.8 1001.5L637.4 1000.5L638 999.6L638.6 998.6L639.2 997.7L639.8 996.7L640.4 995.8L641.1 994.8L641.7 993.9L642.3 992.9L643 991.9L643.6 991L644.3 990L644.9 989.1L645.6 988.1L646.2 987.2L646.9 986.2L647.6 985.3L648.3 984.3L649 983.3L649.7 982.4L650.5 981.4L651.2 980.5L651.9 979.5L652.7 978.6L653.5 977.6L654.2 976.7L655 975.7L655.8 974.8L656.6 973.8L657.4 972.8L658.3 971.9L659.1 970.9L660 970L660.9 969L661.7 968.1L662.6 967.1L663.6 966.2L664.6 965.2L665.6 964.2L666.6 963.3L667.6 962.3L668.7 961.4L669.9 960.4L671 959.5L672.2 958.5L673.4 957.6L674.6 956.6L675.8 955.7L677.1 954.7L678.4 953.7L679.7 952.8L681 951.8L682.4 950.9L683.7 949.9L685.1 949L686.5 948L687.9 947.1L689.3 946.1L690.7 945.2L692.2 944.2L693.7 943.2L695.1 942.3L696.6 941.3L698.1 940.4L699.6 939.4L701.1 938.5L702.6 937.5L704.1 936.6L705.6 935.6L707.1 934.6L708.6 933.7L710.1 932.7L711.6 931.8L713.2 930.8L714.7 929.9L716.2 928.9L717.7 928L719.2 927L720.7 926.1L722.2 925.1L723.6 924.1L725.1 923.2L726.6 922.2L728 921.3L729.5 920.3L730.9 919.4L732.3 918.4L733.7 917.5L735.1 916.5L736.6 915.5L738 914.6L739.5 913.6L741 912.7L742.5 911.7L744.1 910.8L745.6 909.8L747.2 908.9L748.7 907.9L750.3 907L751.9 906L753.5 905L755.1 904.1L756.7 903.1L758.3 902.2L759.9 901.2L761.5 900.3L763.1 899.3L764.8 898.4L766.4 897.4L768 896.4L769.6 895.5L771.2 894.5L772.8 893.6L774.4 892.6L775.9 891.7L777.5 890.7L779 889.8L780.6 888.8L782.1 887.9L783.6 886.9L785.1 885.9L786.6 885L788 884L789.5 883.1L790.9 882.1L792.3 881.2L793.6 880.2L795 879.3L796.3 878.3L797.6 877.4L798.9 876.4L800.1 875.4L801.3 874.5L802.4 873.5L803.6 872.6L804.7 871.6L805.7 870.7L806.8 869.7L807.7 868.8L808.7 867.8L809.6 866.8L810.5 865.9L811.4 864.9L812.2 864L813 863L813.8 862.1L814.6 861.1L815.3 860.2L816.1 859.2L816.8 858.3L817.5 857.3L818.2 856.3L818.8 855.4L819.5 854.4L820.2 853.5L820.8 852.5L821.5 851.6L822.1 850.6L822.8 849.7L823.4 848.7L824.1 847.7L824.7 846.8L825.3 845.8L826 844.9L826.6 843.9L827.3 843L828 842L828.7 841.1L829.3 840.1L830.1 839.2L830.8 838.2L831.5 837.2L832.3 836.3L833 835.3L833.8 834.4L834.6 833.4L835.4 832.5L836.2 831.5L837 830.6L837.8 829.6L838.6 828.7L839.5 827.7L840.3 826.7L841.1 825.8L841.9 824.8L842.8 823.9L843.6 822.9L844.5 822L845.3 821L846.2 820.1L847 819.1L847.8 818.1L848.7 817.2L849.5 816.2L850.4 815.3L851.2 814.3L852.1 813.4L852.9 812.4L853.7 811.5L854.6 810.5L855.4 809.6L856.2 808.6L857 807.6L857.9 806.7L858.7 805.7L859.5 804.8L860.4 803.8L861.2 802.9L862 801.9L862.9 801L863.8 800L864.7 799L865.7 798.1L866.7 797.1L867.8 796.2L869.1 795.2L870.5 794.3L872.2 793.3L874.1 792.4L876.4 791.4L879 790.5L882.2 789.5"/>
<path d="M149.8 1361.7L155 1366.4L160.1 1371.2L165.3 1360.9L170.5 1350.7L175.6 1353.7L180.8 1356.7L185.9 1361.4L191.1 1366L196.3 1364.2L201.4 1362.5L206.6 1367.1L211.8 1371.7L216.9 1385.3L222.1 1399L227.3 1376.2L232.4 1353.4L237.6 1363.3L242.8 1373.2L247.9 1368.4L253.1 1363.6L258.2 1361.5L263.4 1359.3L268.6 1355.9L273.7 1352.6L278.9 1351.5L284.1 1350.3L289.2 1357.1L294.4 1363.8L299.6 1364.9L304.7 1365.9L309.9 1361.5L315 1357L320.2 1360.1L325.4 1363.1L330.5 1362.9L335.7 1362.7L340.9 1357.5L346 1352.3L351.2 1350.1L356.4 1347.8L361.5 1353.1L366.7 1358.4L371.9 1360.1L377 1361.8L382.2 1379.2L387.3 1396.6L392.5 1385.6L397.7 1374.5L402.8 1367.5L408 1360.5L413.2 1364.4L418.3 1368.3L423.5 1355.4L428.7 1342.6L433.8 1348.8L439 1355L444.1 1357.2L449.3 1359.3L454.5 1360.6L459.6 1361.8L464.8 1370.5L470 1379.1L475.1 1367.1L480.3 1355L485.5 1351.5L490.6 1347.8L495.8 1350.7L501 1341.7L506.1 1329.3L511.3 1316.8L516.4 1304.3L521.6 1291.9L526.8 1279.5L531.9 1267.1L532.4 1266L532.8 1265L533.2 1264.1L533.6 1263.1L534 1262.2L534.4 1261.2L534.8 1260.3L535.2 1259.3L535.6 1258.4L536 1257.4L536.4 1256.5L536.8 1255.5L537.2 1254.5L537.6 1253.6L538 1252.6L538.4 1251.7L538.8 1250.7L539.2 1249.8L539.6 1248.8L540 1247.9L540.4 1246.9L540.8 1245.9L541.2 1245L541.6 1244L542 1243.1L542.4 1242.1L542.8 1241.2L543.2 1240.2L543.6 1239.3L544 1238.3L544.4 1237.4L544.8 1236.4L545.2 1235.4L545.6 1234.5L546 1233.5L546.4 1232.6L546.8 1231.6L547.2 1230.7L547.6 1229.7L548 1228.8L548.4 1227.8L548.8 1226.8L549.2 1225.9L549.7 1224.9L550.1 1224L550.5 1223L550.9 1222.1L551.3 1221.1L551.7 1220.2L552.1 1219.2L552.5 1218.3L552.9 1217.3L553.3 1216.3L553.7 1215.4L554.1 1214.4L554.5 1213.5L554.9 1212.5L555.3 1211.6L555.7 1210.6L556.1 1209.7L556.5 1208.7L556.9 1207.8L557.3 1206.8L557.7 1205.8L558.1 1204.9L558.6 1203.9L559 1203L559.4 1202L559.8 1201.1L560.2 1200.1L560.6 1199.2L561 1198.2L561.4 1197.2L561.8 1196.3L562.2 1195.3L562.6 1194.4L563 1193.4L563.4 1192.5L563.8 1191.5L564.2 1190.6L564.6 1189.6L565.1 1188.7L565.5 1187.7L565.9 1186.7L566.3 1185.8L566.7 1184.8L567.1 1183.9L567.5 1182.9L567.9 1182L568.3 1181L568.7 1180.1L569.1 1179.1L569.5 1178.1L569.9 1177.2L570.3 1176.2L570.8 1175.3L571.2 1174.3L571.6 1173.4L572 1172.4L572.4 1171.5L572.8 1170.5L573.2 1169.6L573.6 1168.6L574 1167.6L574.4 1166.7L574.8 1165.7L575.2 1164.8L575.6 1163.8L576.1 1162.9L576.5 1161.9L576.9 1161L577.3 1160L577.7 1159.1L578.1 1158.1L578.5 1157.1L578.9 1156.2L579.3 1155.2L579.7 1154.3L580.1 1153.3L580.6 1152.4L581 1151.4L581.4 1150.5L581.8 1149.5L582.2 1148.5L582.6 1147.6L583 1146.6L583.4 1145.7L583.8 1144.7L584.2 1143.8L584.7 1142.8L585.1 1141.9L585.5 1140.9L585.9 1140L586.3 1139L586.7 1138L587.1 1137.1L587.5 1136.1L587.9 1135.2L588.4 1134.2L588.8 1133.3L589.2 1132.3L589.6 1131.4L590 1130.4L590.4 1129.4L590.8 1128.5L591.2 1127.5L591.6 1126.6L592.1 1125.6L592.5 1124.7L592.9 1123.7L593.3 1122.8L593.7 1121.8L594.1 1120.9L594.5 1119.9L594.9 1118.9L595.3 1118L595.8 1117L596.2 1116.1L596.6 1115.1L597 1114.2L597.4 1113.2L597.8 1112.3L598.2 1111.3L598.7 1110.3L599.1 1109.4L599.5 1108.4L599.9 1107.5L600.3 1106.5L600.7 1105.6L601.1 1104.6L601.5 1103.7L601.9 1102.7L602.3 1101.8L602.7 1100.8L603.1 1099.8L603.5 1098.9L603.9 1097.9L604.3 1097L604.7 1096L605.1 1095.1L605.5 1094.1L605.9 1093.2L606.3 1092.2L606.7 1091.3L607.1 1090.3L607.5 1089.3L607.8 1088.4L608.2 1087.4L608.6 1086.5L609 1085.5L609.4 1084.6L609.8 1083.6L610.1 1082.7L610.5 1081.7L610.9 1080.7L611.3 1079.8L611.7 1078.8L612 1077.9L612.4 1076.9L612.8 1076L613.2 1075L613.6 1074.1L614 1073.1L614.3 1072.2L614.7 1071.2L615.1 1070.2L615.5 1069.3L615.9 1068.3L616.3 1067.4L616.6 1066.4L617 1065.5L617.4 1064.5L617.8 1063.6L618.2 1062.6L618.6 1061.6L619 1060.7L619.4 1059.7L619.8 1058.8L620.2 1057.8L620.6 1056.9L621 1055.9L621.4 1055L621.8 1054L622.2 1053.1L622.6 1052.1L623 1051.1L623.4 1050.2L623.8 1049.2L624.2 1048.3L624.7 1047.3L625.1 1046.4L625.5 1045.4L625.9 1044.5L626.4 1043.5L626.8 1042.6L627.2 1041.6L627.7 1040.6L628.1 1039.7L628.5 1038.7L629 1037.8L629.4 1036.8L629.9 1035.9L630.3 1034.9L630.8 1034L631.3 1033L631.7 1032L632.2 1031.1L632.7 1030.1L633.1 1029.2L633.6 1028.2L634.1 1027.3L634.6 1026.3L635.1 1025.4L635.6 1024.4L636.1 1023.5L636.6 1022.5L637.1 1021.5L637.6 1020.6L638.1 1019.6L638.6 1018.7L639.2 1017.7L639.7 1016.8L640.2 1015.8L640.7 1014.9L641.3 1013.9L641.8 1012.9L642.3 1012L642.9 1011L643.4 1010.1L644 1009.1L644.5 1008.2L645.1 1007.2L645.7 1006.3L646.2 1005.3L646.8 1004.4L647.4 1003.4L647.9 1002.4L648.5 1001.5L649.1 1000.5L649.7 999.6L650.3 998.6L650.9 997.7L651.5 996.7L652.2 995.8L652.8 994.8L653.4 993.9L654.1 992.9L654.7 991.9L655.4 991L656 990L656.7 989.1L657.4 988.1L658.1 987.2L658.8 986.2L659.5 985.3L660.2 984.3L660.9 983.3L661.7 982.4L662.4 981.4L663.2 980.5L663.9 979.5L664.7 978.6L665.5 977.6L666.3 976.7L667.1 975.7L667.9 974.8L668.7 973.8L669.6 972.8L670.4 971.9L671.3 970.9L672.1 970L673 969L673.9 968.1L674.9 967.1L675.8 966.2L676.8 965.2L677.8 964.2L678.9 963.3L680 962.3L681.1 961.4L682.3 960.4L683.4 959.5L684.7 958.5L685.9 957.6L687.2 956.6L688.4 955.7L689.7 954.7L691.1 953.7L692.4 952.8L693.8 951.8L695.2 950.9L696.6 949.9L698 949L699.5 948L701 947.1L702.4 946.1L703.9 945.2L705.4 944.2L707 943.2L708.5 942.3L710 941.3L711.6 940.4L713.1 939.4L714.7 938.5L716.2 937.5L717.8 936.6L719.4 935.6L721 934.6L722.5 933.7L724.1 932.7L725.7 931.8L727.3 930.8L728.8 929.9L730.4 928.9L732 928L733.5 927L735.1 926.1L736.6 925.1L738.2 924.1L739.7 923.2L741.2 922.2L742.7 921.3L744.2 920.3L745.7 919.4L747.2 918.4L748.6 917.5L750.1 916.5L751.6 915.5L753.1 914.6L754.7 913.6L756.2 912.7L757.8 911.7L759.4 910.8L761 909.8L762.7 908.9L764.3 907.9L766 907L767.6 906L769.3 905L771 904.1L772.7 903.1L774.4 902.2L776.1 901.2L777.8 900.3L779.5 899.3L781.1 898.4L782.8 897.4L784.5 896.4L786.2 895.5L787.9 894.5L789.5 893.6L791.2 892.6L792.9 891.7L794.5 890.7L796.1 889.8L797.7 888.8L799.3 887.9L800.9 886.9L802.4 885.9L803.9 885L805.4 884L806.9 883.1L808.4 882.1L809.8 881.2L811.2 880.2L812.6 879.3L813.9 878.3L815.3 877.4L816.5 876.4L817.8 875.4L819 874.5L820.1 873.5L821.3 872.6L822.4 871.6L823.4 870.7L824.4 869.7L825.4 868.8L826.3 867.8L827.2 866.8L828 865.9L828.8 864.9L829.6 864L830.4 863L831.1 862.1L831.9 861.1L832.6 860.2L833.3 859.2L833.9 858.3L834.6 857.3L835.2 856.3L835.8 855.4L836.5 854.4L837.1 853.5L837.7 852.5L838.3 851.6L838.9 850.6L839.5 849.7L840 848.7L840.6 847.7L841.2 846.8L841.8 845.8L842.4 844.9L843 843.9L843.6 843L844.2 842L844.9 841.1L845.5 840.1L846.2 839.2L846.9 838.2L847.6 837.2L848.3 836.3L849 835.3L849.8 834.4L850.5 833.4L851.3 832.5L852 831.5L852.8 830.6L853.6 829.6L854.4 828.7L855.2 827.7L856 826.7L856.8 825.8L857.6 824.8L858.4 823.9L859.2 822.9L860 822L860.9 821L861.7 820.1L862.5 819.1L863.3 818.1L864.2 817.2L865 816.2L865.8 815.3L866.6 814.3L867.4 813.4L868.3 812.4L869.1 811.5L869.9 810.5L870.7 809.6L871.5 808.6L872.3 807.6L873.1 806.7L873.9 805.7L874.7 804.8L875.5 803.8L876.3 802.9L877.1 801.9L878 801L878.9 800L879.9 799L881 798.1L882.2 797.1L883.6 796.2L885.2 795.2L887.2 794.3L889.5 793.3L892.4 792.4L895.9 791.4L900.2 790.5L905.5 789.5"/>
<path d="M149.8 1363.5L155 1360L160.1 1356.4L165.3 1364.9L170.5 1373.5L175.6 1388.5L180.8 1403.5L185.9 1385.4L191.1 1367.3L196.3 1373.5L201.4 1379.7L206.6 1372.4L211.8 1365L216.9 1368.2L222.1 1371.5L227.3 1366.7L232.4 1361.9L237.6 1367.4L242.8 1373L247.9 1364.7L253.1 1356.4L258.2 1363.1L263.4 1369.7L268.6 1365.7L273.7 1361.6L278.9 1365.1L284.1 1368.7L289.2 1367.6L294.4 1366.6L299.6 1361L304.7 1355.4L309.9 1359L315 1362.6L320.2 1364.9L325.4 1367.2L330.5 1370.4L335.7 1373.6L340.9 1364.6L346 1355.6L351.2 1357.2L356.4 1358.8L361.5 1362.7L366.7 1366.7L371.9 1364.5L377 1362.4L382.2 1367.2L387.3 1371.9L392.5 1371.8L397.7 1371.8L402.8 1371.1L408 1370.4L413.2 1366L418.3 1361.6L423.5 1361.8L428.7 1362L433.8 1365.9L439 1369.8L444.1 1364.3L449.3 1358.7L454.5 1358.6L459.6 1358.4L464.8 1360.7L470 1362.9L475.1 1359.7L480.3 1356.5L485.5 1361.4L490.6 1366.4L495.8 1365.7L501 1364.8L506.1 1362L511.3 1357.6L516.4 1351.5L521.6 1341L526.8 1329.1L531.9 1317L537.1 1304.9L542.3 1292.6L547.4 1280.3L552.6 1267.9L553.4 1266L553.8 1265L554.2 1264.1L554.6 1263.1L555 1262.2L555.4 1261.2L555.8 1260.3L556.2 1259.3L556.6 1258.4L557 1257.4L557.4 1256.5L557.8 1255.5L558.2 1254.5L558.6 1253.6L558.9 1252.6L559.3 1251.7L559.7 1250.7L560.1 1249.8L560.5 1248.8L560.9 1247.9L561.3 1246.9L561.7 1245.9L562.1 1245L562.5 1244L562.9 1243.1L563.3 1242.1L563.7 1241.2L564.1 1240.2L564.5 1239.3L564.9 1238.3L565.3 1237.4L565.6 1236.4L566 1235.4L566.4 1234.5L566.8 1233.5L567.2 1232.6L567.6 1231.6L568 1230.7L568.4 1229.7L568.8 1228.8L569.2 1227.8L569.6 1226.8L569.9 1225.9L570.3 1224.9L570.7 1224L571.1 1223L571.5 1222.1L571.9 1221.1L572.3 1220.2L572.7 1219.2L573.1 1218.3L573.4 1217.3L573.8 1216.3L574.2 1215.4L574.6 1214.4L575 1213.5L575.4 1212.5L575.8 1211.6L576.1 1210.6L576.5 1209.7L576.9 1208.7L577.3 1207.8L577.7 1206.8L578.1 1205.8L578.5 1204.9L578.8 1203.9L579.2 1203L579.6 1202L580 1201.1L580.4 1200.1L580.8 1199.2L581.1 1198.2L581.5 1197.2L581.9 1196.3L582.3 1195.3L582.7 1194.4L583 1193.4L583.4 1192.5L583.8 1191.5L584.2 1190.6L584.6 1189.6L584.9 1188.7L585.3 1187.7L585.7 1186.7L586.1 1185.8L586.5 1184.8L586.8 1183.9L587.2 1182.9L587.6 1182L588 1181L588.4 1180.1L588.7 1179.1L589.1 1178.1L589.5 1177.2L589.9 1176.2L590.2 1175.3L590.6 1174.3L591 1173.4L591.4 1172.4L591.7 1171.5L592.1 1170.5L592.5 1169.6L592.9 1168.6L593.2 1167.6L593.6 1166.7L594 1165.7L594.4 1164.8L594.7 1163.8L595.1 1162.9L595.5 1161.9L595.9 1161L596.3 1160L596.6 1159.1L597 1158.1L597.4 1157.1L597.8 1156.2L598.1 1155.2L598.5 1154.3L598.9 1153.3L599.3 1152.4L599.6 1151.4L600 1150.5L600.4 1149.5L600.7 1148.5L601.1 1147.6L601.5 1146.6L601.9 1145.7L602.2 1144.7L602.6 1143.8L603 1142.8L603.4 1141.9L603.7 1140.9L604.1 1140L604.5 1139L604.9 1138L605.2 1137.1L605.6 1136.1L606 1135.2L606.4 1134.2L606.7 1133.3L607.1 1132.3L607.5 1131.4L607.9 1130.4L608.2 1129.4L608.6 1128.5L609 1127.5L609.4 1126.6L609.7 1125.6L610.1 1124.7L610.5 1123.7L610.9 1122.8L611.2 1121.8L611.6 1120.9L612 1119.9L612.4 1118.9L612.8 1118L613.1 1117L613.5 1116.1L613.9 1115.1L614.3 1114.2L614.6 1113.2L615 1112.3L615.4 1111.3L615.8 1110.3L616.2 1109.4L616.5 1108.4L616.9 1107.5L617.3 1106.5L617.7 1105.6L618 1104.6L618.4 1103.7L618.8 1102.7L619.1 1101.8L619.5 1100.8L619.9 1099.8L620.2 1098.9L620.6 1097.9L621 1097L621.3 1096L621.7 1095.1L622 1094.1L622.4 1093.2L622.7 1092.2L623.1 1091.3L623.4 1090.3L623.8 1089.3L624.1 1088.4L624.5 1087.4L624.8 1086.5L625.2 1085.5L625.5 1084.6L625.8 1083.6L626.2 1082.7L626.5 1081.7L626.9 1080.7L627.2 1079.8L627.6 1078.8L627.9 1077.9L628.2 1076.9L628.6 1076L628.9 1075L629.3 1074.1L629.6 1073.1L630 1072.2L630.3 1071.2L630.6 1070.2L631 1069.3L631.3 1068.3L631.7 1067.4L632 1066.4L632.4 1065.5L632.7 1064.5L633.1 1063.6L633.4 1062.6L633.8 1061.6L634.1 1060.7L634.5 1059.7L634.8 1058.8L635.2 1057.8L635.6 1056.9L635.9 1055.9L636.3 1055L636.6 1054L637 1053.1L637.4 1052.1L637.7 1051.1L638.1 1050.2L638.5 1049.2L638.9 1048.3L639.3 1047.3L639.6 1046.4L640 1045.4L640.4 1044.5L640.8 1043.5L641.2 1042.6L641.6 1041.6L642 1040.6L642.4 1039.7L642.8 1038.7L643.2 1037.8L643.6 1036.8L644 1035.9L644.4 1034.9L644.9 1034L645.3 1033L645.7 1032L646.2 1031.1L646.6 1030.1L647 1029.2L647.5 1028.2L647.9 1027.3L648.4 1026.3L648.8 1025.4L649.3 1024.4L649.8 1023.5L650.2 1022.5L650.7 1021.5L651.2 1020.6L651.7 1019.6L652.2 1018.7L652.6 1017.7L653.1 1016.8L653.6 1015.8L654.1 1014.9L654.6 1013.9L655.2 1012.9L655.7 1012L656.2 1011L656.7 1010.1L657.2 1009.1L657.8 1008.2L658.3 1007.2L658.8 1006.3L659.4 1005.3L659.9 1004.4L660.5 1003.4L661.1 1002.4L661.6 1001.5L662.2 1000.5L662.8 999.6L663.4 998.6L664 997.7L664.6 996.7L665.2 995.8L665.8 994.8L666.4 993.9L667.1 992.9L667.7 991.9L668.4 991L669 990L669.7 989.1L670.4 988.1L671 987.2L671.7 986.2L672.4 985.3L673.1 984.3L673.9 983.3L674.6 982.4L675.3 981.4L676.1 980.5L676.8 979.5L677.6 978.6L678.4 977.6L679.2 976.7L680 975.7L680.8 974.8L681.6 973.8L682.5 972.8L683.3 971.9L684.2 970.9L685 970L685.9 969L686.8 968.1L687.8 967.1L688.7 966.2L689.7 965.2L690.8 964.2L691.8 963.3L693 962.3L694.1 961.4L695.3 960.4L696.5 959.5L697.7 958.5L699 957.6L700.3 956.6L701.7 955.7L703 954.7L704.4 953.7L705.8 952.8L707.2 951.8L708.7 950.9L710.1 949.9L711.6 949L713.1 948L714.7 947.1L716.2 946.1L717.8 945.2L719.3 944.2L720.9 943.2L722.5 942.3L724.1 941.3L725.7 940.4L727.4 939.4L729 938.5L730.6 937.5L732.3 936.6L733.9 935.6L735.6 934.6L737.2 933.7L738.9 932.7L740.5 931.8L742.1 930.8L743.8 929.9L745.4 928.9L747 928L748.7 927L750.3 926.1L751.9 925.1L753.5 924.1L755.1 923.2L756.6 922.2L758.2 921.3L759.7 920.3L761.2 919.4L762.8 918.4L764.3 917.5L765.8 916.5L767.3 915.5L768.9 914.6L770.5 913.6L772.1 912.7L773.7 911.7L775.3 910.8L777 909.8L778.7 908.9L780.3 907.9L782 907L783.7 906L785.5 905L787.2 904.1L788.9 903.1L790.6 902.2L792.4 901.2L794.1 900.3L795.8 899.3L797.6 898.4L799.3 897.4L801 896.4L802.7 895.5L804.4 894.5L806.1 893.6L807.8 892.6L809.5 891.7L811.2 890.7L812.8 889.8L814.4 888.8L816.1 887.9L817.7 886.9L819.2 885.9L820.8 885L822.3 884L823.8 883.1L825.3 882.1L826.7 881.2L828.1 880.2L829.5 879.3L830.9 878.3L832.2 877.4L833.5 876.4L834.7 875.4L835.9 874.5L837.1 873.5L838.2 872.6L839.3 871.6L840.3 870.7L841.3 869.7L842.3 868.8L843.2 867.8L844 866.8L844.9 865.9L845.7 864.9L846.5 864L847.2 863L847.9 862.1L848.6 861.1L849.3 860.2L850 859.2L850.6 858.3L851.3 857.3L851.9 856.3L852.5 855.4L853.1 854.4L853.7 853.5L854.3 852.5L854.8 851.6L855.4 850.6L856 849.7L856.5 848.7L857.1 847.7L857.7 846.8L858.2 845.8L858.8 844.9L859.4 843.9L860 843L860.6 842L861.2 841.1L861.8 840.1L862.5 839.2L863.1 838.2L863.8 837.2L864.5 836.3L865.2 835.3L865.9 834.4L866.6 833.4L867.4 832.5L868.1 831.5L868.9 830.6L869.6 829.6L870.4 828.7L871.2 827.7L872 826.7L872.8 825.8L873.5 824.8L874.3 823.9L875.1 822.9L875.9 822L876.7 821L877.5 820.1L878.3 819.1L879.1 818.1L879.9 817.2L880.7 816.2L881.5 815.3L882.3 814.3L883.1 813.4L883.9 812.4L884.7 811.5L885.5 810.5L886.3 809.6L887 808.6L887.8 807.6L888.6 806.7L889.4 805.7L890.2 804.8L890.9 803.8L891.7 802.9L892.5 801.9L893.4 801L894.2 800L895.1 799L896.1 798.1L897.1 797.1L898.3 796.2L899.6 795.2L901.2 794.3L903 793.3L905.2 792.4L907.8 791.4L911 790.5L914.8 789.5"/>
<path d="M149.8 1372.9L155 1370.4L160.1 1367.9L165.3 1368.6L170.5 1369.4L175.6 1370.3L180.8 1371.1L185.9 1380.1L191.1 1389L196.3 1386.1L201.4 1383.2L206.6 1382L211.8 1380.8L216.9 1382.6L222.1 1384.3L227.3 1376.7L232.4 1369L237.6 1372.5L242.8 1376L247.9 1376.8L253.1 1377.5L258.2 1375.6L263.4 1373.7L268.6 1379.1L273.7 1384.5L278.9 1384.3L284.1 1384.1L289.2 1384L294.4 1383.9L299.6 1378.8L304.7 1373.7L309.9 1374.2L315 1374.8L320.2 1373.9L325.4 1373.1L330.5 1371.2L335.7 1369.3L340.9 1378.4L346 1387.5L351.2 1384.5L356.4 1381.5L361.5 1378.9L366.7 1376.3L371.9 1381.8L377 1387.4L382.2 1384.4L387.3 1381.3L392.5 1375.6L397.7 1369.8L402.8 1369.5L408 1369.1L413.2 1369.2L418.3 1369.3L423.5 1373.2L428.7 1377L433.8 1378L439 1378.9L444.1 1374.1L449.3 1369.3L454.5 1374.7L459.6 1380.1L464.8 1377.5L470 1374.8L475.1 1371.2L480.3 1367.5L485.5 1373.8L490.6 1380.1L495.8 1381L501 1381.9L506.1 1379.6L511.3 1377.3L516.4 1374.9L521.6 1372.3L526.8 1371L531.9 1366.6L537.1 1358.5L542.3 1348L547.4 1336.6L552.6 1324.7L557.8 1312.3L562.9 1299.5L568.1 1286.3L573.2 1272.6L575.7 1266L576.1 1265L576.4 1264.1L576.8 1263.1L577.1 1262.2L577.5 1261.2L577.8 1260.3L578.1 1259.3L578.5 1258.4L578.8 1257.4L579.2 1256.5L579.5 1255.5L579.9 1254.5L580.2 1253.6L580.6 1252.6L580.9 1251.7L581.3 1250.7L581.6 1249.8L582 1248.8L582.3 1247.9L582.7 1246.9L583 1245.9L583.4 1245L583.7 1244L584.1 1243.1L584.4 1242.1L584.8 1241.2L585.1 1240.2L585.5 1239.3L585.8 1238.3L586.2 1237.4L586.5 1236.4L586.9 1235.4L587.2 1234.5L587.6 1233.5L587.9 1232.6L588.2 1231.6L588.6 1230.7L588.9 1229.7L589.3 1228.8L589.6 1227.8L590 1226.8L590.3 1225.9L590.7 1224.9L591 1224L591.4 1223L591.7 1222.1L592 1221.1L592.4 1220.2L592.7 1219.2L593.1 1218.3L593.4 1217.3L593.8 1216.3L594.1 1215.4L594.4 1214.4L594.8 1213.5L595.1 1212.5L595.5 1211.6L595.8 1210.6L596.2 1209.7L596.5 1208.7L596.8 1207.8L597.2 1206.8L597.5 1205.8L597.9 1204.9L598.2 1203.9L598.6 1203L598.9 1202L599.2 1201.1L599.6 1200.1L599.9 1199.2L600.2 1198.2L600.6 1197.2L600.9 1196.3L601.3 1195.3L601.6 1194.4L601.9 1193.4L602.3 1192.5L602.6 1191.5L602.9 1190.6L603.3 1189.6L603.6 1188.7L603.9 1187.7L604.3 1186.7L604.6 1185.8L605 1184.8L605.3 1183.9L605.6 1182.9L606 1182L606.3 1181L606.6 1180.1L607 1179.1L607.3 1178.1L607.6 1177.2L608 1176.2L608.3 1175.3L608.6 1174.3L609 1173.4L609.3 1172.4L609.6 1171.5L610 1170.5L610.3 1169.6L610.6 1168.6L611 1167.6L611.3 1166.7L611.6 1165.7L611.9 1164.8L612.3 1163.8L612.6 1162.9L612.9 1161.9L613.3 1161L613.6 1160L613.9 1159.1L614.3 1158.1L614.6 1157.1L614.9 1156.2L615.3 1155.2L615.6 1154.3L615.9 1153.3L616.3 1152.4L616.6 1151.4L616.9 1150.5L617.3 1149.5L617.6 1148.5L617.9 1147.6L618.3 1146.6L618.6 1145.7L618.9 1144.7L619.3 1143.8L619.6 1142.8L619.9 1141.9L620.3 1140.9L620.6 1140L621 1139L621.3 1138L621.6 1137.1L622 1136.1L622.3 1135.2L622.6 1134.2L623 1133.3L623.3 1132.3L623.6 1131.4L624 1130.4L624.3 1129.4L624.7 1128.5L625 1127.5L625.3 1126.6L625.7 1125.6L626 1124.7L626.4 1123.7L626.7 1122.8L627 1121.8L627.4 1120.9L627.7 1119.9L628.1 1118.9L628.4 1118L628.8 1117L629.1 1116.1L629.4 1115.1L629.8 1114.2L630.1 1113.2L630.5 1112.3L630.8 1111.3L631.2 1110.3L631.5 1109.4L631.9 1108.4L632.2 1107.5L632.6 1106.5L632.9 1105.6L633.3 1104.6L633.6 1103.7L633.9 1102.7L634.3 1101.8L634.6 1100.8L635 1099.8L635.3 1098.9L635.6 1097.9L636 1097L636.3 1096L636.6 1095.1L636.9 1094.1L637.3 1093.2L637.6 1092.2L637.9 1091.3L638.2 1090.3L638.6 1089.3L638.9 1088.4L639.2 1087.4L639.5 1086.5L639.8 1085.5L640.2 1084.6L640.5 1083.6L640.8 1082.7L641.1 1081.7L641.4 1080.7L641.8 1079.8L642.1 1078.8L642.4 1077.9L642.7 1076.9L643 1076L643.3 1075L643.7 1074.1L644 1073.1L644.3 1072.2L644.6 1071.2L645 1070.2L645.3 1069.3L645.6 1068.3L645.9 1067.4L646.3 1066.4L646.6 1065.5L646.9 1064.5L647.2 1063.6L647.6 1062.6L647.9 1061.6L648.2 1060.7L648.6 1059.7L648.9 1058.8L649.3 1057.8L649.6 1056.9L649.9 1055.9L650.3 1055L650.6 1054L651 1053.1L651.3 1052.1L651.7 1051.1L652 1050.2L652.4 1049.2L652.8 1048.3L653.1 1047.3L653.5 1046.4L653.9 1045.4L654.2 1044.5L654.6 1043.5L655 1042.6L655.4 1041.6L655.8 1040.6L656.2 1039.7L656.6 1038.7L657 1037.8L657.4 1036.8L657.8 1035.9L658.2 1034.9L658.6 1034L659 1033L659.4 1032L659.8 1031.1L660.3 1030.1L660.7 1029.2L661.1 1028.2L661.6 1027.3L662 1026.3L662.5 1025.4L662.9 1024.4L663.4 1023.5L663.8 1022.5L664.3 1021.5L664.8 1020.6L665.3 1019.6L665.8 1018.7L666.2 1017.7L666.7 1016.8L667.2 1015.8L667.7 1014.9L668.3 1013.9L668.8 1012.9L669.3 1012L669.8 1011L670.4 1010.1L670.9 1009.1L671.5 1008.2L672 1007.2L672.6 1006.3L673.2 1005.3L673.8 1004.4L674.3 1003.4L674.9 1002.4L675.5 1001.5L676.2 1000.5L676.8 999.6L677.4 998.6L678 997.7L678.7 996.7L679.3 995.8L680 994.8L680.7 993.9L681.3 992.9L682 991.9L682.7 991L683.4 990L684.2 989.1L684.9 988.1L685.6 987.2L686.4 986.2L687.1 985.3L687.9 984.3L688.6 983.3L689.4 982.4L690.2 981.4L691 980.5L691.8 979.5L692.7 978.6L693.5 977.6L694.3 976.7L695.2 975.7L696.1 974.8L696.9 973.8L697.8 972.8L698.7 971.9L699.6 970.9L700.6 970L701.5 969L702.4 968.1L703.4 967.1L704.4 966.2L705.5 965.2L706.6 964.2L707.7 963.3L708.9 962.3L710.1 961.4L711.3 960.4L712.6 959.5L713.9 958.5L715.2 957.6L716.6 956.6L718 955.7L719.4 954.7L720.9 953.7L722.3 952.8L723.8 951.8L725.3 950.9L726.9 949.9L728.4 949L730 948L731.6 947.1L733.2 946.1L734.8 945.2L736.5 944.2L738.1 943.2L739.8 942.3L741.4 941.3L743.1 940.4L744.8 939.4L746.5 938.5L748.2 937.5L749.9 936.6L751.6 935.6L753.3 934.6L755 933.7L756.7 932.7L758.4 931.8L760.1 930.8L761.7 929.9L763.4 928.9L765.1 928L766.8 927L768.4 926.1L770 925.1L771.7 924.1L773.3 923.2L774.9 922.2L776.4 921.3L778 920.3L779.5 919.4L781.1 918.4L782.6 917.5L784.1 916.5L785.6 915.5L787.2 914.6L788.8 913.6L790.4 912.7L792 911.7L793.6 910.8L795.2 909.8L796.9 908.9L798.5 907.9L800.2 907L801.9 906L803.6 905L805.2 904.1L806.9 903.1L808.6 902.2L810.3 901.2L812 900.3L813.7 899.3L815.4 898.4L817 897.4L818.7 896.4L820.4 895.5L822 894.5L823.7 893.6L825.3 892.6L827 891.7L828.6 890.7L830.2 889.8L831.7 888.8L833.3 887.9L834.8 886.9L836.4 885.9L837.8 885L839.3 884L840.8 883.1L842.2 882.1L843.6 881.2L845 880.2L846.3 879.3L847.6 878.3L848.9 877.4L850.1 876.4L851.3 875.4L852.5 874.5L853.6 873.5L854.7 872.6L855.7 871.6L856.7 870.7L857.7 869.7L858.6 868.8L859.5 867.8L860.3 866.8L861.1 865.9L861.9 864.9L862.6 864L863.4 863L864.1 862.1L864.7 861.1L865.4 860.2L866 859.2L866.7 858.3L867.3 857.3L867.9 856.3L868.5 855.4L869 854.4L869.6 853.5L870.2 852.5L870.7 851.6L871.3 850.6L871.8 849.7L872.4 848.7L872.9 847.7L873.4 846.8L874 845.8L874.6 844.9L875.1 843.9L875.7 843L876.3 842L876.9 841.1L877.5 840.1L878.1 839.2L878.7 838.2L879.4 837.2L880.1 836.3L880.8 835.3L881.5 834.4L882.2 833.4L883 832.5L883.7 831.5L884.4 830.6L885.2 829.6L886 828.7L886.7 827.7L887.5 826.7L888.3 825.8L889.1 824.8L889.9 823.9L890.7 822.9L891.5 822L892.3 821L893.1 820.1L893.9 819.1L894.7 818.1L895.5 817.2L896.3 816.2L897.1 815.3L897.9 814.3L898.7 813.4L899.5 812.4L900.3 811.5L901.1 810.5L901.9 809.6L902.6 808.6L903.4 807.6L904.2 806.7L905 805.7L905.8 804.8L906.5 803.8L907.3 802.9L908.2 801.9L909 801L909.9 800L910.8 799L911.9 798.1L913.1 797.1L914.4 796.2L916 795.2L917.9 794.3L920.2 793.3L923 792.4L926.4 791.4L930.6 790.5L935.7 789.5"/>
<path d="M149.8 1384.9L155 1380.2L160.1 1375.5L165.3 1370.1L170.5 1364.6L175.6 1387.2L180.8 1409.8L185.9 1388.8L191.1 1367.8L196.3 1371.5L201.4 1375.1L206.6 1380.4L211.8 1385.6L216.9 1382.4L222.1 1379.2L227.3 1381.9L232.4 1384.6L237.6 1378.1L242.8 1371.6L247.9 1378.7L253.1 1385.9L258.2 1376.7L263.4 1367.4L268.6 1370.2L273.7 1373L278.9 1382.7L284.1 1392.4L289.2 1381.9L294.4 1371.4L299.6 1368.6L304.7 1365.7L309.9 1374.4L315 1383.2L320.2 1376.6L325.4 1369.9L330.5 1380.3L335.7 1390.7L340.9 1383L346 1375.4L351.2 1382.5L356.4 1389.7L361.5 1381.7L366.7 1373.7L371.9 1382.2L377 1390.6L382.2 1393.8L387.3 1396.9L392.5 1385.6L397.7 1374.3L402.8 1367.3L408 1360.2L413.2 1371L418.3 1381.7L423.5 1376.4L428.7 1371.1L433.8 1373.8L439 1376.5L444.1 1378.1L449.3 1379.7L454.5 1376.2L459.6 1372.7L464.8 1368.9L470 1365L475.1 1375.8L480.3 1386.5L485.5 1379.8L490.6 1373.1L495.8 1373.9L501 1374.7L506.1 1381.3L511.3 1387.9L516.4 1376.6L521.6 1365.3L526.8 1364L531.9 1362.8L537.1 1373.5L542.3 1383.7L547.4 1373.7L552.6 1363.8L557.8 1366.2L562.9 1359.9L568.1 1348.7L573.2 1336.3L578.4 1323.1L583.6 1309.1L588.7 1294.4L593.9 1279L598.1 1266L598.4 1265L598.7 1264.1L599 1263.1L599.3 1262.2L599.6 1261.2L599.9 1260.3L600.2 1259.3L600.5 1258.4L600.8 1257.4L601.1 1256.5L601.4 1255.5L601.7 1254.5L602 1253.6L602.3 1252.6L602.6 1251.7L602.9 1250.7L603.2 1249.8L603.5 1248.8L603.8 1247.9L604.1 1246.9L604.4 1245.9L604.7 1245L605 1244L605.3 1243.1L605.6 1242.1L605.9 1241.2L606.2 1240.2L606.5 1239.3L606.9 1238.3L607.2 1237.4L607.5 1236.4L607.8 1235.4L608.1 1234.5L608.4 1233.5L608.7 1232.6L609 1231.6L609.3 1230.7L609.6 1229.7L609.9 1228.8L610.2 1227.8L610.5 1226.8L610.8 1225.9L611.1 1224.9L611.4 1224L611.7 1223L612 1222.1L612.3 1221.1L612.6 1220.2L612.9 1219.2L613.2 1218.3L613.5 1217.3L613.8 1216.3L614.1 1215.4L614.4 1214.4L614.7 1213.5L615 1212.5L615.3 1211.6L615.6 1210.6L615.9 1209.7L616.2 1208.7L616.5 1207.8L616.8 1206.8L617.1 1205.8L617.4 1204.9L617.7 1203.9L618 1203L618.3 1202L618.6 1201.1L618.9 1200.1L619.2 1199.2L619.5 1198.2L619.8 1197.2L620.1 1196.3L620.4 1195.3L620.7 1194.4L621 1193.4L621.3 1192.5L621.6 1191.5L621.8 1190.6L622.1 1189.6L622.4 1188.7L622.7 1187.7L623 1186.7L623.3 1185.8L623.6 1184.8L623.9 1183.9L624.2 1182.9L624.5 1182L624.8 1181L625.1 1180.1L625.4 1179.1L625.7 1178.1L626 1177.2L626.3 1176.2L626.6 1175.3L626.8 1174.3L627.1 1173.4L627.4 1172.4L627.7 1171.5L628 1170.5L628.3 1169.6L628.6 1168.6L628.9 1167.6L629.2 1166.7L629.5 1165.7L629.8 1164.8L630.1 1163.8L630.4 1162.9L630.7 1161.9L631 1161L631.3 1160L631.6 1159.1L631.8 1158.1L632.1 1157.1L632.4 1156.2L632.7 1155.2L633 1154.3L633.3 1153.3L633.6 1152.4L633.9 1151.4L634.2 1150.5L634.5 1149.5L634.8 1148.5L635.1 1147.6L635.4 1146.6L635.7 1145.7L636 1144.7L636.3 1143.8L636.6 1142.8L636.9 1141.9L637.2 1140.9L637.5 1140L637.8 1139L638.1 1138L638.4 1137.1L638.7 1136.1L639 1135.2L639.3 1134.2L639.6 1133.3L639.9 1132.3L640.2 1131.4L640.5 1130.4L640.8 1129.4L641.1 1128.5L641.5 1127.5L641.8 1126.6L642.1 1125.6L642.4 1124.7L642.7 1123.7L643 1122.8L643.3 1121.8L643.6 1120.9L643.9 1119.9L644.2 1118.9L644.6 1118L644.9 1117L645.2 1116.1L645.5 1115.1L645.8 1114.2L646.1 1113.2L646.4 1112.3L646.8 1111.3L647.1 1110.3L647.4 1109.4L647.7 1108.4L648 1107.5L648.4 1106.5L648.7 1105.6L649 1104.6L649.3 1103.7L649.6 1102.7L649.9 1101.8L650.2 1100.8L650.5 1099.8L650.9 1098.9L651.2 1097.9L651.5 1097L651.8 1096L652.1 1095.1L652.4 1094.1L652.7 1093.2L653 1092.2L653.2 1091.3L653.5 1090.3L653.8 1089.3L654.1 1088.4L654.4 1087.4L654.7 1086.5L655 1085.5L655.3 1084.6L655.6 1083.6L655.9 1082.7L656.2 1081.7L656.5 1080.7L656.8 1079.8L657 1078.8L657.3 1077.9L657.6 1076.9L657.9 1076L658.2 1075L658.5 1074.1L658.8 1073.1L659.1 1072.2L659.4 1071.2L659.7 1070.2L660 1069.3L660.3 1068.3L660.6 1067.4L660.9 1066.4L661.2 1065.5L661.5 1064.5L661.8 1063.6L662.1 1062.6L662.4 1061.6L662.8 1060.7L663.1 1059.7L663.4 1058.8L663.7 1057.8L664 1056.9L664.4 1055.9L664.7 1055L665 1054L665.4 1053.1L665.7 1052.1L666 1051.1L666.4 1050.2L666.7 1049.2L667.1 1048.3L667.4 1047.3L667.8 1046.4L668.1 1045.4L668.5 1044.5L668.9 1043.5L669.2 1042.6L669.6 1041.6L670 1040.6L670.4 1039.7L670.7 1038.7L671.1 1037.8L671.5 1036.8L671.9 1035.9L672.3 1034.9L672.7 1034L673.1 1033L673.6 1032L674 1031.1L674.4 1030.1L674.8 1029.2L675.3 1028.2L675.7 1027.3L676.2 1026.3L676.6 1025.4L677.1 1024.4L677.5 1023.5L678 1022.5L678.5 1021.5L679 1020.6L679.5 1019.6L679.9 1018.7L680.4 1017.7L681 1016.8L681.5 1015.8L682 1014.9L682.6 1013.9L683.1 1012.9L683.7 1012L684.3 1011L684.9 1010.1L685.5 1009.1L686.1 1008.2L686.8 1007.2L687.4 1006.3L688.1 1005.3L688.7 1004.4L689.4 1003.4L690.1 1002.4L690.8 1001.5L691.5 1000.5L692.3 999.6L693 998.6L693.8 997.7L694.5 996.7L695.3 995.8L696.1 994.8L696.9 993.9L697.7 992.9L698.5 991.9L699.3 991L700.2 990L701 989.1L701.9 988.1L702.7 987.2L703.6 986.2L704.5 985.3L705.4 984.3L706.3 983.3L707.2 982.4L708.2 981.4L709.1 980.5L710.1 979.5L711 978.6L712 977.6L713 976.7L713.9 975.7L714.9 974.8L715.9 973.8L716.9 972.8L718 971.9L719 970.9L720 970L721.1 969L722.1 968.1L723.2 967.1L724.3 966.2L725.5 965.2L726.7 964.2L727.9 963.3L729.2 962.3L730.5 961.4L731.8 960.4L733.2 959.5L734.6 958.5L736 957.6L737.5 956.6L739 955.7L740.5 954.7L742 953.7L743.6 952.8L745.1 951.8L746.7 950.9L748.3 949.9L750 949L751.6 948L753.3 947.1L755 946.1L756.7 945.2L758.3 944.2L760.1 943.2L761.8 942.3L763.5 941.3L765.2 940.4L767 939.4L768.7 938.5L770.4 937.5L772.2 936.6L773.9 935.6L775.6 934.6L777.4 933.7L779.1 932.7L780.8 931.8L782.5 930.8L784.2 929.9L785.9 928.9L787.6 928L789.2 927L790.9 926.1L792.5 925.1L794.1 924.1L795.7 923.2L797.3 922.2L798.8 921.3L800.4 920.3L801.9 919.4L803.4 918.4L804.8 917.5L806.3 916.5L807.8 915.5L809.3 914.6L810.8 913.6L812.3 912.7L813.8 911.7L815.4 910.8L816.9 909.8L818.4 908.9L820 907.9L821.5 907L823.1 906L824.6 905L826.2 904.1L827.7 903.1L829.3 902.2L830.8 901.2L832.4 900.3L833.9 899.3L835.5 898.4L837 897.4L838.5 896.4L840 895.5L841.5 894.5L843 893.6L844.5 892.6L846 891.7L847.4 890.7L848.9 889.8L850.3 888.8L851.7 887.9L853.1 886.9L854.5 885.9L855.8 885L857.1 884L858.4 883.1L859.7 882.1L861 881.2L862.2 880.2L863.5 879.3L864.6 878.3L865.8 877.4L866.9 876.4L868 875.4L869.1 874.5L870.1 873.5L871.2 872.6L872.1 871.6L873.1 870.7L874 869.7L874.8 868.8L875.7 867.8L876.5 866.8L877.2 865.9L878 864.9L878.7 864L879.4 863L880.1 862.1L880.7 861.1L881.4 860.2L882 859.2L882.6 858.3L883.2 857.3L883.7 856.3L884.3 855.4L884.9 854.4L885.4 853.5L886 852.5L886.5 851.6L887 850.6L887.6 849.7L888.1 848.7L888.6 847.7L889.2 846.8L889.7 845.8L890.3 844.9L890.8 843.9L891.4 843L891.9 842L892.5 841.1L893.1 840.1L893.7 839.2L894.4 838.2L895 837.2L895.7 836.3L896.4 835.3L897.1 834.4L897.8 833.4L898.5 832.5L899.3 831.5L900 830.6L900.8 829.6L901.5 828.7L902.3 827.7L903.1 826.7L903.9 825.8L904.7 824.8L905.5 823.9L906.3 822.9L907.1 822L907.9 821L908.7 820.1L909.5 819.1L910.3 818.1L911.1 817.2L911.9 816.2L912.7 815.3L913.5 814.3L914.3 813.4L915.1 812.4L915.9 811.5L916.7 810.5L917.5 809.6L918.2 808.6L919 807.6L919.8 806.7L920.6 805.7L921.4 804.8L922.1 803.8L922.9 802.9L923.8 801.9L924.6 801L925.5 800L926.4 799L927.5 798.1L928.7 797.1L930.1 796.2L931.7 795.2L933.6 794.3L935.9 793.3L938.8 792.4L942.3 791.4L946.6 790.5L951.9 789.5"/>
<path d="M149.8 1365.4L155 1374L160.1 1382.5L165.3 1383.1L170.5 1383.8L175.6 1373.7L180.8 1363.7L185.9 1371.3L191.1 1379L196.3 1375L201.4 1371L206.6 1375.5L211.8 1380.1L216.9 1376.7L222.1 1373.4L227.3 1377.5L232.4 1381.6L237.6 1370.8L242.8 1359.9L247.9 1369.8L253.1 1379.7L258.2 1376.3L263.4 1373L268.6 1373.2L273.7 1373.5L278.9 1368.3L284.1 1363.1L289.2 1372.9L294.4 1382.6L299.6 1377.5L304.7 1372.3L309.9 1373L315 1373.6L320.2 1370.9L325.4 1368.1L330.5 1368.3L335.7 1368.5L340.9 1372L346 1375.5L351.2 1372.9L356.4 1370.3L361.5 1372.6L366.7 1374.9L371.9 1371.7L377 1368.6L382.2 1370.7L387.3 1372.8L392.5 1374.9L397.7 1376.9L402.8 1374.6L408 1372.3L413.2 1370.8L418.3 1369.4L423.5 1362.3L428.7 1355.2L433.8 1365.5L439 1375.7L444.1 1372.8L449.3 1369.8L454.5 1365.5L459.6 1361.2L464.8 1374.4L470 1387.5L475.1 1386.3L480.3 1385.1L485.5 1383L490.6 1380.9L495.8 1376.9L501 1372.9L506.1 1363.4L511.3 1353.9L516.4 1361.5L521.6 1369.1L526.8 1366.1L531.9 1363.1L537.1 1368.4L542.3 1373.7L547.4 1382.1L552.6 1390.3L557.8 1389.5L562.9 1388.2L568.1 1376.2L573.2 1364L578.4 1365.4L583.6 1362.8L588.7 1354.8L593.9 1343.5L599.1 1330.7L604.2 1316.8L609.4 1301.8L614.6 1285.6L619.7 1268.3L620.4 1266L620.7 1265L620.9 1264.1L621.2 1263.1L621.5 1262.2L621.8 1261.2L622 1260.3L622.3 1259.3L622.6 1258.4L622.9 1257.4L623.1 1256.5L623.4 1255.5L623.7 1254.5L624 1253.6L624.2 1252.6L624.5 1251.7L624.8 1250.7L625 1249.8L625.3 1248.8L625.6 1247.9L625.9 1246.9L626.1 1245.9L626.4 1245L626.7 1244L626.9 1243.1L627.2 1242.1L627.5 1241.2L627.7 1240.2L628 1239.3L628.3 1238.3L628.5 1237.4L628.8 1236.4L629.1 1235.4L629.4 1234.5L629.6 1233.5L629.9 1232.6L630.2 1231.6L630.4 1230.7L630.7 1229.7L631 1228.8L631.2 1227.8L631.5 1226.8L631.8 1225.9L632 1224.9L632.3 1224L632.5 1223L632.8 1222.1L633.1 1221.1L633.3 1220.2L633.6 1219.2L633.9 1218.3L634.1 1217.3L634.4 1216.3L634.7 1215.4L634.9 1214.4L635.2 1213.5L635.4 1212.5L635.7 1211.6L636 1210.6L636.2 1209.7L636.5 1208.7L636.7 1207.8L637 1206.8L637.3 1205.8L637.5 1204.9L637.8 1203.9L638 1203L638.3 1202L638.5 1201.1L638.8 1200.1L639 1199.2L639.3 1198.2L639.5 1197.2L639.8 1196.3L640 1195.3L640.2 1194.4L640.5 1193.4L640.7 1192.5L641 1191.5L641.2 1190.6L641.4 1189.6L641.7 1188.7L641.9 1187.7L642.2 1186.7L642.4 1185.8L642.6 1184.8L642.9 1183.9L643.1 1182.9L643.3 1182L643.6 1181L643.8 1180.1L644 1179.1L644.3 1178.1L644.5 1177.2L644.7 1176.2L645 1175.3L645.2 1174.3L645.4 1173.4L645.7 1172.4L645.9 1171.5L646.1 1170.5L646.4 1169.6L646.6 1168.6L646.8 1167.6L647.1 1166.7L647.3 1165.7L647.5 1164.8L647.8 1163.8L648 1162.9L648.2 1161.9L648.5 1161L648.7 1160L648.9 1159.1L649.2 1158.1L649.4 1157.1L649.6 1156.2L649.9 1155.2L650.1 1154.3L650.3 1153.3L650.6 1152.4L650.8 1151.4L651.1 1150.5L651.3 1149.5L651.5 1148.5L651.8 1147.6L652 1146.6L652.3 1145.7L652.5 1144.7L652.8 1143.8L653 1142.8L653.2 1141.9L653.5 1140.9L653.7 1140L654 1139L654.2 1138L654.5 1137.1L654.7 1136.1L655 1135.2L655.3 1134.2L655.5 1133.3L655.8 1132.3L656 1131.4L656.3 1130.4L656.6 1129.4L656.8 1128.5L657.1 1127.5L657.3 1126.6L657.6 1125.6L657.9 1124.7L658.2 1123.7L658.4 1122.8L658.7 1121.8L659 1120.9L659.3 1119.9L659.5 1118.9L659.8 1118L660.1 1117L660.4 1116.1L660.7 1115.1L661 1114.2L661.3 1113.2L661.5 1112.3L661.8 1111.3L662.1 1110.3L662.4 1109.4L662.7 1108.4L663 1107.5L663.4 1106.5L663.7 1105.6L664 1104.6L664.3 1103.7L664.6 1102.7L664.9 1101.8L665.2 1100.8L665.5 1099.8L665.8 1098.9L666.1 1097.9L666.4 1097L666.7 1096L667 1095.1L667.3 1094.1L667.6 1093.2L667.9 1092.2L668.2 1091.3L668.5 1090.3L668.8 1089.3L669.1 1088.4L669.5 1087.4L669.8 1086.5L670.1 1085.5L670.4 1084.6L670.7 1083.6L671 1082.7L671.3 1081.7L671.7 1080.7L672 1079.8L672.3 1078.8L672.6 1077.9L672.9 1076.9L673.3 1076L673.6 1075L673.9 1074.1L674.3 1073.1L674.6 1072.2L674.9 1071.2L675.3 1070.2L675.6 1069.3L675.9 1068.3L676.3 1067.4L676.6 1066.4L677 1065.5L677.3 1064.5L677.7 1063.6L678.1 1062.6L678.4 1061.6L678.8 1060.7L679.2 1059.7L679.5 1058.8L679.9 1057.8L680.3 1056.9L680.7 1055.9L681 1055L681.4 1054L681.8 1053.1L682.2 1052.1L682.6 1051.1L683 1050.2L683.4 1049.2L683.8 1048.3L684.2 1047.3L684.7 1046.4L685.1 1045.4L685.5 1044.5L685.9 1043.5L686.4 1042.6L686.8 1041.6L687.3 1040.6L687.7 1039.7L688.2 1038.7L688.6 1037.8L689.1 1036.8L689.5 1035.9L690 1034.9L690.5 1034L691 1033L691.5 1032L692 1031.1L692.5 1030.1L693 1029.2L693.5 1028.2L694 1027.3L694.5 1026.3L695 1025.4L695.6 1024.4L696.1 1023.5L696.7 1022.5L697.2 1021.5L697.8 1020.6L698.3 1019.6L698.9 1018.7L699.5 1017.7L700.1 1016.8L700.7 1015.8L701.3 1014.9L701.9 1013.9L702.6 1012.9L703.3 1012L704 1011L704.7 1010.1L705.5 1009.1L706.2 1008.2L707 1007.2L707.8 1006.3L708.6 1005.3L709.4 1004.4L710.2 1003.4L711.1 1002.4L712 1001.5L712.8 1000.5L713.7 999.6L714.6 998.6L715.6 997.7L716.5 996.7L717.5 995.8L718.4 994.8L719.4 993.9L720.4 992.9L721.4 991.9L722.4 991L723.5 990L724.5 989.1L725.6 988.1L726.6 987.2L727.7 986.2L728.8 985.3L729.9 984.3L731 983.3L732.1 982.4L733.2 981.4L734.4 980.5L735.5 979.5L736.7 978.6L737.8 977.6L739 976.7L740.2 975.7L741.4 974.8L742.6 973.8L743.8 972.8L745 971.9L746.2 970.9L747.4 970L748.7 969L749.9 968.1L751.2 967.1L752.5 966.2L753.9 965.2L755.3 964.2L756.8 963.3L758.3 962.3L759.8 961.4L761.4 960.4L763 959.5L764.6 958.5L766.2 957.6L767.9 956.6L769.6 955.7L771.2 954.7L772.9 953.7L774.6 952.8L776.3 951.8L778 950.9L779.6 949.9L781.3 949L782.9 948L784.6 947.1L786.4 946.1L788.1 945.2L789.8 944.2L791.6 943.2L793.3 942.3L795.1 941.3L796.8 940.4L798.6 939.4L800.3 938.5L802.1 937.5L803.8 936.6L805.6 935.6L807.3 934.6L809 933.7L810.7 932.7L812.5 931.8L814.2 930.8L815.9 929.9L817.7 928.9L819.4 928L821.2 927L822.9 926.1L824.7 925.1L826.4 924.1L828.2 923.2L829.9 922.2L831.6 921.3L833.3 920.3L835.1 919.4L837 918.4L839.1 917.5L841.4 916.5L843.9 915.5L846.3 914.6L848.6 913.6L850.5 912.7L852.3 911.7L854.1 910.8L855.7 909.8L857.4 908.9L858.9 907.9L860.4 907L861.8 906L863.2 905L864.5 904.1L865.8 903.1L867 902.2L868.2 901.2L869.3 900.3L870.4 899.3L871.4 898.4L872.4 897.4L873.4 896.4L874.3 895.5L875.2 894.5L876.1 893.6L877 892.6L877.8 891.7L878.5 890.7L879.3 889.8L880 888.8L880.7 887.9L881.3 886.9L882 885.9L882.6 885L883.2 884L883.8 883.1L884.4 882.1L885 881.2L885.5 880.2L886.1 879.3L886.6 878.3L887.1 877.4L887.7 876.4L888.2 875.4L888.7 874.5L889.3 873.5L889.8 872.6L890.4 871.6L890.9 870.7L891.5 869.7L892 868.8L892.6 867.8L893.2 866.8L893.8 865.9L894.4 864.9L894.9 864L895.5 863L896.1 862.1L896.6 861.1L897.2 860.2L897.7 859.2L898.3 858.3L898.8 857.3L899.4 856.3L900 855.4L900.5 854.4L901.1 853.5L901.6 852.5L902.2 851.6L902.8 850.6L903.3 849.7L903.9 848.7L904.5 847.7L905.1 846.8L905.7 845.8L906.3 844.9L906.9 843.9L907.5 843L908.1 842L908.7 841.1L909.4 840.1L910 839.2L910.7 838.2L911.3 837.2L912 836.3L912.7 835.3L913.4 834.4L914.1 833.4L914.8 832.5L915.6 831.5L916.3 830.6L917.1 829.6L917.9 828.7L918.7 827.7L919.5 826.7L920.3 825.8L921.1 824.8L921.9 823.9L922.8 822.9L923.6 822L924.4 821L925.3 820.1L926.1 819.1L927 818.1L927.8 817.2L928.6 816.2L929.5 815.3L930.3 814.3L931.1 813.4L931.9 812.4L932.8 811.5L933.6 810.5L934.4 809.6L935.2 808.6L936 807.6L936.8 806.7L937.6 805.7L938.4 804.8L939.2 803.8L940 802.9L940.8 801.9L941.7 801L942.6 800L943.5 799L944.6 798.1L945.7 797.1L947.1 796.2L948.6 795.2L950.4 794.3L952.6 793.3L955.2 792.4L958.4 791.4L962.3 790.5L967 789.5"/>
<path d="M149.8 1369.7L155 1377.4L160.1 1385L165.3 1377.6L170.5 1370.1L175.6 1372.8L180.8 1375.4L185.9 1377.4L191.1 1379.4L196.3 1381.1L201.4 1382.8L206.6 1378.6L211.8 1374.4L216.9 1382.3L222.1 1390.2L227.3 1384.2L232.4 1378.2L237.6 1378.6L242.8 1379.1L247.9 1375.1L253.1 1371.1L258.2 1378.3L263.4 1385.5L268.6 1374.4L273.7 1363.4L278.9 1370.9L284.1 1378.5L289.2 1381.5L294.4 1384.6L299.6 1375.2L304.7 1365.8L309.9 1364.8L315 1363.8L320.2 1370.6L325.4 1377.5L330.5 1380.2L335.7 1382.8L340.9 1379.4L346 1376L351.2 1378.7L356.4 1381.3L361.5 1379.9L366.7 1378.5L371.9 1371.5L377 1364.5L382.2 1368.9L387.3 1373.2L392.5 1374.1L397.7 1375.1L402.8 1374.3L408 1373.6L413.2 1375.1L418.3 1376.6L423.5 1373.2L428.7 1369.9L433.8 1369.7L439 1369.6L444.1 1374.2L449.3 1378.9L454.5 1377.1L459.6 1375.4L464.8 1366.8L470 1358.2L475.1 1365.6L480.3 1373L485.5 1404.3L490.6 1435.5L495.8 1398.2L501 1360.9L506.1 1368.5L511.3 1376.1L516.4 1380.2L521.6 1384.3L526.8 1377.7L531.9 1371.1L537.1 1377L542.3 1382.8L547.4 1381.3L552.6 1379.8L557.8 1376.8L562.9 1373.7L568.1 1375.4L573.2 1377.1L578.4 1379.5L583.6 1381.8L588.7 1381L593.9 1380L599.1 1379.1L604.2 1375.5L609.4 1365.9L614.6 1355.6L619.7 1345.3L624.9 1331.9L630.1 1315.9L635.2 1297.5L640.4 1276.6L642.8 1266L643 1265L643.2 1264.1L643.4 1263.1L643.7 1262.2L643.9 1261.2L644.1 1260.3L644.3 1259.3L644.5 1258.4L644.7 1257.4L644.9 1256.5L645.2 1255.5L645.4 1254.5L645.6 1253.6L645.8 1252.6L646 1251.7L646.2 1250.7L646.4 1249.8L646.7 1248.8L646.9 1247.9L647.1 1246.9L647.3 1245.9L647.5 1245L647.8 1244L648 1243.1L648.2 1242.1L648.4 1241.2L648.6 1240.2L648.9 1239.3L649.1 1238.3L649.3 1237.4L649.5 1236.4L649.7 1235.4L650 1234.5L650.2 1233.5L650.4 1232.6L650.6 1231.6L650.8 1230.7L651.1 1229.7L651.3 1228.8L651.5 1227.8L651.7 1226.8L652 1225.9L652.2 1224.9L652.4 1224L652.6 1223L652.9 1222.1L653.1 1221.1L653.3 1220.2L653.5 1219.2L653.8 1218.3L654 1217.3L654.2 1216.3L654.5 1215.4L654.7 1214.4L654.9 1213.5L655.1 1212.5L655.4 1211.6L655.6 1210.6L655.8 1209.7L656.1 1208.7L656.3 1207.8L656.5 1206.8L656.8 1205.8L657 1204.9L657.2 1203.9L657.4 1203L657.7 1202L657.9 1201.1L658.1 1200.1L658.3 1199.2L658.5 1198.2L658.8 1197.2L659 1196.3L659.2 1195.3L659.4 1194.4L659.6 1193.4L659.8 1192.5L660.1 1191.5L660.3 1190.6L660.5 1189.6L660.7 1188.7L660.9 1187.7L661.1 1186.7L661.3 1185.8L661.5 1184.8L661.8 1183.9L662 1182.9L662.2 1182L662.4 1181L662.6 1180.1L662.8 1179.1L663 1178.1L663.2 1177.2L663.4 1176.2L663.7 1175.3L663.9 1174.3L664.1 1173.4L664.3 1172.4L664.5 1171.5L664.7 1170.5L664.9 1169.6L665.1 1168.6L665.4 1167.6L665.6 1166.7L665.8 1165.7L666 1164.8L666.2 1163.8L666.4 1162.9L666.7 1161.9L666.9 1161L667.1 1160L667.3 1159.1L667.6 1158.1L667.8 1157.1L668 1156.2L668.2 1155.2L668.5 1154.3L668.7 1153.3L668.9 1152.4L669.1 1151.4L669.4 1150.5L669.6 1149.5L669.8 1148.5L670.1 1147.6L670.3 1146.6L670.6 1145.7L670.8 1144.7L671 1143.8L671.3 1142.8L671.5 1141.9L671.8 1140.9L672 1140L672.3 1139L672.5 1138L672.8 1137.1L673.1 1136.1L673.3 1135.2L673.6 1134.2L673.9 1133.3L674.1 1132.3L674.4 1131.4L674.7 1130.4L674.9 1129.4L675.2 1128.5L675.5 1127.5L675.8 1126.6L676.1 1125.6L676.4 1124.7L676.6 1123.7L676.9 1122.8L677.2 1121.8L677.5 1120.9L677.8 1119.9L678.1 1118.9L678.4 1118L678.8 1117L679.1 1116.1L679.4 1115.1L679.7 1114.2L680 1113.2L680.3 1112.3L680.7 1111.3L681 1110.3L681.3 1109.4L681.7 1108.4L682 1107.5L682.4 1106.5L682.7 1105.6L683.1 1104.6L683.4 1103.7L683.8 1102.7L684.2 1101.8L684.5 1100.8L684.9 1099.8L685.3 1098.9L685.7 1097.9L686.1 1097L686.4 1096L686.8 1095.1L687.2 1094.1L687.6 1093.2L688 1092.2L688.5 1091.3L688.9 1090.3L689.3 1089.3L689.7 1088.4L690.2 1087.4L690.6 1086.5L691 1085.5L691.5 1084.6L691.9 1083.6L692.4 1082.7L692.8 1081.7L693.3 1080.7L693.8 1079.8L694.2 1078.8L694.7 1077.9L695.2 1076.9L695.7 1076L696.2 1075L696.7 1074.1L697.2 1073.1L697.7 1072.2L698.2 1071.2L698.7 1070.2L699.2 1069.3L699.7 1068.3L700.3 1067.4L700.8 1066.4L701.4 1065.5L701.9 1064.5L702.4 1063.6L703 1062.6L703.6 1061.6L704.1 1060.7L704.7 1059.7L705.3 1058.8L705.9 1057.8L706.5 1056.9L707 1055.9L707.6 1055L708.2 1054L708.9 1053.1L709.5 1052.1L710.1 1051.1L710.7 1050.2L711.3 1049.2L712 1048.3L712.6 1047.3L713.3 1046.4L713.9 1045.4L714.6 1044.5L715.2 1043.5L715.9 1042.6L716.6 1041.6L717.3 1040.6L718 1039.7L718.7 1038.7L719.4 1037.8L720.1 1036.8L720.8 1035.9L721.5 1034.9L722.2 1034L722.9 1033L723.7 1032L724.4 1031.1L725.2 1030.1L725.9 1029.2L726.7 1028.2L727.4 1027.3L728.2 1026.3L729 1025.4L729.8 1024.4L730.6 1023.5L731.4 1022.5L732.2 1021.5L733 1020.6L733.8 1019.6L734.6 1018.7L735.4 1017.7L736.3 1016.8L737.3 1015.8L738.2 1014.9L739.3 1013.9L740.3 1012.9L741.5 1012L742.6 1011L743.8 1010.1L745 1009.1L746.3 1008.2L747.5 1007.2L748.8 1006.3L750.1 1005.3L751.4 1004.4L752.7 1003.4L754 1002.4L755.3 1001.5L756.6 1000.5L757.9 999.6L759.1 998.6L760.4 997.7L761.7 996.7L763 995.8L764.2 994.8L765.5 993.9L766.8 992.9L768.1 991.9L769.4 991L770.7 990L772.1 989.1L773.4 988.1L774.7 987.2L776.1 986.2L777.4 985.3L778.8 984.3L780.2 983.3L781.6 982.4L783 981.4L784.4 980.5L785.8 979.5L787.2 978.6L788.7 977.6L790.2 976.7L791.6 975.7L793.1 974.8L794.7 973.8L796.2 972.8L797.7 971.9L799.3 970.9L800.9 970L802.5 969L804.1 968.1L805.8 967.1L807.5 966.2L809.4 965.2L811.2 964.2L813.1 963.3L815 962.3L816.9 961.4L818.7 960.4L820.5 959.5L822.2 958.5L823.9 957.6L825.6 956.6L827.3 955.7L829 954.7L830.7 953.7L832.4 952.8L834 951.8L835.7 950.9L837.3 949.9L839 949L840.6 948L842.3 947.1L843.9 946.1L845.5 945.2L847.2 944.2L848.8 943.2L850.4 942.3L852.1 941.3L853.8 940.4L855.5 939.4L857.3 938.5L859 937.5L860.8 936.6L862.5 935.6L864.1 934.6L865.8 933.7L867.3 932.7L868.8 931.8L870.2 930.8L871.6 929.9L872.8 928.9L873.9 928L874.9 927L875.9 926.1L876.8 925.1L877.7 924.1L878.6 923.2L879.4 922.2L880.2 921.3L881 920.3L881.8 919.4L882.6 918.4L883.5 917.5L884.3 916.5L885.1 915.5L885.9 914.6L886.6 913.6L887.4 912.7L888.2 911.7L888.9 910.8L889.6 909.8L890.3 908.9L891.1 907.9L891.7 907L892.4 906L893.1 905L893.7 904.1L894.3 903.1L895 902.2L895.5 901.2L896.1 900.3L896.7 899.3L897.3 898.4L897.9 897.4L898.4 896.4L899 895.5L899.6 894.5L900.2 893.6L900.8 892.6L901.4 891.7L902 890.7L902.6 889.8L903.2 888.8L903.8 887.9L904.4 886.9L905 885.9L905.6 885L906.2 884L906.8 883.1L907.4 882.1L908 881.2L908.6 880.2L909.2 879.3L909.8 878.3L910.4 877.4L911 876.4L911.6 875.4L912.2 874.5L912.8 873.5L913.4 872.6L913.9 871.6L914.5 870.7L915.1 869.7L915.7 868.8L916.3 867.8L916.9 866.8L917.5 865.9L918.1 864.9L918.6 864L919.2 863L919.8 862.1L920.3 861.1L920.9 860.2L921.4 859.2L922 858.3L922.6 857.3L923.1 856.3L923.7 855.4L924.2 854.4L924.8 853.5L925.3 852.5L925.9 851.6L926.5 850.6L927 849.7L927.6 848.7L928.2 847.7L928.8 846.8L929.3 845.8L929.9 844.9L930.5 843.9L931.2 843L931.8 842L932.4 841.1L933 840.1L933.7 839.2L934.3 838.2L935 837.2L935.7 836.3L936.4 835.3L937.1 834.4L937.8 833.4L938.6 832.5L939.3 831.5L940.1 830.6L940.9 829.6L941.7 828.7L942.5 827.7L943.4 826.7L944.2 825.8L945 824.8L945.9 823.9L946.8 822.9L947.6 822L948.5 821L949.4 820.1L950.2 819.1L951.1 818.1L952 817.2L952.8 816.2L953.7 815.3L954.6 814.3L955.4 813.4L956.3 812.4L957.1 811.5L958 810.5L958.8 809.6L959.6 808.6L960.4 807.6L961.3 806.7L962.1 805.7L962.9 804.8L963.8 803.8L964.6 802.9L965.5 801.9L966.3 801L967.3 800L968.2 799L969.3 798.1L970.5 797.1L971.8 796.2L973.3 795.2L975.1 794.3L977.3 793.3L979.8 792.4L983 791.4L986.8 790.5L991.4 789.5"/>
</g>
</g>
<g clip-path="url(#cc)">
<g fill="none" stroke="#000" stroke-width="1.4" stroke-linejoin="round">
<path d="M135.8 1841.5L141.1 1840.9L146.4 1842.2L151.7 1843L157 1843.9L161.6 1842.5L161.9 1841.8L162.3 1841.2L162.6 1840.5L162.9 1839.9L163.2 1839.3L163.5 1838.6L163.8 1838L164.1 1837.3L164.5 1836.6L165 1835.8L165.4 1834.9L166 1834L167.7 1831.3L169.8 1828.1L172.3 1824.4L175.1 1820.4L178.1 1816.1L181.3 1811.6L184.6 1807L187.9 1802.3L191.1 1797.7L194.3 1793.2L197.3 1789L200 1785L202.2 1781.7L204.5 1778.5L206.6 1775.3L208.8 1772.1L210.9 1768.9L213 1765.8L215.1 1762.8L217.1 1759.7L219.1 1756.7L221.1 1753.8L223.1 1750.9L225 1748L226.6 1745.6L228.2 1743.2L229.8 1740.8L231.3 1738.5L232.9 1736.1L234.4 1733.8L235.9 1731.6L237.4 1729.4L238.8 1727.2L240.2 1725.1L241.6 1723L243 1721L244.1 1719.4L245.2 1717.9L246.2 1716.3L247.3 1714.8L248.3 1713.3L249.3 1711.9L250.3 1710.4L251.3 1709.1L252.2 1707.7L253.2 1706.4L254.1 1705.2L255 1704L255.6 1703.2L256.2 1702.4L256.8 1701.6L257.4 1700.9L258 1700.2L258.5 1699.5L259.1 1698.8L259.6 1698.1L260.2 1697.5L260.8 1696.8L261.4 1696.2L262 1695.5L262.6 1694.8L263.3 1694.2L263.9 1693.6L264.6 1692.9L265.2 1692.3L265.9 1691.7L266.6 1691.1L267.3 1690.5L267.9 1689.8L268.6 1689.2L269.3 1688.6L270 1688L270.7 1687.4L271.4 1686.8L272 1686.1L272.7 1685.5L273.3 1684.9L274 1684.3L274.7 1683.7L275.4 1683.1L276.2 1682.5L277 1681.8L277.8 1681.2L278.7 1680.5L280.2 1679.4L281.9 1678.3L283.7 1677.2L285.6 1676L287.6 1674.8L289.6 1673.6L291.7 1672.3L293.8 1671L295.9 1669.8L298 1668.5L300 1667.2L302 1665.9L304 1664.6L305.9 1663.2L307.8 1661.8L309.8 1660.4L311.7 1659L313.6 1657.5L315.6 1656.1L317.5 1654.7L319.4 1653.2L321.3 1651.8L323.3 1650.3L325.2 1648.9L327.1 1647.5L329.1 1646.1L331 1644.7L333 1643.3L334.9 1642L336.9 1640.6L338.8 1639.2L340.7 1637.8L342.7 1636.3L344.6 1634.9L346.5 1633.3L348.4 1631.8L350.4 1630.1L352.4 1628.4L354.4 1626.6L356.4 1624.7L358.4 1622.9L360.4 1621L362.4 1619.1L364.4 1617.2L366.3 1615.4L368.1 1613.6L369.9 1611.8L371.7 1610.1L373.1 1608.7L374.5 1607.4L375.8 1606.1L377.2 1604.8L378.5 1603.5L379.7 1602.2L381 1600.9L382.2 1599.7L383.5 1598.4L384.7 1597.2L385.9 1595.9L387.1 1594.6L388.2 1593.4L389.3 1592.1L390.4 1590.9L391.5 1589.6L392.5 1588.4L393.6 1587.1L394.6 1585.9L395.7 1584.7L396.7 1583.5L397.8 1582.3L398.9 1581.1L400 1580L401.1 1578.9L402.1 1577.9L403.2 1576.8L404.4 1575.7L405.5 1574.7L406.6 1573.7L407.7 1572.7L408.8 1571.7L409.9 1570.8L410.9 1570L412 1569.2L413 1568.5L413.7 1568L414.4 1567.6L415.1 1567.2L415.7 1566.8L416.4 1566.4L417 1566.1L417.7 1565.8L418.3 1565.5L419 1565.2L419.6 1564.9L420.3 1564.7L421 1564.5L421.7 1564.3L422.4 1564.2L423.1 1564.1L423.8 1564L424.5 1563.9L425.2 1563.9L425.9 1563.8L426.6 1563.8L427.3 1563.8L428 1563.7L428.7 1563.7L429.4 1563.6"/>
<path d="M135.8 1842.6L141.1 1841.8L146.4 1841.6L151.7 1843.4L157 1844.5L162.3 1842.8L167.6 1841L175 1842.5L175.3 1841.8L175.6 1841.2L175.9 1840.5L176.1 1839.9L176.4 1839.3L176.7 1838.6L177 1838L177.3 1837.3L177.6 1836.5L178 1835.8L178.5 1834.9L179 1834L180.5 1831.5L182.4 1828.6L184.6 1825.3L187 1821.8L189.6 1818L192.4 1814.1L195.3 1810L198.3 1805.8L201.3 1801.5L204.3 1797.3L207.2 1793.1L210 1789L213.2 1784.3L216.4 1779.4L219.8 1774.3L223.2 1769.1L226.6 1763.9L230 1758.6L233.4 1753.4L236.8 1748.3L240.1 1743.4L243.3 1738.6L246.4 1734.2L249.3 1730L251.3 1727.2L253.2 1724.6L255 1722L256.8 1719.6L258.6 1717.2L260.3 1714.9L262.1 1712.6L263.8 1710.4L265.5 1708.1L267.3 1705.9L269.1 1703.7L271 1701.5L272.9 1699.3L274.8 1697.1L276.8 1694.9L278.7 1692.8L280.7 1690.6L282.7 1688.5L284.7 1686.4L286.7 1684.4L288.7 1682.4L290.6 1680.4L292.4 1678.5L294.2 1676.7L295.6 1675.3L296.9 1673.9L298.2 1672.6L299.4 1671.3L300.7 1670.1L301.9 1668.8L303.1 1667.6L304.4 1666.4L305.6 1665.2L306.9 1663.9L308.3 1662.6L309.7 1661.3L311.4 1659.7L313.3 1658L315.1 1656.3L317 1654.6L319 1652.9L320.9 1651.2L322.9 1649.4L324.9 1647.7L326.9 1646L328.9 1644.3L330.9 1642.7L332.9 1641.1L334.8 1639.6L336.8 1638.1L338.7 1636.7L340.7 1635.3L342.7 1633.9L344.7 1632.6L346.6 1631.2L348.6 1629.8L350.5 1628.4L352.5 1627L354.4 1625.6L356.2 1624.1L358 1622.6L359.7 1621.1L361.5 1619.5L363.2 1618L365 1616.4L366.7 1614.8L368.3 1613.2L370 1611.6L371.6 1610L373.2 1608.5L374.8 1607L376.3 1605.5L377.6 1604.3L378.8 1603.1L380 1601.9L381.2 1600.7L382.3 1599.5L383.5 1598.4L384.6 1597.2L385.7 1596.1L386.8 1595L388 1593.8L389.1 1592.7L390.2 1591.5L391.3 1590.4L392.4 1589.2L393.4 1588L394.5 1586.9L395.6 1585.7L396.6 1584.5L397.7 1583.4L398.7 1582.3L399.8 1581.1L400.8 1580.1L401.9 1579L403 1578L404 1577.1L405 1576.2L406 1575.3L407 1574.4L408 1573.6L409 1572.7L410 1571.9L411 1571.2L412 1570.4L413 1569.7L414 1569.1L415 1568.5L415.8 1568.1L416.5 1567.7L417.3 1567.3L418.1 1566.9L418.8 1566.6L419.6 1566.3L420.3 1566L421.1 1565.7L421.8 1565.5L422.6 1565.2L423.3 1565L424 1564.8L424.6 1564.6L425.2 1564.5L425.8 1564.4L426.4 1564.3L427 1564.2L427.5 1564.1L428.1 1564.1L428.7 1564L429.3 1563.9L429.8 1563.9L430.4 1563.8L431 1563.7"/>
<path d="M135.8 1841.4L141.1 1844.4L146.4 1842.7L151.7 1840.4L157 1842.4L162.3 1841.1L167.6 1841.7L172.9 1841.9L178.2 1841.6L182 1842.5L182.3 1841.8L182.6 1841.2L182.9 1840.5L183.1 1839.9L183.4 1839.3L183.7 1838.6L184 1838L184.3 1837.3L184.6 1836.6L185 1835.8L185.5 1834.9L186 1834L187.6 1831.3L189.6 1828L192 1824.4L194.7 1820.4L197.5 1816.1L200.6 1811.6L203.8 1807L207.1 1802.3L210.4 1797.5L213.7 1792.9L216.9 1788.3L220 1784L223.2 1779.5L226.5 1774.9L230 1770.2L233.4 1765.4L236.9 1760.7L240.4 1756L243.9 1751.3L247.3 1746.7L250.7 1742.3L253.9 1738L257.1 1733.9L260.1 1730L262.2 1727.3L264.3 1724.7L266.3 1722.1L268.3 1719.7L270.2 1717.3L272.1 1715L274 1712.7L275.9 1710.5L277.7 1708.2L279.6 1706L281.5 1703.8L283.4 1701.5L285.2 1699.3L287 1697.2L288.8 1695L290.6 1692.9L292.4 1690.8L294.2 1688.7L296 1686.6L297.8 1684.5L299.7 1682.5L301.5 1680.5L303.3 1678.6L305.1 1676.7L306.8 1675L308.4 1673.4L310.1 1671.8L311.7 1670.3L313.4 1668.7L315 1667.2L316.7 1665.7L318.4 1664.3L320 1662.8L321.7 1661.3L323.5 1659.7L325.2 1658.2L327.1 1656.5L328.9 1654.9L330.9 1653.2L332.8 1651.5L334.7 1649.8L336.7 1648.1L338.6 1646.4L340.6 1644.7L342.5 1643L344.5 1641.3L346.4 1639.6L348.4 1638L350.3 1636.4L352.3 1634.9L354.3 1633.3L356.2 1631.8L358.2 1630.3L360.2 1628.8L362.2 1627.3L364.1 1625.8L366.1 1624.2L368 1622.7L369.9 1621.1L371.7 1619.4L373.5 1617.7L375.3 1615.9L377.1 1614.1L378.8 1612.3L380.5 1610.4L382.2 1608.6L383.9 1606.7L385.6 1604.8L387.2 1603L388.8 1601.2L390.3 1599.4L391.8 1597.7L393 1596.3L394.2 1594.9L395.3 1593.6L396.4 1592.2L397.5 1590.9L398.6 1589.6L399.7 1588.2L400.7 1587L401.8 1585.7L402.8 1584.4L403.9 1583.2L405 1582L406 1580.9L407 1579.8L408 1578.7L409 1577.6L410 1576.5L411 1575.5L412 1574.4L413 1573.5L414 1572.5L415 1571.6L416 1570.8L417 1570L417.8 1569.4L418.5 1568.9L419.3 1568.4L420 1567.9L420.8 1567.5L421.6 1567L422.3 1566.6L423.1 1566.2L423.8 1565.9L424.5 1565.6L425.3 1565.3L426 1565L426.6 1564.8L427.2 1564.6L427.8 1564.5L428.4 1564.4L428.9 1564.3L429.5 1564.2L430.1 1564.2L430.7 1564.1L431.3 1564L431.8 1564L432.4 1563.9L433 1563.8"/>
<path d="M135.8 1843.2L141.1 1842.4L146.4 1841.8L151.7 1843L157 1843.5L162.3 1840.5L167.6 1842.2L172.9 1841.3L178.2 1842.3L185 1842.5L185.3 1841.8L185.6 1841.2L185.9 1840.5L186.1 1839.9L186.4 1839.3L186.7 1838.6L187 1838L187.3 1837.3L187.6 1836.6L188 1835.8L188.5 1834.9L189 1834L190.6 1831.3L192.6 1828.1L195 1824.6L197.7 1820.7L200.6 1816.5L203.7 1812.1L206.9 1807.6L210.2 1802.9L213.5 1798.3L216.8 1793.7L219.9 1789.3L223 1785L226.2 1780.5L229.5 1775.9L232.8 1771.2L236.3 1766.5L239.7 1761.7L243.1 1757L246.5 1752.3L249.9 1747.7L253.2 1743.3L256.4 1739L259.5 1734.9L262.5 1731L264.6 1728.3L266.6 1725.7L268.6 1723.3L270.6 1720.9L272.5 1718.5L274.4 1716.3L276.2 1714L278.1 1711.8L279.9 1709.6L281.8 1707.4L283.6 1705.2L285.5 1703L287.3 1700.8L289.1 1698.7L290.9 1696.5L292.7 1694.3L294.5 1692.2L296.2 1690.1L298 1688L299.8 1685.9L301.6 1683.8L303.4 1681.8L305.2 1679.9L307 1678L308.6 1676.3L310.3 1674.8L311.9 1673.2L313.6 1671.7L315.2 1670.2L316.9 1668.8L318.5 1667.3L320.2 1665.9L321.9 1664.4L323.6 1663L325.3 1661.5L327 1660L328.9 1658.4L330.8 1656.7L332.7 1655L334.6 1653.4L336.6 1651.7L338.6 1650L340.5 1648.3L342.5 1646.6L344.5 1645L346.5 1643.3L348.4 1641.6L350.4 1640L352.3 1638.4L354.3 1636.8L356.2 1635.3L358.2 1633.7L360.2 1632.2L362.1 1630.6L364.1 1629.1L366 1627.5L367.9 1625.9L369.8 1624.3L371.7 1622.7L373.5 1621L375.3 1619.3L377.1 1617.5L378.8 1615.7L380.5 1613.9L382.3 1612.1L384 1610.2L385.6 1608.4L387.3 1606.6L388.9 1604.7L390.5 1603L392 1601.2L393.5 1599.5L394.7 1598.1L395.9 1596.7L397.1 1595.3L398.2 1593.9L399.4 1592.6L400.5 1591.2L401.6 1589.9L402.6 1588.6L403.7 1587.3L404.8 1586L405.9 1584.7L407 1583.5L408 1582.4L409 1581.2L410 1580.1L411 1579L412 1577.8L413 1576.7L414.1 1575.7L415 1574.6L416 1573.6L417 1572.7L418 1571.8L419 1571L419.8 1570.4L420.5 1569.8L421.3 1569.3L422.1 1568.7L422.8 1568.2L423.6 1567.8L424.4 1567.3L425.1 1566.9L425.9 1566.5L426.6 1566.1L427.3 1565.8L428 1565.5L428.5 1565.3L429 1565.1L429.6 1565L430.1 1564.8L430.6 1564.7L431 1564.6L431.5 1564.5L432 1564.4L432.5 1564.3L433 1564.2L433.5 1564.1L434 1564"/>
<path d="M135.8 1841L141.1 1842.5L146.4 1842.5L151.7 1842.1L157 1841.2L162.3 1842L167.6 1841.2L172.9 1840.9L178.2 1842.8L183.5 1841.2L188.7 1842.5L189 1841.8L189.4 1841.2L189.6 1840.5L189.9 1839.9L190.2 1839.3L190.5 1838.6L190.8 1838L191.2 1837.3L191.5 1836.6L192 1835.8L192.4 1834.9L193 1834L194.7 1831.4L196.8 1828.3L199.3 1824.8L202 1821L205 1816.9L208.2 1812.6L211.5 1808.2L214.9 1803.7L218.3 1799.2L221.6 1794.7L224.9 1790.3L228 1786L231.3 1781.4L234.6 1776.7L238 1771.9L241.5 1766.9L244.9 1762L248.4 1757.1L251.8 1752.2L255.2 1747.4L258.5 1742.7L261.8 1738.2L264.9 1734L267.9 1730L270 1727.2L272.1 1724.6L274.1 1722.1L276 1719.6L277.9 1717.2L279.8 1714.9L281.7 1712.6L283.5 1710.3L285.4 1708.1L287.3 1705.9L289.2 1703.7L291.1 1701.5L292.9 1699.4L294.7 1697.4L296.5 1695.4L298.3 1693.4L300.1 1691.4L301.9 1689.4L303.7 1687.5L305.5 1685.6L307.3 1683.7L309.2 1681.9L311 1680.1L312.8 1678.3L314.5 1676.8L316.1 1675.3L317.8 1673.8L319.4 1672.4L321.1 1671L322.7 1669.7L324.4 1668.3L326.1 1666.9L327.8 1665.6L329.5 1664.2L331.2 1662.8L332.9 1661.3L334.8 1659.7L336.7 1658.1L338.6 1656.4L340.6 1654.8L342.5 1653.1L344.5 1651.5L346.5 1649.8L348.4 1648.1L350.4 1646.4L352.3 1644.6L354.3 1642.9L356.2 1641.1L358.2 1639.2L360.2 1637.3L362.2 1635.4L364.2 1633.4L366.2 1631.4L368.1 1629.4L370.1 1627.4L372 1625.4L373.9 1623.4L375.8 1621.5L377.6 1619.7L379.4 1617.9L380.8 1616.5L382.2 1615.2L383.5 1613.9L384.9 1612.6L386.2 1611.3L387.5 1610.1L388.8 1608.8L390 1607.6L391.3 1606.3L392.5 1605.1L393.7 1603.7L394.9 1602.4L396.1 1601L397.2 1599.6L398.3 1598.1L399.4 1596.6L400.5 1595.1L401.5 1593.6L402.6 1592.1L403.7 1590.7L404.7 1589.2L405.8 1587.8L406.9 1586.4L408.1 1585L409.2 1583.7L410.4 1582.4L411.6 1581.1L412.8 1579.9L414.1 1578.6L415.3 1577.3L416.5 1576.1L417.8 1575L419 1573.9L420.1 1572.8L421.2 1571.9L422.3 1571L423 1570.4L423.7 1569.9L424.3 1569.4L425 1568.9L425.6 1568.5L426.3 1568.1L426.9 1567.7L427.5 1567.3L428.1 1566.9L428.8 1566.6L429.4 1566.3L430 1566L430.5 1565.8L431 1565.6L431.5 1565.4L432 1565.3L432.5 1565.1L433 1565L433.5 1564.9L434 1564.8L434.5 1564.7L435 1564.6L435.5 1564.4L436 1564.3"/>
<path d="M135.8 1843.9L141.1 1843.4L146.4 1840.1L151.7 1842.8L157 1841.2L162.3 1842.5L167.6 1842.6L172.9 1840.1L178.2 1842.2L183.5 1842.2L188.8 1843.7L194.1 1841.1L199.4 1843.4L204.7 1841.2L210 1842.1L215.3 1841.5L220.6 1844.2L225.9 1843.2L231.2 1845.4L236.5 1843.3L241.8 1843.5L250 1842.5L250.2 1841.9L250.3 1841.3L250.5 1840.7L250.6 1840.2L250.8 1839.6L250.9 1839L251.1 1838.4L251.3 1837.8L251.4 1837.2L251.6 1836.5L251.8 1835.8L252 1835L252.4 1833.5L252.8 1831.9L253.2 1830.1L253.7 1828.3L254.2 1826.3L254.7 1824.3L255.2 1822.3L255.7 1820.2L256.3 1818.1L256.8 1816L257.4 1814L258 1812L258.6 1810L259.3 1808L260 1806L260.7 1804L261.4 1802L262.2 1799.9L262.9 1797.9L263.7 1795.8L264.4 1793.7L265.2 1791.6L265.9 1789.4L266.7 1787.1L267.6 1784.1L268.6 1781L269.6 1777.7L270.6 1774.3L271.6 1770.9L272.6 1767.5L273.5 1764L274.5 1760.6L275.5 1757.3L276.5 1754.2L277.4 1751.2L278.3 1748.4L278.9 1746.5L279.5 1744.7L280.1 1743L280.7 1741.3L281.2 1739.7L281.8 1738.1L282.4 1736.5L283 1735L283.6 1733.5L284.2 1732L284.8 1730.5L285.5 1729L286.1 1727.6L286.8 1726.3L287.4 1725L288.1 1723.7L288.7 1722.5L289.4 1721.2L290.1 1720L290.9 1718.7L291.6 1717.5L292.4 1716.3L293.3 1715.1L294.2 1713.9L295.3 1712.5L296.4 1711.2L297.5 1709.8L298.7 1708.5L300 1707.1L301.2 1705.8L302.6 1704.5L303.9 1703.2L305.3 1702L306.7 1700.7L308.2 1699.5L309.7 1698.4L311.4 1697.2L313.2 1696L315 1694.9L316.9 1693.7L318.9 1692.7L320.8 1691.6L322.8 1690.6L324.9 1689.6L326.9 1688.7L328.9 1687.8L330.9 1686.9L332.9 1686L334.8 1685.2L336.8 1684.5L338.8 1683.8L340.8 1683.1L342.8 1682.5L344.8 1681.9L346.8 1681.3L348.8 1680.7L350.7 1680.1L352.6 1679.5L354.4 1678.9L356.2 1678.3L357.6 1677.8L359 1677.3L360.3 1676.8L361.6 1676.3L362.9 1675.8L364.2 1675.4L365.5 1674.9L366.7 1674.4L367.9 1673.8L369.2 1673.3L370.4 1672.7L371.7 1672.1L373 1671.4L374.3 1670.8L375.7 1670.1L377 1669.3L378.3 1668.6L379.6 1667.8L380.9 1667.1L382.2 1666.3L383.4 1665.4L384.7 1664.6L385.9 1663.7L387.1 1662.8L388.3 1661.8L389.4 1660.8L390.4 1659.8L391.5 1658.7L392.5 1657.6L393.5 1656.5L394.5 1655.4L395.5 1654.3L396.6 1653.2L397.7 1652.1L398.8 1651L400 1650L401.3 1648.9L402.7 1647.8L404.1 1646.8L405.6 1645.7L407.1 1644.6L408.6 1643.6L410.1 1642.6L411.6 1641.6L413.2 1640.7L414.8 1639.7L416.4 1638.8L418 1638L419.7 1637.2L421.5 1636.4L423.3 1635.7L425.2 1635L427.1 1634.4L428.9 1633.8L430.8 1633.2L432.7 1632.6L434.6 1631.9L436.4 1631.3L438.2 1630.7L440 1630L441.6 1629.4L443.2 1628.8L444.7 1628.2L446.3 1627.6L447.9 1627L449.4 1626.4L450.9 1625.8L452.4 1625.1L453.8 1624.4L455.3 1623.7L456.6 1622.9L458 1622L459.3 1621.1L460.6 1620.1L461.8 1619L463 1617.9L464.1 1616.8L465.2 1615.6L466.4 1614.4L467.5 1613.1L468.6 1611.9L469.7 1610.6L470.8 1609.3L472 1608L473.3 1606.5L474.7 1604.9L476 1603.2L477.3 1601.6L478.6 1599.8L480 1598.1L481.3 1596.4L482.6 1594.6L484 1592.9L485.3 1591.2L486.7 1589.6L488 1588L489.3 1586.6L490.5 1585.1L491.8 1583.6L493.1 1582.2L494.4 1580.7L495.6 1579.3L496.9 1577.9L498.2 1576.6L499.4 1575.3L500.6 1574.1L501.8 1573L503 1572L503.8 1571.3L504.6 1570.7L505.4 1570.1L506.1 1569.5L506.9 1569L507.7 1568.5L508.4 1568L509.1 1567.6L509.9 1567.1L510.6 1566.7L511.3 1566.4L512 1566L512.5 1565.8L513 1565.5L513.6 1565.3L514.1 1565.2L514.6 1565L515 1564.9L515.5 1564.7L516 1564.6L516.5 1564.4L517 1564.3L517.5 1564.2L518 1564"/>
<path d="M135.8 1843.7L141.1 1841.7L146.4 1842.4L151.7 1844.4L157 1841.9L162.3 1842.8L167.6 1842.5L172.9 1843.4L178.2 1842L183.5 1842.3L188.8 1842.8L194.1 1842.6L199.4 1841.3L204.7 1843.8L210 1840.7L215.3 1840.8L220.6 1840.7L225.9 1843.9L231.2 1842L236.5 1841.1L241.8 1840.9L247.1 1843.1L252.4 1841L257.7 1840.7L263 1843.4L268.3 1840.8L273.6 1842L278.9 1842.5L286 1842.5L286.5 1841.1L287 1839.8L287.5 1838.4L287.9 1837.1L288.4 1835.7L288.9 1834.4L289.4 1833L289.9 1831.7L290.4 1830.3L290.9 1828.9L291.4 1827.5L292 1826L292.7 1824.3L293.4 1822.6L294.1 1820.8L294.8 1819L295.5 1817.2L296.3 1815.4L297.1 1813.6L297.8 1811.7L298.6 1809.8L299.4 1807.9L300.2 1806L301 1804L302 1801.6L302.9 1799.1L303.9 1796.6L304.9 1794.1L305.9 1791.5L307 1788.8L308 1786.2L309 1783.5L310 1780.9L311 1778.2L312 1775.6L313 1773L313.9 1770.4L314.9 1767.8L315.8 1765.2L316.7 1762.6L317.6 1759.9L318.5 1757.3L319.4 1754.7L320.3 1752.1L321.2 1749.5L322.1 1747L323.1 1744.5L324 1742L324.9 1739.7L325.7 1737.5L326.6 1735.2L327.4 1733L328.3 1730.8L329.2 1728.6L330.1 1726.5L331 1724.3L331.9 1722.2L332.9 1720.1L333.9 1718L335 1716L336.1 1714L337.3 1712.1L338.5 1710.2L339.7 1708.3L341 1706.4L342.2 1704.5L343.5 1702.7L344.8 1700.9L346.2 1699.1L347.5 1697.4L348.7 1695.7L350 1694L351.1 1692.6L352.1 1691.2L353.2 1689.9L354.3 1688.7L355.3 1687.4L356.4 1686.2L357.5 1684.9L358.5 1683.7L359.6 1682.5L360.7 1681.2L361.9 1679.9L363 1678.6L364.3 1677.1L365.6 1675.5L367 1673.8L368.4 1672.2L369.8 1670.5L371.2 1668.9L372.6 1667.2L374 1665.6L375.4 1664L376.8 1662.5L378.2 1661L379.6 1659.6L380.8 1658.5L382 1657.4L383.2 1656.4L384.5 1655.3L385.7 1654.4L386.9 1653.4L388.1 1652.5L389.3 1651.6L390.5 1650.6L391.6 1649.7L392.7 1648.8L393.8 1647.8L394.7 1647L395.5 1646.1L396.2 1645.3L397 1644.4L397.7 1643.6L398.4 1642.7L399.1 1641.9L399.8 1641L400.6 1640.2L401.4 1639.4L402.3 1638.7L403.3 1637.9L404.6 1637L406 1636.1L407.4 1635.3L409 1634.5L410.5 1633.7L412.2 1633L413.8 1632.2L415.5 1631.5L417.2 1630.7L418.9 1630L420.6 1629.2L422.3 1628.4L424.2 1627.5L426.2 1626.6L428.3 1625.7L430.4 1624.7L432.5 1623.8L434.7 1622.9L436.8 1621.9L438.8 1621L440.8 1620.1L442.7 1619.3L444.4 1618.4L446 1617.6L447 1617.1L447.9 1616.6L448.7 1616.2L449.6 1615.7L450.3 1615.3L451.1 1614.8L451.9 1614.4L452.6 1613.9L453.3 1613.5L454 1612.9L454.8 1612.4L455.5 1611.8L456.3 1611.1L457.1 1610.3L457.9 1609.5L458.7 1608.7L459.5 1607.9L460.2 1607L461 1606.1L461.8 1605.1L462.5 1604.2L463.3 1603.2L464.2 1602.3L465 1601.3L466.1 1600L467.2 1598.7L468.3 1597.3L469.5 1595.9L470.7 1594.5L471.9 1593L473.1 1591.6L474.3 1590.1L475.5 1588.7L476.7 1587.3L478 1586L479.2 1584.7L480.4 1583.6L481.5 1582.4L482.7 1581.3L483.8 1580.2L485 1579.1L486.2 1578.1L487.4 1577.1L488.6 1576.1L489.8 1575.1L491 1574.2L492.3 1573.3L493.5 1572.4L494.7 1571.6L495.8 1570.9L497 1570.1L498.2 1569.4L499.5 1568.7L500.7 1568.1L501.9 1567.4L503.1 1566.8L504.3 1566.3L505.4 1565.8L506.6 1565.4L507.7 1565L508.5 1564.8L509.4 1564.6L510.2 1564.4L511 1564.3L511.7 1564.2L512.5 1564.2L513.3 1564.1L514.1 1564.1L514.9 1564L515.6 1564L516.4 1563.9L517.2 1563.8"/>
<path d="M135.8 1841.9L141.1 1842.4L146.4 1844.4L151.7 1841.8L157 1840.7L162.3 1839.9L167.6 1842.2L172.9 1842L178.2 1842.9L183.5 1841.9L188.8 1841.8L194.1 1841.5L199.4 1841.8L204.7 1842.7L210 1842L215.3 1842.6L220.6 1845.2L225.9 1843.2L231.2 1840.3L236.5 1844.9L241.8 1843L247.1 1841.2L252.4 1843.8L257.7 1842.5L263 1841.6L268.3 1841.6L273.6 1841.1L278.9 1842.6L284.2 1844L289.8 1842.5L290.1 1841.9L290.5 1841.3L290.8 1840.7L291.2 1840.1L291.5 1839.5L291.9 1839L292.2 1838.4L292.5 1837.8L292.9 1837.2L293.2 1836.6L293.5 1836L293.8 1835.4L294.1 1834.8L294.4 1834.2L294.6 1833.6L294.9 1833L295.1 1832.4L295.4 1831.8L295.6 1831.2L295.9 1830.6L296.1 1830L296.4 1829.4L296.6 1828.8L296.8 1828.3L297.1 1827.7L297.3 1827.1L297.6 1826.5L297.8 1825.9L298.1 1825.3L298.3 1824.7L298.6 1824.1L298.8 1823.5L299 1822.9L299.3 1822.3L299.5 1821.7L299.8 1821.1L300 1820.5L300.3 1819.9L300.5 1819.4L300.7 1818.8L301 1818.2L301.2 1817.6L301.5 1817L301.7 1816.4L301.9 1815.8L302.2 1815.2L302.4 1814.6L302.7 1814L302.9 1813.4L303.1 1812.8L303.4 1812.2L303.6 1811.6L303.9 1811L304.1 1810.4L304.4 1809.9L304.6 1809.3L304.8 1808.7L305.1 1808.1L305.3 1807.5L305.6 1806.9L305.8 1806.3L306 1805.7L306.3 1805.1L306.5 1804.5L306.7 1803.9L307 1803.3L307.2 1802.7L307.4 1802.1L307.7 1801.5L307.9 1801L308.1 1800.4L308.4 1799.8L308.6 1799.2L308.8 1798.6L309 1798L309.3 1797.4L309.5 1796.8L309.7 1796.2L309.9 1795.6L310.2 1795L310.4 1794.4L310.6 1793.8L310.8 1793.2L311 1792.6L311.2 1792L311.5 1791.5L311.7 1790.9L311.9 1790.3L312.1 1789.7L312.3 1789.1L312.6 1788.5L312.8 1787.9L313 1787.3L313.2 1786.7L313.4 1786.1L313.6 1785.5L313.9 1784.9L314.1 1784.3L314.3 1783.7L314.5 1783.1L314.7 1782.5L315 1782L315.2 1781.4L315.4 1780.8L315.6 1780.2L315.8 1779.6L316.1 1779L316.3 1778.4L316.5 1777.8L316.7 1777.2L316.9 1776.6L317.1 1776L317.3 1775.4L317.6 1774.8L317.8 1774.2L318 1773.6L318.2 1773.1L318.4 1772.5L318.6 1771.9L318.8 1771.3L319.1 1770.7L319.3 1770.1L319.5 1769.5L319.7 1768.9L319.9 1768.3L320.1 1767.7L320.3 1767.1L320.5 1766.5L320.7 1765.9L320.9 1765.3L321.1 1764.7L321.3 1764.1L321.5 1763.6L321.8 1763L322 1762.4L322.2 1761.8L322.4 1761.2L322.6 1760.6L322.8 1760L323.1 1759.4L323.3 1758.8L323.5 1758.2L323.7 1757.6L323.9 1757L324.1 1756.4L324.3 1755.8L324.6 1755.2L324.8 1754.6L325 1754.1L325.2 1753.5L325.4 1752.9L325.6 1752.3L325.9 1751.7L326.1 1751.1L326.3 1750.5L326.5 1749.9L326.7 1749.3L326.9 1748.7L327.1 1748.1L327.3 1747.5L327.6 1746.9L327.8 1746.3L328 1745.7L328.2 1745.1L328.4 1744.6L328.6 1744L328.9 1743.4L329.1 1742.8L329.3 1742.2L329.6 1741.6L329.8 1741L330 1740.4L330.3 1739.8L330.5 1739.2L330.8 1738.6L331.1 1738L331.3 1737.4L331.6 1736.8L331.8 1736.2L332.1 1735.7L332.3 1735.1L332.6 1734.5L332.8 1733.9L333.1 1733.3L333.3 1732.7L333.6 1732.1L333.9 1731.5L334.1 1730.9L334.4 1730.3L334.6 1729.7L334.9 1729.1L335.2 1728.5L335.4 1727.9L335.7 1727.3L335.9 1726.7L336.2 1726.2L336.4 1725.6L336.7 1725L336.9 1724.4L337.2 1723.8L337.5 1723.2L337.7 1722.6L338 1722L338.3 1721.4L338.5 1720.8L338.8 1720.2L339.1 1719.6L339.3 1719L339.6 1718.4L339.9 1717.8L340.2 1717.2L340.5 1716.6L340.8 1716L341.1 1715.5L341.4 1714.9L341.7 1714.3L342.1 1713.7L342.5 1713.1L342.8 1712.5L343.2 1711.9L343.6 1711.3L344 1710.7L344.4 1710.1L344.9 1709.5L345.3 1708.9L345.7 1708.3L346.1 1707.8L346.5 1707.2L346.9 1706.6L347.3 1706L347.7 1705.4L348.1 1704.8L348.4 1704.2L348.8 1703.6L349.2 1703L349.6 1702.4L350 1701.8L350.4 1701.2L350.8 1700.6L351.2 1700L351.6 1699.4L352 1698.8L352.4 1698.2L352.8 1697.7L353.2 1697.1L353.6 1696.5L354 1695.9L354.5 1695.3L354.9 1694.7L355.3 1694.1L355.7 1693.5L356.2 1692.9L356.6 1692.3L357.1 1691.7L357.6 1691.1L358 1690.5L358.5 1689.9L359 1689.3L359.5 1688.7L360 1688.2L360.5 1687.6L361 1687L361.5 1686.4L361.9 1685.8L362.4 1685.2L362.9 1684.6L363.4 1684L363.9 1683.4L364.4 1682.8L364.8 1682.2L365.3 1681.6L365.8 1681L366.3 1680.4L366.8 1679.9L367.3 1679.3L367.8 1678.7L368.3 1678.1L368.8 1677.5L369.3 1676.9L369.8 1676.3L370.3 1675.7L370.8 1675.1L371.3 1674.5L371.8 1673.9L372.4 1673.3L372.9 1672.7L373.4 1672.1L373.9 1671.5L374.4 1671L374.9 1670.4L375.4 1669.8L375.9 1669.2L376.4 1668.6L376.9 1668L377.4 1667.4L377.9 1666.8L378.4 1666.2L378.9 1665.6L379.5 1665L380 1664.4L380.6 1663.8L381.2 1663.2L381.8 1662.6L382.4 1662L383 1661.4L383.6 1660.8L384.2 1660.2L384.9 1659.6L385.5 1659.1L386.1 1658.5L386.8 1657.9L387.4 1657.3L388.1 1656.7L388.7 1656.1L389.4 1655.5L390.1 1654.9L390.8 1654.3L391.5 1653.8L392.2 1653.2L392.9 1652.6L393.6 1652L394.2 1651.4L394.9 1650.8L395.5 1650.2L396.1 1649.6L396.6 1649L397.2 1648.4L397.7 1647.8L398.2 1647.2L398.7 1646.6L399.2 1646.1L399.7 1645.5L400.2 1644.9L400.7 1644.3L401.2 1643.7L401.7 1643.1L402.2 1642.5L402.7 1641.9L403.1 1641.3L403.6 1640.6L404 1640L404.4 1639.4L404.9 1638.8L405.4 1638.2L405.8 1637.6L406.4 1637.1L406.9 1636.5L407.5 1635.9L408.3 1635.3L409.1 1634.6L409.9 1634L410.8 1633.4L411.7 1632.8L412.7 1632.2L413.6 1631.6L414.6 1631.1L415.6 1630.5L416.7 1629.9L417.7 1629.4L418.7 1628.8L420 1628.2L421.2 1627.6L422.5 1626.9L423.8 1626.3L425.2 1625.8L426.6 1625.2L427.9 1624.6L429.3 1624L430.7 1623.4L432.1 1622.9L433.5 1622.3L434.8 1621.7L436.2 1621.1L437.6 1620.5L439 1619.9L440.4 1619.4L441.8 1618.8L443.2 1618.2L444.6 1617.6L446 1617L447.3 1616.4L448.7 1615.8L449.9 1615.2L451.1 1614.6L452.2 1614L453.1 1613.4L454.1 1612.9L455 1612.3L456 1611.7L456.9 1611.1L457.8 1610.5L458.6 1609.9L459.5 1609.3L460.3 1608.7L461.1 1608.1L461.9 1607.4L462.6 1606.9L463.2 1606.3L463.8 1605.7L464.4 1605.1L465 1604.5L465.6 1603.9L466.2 1603.3L466.8 1602.7L467.3 1602.1L467.9 1601.5L468.4 1600.9L469 1600.3L469.5 1599.7L470 1599.1L470.6 1598.6L471.1 1598L471.6 1597.4L472.1 1596.8L472.6 1596.2L473.1 1595.6L473.6 1595L474.1 1594.4L474.6 1593.8L475.1 1593.2L475.6 1592.6L476.1 1592L476.6 1591.4L477.1 1590.8L477.6 1590.2L478.1 1589.6L478.5 1589L479 1588.4L479.5 1587.8L480.1 1587.2L480.6 1586.6L481.1 1586.1L481.7 1585.5L482.3 1584.9L482.9 1584.3L483.6 1583.7L484.2 1583.1L484.9 1582.5L485.5 1581.9L486.2 1581.3L486.8 1580.7L487.5 1580.1L488.2 1579.5L488.8 1578.9L489.5 1578.3L490.2 1577.7L490.8 1577.1L491.5 1576.5L492.1 1575.9L492.8 1575.3L493.5 1574.7L494.2 1574.1L494.9 1573.5L495.6 1572.9L496.4 1572.4L497.2 1571.8L498.3 1571.2L499.4 1570.5L500.6 1569.9L501.8 1569.3L503 1568.7L504.3 1568.2L505.6 1567.6L506.9 1567L508.2 1566.4L509.5 1565.9L510.7 1565.3L512 1564.7"/>
<path d="M135.8 1842L141.1 1843.1L146.4 1845.1L151.7 1840.8L157 1842.9L162.3 1842.1L167.6 1841L172.9 1841.1L178.2 1842.5L183.5 1843.1L188.8 1841.8L194.1 1842.6L199.4 1843.5L204.7 1842.9L210 1843.7L215.3 1843.1L220.6 1843.2L225.9 1845.1L231.2 1843.4L236.5 1842.7L241.8 1843.5L247.1 1841.2L252.4 1842L257.7 1843.6L263 1843.4L268.3 1844.7L273.6 1842.5L278.9 1840.5L284.2 1845.2L289.5 1844L293.6 1842.5L294.1 1841.9L294.5 1841.3L295 1840.7L295.5 1840.1L296 1839.6L296.4 1839L296.9 1838.4L297.4 1837.8L297.8 1837.2L298.3 1836.6L298.7 1836L299.1 1835.4L299.4 1834.8L299.7 1834.2L300 1833.6L300.3 1833L300.6 1832.4L300.9 1831.8L301.2 1831.2L301.4 1830.6L301.7 1830L302 1829.5L302.2 1828.9L302.5 1828.3L302.8 1827.7L303 1827.1L303.3 1826.5L303.6 1825.9L303.8 1825.3L304.1 1824.7L304.3 1824.1L304.6 1823.5L304.8 1822.9L305.1 1822.3L305.3 1821.7L305.6 1821.1L305.8 1820.5L306 1819.9L306.3 1819.4L306.5 1818.8L306.8 1818.2L307 1817.6L307.2 1817L307.5 1816.4L307.7 1815.8L308 1815.2L308.2 1814.6L308.4 1814L308.7 1813.4L308.9 1812.8L309.1 1812.2L309.4 1811.6L309.6 1811L309.9 1810.4L310.1 1809.9L310.3 1809.3L310.6 1808.7L310.8 1808.1L311.1 1807.5L311.3 1806.9L311.5 1806.3L311.8 1805.7L312 1805.1L312.2 1804.5L312.5 1803.9L312.7 1803.3L313 1802.7L313.2 1802.1L313.4 1801.5L313.7 1801L313.9 1800.4L314.1 1799.8L314.3 1799.2L314.5 1798.6L314.8 1798L315 1797.4L315.2 1796.8L315.4 1796.2L315.6 1795.6L315.8 1795L316 1794.4L316.2 1793.8L316.5 1793.2L316.7 1792.6L316.9 1792L317.1 1791.5L317.3 1790.9L317.5 1790.3L317.7 1789.7L317.9 1789.1L318.1 1788.5L318.3 1787.9L318.5 1787.3L318.7 1786.7L318.9 1786.1L319.1 1785.5L319.3 1784.9L319.6 1784.3L319.8 1783.7L320 1783.1L320.2 1782.5L320.4 1782L320.6 1781.4L320.8 1780.8L321 1780.2L321.2 1779.6L321.4 1779L321.6 1778.4L321.8 1777.8L322 1777.2L322.2 1776.6L322.4 1776L322.6 1775.4L322.8 1774.8L323.1 1774.2L323.3 1773.6L323.5 1773L323.7 1772.5L323.9 1771.9L324.1 1771.3L324.3 1770.7L324.5 1770.1L324.7 1769.5L324.9 1768.9L325.1 1768.3L325.3 1767.7L325.5 1767.1L325.7 1766.5L325.9 1765.9L326.1 1765.3L326.3 1764.7L326.5 1764.1L326.7 1763.6L327 1763L327.2 1762.4L327.4 1761.8L327.6 1761.2L327.8 1760.6L328.1 1760L328.3 1759.4L328.5 1758.8L328.7 1758.2L328.9 1757.6L329.2 1757L329.4 1756.4L329.6 1755.8L329.8 1755.2L330 1754.6L330.3 1754.1L330.5 1753.5L330.7 1752.9L330.9 1752.3L331.1 1751.7L331.4 1751.1L331.6 1750.5L331.8 1749.9L332 1749.3L332.2 1748.7L332.5 1748.1L332.7 1747.5L332.9 1746.9L333.1 1746.3L333.3 1745.7L333.5 1745.1L333.8 1744.6L334 1744L334.2 1743.4L334.4 1742.8L334.7 1742.2L334.9 1741.6L335.2 1741L335.4 1740.4L335.7 1739.8L335.9 1739.2L336.2 1738.6L336.4 1738L336.7 1737.4L336.9 1736.8L337.2 1736.2L337.5 1735.7L337.7 1735.1L338 1734.5L338.2 1733.9L338.5 1733.3L338.8 1732.7L339 1732.1L339.3 1731.5L339.6 1730.9L339.8 1730.3L340.1 1729.7L340.4 1729.1L340.6 1728.5L340.9 1727.9L341.1 1727.3L341.4 1726.7L341.7 1726.2L341.9 1725.6L342.2 1725L342.4 1724.4L342.7 1723.8L343 1723.2L343.2 1722.6L343.5 1722L343.8 1721.4L344.1 1720.8L344.4 1720.2L344.6 1719.6L344.9 1719L345.2 1718.4L345.5 1717.8L345.8 1717.2L346.1 1716.6L346.4 1716L346.7 1715.5L347 1714.9L347.3 1714.3L347.7 1713.7L348 1713.1L348.4 1712.5L348.8 1711.9L349.2 1711.3L349.6 1710.7L350 1710.1L350.4 1709.5L350.8 1708.9L351.2 1708.3L351.5 1707.8L351.9 1707.2L352.3 1706.6L352.7 1706L353.1 1705.4L353.5 1704.8L353.9 1704.2L354.2 1703.6L354.6 1703L355 1702.4L355.4 1701.8L355.8 1701.2L356.2 1700.6L356.6 1700L357 1699.4L357.3 1698.8L357.7 1698.3L358.1 1697.7L358.5 1697.1L358.9 1696.5L359.3 1695.9L359.7 1695.3L360.1 1694.7L360.6 1694.1L361 1693.5L361.4 1692.9L361.8 1692.3L362.3 1691.7L362.7 1691.1L363.2 1690.5L363.7 1689.9L364.1 1689.3L364.6 1688.8L365.1 1688.2L365.6 1687.6L366 1687L366.5 1686.4L367 1685.8L367.4 1685.2L367.9 1684.6L368.4 1684L368.8 1683.4L369.3 1682.8L369.8 1682.2L370.2 1681.6L370.7 1681L371.2 1680.4L371.6 1679.9L372.1 1679.3L372.6 1678.7L373.1 1678.1L373.6 1677.5L374.1 1676.9L374.6 1676.3L375.1 1675.7L375.6 1675.1L376.1 1674.5L376.6 1673.9L377.1 1673.3L377.6 1672.7L378.1 1672.1L378.6 1671.5L379.1 1671L379.6 1670.4L380.1 1669.8L380.6 1669.2L381.1 1668.6L381.6 1668L382.1 1667.4L382.5 1666.8L383.1 1666.2L383.6 1665.6L384.1 1665L384.7 1664.4L385.3 1663.8L385.9 1663.2L386.5 1662.6L387.2 1662L387.8 1661.4L388.5 1660.8L389.2 1660.2L389.8 1659.6L390.5 1659.1L391.2 1658.5L391.9 1657.9L392.6 1657.3L393.3 1656.7L394 1656.1L394.7 1655.5L395.4 1654.9L396.1 1654.3L396.8 1653.7L397.5 1653.2L398.3 1652.6L399 1652L399.7 1651.4L400.4 1650.8L401.1 1650.2L401.7 1649.6L402.4 1649L403.1 1648.4L403.7 1647.8L404.4 1647.2L405 1646.6L405.7 1646L406.3 1645.4L406.9 1644.8L407.6 1644.2L408.2 1643.6L408.9 1643.1L409.5 1642.5L410.1 1641.9L410.7 1641.3L411.3 1640.7L411.9 1640L412.5 1639.4L413.2 1638.8L413.8 1638.2L414.4 1637.7L415.1 1637.1L415.8 1636.5L416.5 1635.9L417.3 1635.3L418.2 1634.7L419.1 1634.1L420 1633.5L421 1632.9L421.9 1632.3L422.9 1631.7L423.9 1631.1L424.9 1630.5L425.9 1629.9L426.9 1629.4L428 1628.8L429.1 1628.2L430.3 1627.6L431.4 1627L432.6 1626.4L433.8 1625.8L435.1 1625.2L436.3 1624.6L437.5 1624L438.8 1623.5L440 1622.9L441.2 1622.3L442.4 1621.7L443.5 1621.1L444.7 1620.5L445.9 1619.9L447.1 1619.4L448.3 1618.8L449.4 1618.2L450.6 1617.6L451.8 1617L452.9 1616.4L454 1615.8L455.1 1615.2L456.1 1614.6L457 1614L457.9 1613.4L458.7 1612.9L459.6 1612.3L460.4 1611.7L461.2 1611.1L462 1610.5L462.8 1609.9L463.5 1609.3L464.3 1608.7L465 1608.1L465.7 1607.4L466.3 1606.9L466.9 1606.3L467.5 1605.7L468.1 1605.1L468.6 1604.5L469.2 1603.9L469.7 1603.3L470.3 1602.7L470.8 1602.1L471.3 1601.5L471.8 1600.9L472.4 1600.3L472.9 1599.7L473.4 1599.1L473.9 1598.5L474.4 1598L474.9 1597.4L475.4 1596.8L475.9 1596.2L476.4 1595.6L476.9 1595L477.4 1594.4L477.8 1593.8L478.3 1593.2L478.8 1592.6L479.3 1592L479.8 1591.4L480.3 1590.8L480.7 1590.2L481.2 1589.6L481.7 1589L482.2 1588.4L482.7 1587.8L483.2 1587.2L483.7 1586.6L484.2 1586.1L484.8 1585.5L485.4 1584.9L486 1584.3L486.6 1583.7L487.3 1583.1L487.9 1582.5L488.5 1581.9L489.2 1581.3L489.8 1580.7L490.5 1580.1L491.1 1579.5L491.8 1578.9L492.4 1578.3L493.1 1577.7L493.7 1577.1L494.3 1576.5L495 1575.9L495.6 1575.3L496.3 1574.7L496.9 1574.1L497.6 1573.5L498.3 1572.9L499.1 1572.4L499.9 1571.8L500.9 1571.2L501.9 1570.5L503.1 1569.9L504.2 1569.3L505.4 1568.7L506.6 1568.2L507.8 1567.6L509 1567L510.3 1566.4L511.5 1565.9L512.7 1565.3L513.9 1564.7"/>
<path d="M135.8 1841L141.1 1844.4L146.4 1842.5L151.7 1840L157 1841.9L162.3 1841.8L167.6 1844.7L172.9 1841.4L178.2 1842.1L183.5 1842.1L188.8 1842L194.1 1841.2L199.4 1842.8L204.7 1844L210 1843.4L215.3 1841.2L220.6 1840.9L225.9 1842.7L231.2 1841.5L236.5 1841.6L241.8 1840.1L247.1 1845.2L252.4 1843.8L257.7 1841.1L263 1843.8L268.3 1844.4L273.6 1839.2L278.9 1841.7L284.2 1842L289.5 1843.4L297.4 1842.5L298 1841.9L298.6 1841.3L299.2 1840.7L299.8 1840.2L300.4 1839.6L301 1839L301.6 1838.4L302.2 1837.8L302.8 1837.2L303.3 1836.6L303.8 1836L304.3 1835.4L304.7 1834.8L305.1 1834.2L305.4 1833.6L305.8 1833.1L306.1 1832.5L306.4 1831.9L306.7 1831.3L307 1830.7L307.3 1830.1L307.6 1829.5L307.9 1828.9L308.2 1828.3L308.5 1827.7L308.7 1827.1L309 1826.5L309.3 1825.9L309.6 1825.3L309.8 1824.7L310.1 1824.1L310.3 1823.5L310.6 1822.9L310.8 1822.3L311.1 1821.7L311.3 1821.1L311.6 1820.5L311.8 1819.9L312.1 1819.4L312.3 1818.8L312.6 1818.2L312.8 1817.6L313 1817L313.3 1816.4L313.5 1815.8L313.7 1815.2L314 1814.6L314.2 1814L314.4 1813.4L314.7 1812.8L314.9 1812.2L315.1 1811.6L315.4 1811L315.6 1810.4L315.9 1809.9L316.1 1809.3L316.3 1808.7L316.6 1808.1L316.8 1807.5L317 1806.9L317.3 1806.3L317.5 1805.7L317.7 1805.1L318 1804.5L318.2 1803.9L318.5 1803.3L318.7 1802.7L318.9 1802.1L319.2 1801.5L319.4 1801L319.6 1800.4L319.8 1799.8L320.1 1799.2L320.3 1798.6L320.5 1798L320.7 1797.4L320.9 1796.8L321.1 1796.2L321.3 1795.6L321.5 1795L321.7 1794.4L321.9 1793.8L322.1 1793.2L322.3 1792.6L322.5 1792L322.7 1791.5L322.9 1790.9L323.1 1790.3L323.3 1789.7L323.5 1789.1L323.7 1788.5L323.9 1787.9L324.1 1787.3L324.2 1786.7L324.4 1786.1L324.6 1785.5L324.8 1784.9L325 1784.3L325.2 1783.7L325.4 1783.1L325.6 1782.5L325.8 1782L326 1781.4L326.2 1780.8L326.4 1780.2L326.6 1779.6L326.8 1779L327 1778.4L327.2 1777.8L327.4 1777.2L327.6 1776.6L327.8 1776L327.9 1775.4L328.1 1774.8L328.3 1774.2L328.5 1773.6L328.7 1773L328.9 1772.5L329.1 1771.9L329.3 1771.3L329.5 1770.7L329.7 1770.1L329.9 1769.5L330.1 1768.9L330.3 1768.3L330.5 1767.7L330.7 1767.1L330.9 1766.5L331.1 1765.9L331.3 1765.3L331.5 1764.7L331.7 1764.1L331.9 1763.6L332.2 1763L332.4 1762.4L332.6 1761.8L332.8 1761.2L333.1 1760.6L333.3 1760L333.5 1759.4L333.7 1758.8L334 1758.2L334.2 1757.6L334.4 1757L334.6 1756.4L334.9 1755.8L335.1 1755.2L335.3 1754.6L335.5 1754.1L335.8 1753.5L336 1752.9L336.2 1752.3L336.4 1751.7L336.7 1751.1L336.9 1750.5L337.1 1749.9L337.3 1749.3L337.6 1748.7L337.8 1748.1L338 1747.5L338.2 1746.9L338.4 1746.3L338.7 1745.7L338.9 1745.1L339.1 1744.6L339.3 1744L339.6 1743.4L339.8 1742.8L340 1742.2L340.3 1741.6L340.5 1741L340.8 1740.4L341 1739.8L341.3 1739.2L341.5 1738.6L341.8 1738L342.1 1737.4L342.3 1736.8L342.6 1736.2L342.8 1735.7L343.1 1735.1L343.4 1734.5L343.6 1733.9L343.9 1733.3L344.2 1732.7L344.4 1732.1L344.7 1731.5L345 1730.9L345.3 1730.3L345.5 1729.7L345.8 1729.1L346.1 1728.5L346.4 1727.9L346.6 1727.3L346.9 1726.7L347.2 1726.2L347.4 1725.6L347.7 1725L348 1724.4L348.2 1723.8L348.5 1723.2L348.8 1722.6L349.1 1722L349.3 1721.4L349.6 1720.8L349.9 1720.2L350.2 1719.6L350.5 1719L350.8 1718.4L351 1717.8L351.3 1717.2L351.6 1716.6L351.9 1716.1L352.2 1715.5L352.6 1714.9L352.9 1714.3L353.2 1713.7L353.6 1713.1L354 1712.5L354.3 1711.9L354.7 1711.3L355.1 1710.7L355.5 1710.1L355.9 1709.5L356.2 1708.9L356.6 1708.3L357 1707.8L357.4 1707.2L357.8 1706.6L358.1 1706L358.5 1705.4L358.9 1704.8L359.3 1704.2L359.6 1703.6L360 1703L360.4 1702.4L360.8 1701.8L361.1 1701.2L361.5 1700.6L361.9 1700L362.3 1699.4L362.7 1698.8L363.1 1698.3L363.4 1697.7L363.8 1697.1L364.2 1696.5L364.6 1695.9L365 1695.3L365.4 1694.7L365.8 1694.1L366.2 1693.5L366.6 1692.9L367.1 1692.3L367.5 1691.7L367.9 1691.1L368.4 1690.5L368.8 1689.9L369.3 1689.3L369.7 1688.8L370.2 1688.2L370.6 1687.6L371.1 1687L371.5 1686.4L372 1685.8L372.4 1685.2L372.9 1684.6L373.3 1684L373.8 1683.4L374.2 1682.8L374.7 1682.2L375.1 1681.6L375.6 1681L376 1680.4L376.5 1679.8L377 1679.3L377.4 1678.7L377.9 1678.1L378.4 1677.5L378.9 1676.9L379.4 1676.3L379.9 1675.7L380.4 1675.1L380.9 1674.5L381.4 1673.9L381.9 1673.3L382.4 1672.7L382.9 1672.1L383.4 1671.5L383.9 1671L384.3 1670.4L384.8 1669.8L385.3 1669.2L385.7 1668.5L386.2 1667.9L386.7 1667.4L387.2 1666.8L387.7 1666.2L388.2 1665.6L388.7 1665L389.3 1664.4L389.9 1663.8L390.6 1663.2L391.3 1662.6L392 1662L392.7 1661.4L393.4 1660.8L394.1 1660.2L394.8 1659.6L395.6 1659.1L396.3 1658.5L397 1657.9L397.8 1657.3L398.5 1656.7L399.3 1656.1L400 1655.5L400.7 1654.9L401.5 1654.3L402.3 1653.7L403 1653.1L403.8 1652.5L404.5 1651.9L405.3 1651.3L406.1 1650.8L406.9 1650.2L407.7 1649.6L408.5 1649L409.3 1648.4L410.2 1647.8L411 1647.2L411.8 1646.6L412.7 1646L413.5 1645.4L414.4 1644.8L415.2 1644.2L416.1 1643.6L417 1643.1L417.8 1642.5L418.7 1641.9L419.6 1641.3L420.4 1640.7L421.3 1640.1L422.2 1639.5L423.1 1638.9L424 1638.3L424.9 1637.7L425.8 1637.1L426.7 1636.5L427.6 1635.9L428.6 1635.3L429.7 1634.7L430.7 1634.1L431.7 1633.5L432.8 1632.9L433.8 1632.3L434.9 1631.8L436 1631.2L437 1630.6L438.1 1630L439.1 1629.4L440.2 1628.8L441.2 1628.2L442.2 1627.6L443.3 1627L444.3 1626.5L445.4 1625.9L446.4 1625.3L447.4 1624.7L448.4 1624.1L449.5 1623.5L450.4 1622.9L451.4 1622.3L452.4 1621.7L453.3 1621.1L454.1 1620.5L455 1620L455.8 1619.4L456.7 1618.8L457.5 1618.2L458.3 1617.6L459.1 1617L459.9 1616.4L460.7 1615.8L461.5 1615.2L462.2 1614.6L462.9 1614L463.6 1613.4L464.3 1612.8L464.9 1612.2L465.6 1611.7L466.2 1611.1L466.9 1610.5L467.5 1609.9L468.1 1609.3L468.7 1608.7L469.3 1608.1L469.9 1607.4L470.4 1606.9L471 1606.3L471.5 1605.7L472 1605.1L472.4 1604.5L472.9 1603.9L473.4 1603.3L473.9 1602.7L474.4 1602.1L474.8 1601.5L475.3 1600.9L475.8 1600.3L476.3 1599.7L476.8 1599.1L477.2 1598.5L477.7 1597.9L478.2 1597.3L478.7 1596.8L479.2 1596.2L479.6 1595.6L480.1 1595L480.6 1594.4L481.1 1593.8L481.6 1593.2L482 1592.6L482.5 1592L483 1591.4L483.4 1590.8L483.9 1590.2L484.4 1589.6L484.8 1589L485.3 1588.4L485.8 1587.8L486.3 1587.2L486.8 1586.6L487.3 1586.1L487.9 1585.5L488.5 1584.9L489.1 1584.3L489.7 1583.7L490.3 1583.1L490.9 1582.5L491.6 1581.9L492.2 1581.3L492.8 1580.7L493.5 1580.1L494.1 1579.5L494.7 1578.9L495.4 1578.3L496 1577.7L496.6 1577.1L497.2 1576.5L497.8 1575.9L498.4 1575.3L499.1 1574.7L499.7 1574.1L500.4 1573.5L501 1572.9L501.8 1572.4L502.5 1571.8L503.5 1571.2L504.5 1570.5L505.5 1569.9L506.6 1569.3L507.7 1568.7L508.9 1568.2L510 1567.6L511.2 1567L512.4 1566.4L513.5 1565.9L514.7 1565.3L515.8 1564.7"/>
<path d="M135.8 1842.3L141.1 1842.2L146.4 1842.4L151.7 1845.1L157 1845.5L162.3 1841.8L167.6 1841.2L172.9 1846.3L178.2 1841.1L183.5 1841.7L188.8 1842.6L194.1 1843.2L199.4 1843.9L204.7 1843L210 1841.3L215.3 1843.2L220.6 1842.8L225.9 1845.1L231.2 1842.5L236.5 1840.6L241.8 1841L247.1 1844.5L252.4 1841.7L257.7 1839.6L263 1841.7L268.3 1842.5L273.6 1844.2L278.9 1841.1L284.2 1843.4L288 1836L289.3 1835.4L290.7 1834.9L292.1 1834.4L293.5 1833.9L294.8 1833.4L296.2 1832.9L297.6 1832.4L298.9 1831.8L300.2 1831.2L301.5 1830.5L302.8 1829.8L304 1829L305.2 1828.1L306.4 1827.1L307.6 1826L308.8 1824.8L309.9 1823.6L311 1822.4L312.1 1821.1L313.2 1819.9L314.2 1818.6L315.2 1817.4L316.1 1816.2L317 1815L317.7 1814.1L318.4 1813.1L319.1 1812.1L319.8 1811.1L320.4 1810.1L321.1 1809.2L321.6 1808.2L322.2 1807.3L322.7 1806.4L323.2 1805.6L323.6 1804.7L324 1804L324.2 1803.6L324.4 1803.2L324.5 1802.9L324.7 1802.5L324.8 1802.2L324.9 1801.8L325 1801.5L325.1 1801.2L325.2 1800.9L325.3 1800.5L325.4 1800.1L325.6 1799.8L325.8 1799.2L325.9 1798.7L326.1 1798.1L326.3 1797.5L326.5 1796.9L326.7 1796.3L326.9 1795.7L327.1 1795.1L327.3 1794.5L327.5 1793.8L327.7 1793.2L327.9 1792.6L328.1 1792L328.3 1791.5L328.5 1790.9L328.7 1790.3L328.9 1789.7L329 1789.1L329.2 1788.5L329.4 1787.9L329.6 1787.3L329.8 1786.7L329.9 1786.1L330.1 1785.5L330.3 1784.9L330.5 1784.3L330.7 1783.7L330.9 1783.1L331.1 1782.5L331.2 1782L331.4 1781.4L331.6 1780.8L331.8 1780.2L332 1779.6L332.2 1779L332.3 1778.4L332.5 1777.8L332.7 1777.2L332.9 1776.6L333.1 1776L333.2 1775.4L333.4 1774.8L333.6 1774.2L333.8 1773.6L334 1773L334.2 1772.5L334.3 1771.9L334.5 1771.3L334.7 1770.7L334.9 1770.1L335.1 1769.5L335.3 1768.9L335.5 1768.3L335.7 1767.7L335.9 1767.1L336.1 1766.5L336.3 1765.9L336.5 1765.3L336.7 1764.7L336.9 1764.1L337.1 1763.6L337.4 1763L337.6 1762.4L337.8 1761.8L338 1761.2L338.3 1760.6L338.5 1760L338.7 1759.4L339 1758.8L339.2 1758.2L339.4 1757.6L339.7 1757L339.9 1756.4L340.1 1755.8L340.4 1755.2L340.6 1754.6L340.8 1754.1L341 1753.5L341.3 1752.9L341.5 1752.3L341.7 1751.7L342 1751.1L342.2 1750.5L342.4 1749.9L342.6 1749.3L342.9 1748.7L343.1 1748.1L343.3 1747.5L343.5 1746.9L343.8 1746.3L344 1745.7L344.2 1745.1L344.5 1744.6L344.7 1744L344.9 1743.4L345.2 1742.8L345.4 1742.2L345.6 1741.6L345.9 1741L346.1 1740.4L346.4 1739.8L346.7 1739.2L346.9 1738.6L347.2 1738L347.4 1737.4L347.7 1736.8L348 1736.2L348.2 1735.7L348.5 1735.1L348.8 1734.5L349 1733.9L349.3 1733.3L349.6 1732.7L349.9 1732.1L350.1 1731.5L350.4 1730.9L350.7 1730.3L351 1729.7L351.3 1729.1L351.5 1728.5L351.8 1727.9L352.1 1727.3L352.4 1726.7L352.6 1726.2L352.9 1725.6L353.2 1725L353.5 1724.4L353.7 1723.8L354 1723.2L354.3 1722.6L354.6 1722L354.9 1721.4L355.2 1720.8L355.4 1720.2L355.7 1719.6L356 1719L356.3 1718.4L356.6 1717.8L356.9 1717.2L357.2 1716.6L357.5 1716.1L357.8 1715.5L358.1 1714.9L358.5 1714.3L358.8 1713.7L359.1 1713.1L359.5 1712.5L359.9 1711.9L360.2 1711.3L360.6 1710.7L361 1710.1L361.4 1709.5L361.7 1708.9L362.1 1708.3L362.5 1707.8L362.8 1707.2L363.2 1706.6L363.6 1706L363.9 1705.4L364.3 1704.8L364.7 1704.2L365 1703.6L365.4 1703L365.8 1702.4L366.1 1701.8L366.5 1701.2L366.9 1700.6L367.2 1700L367.6 1699.4L368 1698.8L368.4 1698.3L368.8 1697.7L369.1 1697.1L369.5 1696.5L369.9 1695.9L370.3 1695.3L370.7 1694.7L371.1 1694.1L371.5 1693.5L371.9 1692.9L372.3 1692.3L372.7 1691.7L373.1 1691.1L373.6 1690.5L374 1689.9L374.4 1689.3L374.8 1688.8L375.3 1688.2L375.7 1687.6L376.1 1687L376.6 1686.4L377 1685.8L377.4 1685.2L377.9 1684.6L378.3 1684L378.7 1683.4L379.2 1682.8L379.6 1682.2L380 1681.6L380.5 1681L380.9 1680.4L381.3 1679.8L381.8 1679.3L382.2 1678.7L382.7 1678.1L383.2 1677.5L383.7 1676.9L384.2 1676.3L384.6 1675.7L385.1 1675.1L385.6 1674.5L386.1 1673.9L386.6 1673.3L387.1 1672.7L387.6 1672.1L388.1 1671.5L388.6 1671L389 1670.4L389.5 1669.7L390 1669.1L390.4 1668.5L390.9 1667.9L391.4 1667.3L391.8 1666.7L392.3 1666.2L392.8 1665.6L393.4 1665L393.9 1664.4L394.6 1663.8L395.3 1663.2L396 1662.6L396.7 1662L397.5 1661.4L398.2 1660.8L399 1660.2L399.8 1659.6L400.6 1659.1L401.4 1658.5L402.1 1657.9L402.9 1657.3L403.7 1656.7L404.4 1656.1L405.2 1655.5L405.9 1654.9L406.7 1654.3L407.5 1653.7L408.2 1653.1L409 1652.5L409.8 1651.9L410.6 1651.3L411.4 1650.8L412.2 1650.2L413.1 1649.6L413.9 1649L414.8 1648.4L415.7 1647.8L416.7 1647.2L417.6 1646.6L418.5 1646L419.4 1645.4L420.4 1644.8L421.3 1644.2L422.2 1643.6L423.2 1643.1L424.1 1642.5L425 1641.9L426 1641.3L426.9 1640.7L427.8 1640.1L428.8 1639.5L429.7 1638.9L430.6 1638.3L431.6 1637.7L432.5 1637.1L433.5 1636.5L434.4 1635.9L435.4 1635.3L436.4 1634.7L437.4 1634.1L438.4 1633.6L439.4 1633L440.4 1632.4L441.4 1631.8L442.4 1631.2L443.4 1630.6L444.4 1630L445.4 1629.4L446.4 1628.8L447.3 1628.2L448.3 1627.6L449.3 1627.1L450.2 1626.5L451.2 1625.9L452.1 1625.3L453 1624.7L454 1624.1L454.9 1623.5L455.8 1622.9L456.6 1622.3L457.5 1621.7L458.3 1621.1L459 1620.5L459.8 1620L460.5 1619.4L461.2 1618.8L461.9 1618.2L462.6 1617.6L463.3 1617L464 1616.4L464.6 1615.8L465.3 1615.2L466 1614.6L466.6 1614L467.3 1613.4L467.9 1612.8L468.6 1612.2L469.2 1611.6L469.8 1611L470.4 1610.5L471 1609.9L471.6 1609.3L472.2 1608.7L472.8 1608L473.4 1607.4L473.9 1606.9L474.4 1606.3L474.9 1605.7L475.4 1605.1L475.9 1604.5L476.3 1603.9L476.8 1603.3L477.2 1602.7L477.7 1602.1L478.2 1601.5L478.6 1600.9L479.1 1600.3L479.6 1599.7L480.1 1599.1L480.5 1598.5L481 1597.9L481.5 1597.3L481.9 1596.8L482.4 1596.2L482.9 1595.6L483.4 1595L483.8 1594.4L484.3 1593.8L484.8 1593.2L485.2 1592.6L485.7 1592L486.2 1591.4L486.6 1590.8L487.1 1590.2L487.5 1589.6L488 1589L488.5 1588.4L488.9 1587.8L489.4 1587.2L489.9 1586.6L490.4 1586.1L491 1585.5L491.6 1584.9L492.2 1584.3L492.8 1583.7L493.4 1583.1L494 1582.5L494.6 1581.9L495.2 1581.3L495.8 1580.7L496.5 1580.1L497.1 1579.5L497.7 1578.9L498.3 1578.3L498.9 1577.7L499.5 1577.1L500.1 1576.5L500.7 1575.9L501.2 1575.3L501.8 1574.7L502.5 1574.1L503.1 1573.5L503.7 1573L504.4 1572.4L505.2 1571.8L506.1 1571.2L507 1570.6L508 1569.9L509 1569.3L510.1 1568.8L511.2 1568.2L512.3 1567.6L513.4 1567L514.5 1566.4L515.6 1565.9L516.6 1565.3L517.7 1564.7"/>
<path d="M135.8 1843.6L141.1 1841.5L146.4 1842.2L151.7 1845L157 1844.9L162.3 1843.7L167.6 1843L172.9 1844.1L178.2 1842.3L183.5 1842.4L188.8 1841.3L194.1 1842.5L199.4 1842.4L204.7 1846.4L210 1842.2L215.3 1844.3L220.6 1844.3L225.9 1842.2L231.2 1844.1L236.5 1839.5L241.8 1842.6L247.1 1843.7L252.4 1839.1L257.7 1840.9L263 1844L268.3 1842.1L273.6 1841L278.9 1842L284.2 1841.7L289.5 1843.5L294.8 1843.1L300.1 1842.1L305 1842.5L305.7 1842.1L306.3 1841.8L307 1841.5L307.7 1841.2L308.4 1840.9L309.1 1840.5L309.8 1840.2L310.4 1839.8L311.1 1839.4L311.7 1839L312.4 1838.5L313 1838L313.7 1837.3L314.5 1836.5L315.2 1835.6L315.8 1834.7L316.5 1833.8L317.2 1832.8L317.8 1831.8L318.4 1830.7L319.1 1829.6L319.7 1828.4L320.4 1827.2L321 1826L321.9 1824.1L322.9 1822.1L323.8 1819.9L324.8 1817.7L325.7 1815.3L326.7 1812.9L327.6 1810.4L328.5 1807.9L329.4 1805.4L330.3 1802.9L331.2 1800.4L332 1798L332.8 1795.5L333.6 1792.9L334.4 1790.3L335.1 1787.7L335.8 1785.1L336.5 1782.5L337.2 1779.9L337.9 1777.3L338.6 1774.7L339.4 1772.1L340.2 1769.5L341 1767L341.8 1764.6L342.7 1762.2L343.6 1759.8L344.5 1757.4L345.4 1755L346.3 1752.7L347.2 1750.3L348.2 1748L349.1 1745.7L350.1 1743.5L351 1741.2L352 1739L352.9 1737L353.8 1735L354.7 1733L355.5 1731.1L356.4 1729.1L357.3 1727.2L358.3 1725.3L359.2 1723.4L360.1 1721.5L361.1 1719.7L362 1717.8L363 1716L363.9 1714.3L364.9 1712.5L365.9 1710.8L366.9 1709.1L367.9 1707.4L368.9 1705.7L369.9 1704.1L370.9 1702.4L372 1700.8L373 1699.2L374 1697.6L375 1696L375.9 1694.6L376.8 1693.2L377.7 1691.8L378.6 1690.5L379.5 1689.1L380.4 1687.8L381.3 1686.5L382.2 1685.2L383.2 1683.9L384.1 1682.6L385 1681.3L386 1680L387 1678.7L388 1677.3L388.9 1676L389.9 1674.7L390.9 1673.3L391.9 1672L392.9 1670.7L394 1669.4L395.1 1668.1L396.2 1666.9L397.4 1665.6L398.6 1664.4L400 1663.1L401.4 1661.8L402.9 1660.6L404.4 1659.4L406 1658.2L407.6 1657L409.2 1655.8L410.8 1654.7L412.5 1653.5L414.2 1652.4L415.9 1651.2L417.6 1650.1L419.5 1648.9L421.4 1647.6L423.4 1646.4L425.4 1645.2L427.4 1644L429.4 1642.9L431.5 1641.7L433.5 1640.5L435.5 1639.3L437.5 1638.2L439.4 1637L441.3 1635.9L443 1634.9L444.6 1633.9L446.3 1633L447.9 1632L449.5 1631.1L451.1 1630.2L452.7 1629.2L454.3 1628.3L455.8 1627.3L457.3 1626.2L458.8 1625.1L460.3 1624L461.8 1622.8L463.2 1621.5L464.7 1620.2L466.1 1618.9L467.5 1617.6L468.8 1616.2L470.2 1614.8L471.6 1613.3L472.9 1611.9L474.2 1610.4L475.6 1608.9L476.9 1607.4L478.3 1605.7L479.7 1604L481.1 1602.2L482.5 1600.4L483.9 1598.5L485.3 1596.7L486.7 1594.8L488 1592.9L489.4 1591.1L490.8 1589.4L492.1 1587.7L493.5 1586.1L494.7 1584.8L495.9 1583.4L497.2 1582.1L498.4 1580.8L499.7 1579.6L500.9 1578.3L502.2 1577.1L503.4 1576L504.5 1574.9L505.6 1573.8L506.7 1572.8L507.7 1571.9L508.3 1571.3L508.9 1570.8L509.4 1570.3L509.9 1569.8L510.5 1569.3L511 1568.8L511.5 1568.4L512 1567.9L512.5 1567.5L513 1567.2L513.5 1566.8L514 1566.5L514.5 1566.3L514.9 1566.1L515.4 1565.9L515.8 1565.7L516.3 1565.6L516.8 1565.4L517.3 1565.3L517.7 1565.2L518.2 1565.1L518.7 1565L519.1 1564.8L519.6 1564.7"/>
<path d="M135.8 1849.3L141.1 1851.8L146.4 1857.3L151.7 1853.4L157 1854.6L162.3 1851.4L167.6 1846.8L172.9 1849.2L178.2 1854.6L183.5 1852.4L188.8 1848.4L194.1 1845.5L199.4 1852.4L205.4 1842.5"/>
<path d="M135.8 1850.6L141.1 1850.6L146.4 1850.7L151.7 1853.1L157 1853.2L162.3 1855.8L167.6 1855.7L172.9 1857.3L178.2 1882.2L183.5 1850.7L188.8 1851.8L194.1 1854L199.4 1850.8L204.7 1854.2L210 1856.6L215.3 1848.8L221.3 1842.5"/>
<path d="M135.8 1844.9L141.1 1856.8L146.4 1852.1L151.7 1854.8L157 1846.7L162.3 1858.9L167.6 1855L172.9 1851.5L178.2 1850.6L183.5 1852.5L188.8 1851.3L194.1 1882.2L199.4 1847.5L204.7 1857.1L210 1851.8L215.3 1852.3L220.6 1852.4L225.9 1842.6L231.2 1854.1L236.5 1850.7L242.5 1842.5"/>
<path d="M135.8 1850.8L141.1 1852.3L146.4 1848.1L151.7 1855.4L157 1849.2L162.3 1848.4L167.6 1848.6L172.9 1852.6L178.2 1855L183.5 1849.6L188.8 1846L194.1 1856.2L199.4 1847.7L204.7 1856.8L210 1851.8L215.3 1849.2L220.6 1849.4L225.9 1853.8L231.2 1855.6L236.5 1851.2L241.8 1855.8L247.1 1860.3L252.4 1851.2L257.7 1847.4L263.7 1842.5"/>
</g>
</g>
<g clip-path="url(#cd)">
<g fill="none" stroke="#000" stroke-width="1.4" stroke-linejoin="round">
<path d="M528.4 1846L533.7 1848.6L539 1843.9L544.3 1849.6L549.6 1850.9L556 1848L556.3 1847L556.6 1846L556.9 1845L557.2 1844L557.5 1843.1L557.8 1842.1L558.2 1841.1L558.5 1840.1L558.8 1839.1L559.2 1838.1L559.6 1837L560 1836L560.5 1834.7L561.1 1833.4L561.7 1832.1L562.3 1830.8L563 1829.4L563.7 1828.1L564.3 1826.7L565.1 1825.3L565.8 1824L566.5 1822.6L567.3 1821.3L568 1820L568.7 1818.7L569.5 1817.5L570.2 1816.4L571 1815.2L571.8 1814.1L572.6 1812.9L573.4 1811.7L574.2 1810.5L575.1 1809.3L576 1807.9L577 1806.5L578 1805L579.8 1802.2L581.8 1799.1L584 1795.7L586.3 1792.2L588.6 1788.5L591.1 1784.7L593.6 1780.8L596.1 1777L598.6 1773.1L601.1 1769.3L603.6 1765.6L606 1762L608.3 1758.7L610.6 1755.3L612.9 1752L615.2 1748.7L617.6 1745.4L619.9 1742.2L622.2 1738.9L624.6 1735.7L626.9 1732.5L629.3 1729.3L631.6 1726.1L634 1723L636.3 1720L638.6 1717L641 1714L643.4 1711L645.7 1708L648.1 1705.1L650.5 1702.2L652.8 1699.3L655.2 1696.4L657.5 1693.6L659.8 1690.8L662 1688L664 1685.5L665.9 1683.1L667.8 1680.6L669.7 1678.2L671.6 1675.8L673.4 1673.5L675.3 1671.1L677.2 1668.8L679.1 1666.6L681 1664.3L683 1662.1L685 1660L687 1658L689 1656L691 1654.1L693.1 1652.3L695.2 1650.4L697.3 1648.6L699.4 1646.9L701.5 1645.1L703.6 1643.3L705.7 1641.6L707.9 1639.8L710 1638L712.2 1636.2L714.4 1634.4L716.7 1632.7L718.9 1630.9L721.2 1629.1L723.5 1627.4L725.8 1625.6L728 1623.9L730.1 1622.2L732.2 1620.4L734.2 1618.7L736 1617L737.4 1615.6L738.7 1614.3L739.9 1613L741.1 1611.6L742.3 1610.3L743.4 1609L744.5 1607.7L745.6 1606.3L746.7 1605L747.8 1603.7L748.9 1602.3L750 1601L751.1 1599.7L752.2 1598.3L753.2 1597L754.3 1595.6L755.3 1594.2L756.3 1592.9L757.4 1591.5L758.4 1590.2L759.5 1588.8L760.6 1587.5L761.8 1586.2L763 1585L764.3 1583.7L765.6 1582.4L767 1581.1L768.4 1579.9L769.8 1578.6L771.2 1577.4L772.6 1576.2L774.1 1575L775.6 1573.9L777.1 1572.9L778.5 1571.9L780 1571L781.3 1570.3L782.7 1569.6L784.1 1569L785.5 1568.4L786.9 1567.8L788.3 1567.3L789.7 1566.8L791 1566.4L792.3 1566L793.6 1565.6L794.8 1565.3L796 1565L796.8 1564.8L797.5 1564.7L798.2 1564.6L798.8 1564.5L799.5 1564.4L800.2 1564.3L800.8 1564.3L801.4 1564.2L802.1 1564.2L802.7 1564.1L803.3 1564.1L804 1564"/>
<path d="M528.4 1846.9L533.7 1849.1L539 1848.6L544.3 1847L549.6 1845.8L554.9 1842.9L558.8 1848L559.1 1847L559.4 1846L559.7 1845L560 1844L560.3 1843.1L560.6 1842.1L561 1841.1L561.3 1840.1L561.6 1839.1L562 1838.1L562.4 1837L562.8 1836L563.3 1834.7L563.9 1833.4L564.5 1832.1L565.1 1830.8L565.8 1829.4L566.4 1828L567.1 1826.7L567.8 1825.3L568.5 1824L569.3 1822.6L570 1821.3L570.8 1820L571.6 1818.7L572.4 1817.5L573.2 1816.4L574 1815.2L574.9 1814.1L575.8 1812.9L576.6 1811.8L577.6 1810.6L578.5 1809.3L579.5 1808L580.5 1806.5L581.6 1805L583.5 1802.2L585.5 1799.1L587.7 1795.8L590 1792.2L592.3 1788.5L594.8 1784.7L597.2 1780.9L599.7 1777L602.2 1773.1L604.7 1769.3L607.2 1765.6L609.6 1762L611.9 1758.7L614.2 1755.3L616.5 1752L618.8 1748.7L621.2 1745.4L623.5 1742.2L625.8 1738.9L628.2 1735.7L630.5 1732.5L632.9 1729.3L635.2 1726.1L637.6 1723L639.9 1720L642.2 1717L644.6 1714L647 1711L649.3 1708L651.7 1705.1L654.1 1702.2L656.4 1699.3L658.8 1696.4L661.1 1693.6L663.4 1690.8L665.6 1688L667.6 1685.5L669.5 1683.1L671.4 1680.6L673.3 1678.2L675.2 1675.8L677 1673.5L678.9 1671.1L680.8 1668.8L682.7 1666.6L684.6 1664.3L686.6 1662.1L688.6 1660L690.6 1658L692.6 1656L694.6 1654.1L696.7 1652.3L698.8 1650.4L700.9 1648.6L703 1646.9L705.1 1645.1L707.2 1643.3L709.3 1641.6L711.5 1639.8L713.6 1638L715.8 1636.2L718 1634.4L720.3 1632.7L722.5 1630.9L724.8 1629.1L727.1 1627.4L729.4 1625.6L731.6 1623.9L733.7 1622.2L735.8 1620.4L737.8 1618.7L739.6 1617L741 1615.6L742.3 1614.3L743.5 1613L744.7 1611.6L745.9 1610.3L747 1609L748.1 1607.7L749.2 1606.3L750.3 1605L751.4 1603.7L752.5 1602.3L753.6 1601L754.7 1599.7L755.8 1598.3L756.8 1597L757.9 1595.6L758.9 1594.2L759.9 1592.9L761 1591.5L762 1590.2L763.1 1588.8L764.2 1587.5L765.4 1586.2L766.6 1585L767.9 1583.7L769.2 1582.4L770.6 1581.1L772 1579.9L773.4 1578.6L774.8 1577.4L776.2 1576.2L777.7 1575L779.2 1573.9L780.7 1572.9L782.1 1571.9L783.6 1571L784.9 1570.3L786.3 1569.6L787.7 1569L789.1 1568.4L790.5 1567.8L791.9 1567.3L793.3 1566.8L794.6 1566.4L795.9 1566L797.2 1565.6L798.4 1565.3L799.6 1565L800.4 1564.8L801.1 1564.7L801.8 1564.6L802.4 1564.5L803.1 1564.4L803.8 1564.3L804.4 1564.3L805 1564.2L805.7 1564.2L806.3 1564.1L806.9 1564.1L807.6 1564"/>
<path d="M528.4 1851.5L533.7 1847.9L539 1854.3L544.3 1850.1L549.6 1848.7L554.9 1846.4L561.6 1848L561.9 1847L562.2 1846L562.5 1845L562.8 1844L563.1 1843.1L563.4 1842.1L563.8 1841.1L564.1 1840.1L564.4 1839.1L564.8 1838.1L565.2 1837L565.6 1836L566.1 1834.7L566.7 1833.4L567.3 1832.1L567.9 1830.8L568.5 1829.4L569.2 1828L569.9 1826.7L570.6 1825.3L571.3 1823.9L572 1822.6L572.8 1821.3L573.6 1820L574.4 1818.7L575.3 1817.5L576.2 1816.3L577.1 1815.2L578 1814.1L578.9 1812.9L579.9 1811.8L580.9 1810.6L581.9 1809.3L583 1808L584.1 1806.5L585.2 1805L587.1 1802.2L589.2 1799.1L591.4 1795.8L593.7 1792.3L596 1788.6L598.4 1784.8L600.9 1780.9L603.4 1777L605.9 1773.1L608.3 1769.3L610.8 1765.6L613.2 1762L615.5 1758.7L617.8 1755.3L620.1 1752L622.4 1748.7L624.8 1745.4L627.1 1742.2L629.4 1738.9L631.8 1735.7L634.1 1732.5L636.5 1729.3L638.8 1726.1L641.2 1723L643.5 1720L645.8 1717L648.2 1714L650.6 1711L652.9 1708L655.3 1705.1L657.7 1702.2L660 1699.3L662.4 1696.4L664.7 1693.6L667 1690.8L669.2 1688L671.2 1685.5L673.1 1683.1L675 1680.6L676.9 1678.2L678.8 1675.8L680.6 1673.5L682.5 1671.1L684.4 1668.8L686.3 1666.6L688.2 1664.3L690.2 1662.1L692.2 1660L694.2 1658L696.2 1656L698.2 1654.1L700.3 1652.3L702.4 1650.4L704.5 1648.6L706.6 1646.9L708.7 1645.1L710.8 1643.3L712.9 1641.6L715.1 1639.8L717.2 1638L719.4 1636.2L721.6 1634.4L723.9 1632.7L726.1 1630.9L728.4 1629.1L730.7 1627.4L733 1625.6L735.2 1623.9L737.3 1622.2L739.4 1620.4L741.4 1618.7L743.2 1617L744.6 1615.6L745.9 1614.3L747.1 1613L748.3 1611.6L749.5 1610.3L750.6 1609L751.7 1607.7L752.8 1606.3L753.9 1605L755 1603.7L756.1 1602.3L757.2 1601L758.3 1599.7L759.4 1598.3L760.4 1597L761.5 1595.6L762.5 1594.2L763.5 1592.9L764.6 1591.5L765.6 1590.2L766.7 1588.8L767.8 1587.5L769 1586.2L770.2 1585L771.5 1583.7L772.8 1582.4L774.2 1581.1L775.6 1579.9L777 1578.6L778.4 1577.4L779.8 1576.2L781.3 1575L782.8 1573.9L784.3 1572.9L785.7 1571.9L787.2 1571L788.5 1570.3L789.9 1569.6L791.3 1569L792.7 1568.4L794.1 1567.8L795.5 1567.3L796.9 1566.8L798.2 1566.4L799.5 1566L800.8 1565.6L802 1565.3L803.2 1565L804 1564.8L804.7 1564.7L805.4 1564.6L806 1564.5L806.7 1564.4L807.4 1564.3L808 1564.3L808.6 1564.2L809.3 1564.2L809.9 1564.1L810.5 1564.1L811.2 1564"/>
<path d="M528.4 1851.5L533.7 1846.7L539 1851.9L544.3 1847L549.6 1848.5L554.9 1844.2L560.2 1853.9L564.4 1848L564.7 1847L565 1846L565.3 1845L565.6 1844L565.9 1843.1L566.2 1842.1L566.6 1841.1L566.9 1840.1L567.2 1839.1L567.6 1838.1L568 1837L568.4 1836L568.9 1834.7L569.5 1833.4L570.1 1832.1L570.7 1830.7L571.3 1829.4L571.9 1828L572.6 1826.6L573.3 1825.3L574 1823.9L574.8 1822.6L575.6 1821.3L576.4 1820L577.3 1818.7L578.2 1817.5L579.1 1816.3L580.1 1815.2L581.1 1814.1L582.1 1812.9L583.2 1811.8L584.2 1810.6L585.3 1809.3L586.5 1808L587.6 1806.6L588.8 1805L590.8 1802.2L592.9 1799.1L595.1 1795.8L597.4 1792.3L599.7 1788.6L602.1 1784.8L604.6 1780.9L607 1777L609.5 1773.1L612 1769.3L614.4 1765.6L616.8 1762L619.1 1758.7L621.4 1755.3L623.7 1752L626 1748.7L628.4 1745.4L630.7 1742.2L633 1738.9L635.4 1735.7L637.7 1732.5L640.1 1729.3L642.4 1726.1L644.8 1723L647.1 1720L649.4 1717L651.8 1714L654.2 1711L656.5 1708L658.9 1705.1L661.3 1702.2L663.6 1699.3L666 1696.4L668.3 1693.6L670.6 1690.8L672.8 1688L674.8 1685.5L676.7 1683.1L678.6 1680.6L680.5 1678.2L682.4 1675.8L684.2 1673.5L686.1 1671.1L688 1668.8L689.9 1666.6L691.8 1664.3L693.8 1662.1L695.8 1660L697.8 1658L699.8 1656L701.8 1654.1L703.9 1652.3L706 1650.4L708.1 1648.6L710.2 1646.9L712.3 1645.1L714.4 1643.3L716.5 1641.6L718.7 1639.8L720.8 1638L723 1636.2L725.2 1634.4L727.5 1632.7L729.7 1630.9L732 1629.1L734.3 1627.4L736.6 1625.6L738.8 1623.9L740.9 1622.2L743 1620.4L745 1618.7L746.8 1617L748.2 1615.6L749.5 1614.3L750.7 1613L751.9 1611.6L753.1 1610.3L754.2 1609L755.3 1607.7L756.4 1606.3L757.5 1605L758.6 1603.7L759.7 1602.3L760.8 1601L761.9 1599.7L763 1598.3L764 1597L765.1 1595.6L766.1 1594.2L767.1 1592.9L768.2 1591.5L769.2 1590.2L770.3 1588.8L771.4 1587.5L772.6 1586.2L773.8 1585L775.1 1583.7L776.4 1582.4L777.8 1581.1L779.2 1579.9L780.6 1578.6L782 1577.4L783.4 1576.2L784.9 1575L786.4 1573.9L787.9 1572.9L789.3 1571.9L790.8 1571L792.1 1570.3L793.5 1569.6L794.9 1569L796.3 1568.4L797.7 1567.8L799.1 1567.3L800.5 1566.8L801.8 1566.4L803.1 1566L804.4 1565.6L805.6 1565.3L806.8 1565L807.6 1564.8L808.3 1564.7L809 1564.6L809.6 1564.5L810.3 1564.4L811 1564.3L811.6 1564.3L812.2 1564.2L812.9 1564.2L813.5 1564.1L814.1 1564.1L814.8 1564"/>
<path d="M528.4 1847.8L533.7 1847L539 1850L544.3 1845.8L549.6 1849.9L554.9 1845.1L560.2 1849.4L568.2 1848L568.5 1847L568.8 1846L569.1 1845L569.4 1844L569.7 1843.1L570 1842.1L570.4 1841.1L570.7 1840.1L571 1839.1L571.4 1838.1L571.8 1837L572.2 1836L572.7 1834.7L573.3 1833.4L573.8 1832.1L574.4 1830.7L575.1 1829.4L575.7 1828L576.4 1826.6L577.1 1825.3L577.8 1823.9L578.6 1822.6L579.4 1821.3L580.2 1820L581.1 1818.7L582.1 1817.5L583.1 1816.3L584.1 1815.2L585.2 1814.1L586.3 1812.9L587.4 1811.8L588.6 1810.6L589.8 1809.3L591 1808L592.2 1806.6L593.4 1805L595.4 1802.2L597.6 1799.2L599.8 1795.8L602.1 1792.3L604.4 1788.6L606.8 1784.8L609.2 1780.9L611.7 1777L614.1 1773.1L616.6 1769.3L619 1765.6L621.4 1762L623.7 1758.7L626 1755.3L628.3 1752L630.6 1748.7L633 1745.4L635.3 1742.2L637.6 1738.9L640 1735.7L642.3 1732.5L644.7 1729.3L647 1726.1L649.4 1723L651.7 1720L654 1717L656.4 1714L658.8 1711L661.1 1708L663.5 1705.1L665.9 1702.2L668.2 1699.3L670.6 1696.4L672.9 1693.6L675.2 1690.8L677.4 1688L679.4 1685.5L681.3 1683.1L683.2 1680.6L685.1 1678.2L687 1675.8L688.8 1673.5L690.7 1671.1L692.6 1668.8L694.5 1666.6L696.4 1664.3L698.4 1662.1L700.4 1660L702.4 1658L704.4 1656L706.4 1654.1L708.5 1652.3L710.6 1650.4L712.7 1648.6L714.8 1646.9L716.9 1645.1L719 1643.3L721.1 1641.6L723.3 1639.8L725.4 1638L727.6 1636.2L729.8 1634.4L732.1 1632.7L734.3 1630.9L736.6 1629.1L738.9 1627.4L741.2 1625.6L743.4 1623.9L745.5 1622.2L747.6 1620.4L749.6 1618.7L751.4 1617L752.8 1615.6L754.1 1614.3L755.3 1613L756.5 1611.6L757.7 1610.3L758.8 1609L759.9 1607.7L761 1606.3L762.1 1605L763.2 1603.7L764.3 1602.3L765.4 1601L766.5 1599.7L767.6 1598.3L768.6 1597L769.7 1595.6L770.7 1594.2L771.7 1592.9L772.8 1591.5L773.8 1590.2L774.9 1588.8L776 1587.5L777.2 1586.2L778.4 1585L779.7 1583.7L781 1582.4L782.4 1581.1L783.8 1579.9L785.2 1578.6L786.6 1577.4L788 1576.2L789.5 1575L791 1573.9L792.5 1572.9L793.9 1571.9L795.4 1571L796.7 1570.3L798.1 1569.6L799.5 1569L800.9 1568.4L802.3 1567.8L803.7 1567.3L805.1 1566.8L806.4 1566.4L807.7 1566L809 1565.6L810.2 1565.3L811.4 1565L812.2 1564.8L812.9 1564.7L813.6 1564.6L814.2 1564.5L814.9 1564.4L815.6 1564.3L816.2 1564.3L816.8 1564.2L817.5 1564.2L818.1 1564.1L818.7 1564.1L819.4 1564"/>
<path d="M528.1 1818L529.5 1817L530.9 1816L532.3 1815L533.7 1814L535 1813L536.4 1812L537.8 1811L539.2 1810L540.6 1809L542.1 1808L543.5 1807L545 1806L546.7 1804.9L548.3 1803.9L550 1802.9L551.7 1801.9L553.5 1800.9L555.2 1799.9L557 1798.9L558.8 1797.8L560.6 1796.7L562.4 1795.6L564.2 1794.3L566 1793L568.3 1791.2L570.8 1789.3L573.2 1787.3L575.7 1785.1L578.3 1782.9L580.8 1780.7L583.3 1778.4L585.8 1776.1L588.2 1773.8L590.6 1771.5L592.8 1769.2L595 1767L596.8 1765.1L598.5 1763.2L600.2 1761.3L601.8 1759.5L603.3 1757.6L604.9 1755.7L606.4 1753.8L607.9 1751.9L609.4 1750L610.9 1748L612.4 1746L614 1744L615.8 1741.7L617.5 1739.4L619.3 1737L621.1 1734.5L622.9 1732L624.7 1729.5L626.5 1727.1L628.2 1724.6L630 1722.1L631.7 1719.7L633.4 1717.3L635 1715L636.4 1713L637.8 1711L639.2 1709.1L640.6 1707.2L641.9 1705.3L643.2 1703.4L644.5 1701.5L645.8 1699.6L647.1 1697.8L648.4 1695.9L649.7 1693.9L651 1692L652.3 1690L653.5 1688.1L654.7 1686.1L655.8 1684.1L657 1682.1L658.1 1680.2L659.3 1678.2L660.5 1676.1L661.8 1674.1L663.1 1672.1L664.5 1670.1L666 1668L667.9 1665.5L669.9 1662.9L672 1660.2L674.2 1657.6L676.5 1654.9L678.8 1652.2L681.1 1649.5L683.5 1646.9L685.9 1644.3L688.3 1641.8L690.7 1639.3L693 1637L695.1 1635L697.2 1633L699.4 1631.1L701.5 1629.2L703.7 1627.4L705.9 1625.6L708 1623.8L710.2 1622L712.4 1620.3L714.6 1618.5L716.8 1616.8L719 1615L721.2 1613.2L723.5 1611.4L725.8 1609.7L728.1 1607.9L730.4 1606.1L732.7 1604.4L735 1602.6L737.2 1600.9L739.5 1599.2L741.7 1597.4L743.9 1595.7L746 1594L747.9 1592.5L749.7 1590.9L751.5 1589.3L753.3 1587.7L755 1586.2L756.7 1584.6L758.4 1583.1L760.2 1581.6L761.9 1580.1L763.6 1578.7L765.3 1577.3L767 1576L768.5 1574.9L770.1 1573.7L771.7 1572.5L773.3 1571.4L774.9 1570.2L776.5 1569.2L778 1568.1L779.6 1567.2L781 1566.3L782.4 1565.6L783.8 1565L785 1564.5L785.7 1564.3L786.3 1564.2L786.9 1564.1L787.5 1564L788.1 1564L788.7 1564L789.2 1564L789.8 1564L790.3 1564L790.9 1564L791.4 1564L792 1564"/>
<path d="M528.4 1845.4L533.7 1843.4L539 1846.5L544.3 1844.3L549.6 1849.4L554.9 1848.1L560.2 1849.3L565.5 1848.2L570.8 1847.1L576.1 1848.1L581.4 1850.6L587 1846L588.4 1844.6L589.9 1843.1L591.3 1841.6L592.7 1840.1L594.2 1838.6L595.6 1837.1L597.1 1835.6L598.5 1834.2L599.9 1832.8L601.3 1831.5L602.7 1830.2L604 1829L605 1828.1L606 1827.3L606.9 1826.5L607.9 1825.7L608.8 1825L609.7 1824.2L610.6 1823.5L611.6 1822.8L612.6 1822.1L613.7 1821.4L614.8 1820.7L616 1820L617.8 1819L619.8 1817.9L622 1816.9L624.2 1815.9L626.5 1814.9L628.9 1813.9L631.3 1812.9L633.7 1811.9L636.1 1810.9L638.5 1809.9L640.8 1809L643 1808L645 1807.2L647 1806.3L649 1805.6L651 1804.8L653 1804.1L655 1803.3L656.9 1802.6L658.9 1801.8L660.7 1800.9L662.5 1800L664.3 1799L666 1798L667.5 1797L669 1795.9L670.5 1794.8L671.9 1793.6L673.3 1792.4L674.6 1791.2L675.9 1789.9L677.2 1788.6L678.5 1787.3L679.7 1785.9L680.9 1784.5L682 1783L683.2 1781.3L684.3 1779.6L685.4 1777.8L686.5 1776L687.5 1774.1L688.5 1772.2L689.4 1770.2L690.4 1768.2L691.3 1766.2L692.2 1764.2L693.1 1762.1L694 1760L695 1757.6L695.9 1755.1L696.8 1752.6L697.7 1750L698.5 1747.4L699.4 1744.7L700.2 1742L701.1 1739.4L702 1736.7L702.9 1734.1L703.9 1731.5L705 1729L706.2 1726.5L707.5 1723.9L708.8 1721.2L710.2 1718.6L711.7 1716L713.2 1713.4L714.6 1710.9L716 1708.5L717.4 1706.1L718.7 1703.9L719.9 1701.9L721 1700L721.6 1699L722.1 1698.1L722.7 1697.3L723.1 1696.5L723.6 1695.8L724.1 1695L724.5 1694.3L725 1693.6L725.5 1692.8L726 1691.9L726.5 1691L727 1690L727.9 1688.1L728.9 1685.9L729.9 1683.6L731 1681.1L732 1678.6L733.1 1675.9L734.2 1673.2L735.3 1670.4L736.5 1667.7L737.6 1665.1L738.8 1662.5L740 1660L741.1 1657.6L742.2 1655.3L743.3 1652.9L744.3 1650.4L745.4 1648.1L746.5 1645.7L747.7 1643.4L748.9 1641.1L750.3 1639L751.7 1636.9L753.3 1634.9L755 1633L757 1631.2L759.2 1629.4L761.5 1627.8L763.9 1626.3L766.5 1624.8L769.1 1623.4L771.8 1622.1L774.5 1620.8L777.2 1619.6L779.9 1618.4L782.5 1617.2L785 1616L787.3 1614.9L789.6 1613.9L791.9 1613L794.3 1612.1L796.6 1611.2L798.9 1610.4L801.2 1609.5L803.5 1608.7L805.7 1607.8L807.9 1606.9L810 1606L812 1605L813.7 1604.2L815.3 1603.3L816.9 1602.5L818.4 1601.7L820 1600.8L821.5 1599.9L822.9 1599.1L824.4 1598.1L825.8 1597.2L827.2 1596.2L828.6 1595.1L830 1594L831.5 1592.7L832.9 1591.3L834.3 1589.8L835.7 1588.3L837.1 1586.7L838.4 1585.1L839.7 1583.4L841 1581.8L842.3 1580.3L843.6 1578.8L844.8 1577.3L846 1576L846.9 1575L847.8 1574L848.7 1573.1L849.5 1572.1L850.4 1571.2L851.2 1570.3L852 1569.4L852.8 1568.6L853.6 1567.8L854.4 1567.1L855.2 1566.5L856 1566L856.5 1565.7L857 1565.4L857.5 1565.2L858 1565.1L858.5 1564.9L859 1564.8L859.5 1564.6L860 1564.5L860.5 1564.4L861 1564.3L861.5 1564.2L862 1564"/>
<path d="M528.4 1850.5L533.7 1848.7L539 1848.1L544.3 1850.3L549.6 1848.8L554.9 1856.6L560.2 1847.5L565.5 1847.8L570.8 1850.1L576.1 1853L581.4 1850.2L586.7 1848.1L592 1848.6L597.3 1849.9L602.6 1853.9L607.9 1848.1L613.2 1850.7L618.5 1849.2L623.8 1852L629.1 1852.2L634.4 1846.6L639.7 1858.2L645 1851.6L650.3 1849.5L655.6 1848.3L660.9 1850.2L666.2 1851.1L671.5 1852.8L676.8 1851L683 1851L683.5 1849.4L684 1847.9L684.5 1846.3L685 1844.8L685.6 1843.2L686.1 1841.7L686.6 1840.1L687.1 1838.6L687.6 1837L688.1 1835.4L688.5 1833.7L689 1832L689.5 1830L690 1828L690.4 1825.9L690.8 1823.8L691.2 1821.7L691.6 1819.6L692 1817.4L692.4 1815.2L692.9 1813L693.3 1810.7L693.8 1808.4L694.3 1806L695 1803L695.7 1799.9L696.4 1796.6L697.2 1793.3L698 1790L698.8 1786.6L699.7 1783.2L700.5 1779.8L701.4 1776.5L702.3 1773.2L703.1 1770.1L704 1767L704.8 1764.4L705.6 1761.8L706.4 1759.2L707.2 1756.7L708 1754.2L708.8 1751.7L709.7 1749.3L710.5 1746.9L711.3 1744.6L712.1 1742.3L712.8 1740.1L713.6 1738L714.2 1736.4L714.7 1734.9L715.3 1733.5L715.8 1732.1L716.3 1730.7L716.9 1729.3L717.4 1728L717.9 1726.6L718.4 1725.3L718.9 1723.9L719.5 1722.5L720 1721L720.6 1719.3L721.2 1717.7L721.8 1716L722.4 1714.3L723 1712.6L723.5 1710.8L724.1 1709.1L724.7 1707.3L725.3 1705.5L725.9 1703.7L726.4 1701.9L727 1700L727.6 1697.9L728.1 1695.6L728.6 1693.4L729.1 1691.1L729.5 1688.7L730 1686.4L730.5 1684.1L731.1 1681.7L731.7 1679.5L732.3 1677.2L733.1 1675.1L734 1673L734.9 1671.1L735.9 1669.1L737 1667.2L738.1 1665.4L739.2 1663.6L740.4 1661.8L741.7 1660L743.1 1658.3L744.4 1656.7L745.9 1655L747.4 1653.5L749 1652L750.8 1650.5L752.7 1649L754.7 1647.6L756.9 1646.3L759 1645.1L761.3 1643.9L763.5 1642.7L765.8 1641.5L768.1 1640.4L770.5 1639.3L772.7 1638.1L775 1637L777.3 1635.8L779.6 1634.7L782 1633.7L784.5 1632.6L786.9 1631.6L789.3 1630.6L791.7 1629.5L794.1 1628.5L796.4 1627.4L798.7 1626.3L800.9 1625.2L803 1624L804.8 1622.9L806.5 1621.9L808.2 1620.8L809.8 1619.7L811.4 1618.5L813 1617.4L814.6 1616.2L816.1 1615L817.6 1613.8L819.1 1612.6L820.5 1611.3L822 1610L823.5 1608.6L824.9 1607.2L826.3 1605.7L827.6 1604.2L829 1602.7L830.3 1601.1L831.6 1599.5L832.9 1598L834.2 1596.4L835.5 1594.9L836.7 1593.4L838 1592L839.1 1590.8L840.2 1589.5L841.3 1588.3L842.4 1587.1L843.5 1585.9L844.6 1584.7L845.6 1583.5L846.7 1582.4L847.8 1581.2L848.8 1580.1L849.9 1579.1L851 1578L852 1577.1L853 1576.1L854 1575.2L855 1574.3L856.1 1573.4L857.1 1572.5L858.1 1571.7L859.1 1570.8L860.1 1570.1L861.1 1569.3L862.1 1568.6L863 1568L863.7 1567.6L864.4 1567.2L865.1 1566.8L865.7 1566.4L866.4 1566.1L867.1 1565.8L867.7 1565.5L868.4 1565.2L869 1564.9L869.7 1564.6L870.3 1564.3L871 1564"/>
<path d="M528.4 1852.5L533.7 1846.2L539 1848.7L544.3 1848L549.6 1851.5L554.9 1852.4L560.2 1846.6L565.5 1850.5L570.8 1853.2L576.1 1853.7L581.4 1847.7L586.7 1852.7L592 1852L597.3 1849.7L602.6 1856.9L607.9 1847.6L613.2 1882.2L618.5 1852.4L623.8 1851.7L629.1 1850.5L634.4 1855.1L639.7 1855.3L647 1846L648.3 1845.3L649.6 1844.5L650.8 1843.8L652.1 1843.1L653.4 1842.4L654.7 1841.7L656 1841L657.2 1840.3L658.5 1839.5L659.8 1838.7L661.2 1837.9L662.5 1837.1L664.1 1836.1L665.7 1835.1L667.3 1834L669 1832.9L670.6 1831.8L672.3 1830.6L674 1829.5L675.6 1828.3L677.2 1827.1L678.8 1826L680.4 1824.8L681.9 1823.6L683.3 1822.5L684.7 1821.5L686 1820.6L687.4 1819.6L688.7 1818.6L690 1817.7L691.3 1816.6L692.6 1815.5L693.8 1814.3L694.9 1813L696 1811.6L697 1810L698.3 1807.3L699.5 1804.3L700.5 1801L701.4 1797.4L702.1 1793.6L702.8 1789.7L703.5 1785.7L704.1 1781.7L704.7 1777.8L705.4 1774L706.2 1770.4L707 1767L707.8 1764.3L708.5 1761.7L709.4 1759.1L710.2 1756.6L711 1754.1L711.8 1751.6L712.6 1749.2L713.5 1746.9L714.3 1744.6L715.1 1742.3L715.8 1740.1L716.6 1738L717.2 1736.4L717.7 1734.9L718.3 1733.5L718.8 1732.1L719.3 1730.7L719.9 1729.3L720.4 1728L720.9 1726.6L721.4 1725.3L721.9 1723.9L722.5 1722.5L723 1721L723.6 1719.3L724.2 1717.6L724.7 1715.9L725.3 1714.2L725.8 1712.5L726.4 1710.7L727 1708.9L727.6 1707.1L728.1 1705.4L728.7 1703.6L729.4 1701.8L730 1700L730.7 1698.1L731.3 1696.2L732 1694.3L732.7 1692.3L733.3 1690.4L734 1688.4L734.8 1686.5L735.5 1684.5L736.3 1682.6L737.2 1680.7L738 1678.8L739 1677L740 1675.1L741.1 1673.3L742.1 1671.4L743.2 1669.6L744.4 1667.7L745.6 1665.9L746.8 1664.1L748.1 1662.4L749.5 1660.7L750.9 1659.1L752.4 1657.5L754 1656L755.8 1654.5L757.7 1653L759.7 1651.6L761.9 1650.3L764 1649.1L766.3 1647.9L768.5 1646.7L770.8 1645.5L773.1 1644.4L775.5 1643.3L777.7 1642.1L780 1641L782.3 1639.8L784.6 1638.7L787 1637.7L789.5 1636.6L791.9 1635.6L794.3 1634.6L796.7 1633.5L799.1 1632.5L801.4 1631.4L803.7 1630.3L805.9 1629.2L808 1628L809.8 1626.9L811.5 1625.9L813.2 1624.8L814.8 1623.7L816.4 1622.5L818 1621.4L819.6 1620.2L821.1 1619L822.6 1617.8L824.1 1616.6L825.5 1615.3L827 1614L828.5 1612.6L829.9 1611.2L831.3 1609.8L832.7 1608.3L834 1606.8L835.4 1605.3L836.7 1603.8L838 1602.2L839.3 1600.6L840.5 1599.1L841.8 1597.5L843 1596L844.2 1594.5L845.3 1593L846.4 1591.4L847.5 1589.8L848.5 1588.2L849.6 1586.6L850.6 1585.1L851.6 1583.5L852.7 1582.1L853.8 1580.6L854.9 1579.3L856 1578L857 1577L858 1576L859 1575L860 1574.1L861 1573.2L862 1572.4L863.1 1571.6L864.1 1570.8L865.1 1570L866.1 1569.3L867.1 1568.6L868 1568L868.7 1567.6L869.4 1567.2L870.1 1566.8L870.7 1566.4L871.4 1566.1L872.1 1565.8L872.7 1565.5L873.4 1565.2L874 1564.9L874.7 1564.6L875.3 1564.3L876 1564"/>
<path d="M528.4 1853.7L533.7 1854L539 1850.8L544.3 1847.5L549.6 1857.6L554.9 1848.1L560.2 1857.7L565.5 1850.6L570.8 1851.7L576.1 1850.5L581.4 1853.9L586.7 1849.5L592 1856.5L597.3 1852.6L602.6 1851.5L607.9 1849.3L613.2 1851.8L618.5 1851L623.8 1856.7L629.1 1853.8L634.4 1846.3L639.7 1855.6L645 1843.9L650.3 1855.6L655.6 1845.3L662.5 1851L663.8 1850.5L665.1 1850.1L666.5 1849.7L667.8 1849.3L669.2 1848.9L670.5 1848.5L671.9 1848.1L673.2 1847.6L674.4 1847.1L675.7 1846.5L676.9 1845.8L678 1845L679.2 1844L680.3 1843L681.4 1841.8L682.4 1840.6L683.4 1839.3L684.3 1837.9L685.3 1836.5L686.2 1835.1L687 1833.7L687.9 1832.2L688.8 1830.8L689.6 1829.4L690.4 1828L691.3 1826.5L692.1 1825L692.9 1823.4L693.7 1821.8L694.5 1820.3L695.2 1818.7L695.9 1817.2L696.5 1815.8L697.1 1814.4L697.6 1813.2L698 1812L698.2 1811.4L698.3 1810.9L698.5 1810.4L698.6 1810L698.6 1809.6L698.7 1809.2L698.8 1808.7L698.9 1808.3L698.9 1807.8L699 1807.3L699.2 1806.7L699.3 1806L699.8 1803.9L700.4 1801.4L701 1798.5L701.8 1795.3L702.6 1791.9L703.5 1788.2L704.4 1784.5L705.3 1780.8L706.3 1777.1L707.2 1773.5L708.1 1770.1L709 1767L709.8 1764.4L710.6 1761.8L711.4 1759.2L712.2 1756.7L713 1754.2L713.8 1751.7L714.7 1749.3L715.5 1746.9L716.3 1744.6L717.1 1742.3L717.8 1740.1L718.6 1738L719.2 1736.4L719.7 1734.9L720.3 1733.5L720.8 1732.1L721.3 1730.7L721.9 1729.3L722.4 1728L722.9 1726.6L723.4 1725.3L723.9 1723.9L724.5 1722.5L725 1721L725.6 1719.3L726.1 1717.6L726.7 1715.9L727.2 1714.1L727.7 1712.4L728.3 1710.6L728.8 1708.8L729.4 1707L730 1705.2L730.6 1703.5L731.3 1701.7L732 1700L732.8 1698.3L733.6 1696.6L734.4 1694.9L735.3 1693.2L736.2 1691.6L737.1 1689.9L738 1688.2L739 1686.6L739.9 1685L740.9 1683.3L742 1681.7L743 1680L744.1 1678.2L745.2 1676.4L746.3 1674.6L747.4 1672.7L748.6 1670.9L749.7 1669.1L751 1667.3L752.2 1665.5L753.6 1663.8L755 1662.1L756.4 1660.5L758 1659L759.8 1657.5L761.7 1656L763.7 1654.6L765.9 1653.3L768 1652.1L770.3 1650.9L772.5 1649.7L774.8 1648.5L777.1 1647.4L779.5 1646.3L781.7 1645.1L784 1644L786.3 1642.8L788.6 1641.7L791 1640.7L793.5 1639.6L795.9 1638.6L798.3 1637.6L800.7 1636.5L803.1 1635.5L805.4 1634.4L807.7 1633.3L809.9 1632.2L812 1631L813.8 1629.9L815.5 1628.9L817.2 1627.8L818.8 1626.7L820.4 1625.5L822 1624.4L823.6 1623.2L825.1 1622L826.6 1620.8L828.1 1619.6L829.5 1618.3L831 1617L832.5 1615.6L833.9 1614.3L835.3 1612.8L836.7 1611.4L838.1 1609.9L839.4 1608.4L840.7 1606.9L842 1605.3L843.3 1603.8L844.6 1602.2L845.8 1600.6L847 1599L848.2 1597.3L849.3 1595.6L850.4 1593.7L851.5 1591.9L852.5 1590L853.6 1588.1L854.6 1586.2L855.6 1584.4L856.7 1582.7L857.7 1581L858.8 1579.4L860 1578L861 1576.9L861.9 1575.9L862.9 1575L864 1574L865 1573.1L866 1572.3L867 1571.5L868.1 1570.7L869.1 1570L870.1 1569.3L871.1 1568.6L872 1568L872.7 1567.6L873.4 1567.2L874.1 1566.8L874.7 1566.4L875.4 1566.1L876.1 1565.8L876.7 1565.5L877.4 1565.2L878 1564.9L878.7 1564.6L879.3 1564.3L880 1564"/>
<path d="M528.4 1851L533.7 1853.4L539 1851L544.3 1847.7L549.6 1854.7L554.9 1845.7L560.2 1846.6L565.5 1855.2L570.8 1848.4L576.1 1851.7L581.4 1853.4L586.7 1850.7L592 1851.8L597.3 1851.4L602.6 1851.6L607.9 1854.6L613.2 1853.8L618.5 1852L623.8 1882.2L629.1 1849.4L634.4 1848.7L639.7 1848L645 1853.4L652.8 1849L654.4 1848L656 1847.1L657.7 1846.1L659.3 1845.2L660.9 1844.3L662.6 1843.3L664.2 1842.4L665.8 1841.4L667.4 1840.4L669 1839.3L670.6 1838.2L672.2 1837.1L673.9 1835.8L675.6 1834.4L677.4 1833L679.1 1831.5L680.8 1830L682.5 1828.4L684.2 1826.9L685.8 1825.4L687.4 1823.9L688.9 1822.4L690.3 1821L691.6 1819.7L692.5 1818.8L693.3 1818.1L694 1817.3L694.8 1816.7L695.5 1816L696.2 1815.3L696.8 1814.6L697.5 1813.9L698.1 1813L698.8 1812.1L699.4 1811.1L700 1810L701.1 1807.5L702.2 1804.6L703.2 1801.3L704.1 1797.7L705 1793.9L705.8 1790L706.7 1785.9L707.5 1781.9L708.3 1777.9L709.2 1774L710.1 1770.4L711 1767L711.8 1764.3L712.6 1761.7L713.4 1759.1L714.2 1756.6L715 1754.1L715.9 1751.6L716.7 1749.2L717.5 1746.9L718.3 1744.6L719.1 1742.3L719.9 1740.1L720.6 1738L721.2 1736.4L721.7 1734.9L722.3 1733.5L722.8 1732.1L723.3 1730.7L723.9 1729.3L724.4 1728L724.9 1726.6L725.4 1725.3L725.9 1723.9L726.5 1722.5L727 1721L727.6 1719.3L728.1 1717.6L728.7 1715.8L729.2 1714.1L729.7 1712.3L730.3 1710.5L730.8 1708.7L731.4 1706.9L732 1705.1L732.6 1703.3L733.3 1701.6L734 1700L734.7 1698.5L735.4 1697L736.2 1695.6L737 1694.2L737.8 1692.8L738.6 1691.4L739.5 1690L740.3 1688.7L741.2 1687.3L742.1 1685.9L743.1 1684.5L744 1683L745.1 1681.3L746.2 1679.5L747.3 1677.7L748.4 1675.9L749.5 1674L750.7 1672.2L751.9 1670.4L753.2 1668.6L754.5 1666.8L755.9 1665.1L757.4 1663.5L759 1662L760.8 1660.5L762.7 1659L764.7 1657.6L766.9 1656.3L769 1655.1L771.3 1653.9L773.5 1652.7L775.8 1651.5L778.1 1650.4L780.5 1649.3L782.7 1648.1L785 1647L787.3 1645.8L789.6 1644.7L792 1643.7L794.5 1642.6L796.9 1641.6L799.3 1640.6L801.7 1639.5L804.1 1638.5L806.4 1637.4L808.7 1636.3L810.9 1635.2L813 1634L814.8 1632.9L816.5 1631.9L818.2 1630.8L819.8 1629.7L821.4 1628.5L823 1627.4L824.6 1626.2L826.1 1625L827.6 1623.8L829.1 1622.6L830.5 1621.3L832 1620L833.5 1618.6L834.9 1617.3L836.3 1615.9L837.7 1614.5L839.1 1613L840.4 1611.5L841.8 1610L843.1 1608.5L844.3 1606.9L845.6 1605.3L846.8 1603.7L848 1602L849.2 1600.1L850.4 1598.1L851.5 1596.1L852.5 1593.9L853.5 1591.7L854.6 1589.5L855.6 1587.4L856.6 1585.3L857.6 1583.3L858.7 1581.3L859.8 1579.6L861 1578L861.9 1576.9L862.9 1575.9L863.9 1574.9L864.9 1573.9L866 1573.1L867 1572.2L868 1571.4L869.1 1570.7L870.1 1570L871.1 1569.3L872.1 1568.6L873 1568L873.7 1567.6L874.4 1567.2L875.1 1566.8L875.7 1566.4L876.4 1566.1L877.1 1565.8L877.7 1565.5L878.4 1565.2L879 1564.9L879.7 1564.6L880.3 1564.3L881 1564"/>
<path d="M528.4 1855.9L533.7 1851.3L539 1845.1L544.3 1849.5L549.6 1852.4L554.9 1851.9L560.2 1851.3L565.5 1854L570.8 1853.8L576.1 1847L581.4 1852.3L586.7 1848.8L592 1851.7L597.3 1854.7L602.6 1856.5L607.9 1853.1L613.2 1849.5L618.5 1849.9L623.8 1852.6L629.1 1848L634.4 1850.8L639.7 1852.8L645 1853.8L650.3 1850.1L655.6 1852.1L660.9 1855.1L666.2 1851.9L671.5 1845.9L676.8 1851.6L682.1 1851.8L687.4 1849.7L693 1851L693.5 1849.4L694 1847.9L694.5 1846.3L695 1844.8L695.6 1843.2L696.1 1841.7L696.6 1840.1L697.1 1838.6L697.6 1837L698.1 1835.4L698.5 1833.7L699 1832L699.5 1830L700 1828L700.4 1825.9L700.8 1823.8L701.2 1821.7L701.6 1819.6L702 1817.4L702.4 1815.2L702.9 1813L703.3 1810.7L703.8 1808.4L704.3 1806L705 1803L705.7 1799.9L706.4 1796.6L707.2 1793.3L708 1790L708.8 1786.6L709.7 1783.2L710.5 1779.8L711.4 1776.5L712.3 1773.2L713.1 1770.1L714 1767L714.8 1764.4L715.6 1761.8L716.4 1759.2L717.2 1756.7L718 1754.2L718.8 1751.7L719.7 1749.3L720.5 1746.9L721.3 1744.6L722.1 1742.3L722.8 1740.1L723.6 1738L724.2 1736.4L724.7 1734.9L725.3 1733.5L725.8 1732.1L726.3 1730.7L726.9 1729.3L727.4 1728L727.9 1726.6L728.4 1725.3L728.9 1723.9L729.5 1722.5L730 1721L730.6 1719.3L731.1 1717.6L731.6 1715.8L732.1 1713.9L732.6 1712.1L733.1 1710.3L733.6 1708.4L734.1 1706.6L734.7 1704.9L735.4 1703.2L736.2 1701.5L737 1700L737.9 1698.7L738.8 1697.4L739.8 1696.2L740.9 1695.1L742 1694L743.1 1692.9L744.3 1691.8L745.4 1690.7L746.6 1689.6L747.8 1688.5L748.9 1687.3L750 1686L751.2 1684.4L752.4 1682.7L753.6 1680.9L754.7 1679.1L755.8 1677.3L757 1675.4L758.1 1673.5L759.4 1671.7L760.6 1669.9L762 1668.2L763.4 1666.5L765 1665L766.8 1663.5L768.7 1662L770.7 1660.6L772.9 1659.3L775 1658.1L777.3 1656.9L779.5 1655.7L781.8 1654.5L784.1 1653.4L786.5 1652.3L788.7 1651.1L791 1650L793.3 1648.8L795.6 1647.7L798 1646.7L800.5 1645.6L802.9 1644.6L805.3 1643.6L807.7 1642.5L810.1 1641.5L812.4 1640.4L814.7 1639.3L816.9 1638.2L819 1637L820.8 1635.9L822.5 1634.9L824.2 1633.8L825.8 1632.7L827.4 1631.5L829 1630.4L830.6 1629.2L832.1 1628L833.6 1626.8L835.1 1625.6L836.5 1624.3L838 1623L839.5 1621.7L840.9 1620.3L842.3 1618.9L843.7 1617.5L845.1 1616.1L846.5 1614.6L847.8 1613.1L849.1 1611.6L850.4 1610L851.6 1608.4L852.8 1606.7L854 1605L855.2 1603L856.4 1600.7L857.5 1598.4L858.6 1596L859.6 1593.5L860.6 1591L861.5 1588.5L862.5 1586.1L863.6 1583.8L864.6 1581.7L865.8 1579.7L867 1578L867.9 1576.9L868.9 1575.8L869.9 1574.8L870.9 1573.9L871.9 1573L873 1572.2L874 1571.4L875 1570.6L876.1 1569.9L877.1 1569.3L878 1568.6L879 1568L879.7 1567.6L880.4 1567.2L881.1 1566.8L881.7 1566.4L882.4 1566.1L883.1 1565.8L883.7 1565.5L884.4 1565.2L885 1564.9L885.7 1564.6L886.3 1564.3L887 1564"/>
<path d="M528.4 1862.2L533.7 1854.6L539 1868.2L544.3 1864.1L549.6 1859.3L554.9 1863.2L560.9 1848"/>
<path d="M528.4 1862.7L533.7 1857.7L539 1848.7L544.3 1847.8L549.6 1872.1L554.9 1856.4L560.2 1860.5L565.5 1864.9L570.8 1860.2L576.8 1848"/>
<path d="M528.4 1868L533.7 1857.3L539 1864.8L544.3 1851.6L549.6 1865.6L554.9 1865.4L560.2 1863.8L565.5 1863.5L570.8 1863.3L576.1 1866.3L581.4 1866.8L586.7 1857.3L592.7 1848"/>
</g>
</g>
<path d="M145.2 658.88h5.3M1009 658.88h-5.3M145.2 654.06h5.3M1009 654.06h-5.3M145.2 650.13h5.3M1009 650.13h-5.3M145.2 646.8h5.3M1009 646.8h-5.3M145.2 643.92h5.3M1009 643.92h-5.3M145.2 641.37h5.3M1009 641.37h-5.3M145.2 639.1h9.5M1009 639.1h-9.5M145.2 624.14h5.3M1009 624.14h-5.3M145.2 615.39h5.3M1009 615.39h-5.3M145.2 609.18h5.3M1009 609.18h-5.3M145.2 604.36h5.3M1009 604.36h-5.3M145.2 600.43h5.3M1009 600.43h-5.3M145.2 597.1h5.3M1009 597.1h-5.3M145.2 594.22h5.3M1009 594.22h-5.3M145.2 591.67h5.3M1009 591.67h-5.3M145.2 589.4h5.3M1009 589.4h-5.3M145.2 574.44h5.3M1009 574.44h-5.3M145.2 565.69h5.3M1009 565.69h-5.3M145.2 559.48h5.3M1009 559.48h-5.3M145.2 554.66h5.3M1009 554.66h-5.3M145.2 550.73h5.3M1009 550.73h-5.3M145.2 547.4h5.3M1009 547.4h-5.3M145.2 544.52h5.3M1009 544.52h-5.3M145.2 541.97h5.3M1009 541.97h-5.3M145.2 539.7h9.5M1009 539.7h-9.5M145.2 524.74h5.3M1009 524.74h-5.3M145.2 515.99h5.3M1009 515.99h-5.3M145.2 509.78h5.3M1009 509.78h-5.3M145.2 504.96h5.3M1009 504.96h-5.3M145.2 501.03h5.3M1009 501.03h-5.3M145.2 497.7h5.3M1009 497.7h-5.3M145.2 494.82h5.3M1009 494.82h-5.3M145.2 492.27h5.3M1009 492.27h-5.3M145.2 490h5.3M1009 490h-5.3M145.2 475.04h5.3M1009 475.04h-5.3M145.2 466.29h5.3M1009 466.29h-5.3M145.2 460.08h5.3M1009 460.08h-5.3M145.2 455.26h5.3M1009 455.26h-5.3M145.2 451.33h5.3M1009 451.33h-5.3M145.2 448h5.3M1009 448h-5.3M145.2 445.12h5.3M1009 445.12h-5.3M145.2 442.57h5.3M1009 442.57h-5.3M145.2 440.3h9.5M1009 440.3h-9.5M145.2 425.34h5.3M1009 425.34h-5.3M145.2 416.59h5.3M1009 416.59h-5.3M145.2 410.38h5.3M1009 410.38h-5.3M145.2 405.56h5.3M1009 405.56h-5.3M145.2 401.63h5.3M1009 401.63h-5.3M145.2 398.3h5.3M1009 398.3h-5.3M145.2 395.42h5.3M1009 395.42h-5.3M145.2 392.87h5.3M1009 392.87h-5.3M145.2 390.6h5.3M1009 390.6h-5.3M145.2 375.64h5.3M1009 375.64h-5.3M145.2 366.89h5.3M1009 366.89h-5.3M145.2 360.68h5.3M1009 360.68h-5.3M145.2 355.86h5.3M1009 355.86h-5.3M145.2 351.93h5.3M1009 351.93h-5.3M145.2 348.6h5.3M1009 348.6h-5.3M145.2 345.72h5.3M1009 345.72h-5.3M145.2 343.17h5.3M1009 343.17h-5.3M145.2 340.9h9.5M1009 340.9h-9.5M145.2 325.94h5.3M1009 325.94h-5.3M145.2 317.19h5.3M1009 317.19h-5.3M145.2 310.98h5.3M1009 310.98h-5.3M145.2 306.16h5.3M1009 306.16h-5.3M145.2 302.23h5.3M1009 302.23h-5.3M145.2 298.9h5.3M1009 298.9h-5.3M145.2 296.02h5.3M1009 296.02h-5.3M145.2 293.47h5.3M1009 293.47h-5.3M145.2 291.2h5.3M1009 291.2h-5.3M145.2 276.24h5.3M1009 276.24h-5.3M145.2 267.49h5.3M1009 267.49h-5.3M145.2 261.28h5.3M1009 261.28h-5.3M145.2 256.46h5.3M1009 256.46h-5.3M145.2 252.53h5.3M1009 252.53h-5.3M145.2 249.2h5.3M1009 249.2h-5.3M145.2 246.32h5.3M1009 246.32h-5.3M145.2 243.77h5.3M1009 243.77h-5.3M145.2 241.5h9.5M1009 241.5h-9.5M145.2 226.54h5.3M1009 226.54h-5.3M145.2 217.79h5.3M1009 217.79h-5.3M145.2 211.58h5.3M1009 211.58h-5.3M145.2 206.76h5.3M1009 206.76h-5.3M145.2 202.83h5.3M1009 202.83h-5.3M145.2 199.5h5.3M1009 199.5h-5.3M145.2 196.62h5.3M1009 196.62h-5.3M145.2 194.07h5.3M1009 194.07h-5.3M145.2 191.8h5.3M1009 191.8h-5.3M145.2 176.84h5.3M1009 176.84h-5.3M145.2 168.09h5.3M1009 168.09h-5.3M145.2 161.88h5.3M1009 161.88h-5.3M145.2 157.06h5.3M1009 157.06h-5.3M145.2 153.13h5.3M1009 153.13h-5.3M145.2 149.8h5.3M1009 149.8h-5.3M145.2 146.92h5.3M1009 146.92h-5.3M145.2 144.37h5.3M1009 144.37h-5.3M145.2 142.1h9.5M1009 142.1h-9.5M145.2 127.14h5.3M1009 127.14h-5.3M145.2 118.39h5.3M1009 118.39h-5.3M145.2 112.18h5.3M1009 112.18h-5.3M145.2 107.36h5.3M1009 107.36h-5.3M145.2 103.43h5.3M1009 103.43h-5.3M145.2 100.1h5.3M1009 100.1h-5.3M145.2 97.22h5.3M1009 97.22h-5.3M145.2 94.67h5.3M1009 94.67h-5.3M145.2 92.4h5.3M1009 92.4h-5.3M145.2 77.44h5.3M1009 77.44h-5.3M145.2 68.69h5.3M1009 68.69h-5.3M145.2 62.48h5.3M1009 62.48h-5.3M145.2 57.66h5.3M1009 57.66h-5.3M145.2 53.73h5.3M1009 53.73h-5.3M145.2 50.4h5.3M1009 50.4h-5.3M145.2 47.52h5.3M1009 47.52h-5.3M145.2 44.97h5.3M1009 44.97h-5.3M145.2 42.7h9.5M1009 42.7h-9.5M145.2 27.74h5.3M1009 27.74h-5.3M145.2 18.99h5.3M1009 18.99h-5.3M145.2 12.78h5.3M1009 12.78h-5.3M145.2 7.96h5.3M1009 7.96h-5.3M150.9 659.1v-9.5M150.9 5.1v9.5M253.98 659.1v-9.5M253.98 5.1v9.5M357.06 659.1v-9.5M357.06 5.1v9.5M460.14 659.1v-9.5M460.14 5.1v9.5M563.22 659.1v-9.5M563.22 5.1v9.5M666.3 659.1v-9.5M666.3 5.1v9.5M769.38 659.1v-9.5M769.38 5.1v9.5M872.46 659.1v-9.5M872.46 5.1v9.5M975.54 659.1v-9.5M975.54 5.1v9.5" stroke="#111" stroke-width="1.5" fill="none"/>
<rect x="145.2" y="5.1" width="863.8" height="654" stroke="#111" stroke-width="1.9" fill="none"/>
<path d="M149 1435.13h5.3M1013.9 1435.13h-5.3M149 1430.32h5.3M1013.9 1430.32h-5.3M149 1426.38h5.3M1013.9 1426.38h-5.3M149 1423.06h5.3M1013.9 1423.06h-5.3M149 1420.17h5.3M1013.9 1420.17h-5.3M149 1417.63h5.3M1013.9 1417.63h-5.3M149 1415.36h9.5M1013.9 1415.36h-9.5M149 1400.4h5.3M1013.9 1400.4h-5.3M149 1391.66h5.3M1013.9 1391.66h-5.3M149 1385.45h5.3M1013.9 1385.45h-5.3M149 1380.64h5.3M1013.9 1380.64h-5.3M149 1376.7h5.3M1013.9 1376.7h-5.3M149 1373.38h5.3M1013.9 1373.38h-5.3M149 1370.49h5.3M1013.9 1370.49h-5.3M149 1367.95h5.3M1013.9 1367.95h-5.3M149 1365.68h5.3M1013.9 1365.68h-5.3M149 1350.72h5.3M1013.9 1350.72h-5.3M149 1341.98h5.3M1013.9 1341.98h-5.3M149 1335.77h5.3M1013.9 1335.77h-5.3M149 1330.96h5.3M1013.9 1330.96h-5.3M149 1327.02h5.3M1013.9 1327.02h-5.3M149 1323.7h5.3M1013.9 1323.7h-5.3M149 1320.81h5.3M1013.9 1320.81h-5.3M149 1318.27h5.3M1013.9 1318.27h-5.3M149 1316h9.5M1013.9 1316h-9.5M149 1301.04h5.3M1013.9 1301.04h-5.3M149 1292.3h5.3M1013.9 1292.3h-5.3M149 1286.09h5.3M1013.9 1286.09h-5.3M149 1281.28h5.3M1013.9 1281.28h-5.3M149 1277.34h5.3M1013.9 1277.34h-5.3M149 1274.02h5.3M1013.9 1274.02h-5.3M149 1271.13h5.3M1013.9 1271.13h-5.3M149 1268.59h5.3M1013.9 1268.59h-5.3M149 1266.32h5.3M1013.9 1266.32h-5.3M149 1251.36h5.3M1013.9 1251.36h-5.3M149 1242.62h5.3M1013.9 1242.62h-5.3M149 1236.41h5.3M1013.9 1236.41h-5.3M149 1231.6h5.3M1013.9 1231.6h-5.3M149 1227.66h5.3M1013.9 1227.66h-5.3M149 1224.34h5.3M1013.9 1224.34h-5.3M149 1221.45h5.3M1013.9 1221.45h-5.3M149 1218.91h5.3M1013.9 1218.91h-5.3M149 1216.64h9.5M1013.9 1216.64h-9.5M149 1201.68h5.3M1013.9 1201.68h-5.3M149 1192.94h5.3M1013.9 1192.94h-5.3M149 1186.73h5.3M1013.9 1186.73h-5.3M149 1181.92h5.3M1013.9 1181.92h-5.3M149 1177.98h5.3M1013.9 1177.98h-5.3M149 1174.66h5.3M1013.9 1174.66h-5.3M149 1171.77h5.3M1013.9 1171.77h-5.3M149 1169.23h5.3M1013.9 1169.23h-5.3M149 1166.96h5.3M1013.9 1166.96h-5.3M149 1152h5.3M1013.9 1152h-5.3M149 1143.26h5.3M1013.9 1143.26h-5.3M149 1137.05h5.3M1013.9 1137.05h-5.3M149 1132.24h5.3M1013.9 1132.24h-5.3M149 1128.3h5.3M1013.9 1128.3h-5.3M149 1124.98h5.3M1013.9 1124.98h-5.3M149 1122.09h5.3M1013.9 1122.09h-5.3M149 1119.55h5.3M1013.9 1119.55h-5.3M149 1117.28h9.5M1013.9 1117.28h-9.5M149 1102.32h5.3M1013.9 1102.32h-5.3M149 1093.58h5.3M1013.9 1093.58h-5.3M149 1087.37h5.3M1013.9 1087.37h-5.3M149 1082.56h5.3M1013.9 1082.56h-5.3M149 1078.62h5.3M1013.9 1078.62h-5.3M149 1075.3h5.3M1013.9 1075.3h-5.3M149 1072.41h5.3M1013.9 1072.41h-5.3M149 1069.87h5.3M1013.9 1069.87h-5.3M149 1067.6h5.3M1013.9 1067.6h-5.3M149 1052.64h5.3M1013.9 1052.64h-5.3M149 1043.9h5.3M1013.9 1043.9h-5.3M149 1037.69h5.3M1013.9 1037.69h-5.3M149 1032.88h5.3M1013.9 1032.88h-5.3M149 1028.94h5.3M1013.9 1028.94h-5.3M149 1025.62h5.3M1013.9 1025.62h-5.3M149 1022.73h5.3M1013.9 1022.73h-5.3M149 1020.19h5.3M1013.9 1020.19h-5.3M149 1017.92h9.5M1013.9 1017.92h-9.5M149 1002.96h5.3M1013.9 1002.96h-5.3M149 994.22h5.3M1013.9 994.22h-5.3M149 988.01h5.3M1013.9 988.01h-5.3M149 983.2h5.3M1013.9 983.2h-5.3M149 979.26h5.3M1013.9 979.26h-5.3M149 975.94h5.3M1013.9 975.94h-5.3M149 973.05h5.3M1013.9 973.05h-5.3M149 970.51h5.3M1013.9 970.51h-5.3M149 968.24h5.3M1013.9 968.24h-5.3M149 953.28h5.3M1013.9 953.28h-5.3M149 944.54h5.3M1013.9 944.54h-5.3M149 938.33h5.3M1013.9 938.33h-5.3M149 933.52h5.3M1013.9 933.52h-5.3M149 929.58h5.3M1013.9 929.58h-5.3M149 926.26h5.3M1013.9 926.26h-5.3M149 923.37h5.3M1013.9 923.37h-5.3M149 920.83h5.3M1013.9 920.83h-5.3M149 918.56h9.5M1013.9 918.56h-9.5M149 903.6h5.3M1013.9 903.6h-5.3M149 894.86h5.3M1013.9 894.86h-5.3M149 888.65h5.3M1013.9 888.65h-5.3M149 883.84h5.3M1013.9 883.84h-5.3M149 879.9h5.3M1013.9 879.9h-5.3M149 876.58h5.3M1013.9 876.58h-5.3M149 873.69h5.3M1013.9 873.69h-5.3M149 871.15h5.3M1013.9 871.15h-5.3M149 868.88h5.3M1013.9 868.88h-5.3M149 853.92h5.3M1013.9 853.92h-5.3M149 845.18h5.3M1013.9 845.18h-5.3M149 838.97h5.3M1013.9 838.97h-5.3M149 834.16h5.3M1013.9 834.16h-5.3M149 830.22h5.3M1013.9 830.22h-5.3M149 826.9h5.3M1013.9 826.9h-5.3M149 824.01h5.3M1013.9 824.01h-5.3M149 821.47h5.3M1013.9 821.47h-5.3M149 819.2h9.5M1013.9 819.2h-9.5M149 804.24h5.3M1013.9 804.24h-5.3M149 795.5h5.3M1013.9 795.5h-5.3M149 789.29h5.3M1013.9 789.29h-5.3M149 784.48h5.3M1013.9 784.48h-5.3M154.2 1435.7v-9.5M154.2 781.6v9.5M257.48 1435.7v-9.5M257.48 781.6v9.5M360.76 1435.7v-9.5M360.76 781.6v9.5M464.04 1435.7v-9.5M464.04 781.6v9.5M567.32 1435.7v-9.5M567.32 781.6v9.5M670.6 1435.7v-9.5M670.6 781.6v9.5M773.88 1435.7v-9.5M773.88 781.6v9.5M877.16 1435.7v-9.5M877.16 781.6v9.5M980.44 1435.7v-9.5M980.44 781.6v9.5" stroke="#111" stroke-width="1.5" fill="none"/>
<rect x="149" y="781.6" width="864.9" height="654.1" stroke="#111" stroke-width="1.9" fill="none"/>
<path d="M135 1880.64h2.3M521.5 1880.64h-2.3M135 1878.98h2.3M521.5 1878.98h-2.3M135 1877.55h2.3M521.5 1877.55h-2.3M135 1876.29h2.3M521.5 1876.29h-2.3M135 1875.16h4.3M521.5 1875.16h-4.3M135 1867.73h2.3M521.5 1867.73h-2.3M135 1863.38h2.3M521.5 1863.38h-2.3M135 1860.3h2.3M521.5 1860.3h-2.3M135 1857.91h2.3M521.5 1857.91h-2.3M135 1855.96h2.3M521.5 1855.96h-2.3M135 1854.3h2.3M521.5 1854.3h-2.3M135 1852.87h2.3M521.5 1852.87h-2.3M135 1851.61h2.3M521.5 1851.61h-2.3M135 1850.48h2.3M521.5 1850.48h-2.3M135 1843.05h2.3M521.5 1843.05h-2.3M135 1838.7h2.3M521.5 1838.7h-2.3M135 1835.62h2.3M521.5 1835.62h-2.3M135 1833.23h2.3M521.5 1833.23h-2.3M135 1831.28h2.3M521.5 1831.28h-2.3M135 1829.62h2.3M521.5 1829.62h-2.3M135 1828.19h2.3M521.5 1828.19h-2.3M135 1826.93h2.3M521.5 1826.93h-2.3M135 1825.8h4.3M521.5 1825.8h-4.3M135 1818.37h2.3M521.5 1818.37h-2.3M135 1814.02h2.3M521.5 1814.02h-2.3M135 1810.94h2.3M521.5 1810.94h-2.3M135 1808.55h2.3M521.5 1808.55h-2.3M135 1806.6h2.3M521.5 1806.6h-2.3M135 1804.94h2.3M521.5 1804.94h-2.3M135 1803.51h2.3M521.5 1803.51h-2.3M135 1802.25h2.3M521.5 1802.25h-2.3M135 1801.12h2.3M521.5 1801.12h-2.3M135 1793.69h2.3M521.5 1793.69h-2.3M135 1789.34h2.3M521.5 1789.34h-2.3M135 1786.26h2.3M521.5 1786.26h-2.3M135 1783.87h2.3M521.5 1783.87h-2.3M135 1781.92h2.3M521.5 1781.92h-2.3M135 1780.26h2.3M521.5 1780.26h-2.3M135 1778.83h2.3M521.5 1778.83h-2.3M135 1777.57h2.3M521.5 1777.57h-2.3M135 1776.44h4.3M521.5 1776.44h-4.3M135 1769.01h2.3M521.5 1769.01h-2.3M135 1764.66h2.3M521.5 1764.66h-2.3M135 1761.58h2.3M521.5 1761.58h-2.3M135 1759.19h2.3M521.5 1759.19h-2.3M135 1757.24h2.3M521.5 1757.24h-2.3M135 1755.58h2.3M521.5 1755.58h-2.3M135 1754.15h2.3M521.5 1754.15h-2.3M135 1752.89h2.3M521.5 1752.89h-2.3M135 1751.76h2.3M521.5 1751.76h-2.3M135 1744.33h2.3M521.5 1744.33h-2.3M135 1739.98h2.3M521.5 1739.98h-2.3M135 1736.9h2.3M521.5 1736.9h-2.3M135 1734.51h2.3M521.5 1734.51h-2.3M135 1732.56h2.3M521.5 1732.56h-2.3M135 1730.9h2.3M521.5 1730.9h-2.3M135 1729.47h2.3M521.5 1729.47h-2.3M135 1728.21h2.3M521.5 1728.21h-2.3M135 1727.08h4.3M521.5 1727.08h-4.3M135 1719.65h2.3M521.5 1719.65h-2.3M135 1715.3h2.3M521.5 1715.3h-2.3M135 1712.22h2.3M521.5 1712.22h-2.3M135 1709.83h2.3M521.5 1709.83h-2.3M135 1707.88h2.3M521.5 1707.88h-2.3M135 1706.22h2.3M521.5 1706.22h-2.3M135 1704.79h2.3M521.5 1704.79h-2.3M135 1703.53h2.3M521.5 1703.53h-2.3M135 1702.4h2.3M521.5 1702.4h-2.3M135 1694.97h2.3M521.5 1694.97h-2.3M135 1690.62h2.3M521.5 1690.62h-2.3M135 1687.54h2.3M521.5 1687.54h-2.3M135 1685.15h2.3M521.5 1685.15h-2.3M135 1683.2h2.3M521.5 1683.2h-2.3M135 1681.54h2.3M521.5 1681.54h-2.3M135 1680.11h2.3M521.5 1680.11h-2.3M135 1678.85h2.3M521.5 1678.85h-2.3M135 1677.72h4.3M521.5 1677.72h-4.3M135 1670.29h2.3M521.5 1670.29h-2.3M135 1665.94h2.3M521.5 1665.94h-2.3M135 1662.86h2.3M521.5 1662.86h-2.3M135 1660.47h2.3M521.5 1660.47h-2.3M135 1658.52h2.3M521.5 1658.52h-2.3M135 1656.86h2.3M521.5 1656.86h-2.3M135 1655.43h2.3M521.5 1655.43h-2.3M135 1654.17h2.3M521.5 1654.17h-2.3M135 1653.04h2.3M521.5 1653.04h-2.3M135 1645.61h2.3M521.5 1645.61h-2.3M135 1641.26h2.3M521.5 1641.26h-2.3M135 1638.18h2.3M521.5 1638.18h-2.3M135 1635.79h2.3M521.5 1635.79h-2.3M135 1633.84h2.3M521.5 1633.84h-2.3M135 1632.18h2.3M521.5 1632.18h-2.3M135 1630.75h2.3M521.5 1630.75h-2.3M135 1629.49h2.3M521.5 1629.49h-2.3M135 1628.36h4.3M521.5 1628.36h-4.3M135 1620.93h2.3M521.5 1620.93h-2.3M135 1616.58h2.3M521.5 1616.58h-2.3M135 1613.5h2.3M521.5 1613.5h-2.3M135 1611.11h2.3M521.5 1611.11h-2.3M135 1609.16h2.3M521.5 1609.16h-2.3M135 1607.5h2.3M521.5 1607.5h-2.3M135 1606.07h2.3M521.5 1606.07h-2.3M135 1604.81h2.3M521.5 1604.81h-2.3M135 1603.68h2.3M521.5 1603.68h-2.3M135 1596.25h2.3M521.5 1596.25h-2.3M135 1591.9h2.3M521.5 1591.9h-2.3M135 1588.82h2.3M521.5 1588.82h-2.3M135 1586.43h2.3M521.5 1586.43h-2.3M135 1584.48h2.3M521.5 1584.48h-2.3M135 1582.82h2.3M521.5 1582.82h-2.3M135 1581.39h2.3M521.5 1581.39h-2.3M135 1580.13h2.3M521.5 1580.13h-2.3M135 1579h4.3M521.5 1579h-4.3M135 1571.57h2.3M521.5 1571.57h-2.3M135 1567.22h2.3M521.5 1567.22h-2.3M135 1564.14h2.3M521.5 1564.14h-2.3M135 1561.75h2.3M521.5 1561.75h-2.3M214.4 1882.2v-4.3M214.4 1560.5v4.3M347.85 1882.2v-4.3M347.85 1560.5v4.3M481.3 1882.2v-4.3M481.3 1560.5v4.3" stroke="#111" stroke-width="1.2" fill="none"/>
<rect x="135" y="1560.5" width="386.5" height="321.7" stroke="#111" stroke-width="1.6" fill="none"/>
<path d="M527.6 1880.64h2.3M913.6 1880.64h-2.3M527.6 1878.98h2.3M913.6 1878.98h-2.3M527.6 1877.55h2.3M913.6 1877.55h-2.3M527.6 1876.29h2.3M913.6 1876.29h-2.3M527.6 1875.16h4.3M913.6 1875.16h-4.3M527.6 1867.73h2.3M913.6 1867.73h-2.3M527.6 1863.38h2.3M913.6 1863.38h-2.3M527.6 1860.3h2.3M913.6 1860.3h-2.3M527.6 1857.91h2.3M913.6 1857.91h-2.3M527.6 1855.96h2.3M913.6 1855.96h-2.3M527.6 1854.3h2.3M913.6 1854.3h-2.3M527.6 1852.87h2.3M913.6 1852.87h-2.3M527.6 1851.61h2.3M913.6 1851.61h-2.3M527.6 1850.48h2.3M913.6 1850.48h-2.3M527.6 1843.05h2.3M913.6 1843.05h-2.3M527.6 1838.7h2.3M913.6 1838.7h-2.3M527.6 1835.62h2.3M913.6 1835.62h-2.3M527.6 1833.23h2.3M913.6 1833.23h-2.3M527.6 1831.28h2.3M913.6 1831.28h-2.3M527.6 1829.62h2.3M913.6 1829.62h-2.3M527.6 1828.19h2.3M913.6 1828.19h-2.3M527.6 1826.93h2.3M913.6 1826.93h-2.3M527.6 1825.8h4.3M913.6 1825.8h-4.3M527.6 1818.37h2.3M913.6 1818.37h-2.3M527.6 1814.02h2.3M913.6 1814.02h-2.3M527.6 1810.94h2.3M913.6 1810.94h-2.3M527.6 1808.55h2.3M913.6 1808.55h-2.3M527.6 1806.6h2.3M913.6 1806.6h-2.3M527.6 1804.94h2.3M913.6 1804.94h-2.3M527.6 1803.51h2.3M913.6 1803.51h-2.3M527.6 1802.25h2.3M913.6 1802.25h-2.3M527.6 1801.12h2.3M913.6 1801.12h-2.3M527.6 1793.69h2.3M913.6 1793.69h-2.3M527.6 1789.34h2.3M913.6 1789.34h-2.3M527.6 1786.26h2.3M913.6 1786.26h-2.3M527.6 1783.87h2.3M913.6 1783.87h-2.3M527.6 1781.92h2.3M913.6 1781.92h-2.3M527.6 1780.26h2.3M913.6 1780.26h-2.3M527.6 1778.83h2.3M913.6 1778.83h-2.3M527.6 1777.57h2.3M913.6 1777.57h-2.3M527.6 1776.44h4.3M913.6 1776.44h-4.3M527.6 1769.01h2.3M913.6 1769.01h-2.3M527.6 1764.66h2.3M913.6 1764.66h-2.3M527.6 1761.58h2.3M913.6 1761.58h-2.3M527.6 1759.19h2.3M913.6 1759.19h-2.3M527.6 1757.24h2.3M913.6 1757.24h-2.3M527.6 1755.58h2.3M913.6 1755.58h-2.3M527.6 1754.15h2.3M913.6 1754.15h-2.3M527.6 1752.89h2.3M913.6 1752.89h-2.3M527.6 1751.76h2.3M913.6 1751.76h-2.3M527.6 1744.33h2.3M913.6 1744.33h-2.3M527.6 1739.98h2.3M913.6 1739.98h-2.3M527.6 1736.9h2.3M913.6 1736.9h-2.3M527.6 1734.51h2.3M913.6 1734.51h-2.3M527.6 1732.56h2.3M913.6 1732.56h-2.3M527.6 1730.9h2.3M913.6 1730.9h-2.3M527.6 1729.47h2.3M913.6 1729.47h-2.3M527.6 1728.21h2.3M913.6 1728.21h-2.3M527.6 1727.08h4.3M913.6 1727.08h-4.3M527.6 1719.65h2.3M913.6 1719.65h-2.3M527.6 1715.3h2.3M913.6 1715.3h-2.3M527.6 1712.22h2.3M913.6 1712.22h-2.3M527.6 1709.83h2.3M913.6 1709.83h-2.3M527.6 1707.88h2.3M913.6 1707.88h-2.3M527.6 1706.22h2.3M913.6 1706.22h-2.3M527.6 1704.79h2.3M913.6 1704.79h-2.3M527.6 1703.53h2.3M913.6 1703.53h-2.3M527.6 1702.4h2.3M913.6 1702.4h-2.3M527.6 1694.97h2.3M913.6 1694.97h-2.3M527.6 1690.62h2.3M913.6 1690.62h-2.3M527.6 1687.54h2.3M913.6 1687.54h-2.3M527.6 1685.15h2.3M913.6 1685.15h-2.3M527.6 1683.2h2.3M913.6 1683.2h-2.3M527.6 1681.54h2.3M913.6 1681.54h-2.3M527.6 1680.11h2.3M913.6 1680.11h-2.3M527.6 1678.85h2.3M913.6 1678.85h-2.3M527.6 1677.72h4.3M913.6 1677.72h-4.3M527.6 1670.29h2.3M913.6 1670.29h-2.3M527.6 1665.94h2.3M913.6 1665.94h-2.3M527.6 1662.86h2.3M913.6 1662.86h-2.3M527.6 1660.47h2.3M913.6 1660.47h-2.3M527.6 1658.52h2.3M913.6 1658.52h-2.3M527.6 1656.86h2.3M913.6 1656.86h-2.3M527.6 1655.43h2.3M913.6 1655.43h-2.3M527.6 1654.17h2.3M913.6 1654.17h-2.3M527.6 1653.04h2.3M913.6 1653.04h-2.3M527.6 1645.61h2.3M913.6 1645.61h-2.3M527.6 1641.26h2.3M913.6 1641.26h-2.3M527.6 1638.18h2.3M913.6 1638.18h-2.3M527.6 1635.79h2.3M913.6 1635.79h-2.3M527.6 1633.84h2.3M913.6 1633.84h-2.3M527.6 1632.18h2.3M913.6 1632.18h-2.3M527.6 1630.75h2.3M913.6 1630.75h-2.3M527.6 1629.49h2.3M913.6 1629.49h-2.3M527.6 1628.36h4.3M913.6 1628.36h-4.3M527.6 1620.93h2.3M913.6 1620.93h-2.3M527.6 1616.58h2.3M913.6 1616.58h-2.3M527.6 1613.5h2.3M913.6 1613.5h-2.3M527.6 1611.11h2.3M913.6 1611.11h-2.3M527.6 1609.16h2.3M913.6 1609.16h-2.3M527.6 1607.5h2.3M913.6 1607.5h-2.3M527.6 1606.07h2.3M913.6 1606.07h-2.3M527.6 1604.81h2.3M913.6 1604.81h-2.3M527.6 1603.68h2.3M913.6 1603.68h-2.3M527.6 1596.25h2.3M913.6 1596.25h-2.3M527.6 1591.9h2.3M913.6 1591.9h-2.3M527.6 1588.82h2.3M913.6 1588.82h-2.3M527.6 1586.43h2.3M913.6 1586.43h-2.3M527.6 1584.48h2.3M913.6 1584.48h-2.3M527.6 1582.82h2.3M913.6 1582.82h-2.3M527.6 1581.39h2.3M913.6 1581.39h-2.3M527.6 1580.13h2.3M913.6 1580.13h-2.3M527.6 1579h4.3M913.6 1579h-4.3M527.6 1571.57h2.3M913.6 1571.57h-2.3M527.6 1567.22h2.3M913.6 1567.22h-2.3M527.6 1564.14h2.3M913.6 1564.14h-2.3M527.6 1561.75h2.3M913.6 1561.75h-2.3M607.6 1882.2v-4.3M607.6 1560.5v4.3M741.05 1882.2v-4.3M741.05 1560.5v4.3M874.5 1882.2v-4.3M874.5 1560.5v4.3" stroke="#111" stroke-width="1.2" fill="none"/>
<rect x="527.6" y="1560.5" width="386" height="321.7" stroke="#111" stroke-width="1.6" fill="none"/>
<g fill="#111">
<g transform="translate(131.00 60.50) scale(1 1.04)"><path d="M763 0H583V1102Q518 1043 412.5 983T223 894V1061Q374 1129 487 1226T647 1409H763V0Z" transform="translate(-53.98 0.00) scale(0.01660 -0.01660)"/><text x="-35.07" y="0.00" font-size="34">0</text><text x="-14.46" y="-16.06" font-size="26">0</text></g>
<g transform="translate(131.00 159.90) scale(1 1.04)"><path d="M763 0H583V1102Q518 1043 412.5 983T223 894V1061Q374 1129 487 1226T647 1409H763V0Z" transform="translate(-62.64 0.00) scale(0.01660 -0.01660)"/><text x="-43.73" y="0.00" font-size="34">0</text><text x="-23.12" y="-16.06" font-size="26">-2</text></g>
<g transform="translate(131.00 259.30) scale(1 1.04)"><path d="M763 0H583V1102Q518 1043 412.5 983T223 894V1061Q374 1129 487 1226T647 1409H763V0Z" transform="translate(-62.64 0.00) scale(0.01660 -0.01660)"/><text x="-43.73" y="0.00" font-size="34">0</text><text x="-23.12" y="-16.06" font-size="26">-4</text></g>
<g transform="translate(131.00 358.70) scale(1 1.04)"><path d="M763 0H583V1102Q518 1043 412.5 983T223 894V1061Q374 1129 487 1226T647 1409H763V0Z" transform="translate(-62.64 0.00) scale(0.01660 -0.01660)"/><text x="-43.73" y="0.00" font-size="34">0</text><text x="-23.12" y="-16.06" font-size="26">-6</text></g>
<g transform="translate(131.00 458.10) scale(1 1.04)"><path d="M763 0H583V1102Q518 1043 412.5 983T223 894V1061Q374 1129 487 1226T647 1409H763V0Z" transform="translate(-62.64 0.00) scale(0.01660 -0.01660)"/><text x="-43.73" y="0.00" font-size="34">0</text><text x="-23.12" y="-16.06" font-size="26">-8</text></g>
<g transform="translate(131.00 557.50) scale(1 1.04)"><path d="M763 0H583V1102Q518 1043 412.5 983T223 894V1061Q374 1129 487 1226T647 1409H763V0Z" transform="translate(-77.10 0.00) scale(0.01660 -0.01660)"/><text x="-58.19" y="0.00" font-size="34">0</text><text x="-37.58" y="-16.06" font-size="26">-</text><path d="M763 0H583V1102Q518 1043 412.5 983T223 894V1061Q374 1129 487 1226T647 1409H763V0Z" transform="translate(-28.92 -16.06) scale(0.01270 -0.01270)"/><text x="-14.46" y="-16.06" font-size="26">0</text></g>
<g transform="translate(131.00 656.90) scale(1 1.04)"><path d="M763 0H583V1102Q518 1043 412.5 983T223 894V1061Q374 1129 487 1226T647 1409H763V0Z" transform="translate(-77.10 0.00) scale(0.01660 -0.01660)"/><text x="-58.19" y="0.00" font-size="34">0</text><text x="-37.58" y="-16.06" font-size="26">-</text><path d="M763 0H583V1102Q518 1043 412.5 983T223 894V1061Q374 1129 487 1226T647 1409H763V0Z" transform="translate(-28.92 -16.06) scale(0.01270 -0.01270)"/><text x="-14.46" y="-16.06" font-size="26">2</text></g>
<g transform="translate(134.40 837.00) scale(1 1.04)"><path d="M763 0H583V1102Q518 1043 412.5 983T223 894V1061Q374 1129 487 1226T647 1409H763V0Z" transform="translate(-53.98 0.00) scale(0.01660 -0.01660)"/><text x="-35.07" y="0.00" font-size="34">0</text><text x="-14.46" y="-16.06" font-size="26">0</text></g>
<g transform="translate(134.40 936.36) scale(1 1.04)"><path d="M763 0H583V1102Q518 1043 412.5 983T223 894V1061Q374 1129 487 1226T647 1409H763V0Z" transform="translate(-62.64 0.00) scale(0.01660 -0.01660)"/><text x="-43.73" y="0.00" font-size="34">0</text><text x="-23.12" y="-16.06" font-size="26">-2</text></g>
<g transform="translate(134.40 1035.72) scale(1 1.04)"><path d="M763 0H583V1102Q518 1043 412.5 983T223 894V1061Q374 1129 487 1226T647 1409H763V0Z" transform="translate(-62.64 0.00) scale(0.01660 -0.01660)"/><text x="-43.73" y="0.00" font-size="34">0</text><text x="-23.12" y="-16.06" font-size="26">-4</text></g>
<g transform="translate(134.40 1135.08) scale(1 1.04)"><path d="M763 0H583V1102Q518 1043 412.5 983T223 894V1061Q374 1129 487 1226T647 1409H763V0Z" transform="translate(-62.64 0.00) scale(0.01660 -0.01660)"/><text x="-43.73" y="0.00" font-size="34">0</text><text x="-23.12" y="-16.06" font-size="26">-6</text></g>
<g transform="translate(134.40 1234.44) scale(1 1.04)"><path d="M763 0H583V1102Q518 1043 412.5 983T223 894V1061Q374 1129 487 1226T647 1409H763V0Z" transform="translate(-62.64 0.00) scale(0.01660 -0.01660)"/><text x="-43.73" y="0.00" font-size="34">0</text><text x="-23.12" y="-16.06" font-size="26">-8</text></g>
<g transform="translate(134.40 1333.80) scale(1 1.04)"><path d="M763 0H583V1102Q518 1043 412.5 983T223 894V1061Q374 1129 487 1226T647 1409H763V0Z" transform="translate(-77.10 0.00) scale(0.01660 -0.01660)"/><text x="-58.19" y="0.00" font-size="34">0</text><text x="-37.58" y="-16.06" font-size="26">-</text><path d="M763 0H583V1102Q518 1043 412.5 983T223 894V1061Q374 1129 487 1226T647 1409H763V0Z" transform="translate(-28.92 -16.06) scale(0.01270 -0.01270)"/><text x="-14.46" y="-16.06" font-size="26">0</text></g>
<g transform="translate(134.40 1433.16) scale(1 1.04)"><path d="M763 0H583V1102Q518 1043 412.5 983T223 894V1061Q374 1129 487 1226T647 1409H763V0Z" transform="translate(-77.10 0.00) scale(0.01660 -0.01660)"/><text x="-58.19" y="0.00" font-size="34">0</text><text x="-37.58" y="-16.06" font-size="26">-</text><path d="M763 0H583V1102Q518 1043 412.5 983T223 894V1061Q374 1129 487 1226T647 1409H763V0Z" transform="translate(-28.92 -16.06) scale(0.01270 -0.01270)"/><text x="-14.46" y="-16.06" font-size="26">2</text></g>
<g transform="translate(150.90 707.60) scale(1 1.04)"><text x="-9.45" y="0.00" font-size="34">0</text></g>
<g transform="translate(253.98 707.60) scale(1 1.04)"><text x="-23.63" y="0.00" font-size="34">0.2</text></g>
<g transform="translate(357.06 707.60) scale(1 1.04)"><text x="-23.63" y="0.00" font-size="34">0.4</text></g>
<g transform="translate(460.14 707.60) scale(1 1.04)"><text x="-23.63" y="0.00" font-size="34">0.6</text></g>
<g transform="translate(563.22 707.60) scale(1 1.04)"><text x="-23.63" y="0.00" font-size="34">0.8</text></g>
<g transform="translate(666.30 707.60) scale(1 1.04)"><path d="M763 0H583V1102Q518 1043 412.5 983T223 894V1061Q374 1129 487 1226T647 1409H763V0Z" transform="translate(-9.45 0.00) scale(0.01660 -0.01660)"/></g>
<g transform="translate(769.38 707.60) scale(1 1.04)"><path d="M763 0H583V1102Q518 1043 412.5 983T223 894V1061Q374 1129 487 1226T647 1409H763V0Z" transform="translate(-23.63 0.00) scale(0.01660 -0.01660)"/><text x="-4.72" y="0.00" font-size="34">.2</text></g>
<g transform="translate(872.46 707.60) scale(1 1.04)"><path d="M763 0H583V1102Q518 1043 412.5 983T223 894V1061Q374 1129 487 1226T647 1409H763V0Z" transform="translate(-23.63 0.00) scale(0.01660 -0.01660)"/><text x="-4.72" y="0.00" font-size="34">.4</text></g>
<g transform="translate(975.54 707.60) scale(1 1.04)"><path d="M763 0H583V1102Q518 1043 412.5 983T223 894V1061Q374 1129 487 1226T647 1409H763V0Z" transform="translate(-23.63 0.00) scale(0.01660 -0.01660)"/><text x="-4.72" y="0.00" font-size="34">.6</text></g>
<g transform="translate(154.20 1484.00) scale(1 1.04)"><text x="-9.45" y="0.00" font-size="34">0</text></g>
<g transform="translate(257.48 1484.00) scale(1 1.04)"><text x="-23.63" y="0.00" font-size="34">0.2</text></g>
<g transform="translate(360.76 1484.00) scale(1 1.04)"><text x="-23.63" y="0.00" font-size="34">0.4</text></g>
<g transform="translate(464.04 1484.00) scale(1 1.04)"><text x="-23.63" y="0.00" font-size="34">0.6</text></g>
<g transform="translate(567.32 1484.00) scale(1 1.04)"><text x="-23.63" y="0.00" font-size="34">0.8</text></g>
<g transform="translate(670.60 1484.00) scale(1 1.04)"><path d="M763 0H583V1102Q518 1043 412.5 983T223 894V1061Q374 1129 487 1226T647 1409H763V0Z" transform="translate(-9.45 0.00) scale(0.01660 -0.01660)"/></g>
<g transform="translate(773.88 1484.00) scale(1 1.04)"><path d="M763 0H583V1102Q518 1043 412.5 983T223 894V1061Q374 1129 487 1226T647 1409H763V0Z" transform="translate(-23.63 0.00) scale(0.01660 -0.01660)"/><text x="-4.72" y="0.00" font-size="34">.2</text></g>
<g transform="translate(877.16 1484.00) scale(1 1.04)"><path d="M763 0H583V1102Q518 1043 412.5 983T223 894V1061Q374 1129 487 1226T647 1409H763V0Z" transform="translate(-23.63 0.00) scale(0.01660 -0.01660)"/><text x="-4.72" y="0.00" font-size="34">.4</text></g>
<g transform="translate(980.44 1484.00) scale(1 1.04)"><path d="M763 0H583V1102Q518 1043 412.5 983T223 894V1061Q374 1129 487 1226T647 1409H763V0Z" transform="translate(-23.63 0.00) scale(0.01660 -0.01660)"/><text x="-4.72" y="0.00" font-size="34">.6</text></g>
<g transform="translate(126.50 1594.00) scale(1 1.04)"><path d="M763 0H583V1102Q518 1043 412.5 983T223 894V1061Q374 1129 487 1226T647 1409H763V0Z" transform="translate(-45.41 0.00) scale(0.01367 -0.01367)"/><text x="-29.84" y="0.00" font-size="28">0</text><text x="-13.07" y="-12.98" font-size="23.5">0</text></g>
<g transform="translate(126.50 1643.36) scale(1 1.04)"><path d="M763 0H583V1102Q518 1043 412.5 983T223 894V1061Q374 1129 487 1226T647 1409H763V0Z" transform="translate(-53.24 0.00) scale(0.01367 -0.01367)"/><text x="-37.67" y="0.00" font-size="28">0</text><text x="-20.90" y="-12.98" font-size="23.5">-2</text></g>
<g transform="translate(126.50 1692.72) scale(1 1.04)"><path d="M763 0H583V1102Q518 1043 412.5 983T223 894V1061Q374 1129 487 1226T647 1409H763V0Z" transform="translate(-53.24 0.00) scale(0.01367 -0.01367)"/><text x="-37.67" y="0.00" font-size="28">0</text><text x="-20.90" y="-12.98" font-size="23.5">-4</text></g>
<g transform="translate(126.50 1742.08) scale(1 1.04)"><path d="M763 0H583V1102Q518 1043 412.5 983T223 894V1061Q374 1129 487 1226T647 1409H763V0Z" transform="translate(-53.24 0.00) scale(0.01367 -0.01367)"/><text x="-37.67" y="0.00" font-size="28">0</text><text x="-20.90" y="-12.98" font-size="23.5">-6</text></g>
<g transform="translate(126.50 1791.44) scale(1 1.04)"><path d="M763 0H583V1102Q518 1043 412.5 983T223 894V1061Q374 1129 487 1226T647 1409H763V0Z" transform="translate(-53.24 0.00) scale(0.01367 -0.01367)"/><text x="-37.67" y="0.00" font-size="28">0</text><text x="-20.90" y="-12.98" font-size="23.5">-8</text></g>
<g transform="translate(126.50 1840.80) scale(1 1.04)"><path d="M763 0H583V1102Q518 1043 412.5 983T223 894V1061Q374 1129 487 1226T647 1409H763V0Z" transform="translate(-66.31 0.00) scale(0.01367 -0.01367)"/><text x="-50.74" y="0.00" font-size="28">0</text><text x="-33.96" y="-12.98" font-size="23.5">-</text><path d="M763 0H583V1102Q518 1043 412.5 983T223 894V1061Q374 1129 487 1226T647 1409H763V0Z" transform="translate(-26.14 -12.98) scale(0.01147 -0.01147)"/><text x="-13.07" y="-12.98" font-size="23.5">0</text></g>
<g transform="translate(126.50 1890.16) scale(1 1.04)"><path d="M763 0H583V1102Q518 1043 412.5 983T223 894V1061Q374 1129 487 1226T647 1409H763V0Z" transform="translate(-66.31 0.00) scale(0.01367 -0.01367)"/><text x="-50.74" y="0.00" font-size="28">0</text><text x="-33.96" y="-12.98" font-size="23.5">-</text><path d="M763 0H583V1102Q518 1043 412.5 983T223 894V1061Q374 1129 487 1226T647 1409H763V0Z" transform="translate(-26.14 -12.98) scale(0.01147 -0.01147)"/><text x="-13.07" y="-12.98" font-size="23.5">2</text></g>
<g transform="translate(920.50 1594.00) scale(1 1.04)"><path d="M763 0H583V1102Q518 1043 412.5 983T223 894V1061Q374 1129 487 1226T647 1409H763V0Z" transform="translate(0.00 0.00) scale(0.01367 -0.01367)"/><text x="15.57" y="0.00" font-size="28">0</text><text x="32.34" y="-12.98" font-size="23.5">0</text></g>
<g transform="translate(920.50 1643.36) scale(1 1.04)"><path d="M763 0H583V1102Q518 1043 412.5 983T223 894V1061Q374 1129 487 1226T647 1409H763V0Z" transform="translate(0.00 0.00) scale(0.01367 -0.01367)"/><text x="15.57" y="0.00" font-size="28">0</text><text x="32.34" y="-12.98" font-size="23.5">-2</text></g>
<g transform="translate(920.50 1692.72) scale(1 1.04)"><path d="M763 0H583V1102Q518 1043 412.5 983T223 894V1061Q374 1129 487 1226T647 1409H763V0Z" transform="translate(0.00 0.00) scale(0.01367 -0.01367)"/><text x="15.57" y="0.00" font-size="28">0</text><text x="32.34" y="-12.98" font-size="23.5">-4</text></g>
<g transform="translate(920.50 1742.08) scale(1 1.04)"><path d="M763 0H583V1102Q518 1043 412.5 983T223 894V1061Q374 1129 487 1226T647 1409H763V0Z" transform="translate(0.00 0.00) scale(0.01367 -0.01367)"/><text x="15.57" y="0.00" font-size="28">0</text><text x="32.34" y="-12.98" font-size="23.5">-6</text></g>
<g transform="translate(920.50 1791.44) scale(1 1.04)"><path d="M763 0H583V1102Q518 1043 412.5 983T223 894V1061Q374 1129 487 1226T647 1409H763V0Z" transform="translate(0.00 0.00) scale(0.01367 -0.01367)"/><text x="15.57" y="0.00" font-size="28">0</text><text x="32.34" y="-12.98" font-size="23.5">-8</text></g>
<g transform="translate(920.50 1840.80) scale(1 1.04)"><path d="M763 0H583V1102Q518 1043 412.5 983T223 894V1061Q374 1129 487 1226T647 1409H763V0Z" transform="translate(0.00 0.00) scale(0.01367 -0.01367)"/><text x="15.57" y="0.00" font-size="28">0</text><text x="32.34" y="-12.98" font-size="23.5">-</text><path d="M763 0H583V1102Q518 1043 412.5 983T223 894V1061Q374 1129 487 1226T647 1409H763V0Z" transform="translate(40.17 -12.98) scale(0.01147 -0.01147)"/><text x="53.24" y="-12.98" font-size="23.5">0</text></g>
<g transform="translate(920.50 1890.16) scale(1 1.04)"><path d="M763 0H583V1102Q518 1043 412.5 983T223 894V1061Q374 1129 487 1226T647 1409H763V0Z" transform="translate(0.00 0.00) scale(0.01367 -0.01367)"/><text x="15.57" y="0.00" font-size="28">0</text><text x="32.34" y="-12.98" font-size="23.5">-</text><path d="M763 0H583V1102Q518 1043 412.5 983T223 894V1061Q374 1129 487 1226T647 1409H763V0Z" transform="translate(40.17 -12.98) scale(0.01147 -0.01147)"/><text x="53.24" y="-12.98" font-size="23.5">2</text></g>
<g transform="translate(214.40 1919.50) scale(1 1.04)"><text x="-19.46" y="0.00" font-size="28">0.5</text></g>
<g transform="translate(347.85 1919.50) scale(1 1.04)"><path d="M763 0H583V1102Q518 1043 412.5 983T223 894V1061Q374 1129 487 1226T647 1409H763V0Z" transform="translate(-7.79 0.00) scale(0.01367 -0.01367)"/></g>
<g transform="translate(481.30 1919.50) scale(1 1.04)"><path d="M763 0H583V1102Q518 1043 412.5 983T223 894V1061Q374 1129 487 1226T647 1409H763V0Z" transform="translate(-19.46 0.00) scale(0.01367 -0.01367)"/><text x="-3.89" y="0.00" font-size="28">.5</text></g>
<g transform="translate(607.60 1919.50) scale(1 1.04)"><text x="-19.46" y="0.00" font-size="28">0.5</text></g>
<g transform="translate(741.05 1919.50) scale(1 1.04)"><path d="M763 0H583V1102Q518 1043 412.5 983T223 894V1061Q374 1129 487 1226T647 1409H763V0Z" transform="translate(-7.79 0.00) scale(0.01367 -0.01367)"/></g>
<g transform="translate(874.50 1919.50) scale(1 1.04)"><path d="M763 0H583V1102Q518 1043 412.5 983T223 894V1061Q374 1129 487 1226T647 1409H763V0Z" transform="translate(-19.46 0.00) scale(0.01367 -0.01367)"/><text x="-3.89" y="0.00" font-size="28">.5</text></g>
</g>
<path d="M291.7 331.9L723.6 332.0" stroke="#1b68a6" stroke-width="1.4" fill="none"/>
<path d="M206.5 435.3L716.2 436.9" stroke="#1b68a6" stroke-width="1.4" fill="none"/>
<path d="M353.0 243.0L721.4 436.7" stroke="#cc5a2a" stroke-width="1.4" fill="none"/>
<path d="M288.4 334.2L651.6 526.1" stroke="#cc5a2a" stroke-width="1.4" fill="none"/>
<path d="M503.5 101.8L847.2 220.6" stroke="#000" stroke-width="1.5" fill="none"/><path d="M484.0 95.4L514.5 94.2L503.5 101.8L506.9 113.7Z" fill="#000"/>
<g transform="translate(182.00 58.50) scale(1 1.04)"><text x="0.00" y="0.00" font-size="33" font-weight="bold">(a)</text></g>
<g transform="translate(371.00 104.30) scale(1 1.04)"><text x="0.00" y="0.00" font-size="34">460&#160;K</text></g>
<g transform="translate(865.50 271.30) scale(1 1.04)"><text x="0.00" y="0.00" font-size="34">60&#160;K</text></g>
<g transform="translate(705.00 401.00) scale(1 1.04)" fill="#0072BD"><text x="0.00" y="0.00" font-size="34">fit&#160;range&#160;</text><path d="M763 0H583V1102Q518 1043 412.5 983T223 894V1061Q374 1129 487 1226T647 1409H763V0Z" transform="translate(132.30 0.00) scale(0.01660 -0.01660)"/></g>
<g transform="translate(675.50 516.50) scale(1 1.04)" fill="#D95319"><text x="0.00" y="0.00" font-size="34">fit&#160;range&#160;2</text></g>
<g transform="translate(577.50 757.00) scale(1 1.04)"><text x="-160.48" y="0.00" font-size="38">Forward&#160;Bias&#160;</text><text x="73.92" y="0.00" font-size="38" font-style="italic">V</text><text x="99.27" y="0.00" font-size="38">&#160;(V)</text></g>
<g transform="translate(44.70 545.00) rotate(-90) scale(1 1.04)"><text x="0.00" y="0.00" font-size="38">Current&#160;Density&#160;</text><text x="274.54" y="0.00" font-size="38" font-style="italic">J</text><text x="293.54" y="0.00" font-size="38">&#160;(A/cm</text><text x="403.30" y="-18.27" font-size="29">2</text><text x="419.43" y="0.00" font-size="38">)</text></g>
<path d="M269.4 1106.8L703.9 1107.6" stroke="#1b68a6" stroke-width="1.4" fill="none"/>
<path d="M178.4 1208.8L690.3 1213.0" stroke="#1b68a6" stroke-width="1.4" fill="none"/>
<path d="M340.1 993.9L697.6 1210.4" stroke="#cc5a2a" stroke-width="1.4" fill="none"/>
<path d="M268.4 1097.1L659.1 1326.0" stroke="#cc5a2a" stroke-width="1.4" fill="none"/>
<path d="M495.6 879.8L852.5 1002.9" stroke="#000" stroke-width="1.5" fill="none"/><path d="M476.3 873.1L506.9 872.3L495.6 879.8L499.1 891.4Z" fill="#000"/>
<g transform="translate(183.80 848.50) scale(1 1.04)"><text x="0.00" y="0.00" font-size="33" font-weight="bold">(b)</text></g>
<g transform="translate(361.50 877.40) scale(1 1.04)"><text x="0.00" y="0.00" font-size="34">460&#160;K</text></g>
<g transform="translate(581.80 1534.00) scale(1 1.04)"><text x="-160.48" y="0.00" font-size="38">Forward&#160;Bias&#160;</text><text x="73.92" y="0.00" font-size="38" font-style="italic">V</text><text x="99.27" y="0.00" font-size="38">&#160;(V)</text></g>
<g transform="translate(47.50 1323.80) rotate(-90) scale(1 1.04)"><text x="0.00" y="0.00" font-size="38">Current&#160;Density&#160;</text><text x="274.54" y="0.00" font-size="38" font-style="italic">J</text><text x="293.54" y="0.00" font-size="38">&#160;(A/cm</text><text x="403.30" y="-18.27" font-size="29">2</text><text x="419.43" y="0.00" font-size="38">)</text></g>
<g transform="translate(150.40 1603.10) scale(1 1.04)"><text x="0.00" y="0.00" font-size="33" font-weight="bold">(c)</text></g>
<g transform="translate(546.60 1603.60) scale(1 1.04)"><text x="0.00" y="0.00" font-size="33" font-weight="bold">(d)</text></g>
<g transform="translate(186.30 1665.50) scale(1 1.04)"><text x="0.00" y="0.00" font-size="34">300&#160;K</text></g>
<g transform="translate(369.80 1755.40) scale(1 1.04)"><path d="M763 0H583V1102Q518 1043 412.5 983T223 894V1061Q374 1129 487 1226T647 1409H763V0Z" transform="translate(0.00 0.00) scale(0.01660 -0.01660)"/><text x="18.91" y="0.00" font-size="34">00&#160;K</text></g>
<g transform="translate(539.20 1709.00) scale(1 1.04)"><text x="0.00" y="0.00" font-size="34">300&#160;K</text></g>
<g transform="translate(737.00 1771.80) scale(1 1.04)"><path d="M763 0H583V1102Q518 1043 412.5 983T223 894V1061Q374 1129 487 1226T647 1409H763V0Z" transform="translate(0.00 0.00) scale(0.01660 -0.01660)"/><text x="18.91" y="0.00" font-size="34">00&#160;K</text></g>
<g transform="translate(860.00 1035.00) scale(1 1.04)"><text x="0.00" y="0.00" font-size="34">60&#160;K</text></g>
<g transform="translate(303.60 1959.40) scale(1 1.04)"><text x="-135.14" y="0.00" font-size="32">Forward&#160;Bias&#160;</text><text x="62.25" y="0.00" font-size="32" font-style="italic">V</text><text x="83.59" y="0.00" font-size="32">&#160;(V)</text></g>
<g transform="translate(703.30 1959.40) scale(1 1.04)"><text x="-135.14" y="0.00" font-size="32">Forward&#160;Bias&#160;</text><text x="62.25" y="0.00" font-size="32" font-style="italic">V</text><text x="83.59" y="0.00" font-size="32">&#160;(V)</text></g>
<g transform="translate(48.00 1905.00) rotate(-90) scale(1 1.04)"><text x="0.00" y="0.00" font-size="32.5">Current&#160;Density&#160;</text><text x="234.80" y="0.00" font-size="32.5" font-style="italic">J</text><text x="251.05" y="0.00" font-size="32.5">&#160;(A/cm</text><text x="344.93" y="-12.50" font-size="24">2</text><text x="358.28" y="0.00" font-size="32.5">)</text></g>
<g transform="translate(1023.00 1907.00) rotate(-90) scale(1 1.04)"><text x="0.00" y="0.00" font-size="32.5">Current&#160;Density&#160;</text><text x="234.80" y="0.00" font-size="32.5" font-style="italic">J</text><text x="251.05" y="0.00" font-size="32.5">&#160;(A/cm</text><text x="344.93" y="-12.50" font-size="24">2</text><text x="358.28" y="0.00" font-size="32.5">)</text></g>
</svg></body></html>
